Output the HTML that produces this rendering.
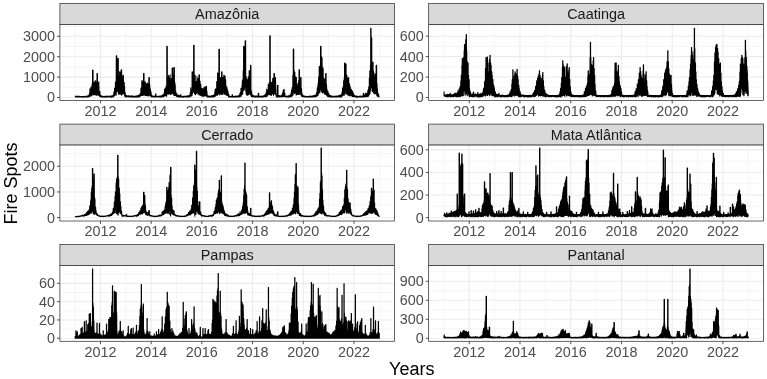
<!DOCTYPE html>
<html lang="pt"><head><meta charset="utf-8"><title>Fire Spots</title>
<style>
html,body{margin:0;padding:0;background:#fff}
body{width:767px;height:379px;overflow:hidden}
svg{display:block;font-family:"Liberation Sans",sans-serif}
</style></head><body>
<svg width="767" height="379" viewBox="0 0 767 379">
<rect width="767" height="379" fill="#fff"/>
<g>
<path d="M59.9 87.3H394.55M59.9 66.9H394.55M59.9 46.5H394.55M59.9 26.1H394.55M75.11 24.4V100.45M125.82 24.4V100.45M176.52 24.4V100.45M227.23 24.4V100.45M277.93 24.4V100.45M328.63 24.4V100.45M379.34 24.4V100.45" stroke="#ebebeb" stroke-width="0.55" fill="none"/>
<path d="M59.9 97.5H394.55M59.9 77.1H394.55M59.9 56.7H394.55M59.9 36.3H394.55M100.46 24.4V100.45M151.17 24.4V100.45M201.87 24.4V100.45M252.58 24.4V100.45M303.28 24.4V100.45M353.99 24.4V100.45" stroke="#ebebeb" stroke-width="1.05" fill="none"/>
<path d="M75.11 96.96l.07-.14 .07-.39 .07-.04 .07-.01 .07-.02 .07-.09 .07 .01 .07 0 .07 .18 .07 .54 .07-.72 .07 .38 .07-.23 .07-.14 .07 .1 .07 .69 .07-.7 .07 .12 .07-.17 .07 .09 .07 .42 .07 .23 .07-.54 .07 .19 .07 .07 .07-.37 .07 .01 .07 .19 .07-.29 .07 .66 .07-.57 .07 .57 .07-.55 .07 .64 .07-.59 .07 .42 .07-.35 .07-.22 .07 .2 .07 .08 .07-.06 .07-.21 .07 .31 .07 .26 .07-.54 .07 .69 .07-.65 .07 .05 .07-.1 .07 .11 .07 .21 .07 .16 .07-.25 .07 .11 .07-.04 .07-.08 .07-.13 .07-.07 .07 .04 .07-.04 .07 .16 .07 .44 .07-.59 .07 .68 .07-.5 .07-.18 .07 .05 .07 .27 .07-.16 .07-.12 .07-.02 .07 0 .07 .22 .07-.05 .07-.16 .07 0 .07 .43 .07-.37 .07 .53 .07 0 .07-.29 .07-.29 .07 .16 .07-.16 .07 .1 .07 .26 .07-.34 .07 .25 .07-.26 .07 .52 .07-.46 .07 .21 .07-.13 .07 .28 .07-.4 .07 .5 .07-.5 .07 .59 .07-.3 .07-.28 .05 0 .02 .07 .07 .59 .07-.43 .07 .34 .07-.38 .07-.15 .07-.02 .07-.04 .07 .06 .07 .14 .07-.06 .07 .54 .07-.58 .07-.07 .07-.05 .07 .1 .07-.04 .07 .59 .07-.66 .07 .61 .07-.36 .07-.26 .07 .15 .07 .22 .07 .05 .07-.43 .07 .04 .07 .34 .07-.1 .07 0 .07-.24 .07 .14 .07-.18 .07 .48 .07-.42 .07 .13 .07-.13 .07-.09 .07 .14 .07 .52 .07-.1 .07-.41 .07-.15 .07-.02 .07 .12 .07 .1 .07-.05 .07 .47 .07-.38 .07 .01 .07 .01 .07 .37 .07-.13 .07 .02 .07-.44 .07-.13 .07 .04 .07 .4 .07-.45 .07 .02 .07 .27 .07-.13 .07-.01 .07 .4 .07 .07 .07-.5 .07 .51 .07 .07 .07-.65 .07 .1 .07-.18 .07 .39 .07-.22 .07-.05 .07 .07 .07-.21 .07 .22 .07 .55 .07-.71 .07-.07 0 .54 .07-.32 .07-.2 .07 .33 .07-.29 .07-.03 .07 .63 .07-.64 .07 .58 .07-.72 .07 .4 .07-.91 .07 1.28 .07-1.41 .07 1.29 .07-1.37 .05-.09 .02 1.17 .07-.88 .07 1.04 .07-1.4 .07 1.18 .07-1.99 .07 1.57 .07-.5 .07 .75 .07-2.96 .07 2.72 .07-3.32 .07 3.62 .07-2 .07 1.62 .07-4 .04-3.23 .03 6.45 .07-3.74 .07 3.68 .07-4.51 .07 5.59 .07-2.64 .07 2.5 .07-2 .07 1.58 .07-3.1 .07 2.54 .07-5.56 .07 6.47 .07-4.12 .07 3.95 .07-5.33 .03-3.8 .04 9.37 .07-2.3 .07 .57 .07-.79 .07 .82 .07-2.27 .07 2.25 .07-4.71 .07 4.31 .07-2.35 .07 2.42 .07-4.85 .07 3.76 .07-2.95 .07 5.24 .07-8.8 .02-2.89 .05 10.98 .07-3.44 .07 3.26 .07-8.53 .07 7.23 .07-7.32 .01-15.59 .06 18.97 .07-8.01 .07 9.52 .07-13.46 .07 16.99 .07-12.21 .07 12.29 .02-24.09 .05 21.67 .07 2.18 .07-9.43 .07 10.33 .07-5.93 .07 2.59 .02-9.21 .05 6.23 .07 5.91 .07-8.42 .07 7.77 .07-7.05 .07 6.18 .07-8.38 .07 9.48 .07-5.97 .07 4.07 .07-6.35 .07 7.93 .06-11.74 .01 6.19 .07 4.42 .07-7.74 .07 9.87 .07-8.38 .07 7.81 .07-7.64 .07 5.5 .07-8.1 .07 8.48 .07-5.98 .07 7.97 .07-8.08 .01-5.54 .06 12.2 .07-2.27 .07 .5 .07-7.23 .07 8.7 .07-7.94 .07 5.88 .02-9.84 .05 6.33 .07 6.98 .07-8.82 .07 6.87 .07-4.93 .07 8.22 .07-10.68 .07 6.89 .07-3.21 .07 6.5 .07-7.75 .07 6.49 .04-11.33 .03 7.93 .07 4.59 .07-6.66 .07 4.17 .07-2.93 .07 4.17 .04-20.14 .03 5.31 .07 11.8 .07-10.98 .07 9.38 .07-6.82 .07 10.01 .07-16.62 .05-2.08 .02 18.84 .07-1.94 .07 2.24 .07-7.37 .07 9.4 .07-10.26 .04-2.04 .03 13.05 .07-6.27 .07 5.21 .07-7.32 .07 4.46 .07-4.56 .07 4.89 .07-2.28 .07 5.59 .07-7.2 .07 6.28 .07-7.45 .07 7.18 .02-12.03 .05 8.28 .07 4.88 .07-8.46 .07 8.67 .07-3.03 .07 3.53 .07-4.46 .07 4.04 .07-2.94 .07 2.12 .07-1.1 .07 2.87 .07-3.89 .07 3.54 .07-2.64 .07 2.36 .01-4.02 .06 3.58 .07 1.02 .07-2.42 .07 2.74 .07-.92 .07 .79 .07-1.07 .07 .7 .07-.17 .07 .5 .07-.63 .07 1.05 .07-.78 .07 .54 .07-.92 .06-.02 .01 1.38 .07-.61 .07 .24 .07-.37 .07 .41 .07-.54 .07 .12 .07-.23 .07 .96 .07-.45 .07 .41 .07-.31 .07-.23 .07-.1 .07 .4 .07-.36 .07 .72 .07-.91 .07 .84 .07-.38 .07 .23 .07-.37 .07 .06 .07 .05 .07 .03 .07-.26 .07 .4 .07-.33 .07 .78 .07-.4 .07-.33 .07 .3 .04-.26 .03 .32 .07 .15 .07 .06 .07-.54 .07 .21 .07-.05 .07-.18 .07 .24 .07 .28 .07-.53 .07 .34 .07-.25 .07 .46 .07-.33 .07 .03 .07-.27 .07 .01 .07-.01 .07-.01 .07-.01 .07 .59 .07-.04 .07-.21 .07-.08 .07 .44 .07-.72 .07 .54 .07-.41 .07-.05 .07-.1 .07 .41 .07-.42 .07 .6 .07-.6 .07-.01 .07 .17 .07 .61 .07-.62 .07-.17 .07 .12 .07 .31 .07-.32 .07 .73 .07-.62 .07-.17 .07 .12 .07 .32 .07-.41 .07-.12 .07 .25 .07 .12 .07-.36 .07 .6 .07-.23 .07-.21 .07 .1 .07 .47 .07-.77 .07 .18 .07 .18 .07 .23 .07-.25 .07-.25 .07 .44 .07 .24 .07-.41 .07 .17 .07-.15 .07 .41 .07-.81 .07 .63 .07-.65 .07 .37 .07-.04 .07 .15 .07-.35 .07 .32 .07 .09 .07-.44 .07-.06 .07 .1 .07 .2 .07 .17 .07-.55 .07 .51 .07-.1 .07-.03 .07-.1 .07 .32 .07 .01 .07-.26 .07-.3 .07 .63 .07-.38 .07-.01 .07-.05 .07 .08 .07-.2 .07 .78 .07-.58 .07 .49 .07-.67 .07 .04 .07 .04 .07 .16 .07-.31 .07 .16 .07 .01 .07 .75 .07-.57 .07 .03 .03-.59 .04 .36 .07 .17 .07-.27 .07-.07 .07-.07 .07 .8 .07-.5 .07 .69 .07-.88 .07 .39 .07-.75 .07 1.13 .07-1.03 .07 .78 .07-.97 .07 1.03 .07-.65 .07 .68 .07-.51 .07 .54 .07-.69 .07 .52 .07-1.07 .07 .88 .07-.39 .07 .66 .07-.32 .07-.01 .07-.86 .07 1.06 .07-.2 .07 .52 0-1.57 .07 .76 .07 .11 .07-1.42 .07 1.47 .07-.6 .07 .26 .07-1.89 .07 2.08 .07-3.62 .07 3.74 .07-3.7 .07 3.7 .07-3.37 .07 1.82 .07-3.5 .07 3.35 .07-1.44 .07 1.13 .07-3.38 0-2.77 .07 7.22 .07-3.64 .07 2.26 .07-2.18 .07 3.14 .07-6.35 .07 6.42 .07-5.55 .07 5.08 .07-7.27 .07 7.26 .07-5.42 .05-7.11 .02 9.72 .07-2.8 .07 3.32 .07-4.54 .07 5.59 .07-5.63 .07 4.64 .07-6.09 .07 8.2 .07-7.22 .07 8.03 .07-5.06 .07-34.49 0 28.89 .07-18.9 .07 17.64 .07-20.26 .07 17.65 .07-6.93 .07 13.75 .07-13.87 .01-17.97 .06 34.23 .07-16.18 .07 11.74 .07-12.25 .07 18.53 .07-14.33 0-16.64 .07 25.93 .07-20.73 .07 25.07 .07-24.68 .07 20.21 .07-6.77 .07 7.76 .07-10.18 .07 5.38 .01-24.21 .06 11.05 .07 19.14 .07-12.51 .07 14.83 .07-14.32 .07 9.71 .07-15.48 .02-12.42 .05 35.26 .07-11.6 .07 10.91 .07-3.74 .07 1.68 .07-10.81 .07 13.97 .07-7.62 .07 4.19 .03-14.51 .04 5.03 .07 9.75 .07-6.4 .07 9.82 .07-15.87 .07 12.87 .07-11.46 .07 9.42 .07-5.7 .03-11.89 .04 15.55 .07-8.62 .07 10.63 .07-7.44 .07 8.89 .07-12.32 .07 13.93 .04-20.62 .03 15.66 .07 5.44 .07-8.07 .07 4.37 .07-2.45 .07 3.29 .07-2.03 .07 4.37 .07-9.17 .05-5.87 .02 16.99 .07-6.77 .07 5.45 .07-10.75 .07 9.5 .07-10.33 .05-11.85 .02 20.18 .07-13.29 .07 8.88 .07-9.6 .07 12.33 .07-6.34 .07 8.91 .06-21.07 .01 11.32 .07 14.23 .07-9.18 .07 4.81 .07-1.35 .07 .64 .07-7.34 .07 7.56 .07-5.91 .06-7.02 .01 16.73 .07-12.37 .07 10.71 .07-9.65 .07 9.5 .07-5.2 .07 5.28 .07-9.56 .07 8.13 .07-15.79 0 5.28 .07 12.84 .07-12.41 .07 9.87 .07-3.74 .07 1.63 .07-8.31 .07 11.37 .01-16.53 .06 11.63 .07 6.15 .07-6.33 .07 5.32 .07-4.33 .07 5.95 .07-6.52 .07 5.75 .07-9.1 .07 10.58 .07-9.43 .07 8.53 .03-10.88 .04 6.03 .07 6.22 .07-4.97 .07 4.47 .07-7.75 .07 9.09 .07-4.36 .07 4.97 .07-2.26 .07 2.42 .07-2.63 .07 2.95 .07-4.26 .07 3.16 .07-.31 .07 1.01 .01-2.26 .06 1.62 .07 1.29 .07-.86 .07 .72 .07-.7 .07 .68 .07-.89 .07 .64 .07-.88 .07 .82 .07-.97 .07 1.11 .07-1.19 .07 1.4 .07-.53 .07-.04 0-.67 .07 .18 .07 1.1 .07-1.14 .07 .97 .07-.77 .07 .41 .07-.17 .07 .51 .07-.87 .07 .89 .07-.46 .07 .08 .07 .1 .07 .39 .07-.7 .07 .22 .07 .15 .07 .2 .07 .01 .07-.03 .07-.27 .07 .21 .07-.61 .07 .51 .07-.59 .07 .38 .07-.07 .07 .62 .07-.67 .07 .39 .07-.52 .07 .43 .07-.67 .07 1.12 .07-1.13 .07 1.21 .07-.78 .07 .33 .07-.04 .07-.22 .07 .03 .07 .42 .07-.13 .07-.07 .07-.48 .07 .57 .07-.04 .07-.31 .07 .46 .07-.5 .07-.03 .07 .65 .07-.33 .07 .48 .07-1.06 .07 .38 .07-.19 .07 .07 .07 .12 .07 .49 .07-.41 .07 .64 .07-.96 .07 .77 .07-.57 .07 0 .07-.26 .07 .37 .07-.07 .07 .34 .07-.61 .07 1.01 .07-1 .07 .57 .07-.03 .07 .35 .07-.89 .07 .43 .07-.28 .07 .66 .07-.47 .07 .53 .07-.12 .07-.52 .07-.21 .07 .96 .07-.28 .07 0 .07-.35 .07 .32 .07-.12 .07 .07 .07-.34 .07 .42 .07-.58 .07 .7 .07-.09 .07 .11 .07-.61 .07 .51 .07-.63 .07 .33 .07-.03 .07 .49 .07-.76 .07 .93 .07-.48 .07 .19 .07-.24 .07 .31 .07-.65 .07 .54 .07-.38 .07 .17 .07-.16 .07 .45 .07-.18 .07-.42 .07 .04 .07 .29 .07-.34 .07 .14 .07 .27 .07-.33 .07 .2 .07 .44 .05-.74 .02-.01 .07 .78 .07-.41 .07 .27 .07-.57 .07 .59 .07-.53 .07 .73 .07-.54 .07 .31 .07-.77 .07 .95 .07-.57 .07-.04 .07-.38 .07 .47 .07-.24 .07 .47 .07-.14 .07 .21 .07-.55 .07 .6 .07-1 .07 .92 .07-.37 .07 .19 .07-.3 .07 .69 .07-.73 .07 0 .07-.15 .07 .5 .07-.98 .07 1 .07-.45 .07 .85 .07-1.55 .07 1.6 .07-.98 .07 .55 .07-1.23 .07 1.33 .07-.46 .07-.09 .07-.95 .07 1.24 .07-.7 .07 .95 .01-1.62 .06 1.03 .07 .62 .07-1.55 .07 1.22 .07-.61 .07 .76 .07-1.1 .07 .86 .07-1.43 .07 1.74 .07-1.25 .07 1 .07-.51 .07 .86 .07-.84 .07 .8 0-2.04 .07 .42 .07 1.48 .07-1.68 .07 1.46 .07-2.68 .07 2.57 .07-2.8 .07 1.79 .07-.76 .07 .88 .07-2.19 .07 1.82 .07-2.06 .07 1.87 .07-2.61 .06-4.16 .01 7.17 .07-4.77 .07 4.41 .07-4.58 .07 4.7 .07-2.61 .07 2.29 .07-.6 .07 .77 .07-2.52 .07 3.17 .07-4.94 .07 1.73 .01-11.54 .06 6.18 .07 5.71 .07-3.95 .07 5.64 .07-8.37 .07 6.98 .07-4.7 .02-7.49 .05 12.14 .07-3.05 .07 5.61 .07-8.3 .07 6.3 .07-4.97 .07 6.03 .07-9.11 .07 6.68 .02-9.77 .05 5.3 .07 4.72 .07-2.68 .07 5.11 .07-7.37 .07 7.81 .07-6.52 .07 6.18 .07-8.37 .03-13.05 .04 17.07 .07-5.59 .07 7.1 .07-11.4 .07 12.49 .07-12.19 .07 9.45 .04-16.93 .03 14.88 .07 3 .07-5.51 .07 9.29 .07-7.07 .07 6.44 .07-9.54 .07 6.48 .07-4.97 .05-4.13 .02 10.72 .07-8.12 .07 9.79 .07-4.77 .07 2.63 .07-4.13 .07 6.94 .07-5.17 .07 4.66 .07-9.54 .01-3.46 .06 12.99 .07-8 .07 7.39 .07-2.53 .07 .89 .07-3.89 .07 6.95 .07-7.35 .07 4.59 .07-3.05 .07 4.16 .07-4.77 .07 3.17 .07-4.27 .07 5.23 .07-9.73 0 2.03 .07 9.88 .07-3.92 .07 2.11 .07-8.2 .07 9.62 .07-7.74 .07 7.88 .07-7 .07 5.1 .07-5.22 .07 5.47 .07-3.67 .07 3.44 .07-1.84 .07 4.21 .06-12.82 .01 7.84 .07 2.64 .07-7.19 .07 7.27 .07-7.12 .07 6.18 .07-5.37 .07 7.93 .07-3.25 .07 2.78 .07-3.01 .07 1.65 .07-5.26 .04-4.42 .03 12.29 .07-6.99 .07 4.13 .07-2.95 .07 3.69 .07-4.14 .03-12.24 .04 17.14 .07-10.46 .07 10.38 .07-8.15 .07 5.87 .07-2.51 .07 1.67 .04-13.94 .03 15.95 .07-.12 .07-5.1 .07 7.04 .07-6.95 .07 7.52 .04-11.03 .03 2.8 .07 6.91 .07-4.47 .07 4.45 .07-4.77 .07 5.87 .07-6 .07 5.8 .07-3.02 .07-3.36 0 6.97 .07-2.89 .07 2.94 .07-4.33 .07 3.9 .07-4.35 .07 3.91 .07-2.75 .07 3.14 .07-3.23 .07 3.99 .07-2.62 .07 2.34 .07-.64 .07 .93 .07-1.52 .07 1.51 .07-1.08 .07 1.87 .07-1.92 .07 1.6 .07-.63 .07 .72 .01-.86 .06 .4 .07 .09 .07-.09 .07 .08 .07-.2 .07 .6 .07-.6 .07 .59 .07-.5 .07 .62 .07-.27 .07 .37 .07-.8 .07 .58 .07-.44 .07 .19 .07-.4 .07 .59 .07-.61 .07 .48 .07 .09 .07-.04 .07-.09 .07 .12 .07-.31 .07 .17 .07-.23 .07 .63 .07-.4 .07 .41 .07-.45 .06-.26 .01 .19 .07-.17 .07 .29 .07-.27 .07 .15 .07-.14 .07 .77 .07-.73 .07 .62 .07-.49 .07 .08 .07-.22 .07 .61 .07-.59 .07-.1 .07 .08 .07 .64 .07-.65 .07 .73 .03-3.02 .04 1.09 .07 1.71 .07-1.65 .07 1.82 .07-2.47 .07 1.92 .07-1.32 .04-1.1 .03 2.81 .07-.27 .07 .49 .07-.59 .07 .09 .07-.01 .07 .02 .07 .14 .07-.24 .05 0 .02 0 .07 .35 .07-.37 .07 0 .07 .01 .07 0 .07 .06 .07 .21 .07-.11 .07-.22 .07 .02 .07 .38 .07-.35 .07 .53 .07-.37 .07 .05 .07 .04 .07-.12 .07-.24 .07 .45 .07-.33 .07 .01 .07-.02 .07-.06 .07-.03 .07 .25 .07-.06 .07-.27 .07 .27 .07-.3 .07 .04 .07 .4 .07-.35 .07 .15 .07-.18 .07 .64 .07-.61 .07 .02 .07-.17 .07 .5 .07-.21 .07 .48 .07-.25 .07-.5 .07 .16 .07 .49 .07-.63 .07 .41 .07 .05 .07 .27 .07-.75 .07 .95 .07-.63 .07-.32 .07 .19 .07-.14 .07-.15 .07 .55 .07-.11 .07 .51 .06-1.03 .01 .25 .07-.01 .07-.02 .07 .31 .07-.67 .07 .98 .07-1.06 .07 .56 .07-.25 .07 .7 .07-.93 .07 .77 .07-.57 .07 .6 .07-.14 .07 .35 .07-.51 .07 .43 .07-.98 .07 .45 .07-.89 .07 1.11 .07-1.29 .07 1.5 .07-1.6 .07 1.31 .07-.35 .07 .24 .07-.89 .07 .78 .07-.11 .07 .3 .03-1.57 .04 .46 .07 .96 .07-.71 .07 1.06 .07-1.19 .07 1.38 .07-2.32 .07 2.23 .07-2.2 .07 2.2 .07-2.53 .07 1.98 .07-1.42 .07 1.3 .07-2.87 .07 2.63 .07-3.36 .07 2.45 .07-1.75 .07 1.58 .07-4.57 .07 5.52 .05-6.61 .02 1.9 .07 3.22 .07-2.99 .07 3.63 .07-3.54 .07 4.73 .07-4.78 .07 4.75 .07-3.9 .07 3.39 .07-6.85 .07 6.9 .07-4.6 .07 2.94 .07-3.51 .07 4.71 .07-3.58 .07 3.49 .07-4.51 .05-3.84 .02 8.89 .07-6.21 .07 4.85 .07-.57 .07 .67 .07-1.57 .07 3.27 .07-3.9 .07 2.27 .07-1.07 .07 3.06 .07-4.57 .06-45.35 .01 40.71 .07-17.16 .07 19.5 .07-32.33 .07 30.7 .07-34.28 .07 34.11 .07-27.16 0-14.09 .07 47.49 .07-12.24 .07 11.17 .07-6.19 .07 6.97 .07-16.17 0 10.21 .07 6.24 .07-8.67 .07 5.94 .07-3.78 .07 5.5 .07-11.13 .07 9.17 .07-7.6 .07 6.68 .07-6.31 .07 9.49 .07-7.01 .04-10.9 .03 17.62 .07-5.45 .07 6.84 .07-12.15 .07 8.03 .07-9.81 .07 12.57 .07-7.83 .07 2.9 .07-5.07 .07 8.8 .07-13.25 .07 15.26 .07-16.49 .07 15.61 .07-5.23 .07 1.95 .07-2.47 .07 2.6 .07-11.21 .07 11.97 .07-8.05 .06-7.63 .01 16.98 .07-9.5 .07 10.68 .07-12.28 .07 10.37 .07-8.21 .07 11.59 .07-5.89 .07 4.78 .07-7.37 .07 7.9 .07-5.37 .07 5.07 .07-7.58 .07 6.86 .07-9.49 .04-4.77 .03 15.69 .07-7.99 .07 7.21 .07-11.19 .07 10.65 .07-6.57 .07 4.82 .07-9 .07 8.76 .07-8.49 .07 8.01 .07-7.93 .06-14.39 .01 25.21 .07-21.48 .07 16.13 .07-4 .07 8.74 .07-15.69 .07 15.75 .07-22.44 0-2.22 .07 25.26 .07-5.82 .07 1.5 .07-5.28 .07 8.22 .07-10.61 .07 6.99 .07-2.29 .07 6.58 .01-17.46 .06 8.01 .07 11.88 .07-11.47 .07 8.13 .07-2.04 .07 2.62 .07-5.3 .07 3.01 .07-10.96 .02-11.63 .05 24.35 .07-17.55 .07 12.17 .07-10.2 .07 16.81 .07-9.85 .07 8.15 .03-23.88 .04 20.51 .07 7.49 .07-9.18 .07 5.92 .07-4.75 .07 6.96 .02-12.33 .05 8.7 .07 4.78 .07-4.66 .07 1.81 .07-3.14 .07 5.78 .04-10.94 .03 4.33 .07 6.72 .07-4.2 .07 3.31 .07-3.08 .07 4.11 .07-4.7 .07 3.77 .07-2.33 .07 2.65 .07-1.35 .07 2.12 .07-2.66 .07 2.21 .07-1.92 .07 2.94 .07-1.68 .07 1.3 .07-1.4 .07 1.28 .07-1.23 .07 1.76 .07-1.11 .07 1.34 .07-1.03 .07-1.73 0 2.57 .07-.95 .07 .82 .07-.71 .07 .91 .07-.69 .07 .95 .07-1.5 .07 1.44 .07-1.06 .07 .81 .07-.52 .07 .5 .07-.67 .07 .84 .07-1.24 .07 1.74 .07-1.8 .07 1.51 .07-1.4 .07 1.21 .07-.49 .07 .65 .01-1.15 .06 .7 .07 .56 .07-1.19 .07 .94 .07-.84 .07 .49 .07 .03 .07 .47 .07-.91 .07 1.23 .07-.88 .07 .69 .07-.69 .07 .29 .07-.6 .07 1.02 .07-1.16 .07 .51 .07-.12 .07 .41 .07-.4 .07 .18 .07-.15 .07 .24 .07 .23 .07-.13 .07-.07 .07 .67 .02-2.4 .05 1.66 .07 .36 .07-.76 .07 .63 .07-.71 .07 .5 .07-.26 .03-1.42 .04 1.77 .07 .14 .07 .14 .07-.23 .07-.05 .07 .25 .07 .34 .07-.33 .07-.2 .07 .31 .07-.37 .07 .17 .04-.17 .03 0 .07 .42 .07-.14 .07-.3 .07 .03 .07 .02 .07 .09 .07-.16 .07-.01 .07 .11 .07 0 .07 .16 .07-.29 .07 .33 .07 .38 .07-.66 .07-.07 .07 .47 .07-.48 .07 .21 .07-.04 .07 .02 .07 .05 .07 .18 .07 .31 .07-.56 .07 .19 .07-.23 .07-.14 .07-.03 .07 .24 .07 .35 .07-.46 .07-.01 .07 .24 .07 .21 .07-.53 .07 .22 .07-.33 .07 .25 .07 .15 .07-.39 .07-.04 .07 .03 .07 .24 .07-.04 .07-.15 .07-.1 .07 .27 .07-.1 .07 .26 .07-.04 .07-.02 .07-.22 .07-.13 .07 .05 .07 0 .07 .3 .07 .46 .07-.75 .07 .3 .07-.2 .07-.2 .07 .48 .07 .23 .07-.31 .07-.2 .07-.08 .07-.03 .07-.18 .07 .43 .07 .29 .07 .08 .07-.74 .07 .2 .07-.04 .07 .77 .07-.62 .07 .27 .05-.71 .02 .49 .07-.05 .07-.46 .07 .68 .07-.6 .07 .4 .07-.45 .07 .41 .07-.36 .07 .56 .07-.85 .07 .41 .07 .15 .07 .51 .07-1.09 .07 1.04 .07-.62 .07 .38 .07-.37 .07 .75 .07-1.26 .07 .84 .07-.9 .07 1.18 .07-1 .07 .68 .07-.12 .07 .04 .07-.98 .07 1.26 .07-.41 .07 .24 .03-1.48 .04 1.06 .07 .1 .07-.21 .07 .46 .07-1.9 .07 2.29 .07-2.97 .07 2.27 .07-1.84 .07 1.55 .07-4.46 .07 4.66 .07-2.53 .07 2.15 .07-3.49 .07 3.32 .02-7.79 .05 5.67 .07 .58 .07-1.01 .07 1.64 .07-4.03 .07 3.51 .07-3.3 .07 3.43 .07-4.36 .07 5.84 .07-2.95 .07 3.16 .07-5.29 .07 5.05 .07-5.29 .07 3.99 .07-2.56 .07 4.02 .06-23.95 .01 6.09 .07 10.81 .07-10.49 .07 12.89 .07-10.53 .07 13.2 .07-15.18 .07-6.79 0 20.74 .07-7.12 .07 7.1 .07-5.8 .07 3.29 .07-8.6 .07 7.52 .07-6.72 .07 6.53 .07-10.97 .01-3.76 .06 16.57 .07-4.69 .07 4.26 .07-7.23 .07 9.11 .07-28.79 0-18.04 .07 42.59 .07-21.17 .07 14.83 .07-27.29 .07 34.64 .07-10.25 .07 9.79 .01-43.14 .06 36.63 .07 9.55 .07-3.05 .07 3.64 .07-4.44 .07 6.06 .01-18.47 .06 9.22 .07 4.99 .07-10.05 .07 13.1 .07-5.24 .07 6.32 .07-4.5 .07 2.61 .07-8.85 .04-7.49 .03 14.58 .07-6.42 .07 11.17 .07-10.57 .07 7.78 .07-6.74 .07 9.2 .07-4.55 .07 2.89 .07-8.53 .07 7.12 .07-3.32 .07 2.76 .07-9.17 .07 11.61 .07-9.68 .07 9.96 .07-11.84 .07 9.38 .07-7.15 .07 9 .07-11.08 .07 9.94 .07-10.56 .07 11.78 .07-16.45 0 11.2 .07 5.27 .07-10.32 .07 10.2 .07-10.43 .07 8.03 .07-4.57 .07 6.46 .07-5.91 .07 3.25 .07-1.73 .07 2.9 .07-3.72 .07 4.88 .07-8.8 .07 7.38 .05-11.98 .02 8.26 .07 7.83 .07-6.85 .07 5.82 .07-10.72 .07 10.48 .07-4.63 .07 4.35 .07-3.65 .07 1.97 .07-5.67 .07 5.64 .07-6 0-10.6 .07 17.55 .07-8.68 .07 6.53 .07-2.85 .07 5.56 .07-13.21 .07 11.68 .01-16.58 .06 7.85 .07 12.47 .07-10.69 .07 10.69 .07-10.19 .07 7.93 .07-5.09 .07 4.41 .07-6.15 .02-4.65 .05 12.92 .07-7.37 .07 4.97 .07-7 .07 9.04 .07-3.75 .07 5.19 .07-7.91 .07 4.53 .05-7.56 .02 3.51 .07 5.37 .07-6.9 .07 9.16 .07-7.88 .07 7.39 .07-5.84 .07 5.33 .07-2.35 .07 2.21 .07-4.24 .07 5.51 .07-3.7 .07 3.52 .07-6.62 .07 7.06 .04-7.47 .03 .77 .07 5.74 .07-3.62 .07 3.83 .07-2.02 .07 2.04 .07-1.73 .07 .82 .07-2.27 .07 2.61 .07-3.62 .07 3.85 .07-1.61 .07 3.07 .07-5.43 .07 4.08 .03-6.47 .04 4.45 .07 1.75 .07-2.19 .07 3.85 .07-5.63 .07 5.25 .07-3 .07 3.23 .07-3.01 .07 2.09 .07-5 .07 5.22 .07-5.61 .07 5.88 .07-2.01 .07 .92 .02-7.96 .05 5.72 .07 2.57 .07-4.93 .07 2.87 .07-3.56 .07 6.18 .07-5.45 .07 3.52 .07-2.64 .07 3.74 .07-1.7 .07 2.08 .07-3.25 .07 4.16 .07-5.52 .07 4.29 .01-7.42 .06 2.33 .07 5.9 .07-5.75 .07 4.86 .07-2.67 .07 4 .07-7.29 .07 5.41 .07-5.52 .07 6.14 .07-3.08 .07 2.78 .02-8.22 .05 3.11 .07 4.32 .07-1.87 .07 3.09 .07-6.23 .07 6.63 .07-6.39 .03-2.66 .04 9.42 .07-1.63 .07 1.43 .07-1.29 .07 1.25 .07-1.2 .03-3.1 .04 5.34 .07-2.04 .07 1.92 .07-1.75 .07 1.99 .07-.57 .05-.46 .02 1.3 .07-.73 .07 .61 .07-.66 .07 .42 .07-.15 .07 .49 .07-.75 .07 .7 .07-.63 .07 .42 .07-.36 .07 .69 .07-.38 .07 .28 .07-.85 .07 1 .07-.62 .07-.05 .07-.25 .07 .97 .07-.82 .07 .7 .07-.79 .07 .17 .07-.13 .07 .34 .07-.13 .07-.07 .07-.09 .07 .69 .07-.48 .03-.17 .04 .59 .07-.46 .07 .58 .07-.21 .07 .14 .07-.32 .07 .56 .07-.41 .07 .14 .07-.6 .07 .65 .07-.52 .07 .24 .07-.49 .07 .49 .07-.2 .07 .25 .07-.39 .07 .6 .07-.68 .07 .12 .07-.31 .07 .81 .07-.74 .07 .12 .07 .03 .07 .61 .07-.87 .07 .21 .07-.18 .07 .32 .07 .01 .07 .57 .07-1.07 .07 .86 .07-.87 .07 1.08 .07-.68 .07 .74 .07-.96 .07 .45 .04-.74 .03 .81 .07-.25 .07-.07 .07 .45 .07-1.02 .07 .97 .07-.2 .07 .17 .07-.45 .07 .44 .07-1.02 .07 .65 .07-.45 .07 .68 .07-1.23 .07 1.4 .07-1.4 .07 1.73 .07-.98 .07 .82 .07-1.46 .07 1.55 .05-2.03 .02 .88 .07 .75 .07-.71 .07 .84 .07-1.97 .07 1.98 .07-1.53 .07 1.39 .07-2.26 .07 2.25 .07-4.13 .07 3.74 .07-4.77 .07 3.4 .07-3.62 .07 4.91 .04-6.71 .03 3.2 .07 3.21 .07-6.69 .07 6.5 .07-6.65 .07 5.38 .07-3.57 .07 5.38 .07-3.73 .07 2.43 .07-3.3 .07 3.94 .07-3.01 .07 .96 .07-2.48 .07 2.29 .07-2.32 .07 1.94 .07-4.09 .07 5.71 .07-4.47 .07 5.08 .05-13.47 .02 5.97 .07 3.76 .07-3.31 .07 2.88 .07-5.53 .07 7.34 .07-10.59 .07 8.8 .07-5.19 .07 9.64 .07-6.28 .07 6.15 .07-22.17 0 11.04 .07 5.48 .07-11.62 .07 11.39 .07-.07 .07 1.66 .07-9.76 .07 9.61 .01-17.73 .06 11.87 .07 6.7 .07-11.03 .07 11.61 .07-7.92 .07 5.24 0-13.15 .07 4.92 .07 12.8 .07-10.29 .07 10.56 .07-9.61 .07-35.42 0 30.82 .07-17.02 .07 22.56 .07-30.47 .07 27.5 .07-10.88 .07 15.08 .07-21.41 .01-16.18 .06 41.33 .07-.59 .07 3.17 .07-12.26 .07 10.76 .07-8.16 0-6.1 .07 17.52 .07-9.63 .07 8.13 .07-11.23 .07 7.84 .07-6.43 .07 9.81 .07-13.77 .07 11.83 .07-6.56 .07 6.28 .07-6.57 .05-7.22 .02 15.54 .07-4.15 .07 4.89 .07-7.53 .07 7.69 .07-11.58 .07 9.55 .07-6.37 .07 7.41 .07-3.85 .07 4.96 .07-4.72 .07-17.38 0 18.1 .07-7.36 .07 10.95 .07-13.75 .07 14.71 .07-10.92 .07 10.53 .07-5.72 .01-16.54 .06 22.69 .07-8.64 .07 6.55 .07-10.3 .07 10.7 .07-5.4 .07 6.91 .07-10.87 .07 8.83 .07-2.76 .07-.04 .07-7.08 .03-5.05 .04 15.12 .07-10.27 .07 7.45 .07-2.94 .07 3.15 .07-7.08 .07 7.27 .07-11.23 .07 12.2 .07-3.45 .07 5.31 .07-8.19 .05-9.56 .02 17.68 .07-9.69 .07 10.79 .07-6.36 .07 6.28 .07-9.65 .07 5.03 .06-14.08 .01 9.12 .07 9.11 .07-12.51 .07 9.97 .07-6.63 .07 6.51 .07-7.4 .07 8.02 .07-8.63 .07 11.27 .07-14.84 .07 11.97 .07-9.43 0-5.42 .07 18.19 .07-10.71 .07 6.89 .07-8.81 .07 11.91 .07-9.18 .07 5.1 .07-10.04 .07 10.35 .07-1.46 .07 4.56 .07-7.67 .07 9.6 .07-4.25 .07 2.91 .07-1.95 .07 2.22 .07-6.31 .07 5.46 .07-5.57 .07 6.18 .07-3.27 .07 4.22 .07-7.75 .07 6.3 .07-4.46 .07 6.51 .07-7.14 .07 6.36 .07-3.86 .07 4.88 .07-5.62 .07 5.31 .07-2.93 .07 1.48 .07-1.22 .07 2.8 .07-2.73 .07 1.31 .07-3 .07 3.95 .07-2.66 .07 3.06 .07-.94 .07 1.72 .07-2.27 .07 3 .07-1.81 .07 1.94 .07-2.85 .07 2.03 .07-1.87 .07 1.99 .07-1.5 .07 1.65 .07-.75 .07 .66 .07-.55 .07 .92 .07-.65 .07 .3 .04 .19 .03 0 .07 0 .07 .42 .07-.42 .07 0 .07 .29 .07-.13 .07-.04 .07-.06 .07 .22 .07-.18 .07 .29 .07-.37 .07 .11 .07 .11 .07-.24 .07 .2 .07-.2 .07 0 .07 .06 .07 .04 .07 .48 .07-.58 .07 .05 .07-.05 .07 .6 .07-.34 .07-.22 .07 .2 .07-.24 .07 .06 .07 .04 .07 .3 .07-.29 .07 .21 .07-.32 .07 .48 .07-.18 .01-2.07 .06 .82 .07 1.32 .07-1.03 .07 .93 .07-.98 .07 1.05 .07-1.14 .02-.97 .05 1.88 .07 .19 .07 .26 .07-.42 .07-.1 .07 .44 .02-.48 .05 .55 .07-.18 .07 0 .07-.4 .07 .19 .07-.2 .07 .26 .07 .23 .07 .16 .07-.6 .07 .24 .07 .15 .07-.44 .07 .44 .07-.13 .07-.36 .07 .21 .07 .01 .07 .13 .07-.09 .07 .15 .07-.46 .07 .13 .07-.14 .07-.03 .07-.01 .07 .53 .07 .02 .07 .33 .07-.78 .07 .38 .07-.41 .07 .65 .07-.6 .07-.19 .07 .04 .07 .19 .07 .1 .07 .09 .07-.35 .07 .78 .07-.38 .07 .37 .07-.47 .07 .2 .07-.01 .07-.38 .07-.06 .07 .41 .07-.51 .07 .71 .07-.2 .07-.38 .07-.13 .07 .32 .07-.35 .07 .09 .07 .31 .07-.36 .07-.15 .03-.06 .04 .92 .07-.81 .07 .36 .07 .17 .07 .1 .07-.29 .07 .22 .07-.56 .07 .42 .07-.4 .07 .55 .07-.47 .07 .17 .07-.26 .07 .65 .07-1.12 .07 .74 .07-.3 .07 .71 .07-1.35 .07 1.37 .07-.42 .07 .51 .07-1.06 .07 .58 .07-1.03 .07 .78 .07-.06 .07 .56 .07-1.39 .07 1.51 .07-1.04 .01-.85 .06 1.56 .07-.52 .07 .29 .07-1.94 .07 1.91 .07-2.56 .07 1.92 .07-2.53 .07 3.56 .07-3.5 .07 2.85 .07-3.01 .07 2.47 .07-2.35 .07 2.21 .07-3.22 .07 2.82 .07-2.09 .07 1.86 .07-2.38 .07 3.72 .07-3.65 .02-4.2 .05 6.58 .07-.94 .07 2.34 .07-6.59 .07 4.15 .07-4.06 .07 3.12 .07-4.49 .07 6.71 .07-6.14 .07 3.68 .07-.91 .07 1.94 .07-4.09 .07 2.26 .07-6.5 .07 8.82 .07-6.27 .07 6.2 .02-13.24 .05 5.24 .07 6.37 .07-5.64 .07 4.45 .07-8.21 .07 11.29 .07-9.35 .07 4.52 .07-10.33 .07 11.73 .07-9.23 .07 8.49 .06-19.3 .01 10.12 .07 9.8 .07-4.95 .07 3.71 .07-13.72 .07 12.77 .06-42.11 .01 6.75 .07 35.47 .07-25.74 .07 22.01 .07-34.8 .07 27.55 .07-18.82 .07-12.42 0 41.8 .07-29 .07 26.53 .07-16.2 .07 20.52 .07-25.48 .06-11.52 .01 28.34 .07-5.76 .07 8.82 .07-25.54 .07 25.61 .07-11.78 .07 14.13 .07-18.82 .07 14.96 .07-42.15 0 24.3 .07 14.93 .07-25.24 .07 25.81 .07-17.63 .07 19.8 .07-13.85 .07 19.16 .01-47.28 .06 38.98 .07 11.09 .07-13.63 .07 14.8 .07-7.08 .07 7.58 .01-16.39 .06 5.41 .07 12.65 .07-7.24 .07 5.69 .07-13.09 .07 14.4 .03-16.16 .04 5.33 .07 9.13 .07-8.42 .07 9.9 .07-3.99 .07 5.46 .07-11 .07 7.11 .07-6.67 .07 7.41 .07-5.77 .07 5.99 .07-7.21 .01-5.49 .06 15.59 .07-9.5 .07 6.82 .07-5.64 .07 7.53 .07-6.42 .07 5.34 .07-6.36 .07 4.22 .07-5.4 .07 6.69 .07-6.35 .05-9.29 .02 17.89 .07-7.92 .07 7.96 .07-12.07 .07 12.06 .07-5.37 .07 2.53 .07-7.93 .07 6.41 .07-7.34 .07 9.93 .07-9.1 .07-13.15 0 19.34 .07-8.22 .07 9.9 .07-14.78 .07 16.44 .07-17.13 .07 12.66 .07-4.7 .01-13.51 .06 23.35 .07-9.7 .07 5.85 .07-8.84 .07 11.51 .07-12.35 .01-5.39 .06 18.33 .07-10.74 .07 11.44 .07-9.56 .07 7.87 .07-27.31 0 7.97 .07 15.07 .07-7.33 .07 6.13 .07-3.27 .07 5.64 .07-11.49 .01-12.72 .06 30.54 .07-4.13 .07 3.68 .06-5.74 .01 2.93 .07 3.42 .07-2.21 .07 2.67 .07-3.71 .07 2.72 .07-.74 .02-3.06 .05 4.35 .07-1.18 .07 1.01 .07-1.4 .07 1.71 .07-.71 .07 .37 .07-1.49 .07 2.56 .07-1.23 .07 .93 .07-.33 .07 .5 .07-1.17 .07 1.01 .07-.86 .01-.08 .06 .8 .07-.42 .07 .82 .07-.66 .07 .64 .07-.53 .07 .41 .07-.89 .07 .72 .07-.2 .07 .31 .07-.88 .07 1.19 .07-1.11 .07 .67 .07 .24 .07-.28 .07 .01 .07 .41 .07-.79 .07 .55 .07-.08 .07 .26 .07-.27 .07 .51 .07-.77 .07 .67 .07-.68 .07 .25 .07-.44 .07 .43 .07 .07 .07-.04 .07 .03 .07-.1 .07-.18 .07 .85 .07-.76 .07 .08 .07-.25 .07 .09 .07 .16 .07 .21 .07-.26 .07 .06 .07-.04 .07 .61 .07-.83 .07 .3 .07-.25 .07 .76 .07-.31 .07 .07 .07-.65 .07 .68 .07-.42 .07 .4 .07-.4 .07 .32 .07-.28 .07 .36 .07-.5 .07 .81 .07-.59 .07-.2 .07 .06 .07 .65 .07-.57 .07 .71 .07-.9 .07 .69 .07-.65 .06-.01 .01 0 .07 .35 .07 .36 .07-.37 .07 .37 .07-.37 .06-3.22 .01 3.47 .07-1.2 .07 .67 .07-.99 .07 1.17 .07-1.41 .07 1.32 .07-3.03 0 1.98 .07 1.62 .07-.56 .07 .62 .07-.7 .07 .27 .06-.35 .01 .05 .07 .65 .07-.47 .07 .28 .07-.53 .07 .79 .07-.56 .07 .11 .07-.01 .07 .22 .07-.47 .07 .24 .07-.22 .07 .51 .07-.37 .07 .21 .07-.07 .07 .34 .07-.5 .07 .37 .07-.25 .07-.12 .07-.1 .07 .58 .07-.57 .07-.01 .07-.09 .07 .12 .07-.09 .07 .85 .07-.85 .07 .27 .07-.11 .07-.19 .07 .27 .07-.31 .07-.1 .07 .11 .07 .09 .07 .7 .07-.88 .07 .42 .07-.23 .07 .43 .07-.29 .07 .46 .07-.67 .07 .62 .07-.6 .07 .25 .07-.15 .04-.35 .03 .58 .07-.11 .07-.29 .07 .49 .07-.28 .07-.17 .07 .65 .07-.6 .07 .55 .07-.53 .07 .14 .07-.27 .07 .45 .07-.66 .07 .71 .07-1.18 .07 1.11 .07-.4 .07 .46 .07-.84 .07 .95 .07-.75 .07 .75 .07-1.15 .07 .82 .07-.64 .07 .73 .07-.24 .07 .09 .07-.58 .07 .77 .07-.73 .02-1.03 .05 1.56 .07-.95 .07 .81 .07-1.8 .07 1.87 .07-1.22 .07 1.07 .07-2.15 .07 2.27 .07-1.51 .07 1.72 .07-2.19 .07 2.32 .07-3.1 .07 2.17 .07-2.14 .07 1.94 .07-1.34 .07 1.55 .07-3.74 .07 3.86 .07-3.4 .07 3.06 .07-3.69 .07 4.67 .04-7.54 .03 3.36 .07 2.53 .07-2.63 .07 3.58 .07-3.54 .07 4.1 .07-4.58 .07 3.1 .07-3.41 .07 2.71 .07-1.26 .07 1.45 .07-4.16 .07 5.09 .07-3.52 .07 2.21 .07-2.85 .07 3.72 .07-3.3 .07 2.94 .07-4.76 .07 4.39 .05-9.49 .02 6.98 .07 .4 .07-1.89 .07 2.96 .07-7.11 .07 5.56 .07-6.6 .07 9.07 .07-6.76 .07 6.76 .07-4.31 .07 5.12 .07-8.07 .03-3.92 .04 10.53 .07-4.99 .07 5.21 .07-3.79 .07 4.61 .07-6.6 .07 5.95 .07-6.56 .07 5.29 .03-56.71 .04 28.95 .07 7.91 .07-10.1 .07 9.6 .07-25.47 .07 28.16 .07-9.31 .04-29.74 .03 57.35 .07-4.67 .07 6.31 .07-8.94 .07 9.16 .07-8.95 .04-4.16 .03 13.24 .07-9.47 .07 6.78 .07-7.1 .07 6.61 .07-7.3 .06-2.43 .01 10.04 .07-3.75 .07 7.06 .07-7.57 .07 7.4 .07-7.66 .07 4.84 .07-7.72 .07 7.63 .07-5.15 .07 6.71 .07-5.31 .07 3.83 .04-10.23 .03 6.81 .07 4.03 .07-8.12 .07 8.78 .07-5.99 .07 5.4 .07-7.56 .07 7.84 .07-6.24 .07 4.3 0-12.91 .07 5.45 .07 7.87 .07-3.46 .07 5.39 .07-6.22 .07 3.31 .07-6.48 .07 7.91 .07-7.86 .07 7.15 .07-2.87 .07 6.35 .05-17.36 .02 6.23 .07 8.74 .07-3.29 .07 2.74 .07-4 .07 5.05 .04-19.86 .03 10.01 .07 10.47 .07-13.87 .07 11.76 .07-5.81 .07 6.91 .07-9.63 .05-9.84 .02 18.62 .07-9.06 .07 6.57 .07-1.13 .07 1 .07-2.2 .05-9.81 .02 15.66 .07-10.49 .07 7.54 .07-2.75 .07 6.62 .07-6.77 .07 3.14 .07-7.89 .07 6.98 .07-5.57 .01-6.47 .06 14.49 .07-9.24 .07 10.13 .07-7.14 .07 9.34 .07-2.12 .04-3.27 .03 5.76 .07-.6 .07 1.44 .07-2.89 .07 2.7 .07-.54 .06 .11 .01 .64 .07-.17 .07 .85 .07-.6 .07 .41 .07-1.06 .07 .97 .07-.85 .07 1.19 .07-1.19 .03-.19 .04 .72 .07-.52 .07 1.12 .07-1.12 .07 1.04 .07-2.63 .02-9.02 .05 9.54 .07-7.34 .07 7.8 .07-4.59 .07 3.13 .07-3.02 .03-5.52 .04 11.2 .07-.18 .07 .44 .07-.35 .01-.7 .06 1.04 .07-.47 .07 .71 .07-.64 .07 .33 .07-.47 .04-.5 .03 1.25 .07-.67 .07 .57 .07-.81 .07 .94 .07-.88 .07 .95 .07-1.1 .07 .47 .07 .31 .07 .13 .07-.96 .07 1.24 .07-.98 .07 .83 .07-.82 .07 .73 .07-1.01 .07 .81 .07-.96 .07 .89 .07 .07 .07-.22 .07-.55 .07 .88 .07-.32 .07 .24 .07-.08 .07 .14 .07-.24 .07 .26 .07-.23 .07 .06 .07-.47 .07 .26 .07 .09 .07 .42 .07-.45 .07-.1 .07 .12 .07 .39 .05-1.2 .02 .6 .07 .75 .07-1.68 .07 1.12 .07-.05 .07 .02 .07-1.06 .07 1.1 .07-1.45 .07 1.07 .07-1.78 .07 2.38 .07-2.84 .07 2.32 .07-2.77 .07 3.27 .07-1.69 .07 1.62 .07-2.89 .07 2.93 .07-2.83 .07 2.94 .06-5.84 .01 .77 .07 3.96 .07-3.43 .07 3.85 .07-4.08 .07 3.13 .07-2.58 .07 4.1 .07-3.11 .07-3.83 0 5.67 .07-1.56 .07 1.23 .07-3.33 .07 3.6 .07-2.79 .07 2.57 .07-2.77 .01-2.62 .06 6.92 .07-1.53 .07 1.56 .07-2.26 .07 1.78 .07-.66 .07 .91 .07-.81 .07 .7 .01-2.95 .06 2.27 .07 1.04 .07-.96 .07 .82 .07-.43 .07 .64 .04-.61 .03 .28 .07 .5 .07-.23 .07-.2 .07 .03 .07 .42 .07-.4 .07 .58 .07-.4 .07 .3 .07-.11 .07 .04 .07-.59 .07 .65 .07-.62 .07 .7 .07-.81 .07 .35 .07 .18 .07 .05 .07-.68 .07 .5 .07-.29 .07 .09 .07-.05 .07 .35 .07-.21 .07 .47 .07-.54 .07 .29 .07-.11 .07 .32 .07-.15 .07-.37 .07-.23 .07 .11 .07 .02 .07 .61 .07-.74 .07 .13 .07 .05 .05-.29 .02 .39 .07-.33 .07 1 .07-.98 .07 .98 .07-1.18 .07 .34 .07-.16 .07 .53 .07-.72 .07 .76 .07-.86 .07 .55 .07-.52 .07 .68 .07-.77 .07 .58 .07-.72 .07 1.19 .07-1.13 .07 1.04 .07-.73 .07 .7 .07-.68 .07 .35 .07-.25 .07 .35 .07-.68 .07 .71 .07-1.04 .07 1.48 .07-.66 .02-1.53 .05 1.57 .07-.7 .07 .98 .07-.81 .07 .66 .07-2.07 .07 2.03 .07-2.55 .07 2.29 .07-3.15 .07 3.42 .07-2.56 .07 2.75 .07-2.78 .07 1.49 .07-2.18 .01-3.18 .06 5.63 .07-2.68 .07 2.16 .07-1.76 .07 1.9 .07-3.31 .07 4.36 .07-6.05 .07 4.89 .05-7.47 .02 2.15 .07 5.71 .07-3.9 .07 1.07 .07-2.56 .07 4.12 .07-6.73 .07 4.69 .07-6.8 .07 5.64 .01-15.62 .06 11.83 .07 6.81 .07-9.57 .07 10.51 .07-9.9 .07 2.36 .01-38.37 .06 14.38 .07 26.62 .07-14.58 .07 14.56 .07-25.47 .07 19.49 .07-19.74 .02-15.26 .05 43.27 .07-13.31 .07 8.96 .07-15.64 .07 18.92 .07-9.98 .01-10.77 .06 18.35 .07-13.32 .07 17.64 .07-21.05 .07 17.94 .07-6.56 .07 6.88 .07-7.58 .07 10.97 .05-21.56 .02 9.7 .07 6.55 .07-.93 .07 2.2 .07-7.57 .07 7.26 .07-4.82 .07 5.14 .07-7 .07 7.58 .07-9.58 .07 11.6 .07-3.97 .02-11.62 .05 15.76 .07-7.95 .07 7.99 .07-7.4 .07 7.7 .07-5 .07 7.25 .07-7.52 .07 4.93 .06-14.98 .01 6.17 .07 10.28 .07-5.04 .07 5.02 .07-7.55 .07 7.83 .07-9.1 .07 7.8 .07-3.62 .07 4.9 .02-10.71 .05 4.81 .07 6.1 .07-5.73 .07 5 .07-5.69 .07 5.39 .07-4.96 .07 4.88 .07-5.48 .06-1.55 .01 7.36 .07-4.01 .07 4.59 .07-2.85 .07 2.79 .07-3.85 .07 2.44 .07-6.54 .07 6.83 .07-9.81 .07 11.16 .07-6.71 .07 5.2 .04-12.25 .03 2.96 .07 8.56 .07-2.04 .07 2.48 .07-8.74 .07 9.39 .03-23.58 .04 11.44 .07 8.93 .07-14.58 .07 15.05 .07-8.73 .07 7.32 .07-11.5 .04-7.93 .03 22.31 .07-3.68 .07 6.23 .07-9.43 .07 9.44 .07-8.13 .04-7.87 .03 15.05 .07-8.86 .07 7.06 .07-5.06 .07 3.6 .07-8.67 .07 9.07 .07-4.79 .07 5.51 .04-14.02 .03 6.77 .07 6.66 .07-7.25 .07 5.79 .07-10.12 .07 13.95 .07-10.94 .05-4.86 .02 17.64 .07-4.12 .07 4.57 .07-5.06 .07 5.62 .07-5.68 .05-2 .02 7.07 .07-5.46 .07 5.23 .07-1.95 .07 2.83 .07-3.33 .07 2.96 .07-2.16 .07 2.7 .07-.32 .01-2.47 .06 2.93 .07-1.14 .07 .93 .07-1.73 .07 1.95 .07-1.89 .07 1.81 .07-.67 .07 .84 .07-1.16 .07 .88 .07 .08 .06-.73 .01 1.22 .07-.43 .07 .25 .07-.89 .07 .6 .07-.28 .07 .39 .07-.66 .07 .71 .07 .01 .07 .23 .07-.61 .07 .66 .07-.5 .07 .6 .07-.64 .07 .56 .07-.14 .07 .1 .07-.74 .07 .76 .07-.3 .07-.27 .07 .16 .07 .42 .07-.25 .07-.2 .07 .31 .07-.39 .07 .21 .07 .02 .07 .01 .07 .47 .07-.65 .07-.09 .07 .03 .07 .19 .07-.17 .07 .65 .07-.69 .07 .04 .07-.05 .07 .14 .07-.11 .07 .65 .07-.44 .07 .61 .07-.48 .07 .29 .07-.4 .07 .17 .07 .07 .07-.33 .07 .05 .07 .22 .07 .23 .07 .13 .06-.56 .01 0 .07 .27 .07-.21 .07-.08 .07 .31 .07-.16 .07-.15 .07 .57 .07-.6 .07 .32 .07-.23 .07 .11 .07-.14 .07 .5 .07-.32 .07 .2 .07-.45 .07 .67 .07-.53 .07 .32 .07-.27 .07 .42 .07-.19 .07 .17 .07-.44 .07-.23 .07 .13 .07 .4 .07-.54 .07 .63 .07-.39 .07-.26 .07 .59 .07-.32 .07-.13 .07 0 .07-.03 .07-.13 .07 .39 .07 .35 .07-.55 .07 .23 .07-.17 .07-.09 .07 .01 .07 .15 .07-.3 .07 .43 .07 .18 .07-.13 .07-.49 .07 .77 .07-.49 .07-.32 .07 .37 .07-.28 .07-.15 .07 .66 .07-.58 .07 .8 .07-.53 .07-.23 .07 .24 .07-.01 .07-.02 .07 .03 .07-.21 .07 .21 .07 .2 .07-.08 .07 .05 .07 .3 .07-.35 .07-.44 .07 .16 .07 .26 .07-.36 .07-.01 .07 .07 .07-.32 0 .32 .07 .28 .07 .31 .07-.61 .07 .23 .07-.64 .07 .45 .07-.48 .07 .53 .07-.16 .07 .06 .07 0 .07 .35 .07-.69 .07 .8 .07-1.02 .07 1.19 .07-1.51 .07 1.45 .07-.86 .07 .59 .07-.6 .07 .55 .07-.22 .07 .38 .07-1.06 .07 .79 .07-1.28 .07 1.28 .07-.91 .07 .76 .07 .05 .07-.05 .07-.42 .07 .77 .07-.98 .07 .68 .07-.38 .07 .42 .07-.22 .07 .26 .07-.22 .07 .56 .07-1.5 .07 1.23 .07-.55 .07 .77 .07-1.57 .03-.91 .04 2.31 .07-2.27 .07 1.98 .07-2.33 .07 2.56 .07-2.17 .07 1.6 .07-1.81 .07 1.99 .07-2.95 .07 3.04 .07-3.83 .07 2.67 .07-.55 .07 1.07 .07-2.06 .07 2.41 .07-4.75 .07 4.61 .03-7.83 .04 5.64 .07 1.51 .07-7.13 .07 6.97 .07-7.18 .07 6.17 .07-7.12 .07 6.65 .07-7.25 .07 8.97 .07-9.31 .07 6.8 .07-8 .01-1.27 .06 11.58 .07-12.19 .07 10.13 .07-6.89 .07 7.41 .07-13.31 .07 11.92 .07-15.19 .07 15.25 .07-15.1 .07 15.89 .07-14.02 .07 9.59 .07-10.36 .07 10.75 .07-22.3 0 9.91 .07 16.14 .07-9.8 .07 5.34 .07-5.32 .07 7.59 .07-19.23 .07 16.1 .07-13.71 .07 19.19 .07-17.2 .07 14.09 .07-12.51 .04-11.26 .03 23.64 .07-8.81 .07 7.39 .07-17.16 .07 16.62 .07-9.42 .04-31.76 .03 42.85 .07-28.07 .07 17.63 .07-12.73 .07 16.83 .07-25.32 .07 24.04 .05-35.23 .02 13.2 .07 29.87 .07-17.67 .07 19.51 .07-26.15 .07 19.32 .04-28.33 .03 21.56 .07 12.34 .07-17.72 .07 19.16 .07-24.01 .07 22.08 .07-23.16 .07 20.98 .07-17.61 .07 22.59 .01-34.66 .06 21.4 .07 7.38 .07-1.27 .07 3.26 .07-4.73 .07 9.32 .07-10.21 .07 9.1 .07-18.64 .04-6.08 .03 24.06 .07-7.16 .07 6.33 .07-15.85 .07 16.19 .07-10.9 .07-11.11 0 23.62 .07-15.38 .07 15.69 .07-10.34 .07 10.21 .07-13.32 .07 9.69 .07-3.72 .07 5.66 .07-6.03 .07 5.87 .07-2.37 .07 3.08 .04-13.13 .03 11.02 .07 3.48 .07-6.36 .07 6.53 .07-9.15 .07 9.19 .07-7.73 .07 5.9 .07-6.98 .07 8.16 .01-12.73 .06 7.39 .07 7.43 .07-10.3 .07 6.7 .07-7.81 .07 10.97 .07-11.87 .07 12.07 .07-7.54 .07 7.38 .07-5.41 .07 2.12 .03-17.34 .04 10.55 .07 8.55 .07-13.17 .07 11.95 .07-10.88 .07 10.81 .07-6.1 .04-11.71 .03 21.09 .07-5.86 .07 5.01 .07-3.65 .07 3.08 .07-4.82 .03-4.37 .04 10.89 .07-7.45 .07 6.02 .07-2.19 .07 4.54 .07-3.79 .06-2.87 .01 5.68 .07-3.6 .07 4.47 .07-4.36 .07 4.58 .07-4.17 .07 3.78 .07-3.42 .07 2.87 .07-.49 .07 2.06 .07-2.75 .07 1.42 .03-4.19 .04 2.34 .07 2.97 .07-2.11 .07 2.34 .07-2.21 .07 2.46 .07-1.42 .07 1 .07-2.5 .07 1.93 .07-2.19 .07 2.9 .07-1.89 .01-1.4 .06 3.22 .07-1.87 .07 1.93 .07-1.68 .07 1.8 .07-1.37 .07 1.41 .07-.33 .07 .36 .07-.97 .07 .91 .07-1.2 .07 1.47 .07-.76 .07 .35 .07-.1 .07 .25 .07-1.18 .07 1.11 .07-.05 .07 .08 .07-.86 .02-.09 .05 1.29 .07-1.2 .07 1.2 .07-.65 .07 .64 .07-.32 .07 .23 .07-.37 .07 .45 .07-.53 .07 .44 .07-.87 .07 1 .07-.48 .07-.12 .07-.11 .07 .63 .07-.77 .07 .89 .07-.85 .07 .54 .07-.46 .07 .23 .07 .25 .07-.11 .07-.33 .07 .33 .07 .13 .07-.32 .07 .26 .07-.19 .07 .07 .07 .65 .07-.74 .07-.11 .07 .61 .07-.49 .07 .04 .07-.08 .07-.02 .07 .25 .07-.15 .07-.06 .07 .07 .07 .04 .07-.05 .07 .34 .05-.31 .02 0 .07 .21 .07-.11 .07 .36 .07-.49 .07 .64 .07-.49 .07 .19 .07-.31 .07-.06 .07 .41 .07 .25 .07-.64 .07-.05 .07 .27 .07-.01 .07-.28 .07 .44 .07-.23 .07 .31 .07-.55 .07 .71 .07-.39 .07 .34 .07-.42 .07-.28 .07 .03 .07 .53 .07-.29 .07-.21 .07 .16 .07-.26 .07 .62 .07-.55 .07-.08 .07 .71 .07-.39 .07 .3 .07-.39 .07-.06 .07-.13 .07 .01 .07 .43 .07-.12 .07-.27 .07 .53 .07-.71 .07 .36 .07-.18 .07 .2 .07-.32 .07 .01 .07 .33 .07 .49 .07-.93 .07 .69 .07-.42 .07-.12 .07 .3 .07-.37 .07 .37 .07-.36 .07-.12 .07 .71 .01-.76 .06 .26 .07 .35 .07-.19 .07 .08 .07-.19 .07 .33 .07-.81 .07 .86 .07-.98 .07 .56 .07-.29 .07 .84 .07-1.12 .07 .97 .07-.77 .07 1.02 .07-1.34 .07 1.1 .07-.74 .07 .96 .07-1.4 .07 1.19 .07-.99 .07 .52 .07-.27 .07 .56 .07-1.45 .07 1.92 .07-2.02 .07 1.72 .07-.26 .07 .02 .07-1.1 .07 1.59 .07-.92 .07 .54 .07-.99 .07 1.08 .07-.77 .07 .63 .07-.99 .07 1.25 .07-1.72 .07 1.54 .07-1.36 .07 1.56 .07-1.3 .04-1.26 .03 2.04 .07-1.2 .07 1.87 .07-2.99 .07 1.67 .07-1.41 .07 1.49 .07-2.19 .07 2.13 .07-3.63 .07 3.79 .07-2.3 .07 1.56 .07-1.35 .07 1.52 .07-6.25 .03-.84 .04 7.92 .07-5.23 .07 4.18 .07-1.87 .07 1.81 .07-5.02 .07 4.53 .07-7.21 .07 7.99 .07-7.5 .07 4.5 .07-5.91 .07 7.8 .07-4.63 .07 1.57 .07-1.65 .02-8.71 .05 10.55 .07-4.76 .07 8.53 .07-9.8 .07 7.48 .07-4.85 .07 3.44 .07-4.2 .07 8.19 .05-17.49 .02 7.14 .07 6.42 .07-10.63 .07 9.81 .04-27.56 .03 11.37 .07 17.85 .07-17.39 .07 13.5 .07-20.22 .07 19.77 .05-24.88 .02 12.73 .07 15.49 .07-10.44 .07 11.07 .07-8.59 .07 10.66 .04-27.59 .03 10.99 .07 11.51 .07-5.37 .07 5.05 .03-24.4 .04 5.02 .07 20.43 .07-18.62 .07 13.53 .07-5.29 .07 8.79 .04-23.86 .03 21.41 .07 2.74 .07-2.69 .07 3.95 .07-11.49 .07 14.01 .03-16.96 .04 2.58 .07 16.33 .07-12.52 .07 8.39 .07-12.09 .07 13.44 .05-15.91 .02 7.53 .07 11.2 .07-8.62 .07 6.03 .07-2.78 .07 1.75 .07-10.44 .07 9.72 .07-3.27 .07 6.73 .07-6.12 .07 5.18 .07-7.93 .03-5.76 .04 15.79 .07-6.95 .07 7.87 .07-10.53 .07 8.56 .07-4.49 .03-11.36 .04 16.57 .07-11.72 .07 9.6 .07-4.93 .07 3.5 .07-4.65 .07 6.73 .04-15.1 .03 12.94 .07 4.65 .07-4.62 .07 4.96 .07-9.78 .07 9.11 .07-8 .07 6.12 .07-2.26 .04-7.03 .03 11.57 .07-8.75 .07 6.06 .07-7.51 .07 10.95 .07-4.39 .07 4.64 .07-7.14 .07 6.73 .07-4.85 .07 3.9 .07-2.87 .07 3.26 .02-8.49 .05 1.57 .07 6.94 .07-3.42 .07 1.54 .07-3.88 .07 4.2 .07-3.9 .07 4.77 .07-5.26 .07 5.63 .07-1.8 .07 1.85 .07-4.82 .07 4.19 .07-2.02 .07 1.97 .01-4.97 .06 1.14 .07 4.81 .07-1.77 .07 2.27 .07-2.29 .07 2.11 .07-4.41 .07 5.04 .07-2.38 .07 2 .07-3.05 .07 2.54 .07-3.36 .07 3.48 .07-1.99 .06-2.45 .01 5.53 .07-1.77 .07 .96 .07-.78 .07 1.57 .07-4.23 .07 4.06 .07-3.18 .07 3.51 .07-2.54 .07 1.69 .07-2.63 .07 2.95 .07-1.09 .07 1.32 .07-1.24 .05-1.39 .02 2.59 .07-1.07 .07 1.53 .07-1.75 .07 1.46 .07-1.29 .07 1.29 .07-1.34 .07 1.51 .07-.36 .07 .38 .07-1.12 .07 1.1 .07-.18 .07 .36 .07-.5 .04-.66 .03 .74 .07-.5 .07 .59 .07-.75 .07 .97 .07-.86 .07 1.12 .07-.63 .07 .54 .07-.18 .07 .22 .07-.46 .07 .24 .07-.12 .07 .21 .07-.5 .07 .32 .07-.26 .07 .41 .07-.5 .07 .51 .07-.65 .07 1.06 .07-.79 .07 .23 .07-.26 .07-.05 .07-.12 .07 .3 .07 .4 .07 .35 .07-.34 .07-.18 .07-.28 .07 .1 .07 .24 .07 .07 .07-.37 .07 .01 .07 .04 .07-.11 .07 .05 .07 .69 .07-.42 .07-.25 .07 .32 .07-.03 .07-.23 .01 0 .06-.01 .07-.01 .07 .68 .07-.7 .07-.01 .07 .26 .07-.16 .07-.01 .07-.12 .07-.01 .07 .64 .07-.4 .07-.14 .07-.14 .07 .18 .07-.09 .07 .03 .07-.09 .07 .14 .07-.18 .07-.05 .07 .38 .07 .21 .07-.37 .07-.1 .07-.16 .07 .36 .07-.16 .07-.07 .07 .04 .07-.14 .07 .01 .07 .47 .07-.42 .07 .3 .07-.3 .07 .65 .07-.78 .07 .35 .07-.38 .07 .74 .07-.79 .07 .14 .07 .31 .07-.1 .07-.14 .07 .2 .04-.5 .03 .5 .07 .17 .07-.56 .07 1 .07-.36 .07-.01 .07-.27 .07 .18 .07-.17 .07-.05 .07 .1 .07 .12 .07-.39 .07 .01 .07-.23 .07 1 .07-.78 .07 .56 .07-.59 .07 .72 .07-.47 .07 .31 .07-.44 .07 .3 .07-.54 .07 .61 .07-.53 .07 .75 .05-3.6 .02 1.16 .07 1.76 .07-1.16 .07 .93 .07-1.8 .07 1.88 .07-1.39 .06-1.38 .01 3.31 .07-1.15 .07 .78 .07-.24 .07 .37 .07-.2 .07 .17 .07-.44 .07 .88 .07-.89 .07 .98 .07-1.05 .07 .96 0-2.15 .07 1.55 .07 .58 .07-.88 .07 .45 .07-1.26 .07 1.77 .07-1.44 .07 1.22 .07-1.45 .07 1.03 .07-1.44 .07 1.68 .07-1.06 .07 .9 .07-1.21 .06-2.22 .01 3.47 .07-.86 .07 .39 .07-1.57 .07 1.5 .07-1.66 .07 2.28 .07-2.76 .07 2.45 .07-1.41 .07 1.4 .07-1.71 .07 1.33 .07-1.45 .07 1.53 .07-1.26 .05-1.22 .02 3.25 .07-2.68 .07 2.45 .07-2.56 .07 2.69 .07-1.38 .07 .59 .07-.97 .07 .74 .07-2.07 .07 3.11 .07-2.19 .07 1.36 .07-5.01 .07 3.76 .07-2.72 .04-1.81 .03 6.03 .07-5.83 .07 5.85 .07-3.65 .07 2.66 .07-5.64 .07 6.81 .07-3.1 .07 .98 .07-3.15 0-3.73 .07 6.76 .07-2.31 .07 3.49 .07-4.71 .07 4.35 .07-8.56 .07 7.83 .07-7.32 .07 7.98 .04-16.37 .03 3.62 .07 12.46 .07-14.58 .07 13.58 .07-16.52 .07 15.11 .06-20.99 .01 3.3 .07 18.09 .07-15.08 .07 11.92 .07-8.52 .07 12.55 .07-17.45 .07 16.29 .07-12.76 .07 10.05 .03-24.69 .04 17.45 .07 8.02 .07-19.03 .07 11.38 .01-54.3 .06 25.11 .07 20.13 .07-15.46 .07 12.22 .07-23.48 .02-18.52 .05 58.85 .07-41.9 .07 34.9 .07-24.25 0-18.94 .07 36.22 .07-14.81 .07 29.26 .07-27.8 .07 27.94 .07-13.87 .03-35.84 .04 46.55 .07-10.96 .07 11.29 .07-12.92 .07 19.02 .07-18.18 .05-10.87 .02 24.85 .07-6.06 .07 8.67 .07-14.46 .07 16.5 .07-7.74 .07-1 .07-9.08 .07 11.09 .07-4.42 .07 2.05 .07-7.64 .07 14.79 .03-27.32 .04 18.8 .07 11.19 .07-17.33 .07 11.2 .07-15.18 .07 17.16 .07-6.36 .07 9.58 .07-10.23 .07 11.57 .07-10.92 .07 10.8 .07-8.54 0-10.99 .07 20.56 .07-6.92 .07 7.16 .07-12.43 .07 12.48 .07-10.89 .07 10.27 .07-8.8 .07 6.08 .04-15.19 .03 11.71 .07 1.24 .07-1.32 .07 1.25 .07-6.15 .07 11.91 .07-15.82 .07 15.74 .07-8.96 .07 8.01 .07-11.1 .07 8.54 .07-10.97 .02-5.52 .05 16.52 .07-3.66 .07 3.88 .07-9.48 .07 12.8 .07-8.37 .07 2.51 .07-8.62 .07 14.15 .02-28.26 .05 17.42 .07 7.25 .07-5.98 .07 4.58 .07-5.55 .07 9.98 .07-9.77 .03-17.93 .04 28.11 .07-2.63 .07 5.02 .07-4.31 .07 1.93 .07-4.65 .03-5.19 .04 11.67 .07-7.04 .07 7.84 .07-6.89 .07 5.84 .07-2.7 .05-3.06 .02 6.67 .07-3.29 .07 3.16 .07-1.01 .07 .8 .07-2.64 .07 2.46 .07-1.55 .07 2.8 .07-2.85 .07 2.56 .07-1.52 .07 1.45 .03-2.34 .04 2.05 .07 .56 .07-.52 .07 .66 .07-.48 .07 .76 .07-.92 .07 .63 .07-.88 .06 .09 .01 .45 .07-.15 .07 .42 .07-.06 .07 .16" stroke="#000" stroke-width="1.05" fill="none" stroke-linejoin="round"/>
<rect x="59.9" y="24.4" width="334.65" height="76.05" fill="none" stroke="#333" stroke-width="0.75"/>
<rect x="59.9" y="3.55" width="334.65" height="20.85" fill="#d9d9d9" stroke="#333" stroke-width="0.75"/>
<text x="227.22" y="19.05" text-anchor="middle" font-size="14.45" fill="#1a1a1a">Amazônia</text>
<path d="M57 97.5H59.9M57 77.1H59.9M57 56.7H59.9M57 36.3H59.9M100.46 100.45V103.35M151.17 100.45V103.35M201.87 100.45V103.35M252.58 100.45V103.35M303.28 100.45V103.35M353.99 100.45V103.35" stroke="#444" stroke-width="0.95" fill="none"/>
<text x="54.9" y="102.4" text-anchor="end" font-size="14.4" fill="#4d4d4d">0</text>
<text x="54.9" y="82" text-anchor="end" font-size="14.4" fill="#4d4d4d">1000</text>
<text x="54.9" y="61.6" text-anchor="end" font-size="14.4" fill="#4d4d4d">2000</text>
<text x="54.9" y="41.2" text-anchor="end" font-size="14.4" fill="#4d4d4d">3000</text>
<text x="100.46" y="115.8" text-anchor="middle" font-size="14.4" fill="#4d4d4d">2012</text>
<text x="151.17" y="115.8" text-anchor="middle" font-size="14.4" fill="#4d4d4d">2014</text>
<text x="201.87" y="115.8" text-anchor="middle" font-size="14.4" fill="#4d4d4d">2016</text>
<text x="252.58" y="115.8" text-anchor="middle" font-size="14.4" fill="#4d4d4d">2018</text>
<text x="303.28" y="115.8" text-anchor="middle" font-size="14.4" fill="#4d4d4d">2020</text>
<text x="353.99" y="115.8" text-anchor="middle" font-size="14.4" fill="#4d4d4d">2022</text>
</g>
<g>
<path d="M428.65 87.28H763.55M428.65 66.83H763.55M428.65 46.38H763.55M428.65 25.93H763.55M443.87 24.4V100.45M494.62 24.4V100.45M545.36 24.4V100.45M596.1 24.4V100.45M646.84 24.4V100.45M697.58 24.4V100.45M748.33 24.4V100.45" stroke="#ebebeb" stroke-width="0.55" fill="none"/>
<path d="M428.65 97.5H763.55M428.65 77.05H763.55M428.65 56.6H763.55M428.65 36.15H763.55M469.24 24.4V100.45M519.99 24.4V100.45M570.73 24.4V100.45M621.47 24.4V100.45M672.21 24.4V100.45M722.96 24.4V100.45" stroke="#ebebeb" stroke-width="1.05" fill="none"/>
<path d="M443.87 95.59l.07-.33 .07 .48 .07-3.91 0 1.11 .07 2.63 .07-.25 .07 .56 .07 .07 .07-.27 .07-.28 .07 .31 .05-1 .02 .24 .07 1.35 .07-.56 .07 .36 .07-1.35 .07 1.47 .07-.86 .07 .5 .07-.55 .07 .08 .07-.18 .07 1.27 .07-.73 .07 .68 .07-.4 .07-.32 .07-.69 .07 .94 .07-.77 .07 .47 .07-.84 .07 .69 .07-.03 .07 1.16 .07-1.21 .07 .53 .07-.75 .07 .74 .07-.44 .07 .67 .07-.45 .07-.03 .07-1.06 .07 1.87 .07-1.83 .07 1.22 .07-1.36 .07 1.28 .07-.92 .07 1.77 .07-1.3 .07 1.44 .07-2.16 .07 1.53 .07-1.23 .07 1.04 .07-.29 .07 .74 .02-2.18 .05 .58 .07 2.02 .07-1.1 .07 .05 .07-.19 .07 .2 .07-.98 .07 1.15 .07-.61 .07 .35 .07-.62 .07 .95 .07-1.41 .07 1.63 .07-1.51 .07 1.43 .07-1.69 .07 1.55 .07-.12 .07 .61 .07-2.08 .07 1.2 .07 .49 .07-.41 .07-.36 .07 .32 .07-1.14 .07 1.77 .07-.63 .07 .32 .01-2.65 .06 .78 .07 1.37 .07-.61 .04-1.54 .03 2.12 .07 .31 .07 .94 .07-1.71 .07 1.84 .07-1.57 .07 .1 .07-.52 .07 .69 .07 .47 .07 .55 .07-1.55 .07 .63 .07-.44 .05-.53 .02 .86 .07 .51 .07 .28 .07-.2 .07 .31 .07-.69 .07-.48 .07-.57 .07 1.3 .07-.46 .07 .58 .07-1.34 .07 1.99 .07-1.04 .07-.11 .07 .69 .04-1.63 .03 1.65 .07-.47 .07 .46 .07-.7 .07-.33 .07 .33 .07 .56 .07-.92 .07 .33 .07-.19 .07 .38 .07-1.07 .07 1.79 .07-2.13 .07 1.71 .07-.58 .07 .19 .07-.44 .07 .5 .07-1.27 .07 2.3 .07-1.39 .07 .79 .07-.52 .07 .37 .07-2.3 .07 2.43 .07-.63 .07 .31 .07-.56 .07 .15 .07-.45 .02-1.63 .05 2.09 .07-1.75 .07 2.61 .07-2.24 .07 2.04 .07-.51 .07 .7 .07-1.59 .07 1.79 .07-1.87 .07 .84 .07-.15 .07 1.01 .07-1.27 .07 1.08 .07-3.06 .07 2.49 .07-1.04 .07 .84 .07-1.12 .07 1.14 .07-1.9 .07 2.15 .07-.33 .07 1.16 .07-3.06 .07 2.39 .07-.78 .07 .75 .07-2.58 .07 3.25 .07-1.37 .07 1.55 .07-3.34 .07 2.85 .07-.89 .07 .81 .07-1.77 .07 2.31 .07-2.2 .07 2.23 .07-1.12 .07 .49 .07-3.71 .07 3.06 .07-2.47 .07 3.84 .05-6.01 .02 2.42 .07 2.47 .07-3.81 .07 3.86 .07-1.6 .07 1.39 .07-1.37 .07 1.77 .07-4.02 .07 4.67 .07-4.39 .07 4.32 .07-5.31 .07 5.03 .07-2.3 .07 2.45 .04-7.36 .03 5.13 .07 2.36 .07-3.23 .07 2.49 .07-4.77 .07 3.76 .07-4.99 .07 5.41 .07-1.9 .07 2.33 .07-7.86 .07 8.62 .07-6.68 .07 6.43 .07-7.61 .07 6.79 .03-8.94 .04 3.35 .07 7.11 .07-10.56 .07 8.16 .07-7.59 .07 9.17 .07-8.96 .07 8.46 .07-8.74 .06-5.94 .01 13.59 .07-9.56 .07 6.15 .07-3.38 .07 8.54 .07-13.42 .07 11.59 .02-19.05 .05 13.21 .07 6.7 .07-9.24 .07 9.21 .07-16.56 .07 14.38 .07-14 .07 15.48 .07-20.07 .05-9.08 .02 26.59 .07-13.61 .07 15.31 .07-10.38 .07 12.43 .02-36.99 .05 11.05 .07 19.57 .07-20.8 .05-9.82 .02 32.22 .07-5.9 .07 4.44 .07-11.68 .07 18.31 .07-10.76 .07 9.03 .07-6.74 .04-14.92 .03 18.82 .07-9.24 .07 13.34 .07-25.27 .07 25.18 .07-16.47 .06-21.47 .01 34.12 .07-19.37 .07 18.9 .07-25.77 .07 22.54 .07-15.25 .07 11.87 .07-26.32 .07 30.6 .07-31.88 .03-6.09 .04 39.85 .07-13.04 .07 9.63 .07-15.11 .07-27.53 0 35.55 .07-20.4 .07 22.06 .07-17.77 .03-19.44 .04 47.06 .07-26.99 .07 29.5 .07-11.45 .07 11.96 .07-11.44 .07 11.92 .07-22.07 .02-11.39 .05 27.71 .07-14.6 .07 15.77 .07-26.99 .07 18.79 .07-21.94 .04-20.72 .03 46.83 .07-41.3 .07 38.55 .07-39.44 .07 34.46 .07-22.2 .07 34.01 .07-30.32 .02-25.69 .05 59.08 .07-38.53 .07 36.95 .05-57.5 .02 22.41 .07 28.72 .07-14.09 .07 9.15 .07-17.72 .03-12.29 .04 37.34 .07-21.17 .07 17.68 .07-6.98 .07 17.54 .07-14.48 .07 15 .07-28.43 .07 27.22 .06-32.64 .01 16.75 .07 9.53 .07-11.34 .07 11.86 .07-14.89 .07 17.53 .07-14.25 .07 12 .07-6 .07 7.34 .03-27.42 .04 19.75 .07 9.88 .07-3.42 .07 1.84 .07-10.94 .07 14.05 .05-18.97 .02 6.28 .07 10.89 .07-12.21 .07 13.14 .07-11.37 .07 13.73 .07-13.9 .07 12.17 .07-9.25 .07 11.42 .02-16.46 .05 9.8 .07 5.97 .07-3.95 .07 5.17 .07-5.88 .07 4.88 .04-7.13 .03 6 .07 .69 .07-3.99 .07 4.41 .07-3.49 .07 3.77 .07-2.07 .07 2.4 .07-3.57 .07 3.45 .07-1.54 .07 1.31 .07-1.28 .02-2.76 .05 3.77 .07-.58 .07 .99 .07-1.79 .07 2.28 .07-1.05 .07 .28 .07-1.12 .07 1.76 .05-2.33 .02 1.24 .07 .48 .07-1.04 .07 1.65 .07-1.07 .07 .01 .07 .47 .07 .72 .07-1.05 .07 .95 .07-1.14 .07 .5 .07-.23 .07-.17 .07 .05 .07 .14 .07-1.5 .07 2.64 .07-1.39 .07 .39 .07-1.09 .07 1.48 .07-1.91 .07 2.39 .07-1.19 .07 1.37 .07-2.39 .07 2.14 .07-1.32 .07 .47 .05-3.59 .02 3.28 .07 1.27 .07-2.87 .07 1.65 .01-3.33 .06 2.9 .07 .4 .07-1.25 .07 1.3 .07-.12 .07 .43 .07-.96 .07 1.89 .07-2.47 .07 2.3 .07-.61 .07 .6 .07-2.5 .07 2.84 .07-1.63 .07 .29 .07 .18 .07 .02 .07-.2 .07 .11 .07-.2 .07 .39 .07-.86 .07 .6 .07-1.15 .07 1.12 .07-1.52 .07 1.41 .07-1.35 .07 1.68 0-1.87 .07 1.13 .07 1.39 .07-2.14 .07 1.66 .07-.68 .07 .92 .07-1.71 .07 1.63 .07-1.11 .07 .44 .07-.81 .07 1.24 .07-1.26 .07 .94 .07-.87 .07 2.14 .07-1.1 .07 .58 .07-.24 .07-.14 .07-1.23 .07 1.66 .07-1.1 .07 .38 .07-.08 .07 .25 .07-.9 .07 1.94 .07-.87 .07-3.39 0 3.33 .07-1.05 .07 1.53 .07-2.38 .03-1.43 .04 3.83 .07-.76 .07 .65 .07-1.11 .07 1.32 .07-.57 .07 .05 .07-.61 .07 1.57 .07-2.21 .07 .89 .07 .05 .07-.08 .07-.29 .07 1 .07-.52 .07 1.15 .07-2.64 .07 1.92 .07-1.55 .07 1.32 .07-.88 .07 .96 .07 0 .07 .18 .07-1.35 .07 .87 .07-1.73 .07 2.98 .07-2.4 .03-.71 .04 1.9 .07-.7 .07 1.46 .07-.72 .07 .67 .07-.96 .07 .67 .07-2.47 .07 1.72 .07-1.25 .07 2.58 .07-2.9 .07 2.46 .07-.38 .07 .6 .07-1.48 .07 1.18 .07-.87 .07 .29 .07-.41 .07 .27 .07-2.07 .07 3.09 .07-2.1 .07 1.82 .07-2.75 .07 2.9 .07-.69 .07 .14 .07-1.17 .07 1.83 .07-3.55 0 1.95 .07 .8 .07-2.09 .07 2.7 .07-3.11 .07 2.13 .07-2.35 .07 3.04 .07-1.69 .07 1.21 .07-3.29 .07 3.56 .07-4.61 .07 4.17 .07-3.41 .07 3.46 .06-6.9 .01 3.79 .07 3.59 .07-5.82 .07 5.33 .07-4.48 .07 4.26 .07-3.08 .07 3.59 .07-5.63 .07 4.42 .07-5.92 .07 6.67 .07-7.91 .07 6.7 .07-7.18 .07 6.09 .05-11.07 .02 7.64 .07 2.29 .07-10.6 .07 13.46 .07-12.83 .07 11.04 .07-9.23 .07 7.03 .07-9.09 .07 12.48 .07-9.5 .07 6.02 .07-9.88 .03-12.13 .04 27.33 .07-17.24 .07 14.79 .07-14.92 .07 14.13 .07-14.39 .07 10.46 .07-22.05 .01-9.19 .06 36.66 .07-24.44 .07 23.18 .04-35.4 .03 27.86 .07 3.21 .07-12.3 .07 17.64 .07-9.7 .07 9.91 .07-19.43 .07 19.71 .03-21.79 .04 2.38 .07 20.55 .07-10.02 .07 8.23 .07-14.05 .07 15.27 .07-15.23 .07 15.56 .01-38.24 .06 6.86 .07 26.33 .07-26.74 .04-6.45 .03 38.37 .07-14.58 .07 6.88 .07-16.88 .07 16.73 .07-15.5 .07 16.83 .07-4.92 .03-20.95 .04 28.32 .07-3.83 .07 4.85 .07-7.52 .07 4.55 .07-7.63 .05-7.62 .02 19.65 .07-19.53 .07 15.17 .07-12.74 .07 18.05 .07-9.01 .07 2.37 .07-3.92 .07 2.58 .07-15.19 .07 18.05 .07-14.92 .07 13.24 .03-28.24 .04 9.7 .07 22.37 .07-20.76 .07 24.74 .07-27.07 .07 21.9 .07-12.39 .07 17.39 .01-40.32 .06 18.93 .07 15.49 .07-12.13 .04-22.29 .03 34.62 .07-3.19 .07 3.28 .07-7.52 .07 8.61 .07-13.05 .07 15.51 .07-22.8 .02-7.7 .05 30.68 .07-16.05 .07 10.68 .07-9.82 .07 9.21 .07-12.17 .05-10.31 .02 25.9 .07-5.25 .07 6.56 .07-19.12 .07 21.36 .07-20 .07 16.23 .07-11.73 .07 14.62 .07-13.22 .01-8.7 .06 23.3 .07-18.94 .07 19.29 .07-17.96 .07 17.92 .07-16.94 .04-3.35 .03 20.51 .07-14.22 .07 9.65 .07-8.43 .07 10.09 .07-4.65 .07 4.39 .07-2.4 .07 3.68 .07-14.18 0 10.09 .07 1.77 .07-7.73 .07 11.45 .07-7.31 .07 5.35 .07-.91 .02-8.28 .05 11.75 .07-3.75 .07 1.72 .07-4.32 .07 5.34 .07-2.29 .07 2.33 .07-7 .07 6.84 .06-8.41 .01 2.33 .07 5.05 .07-5.29 .07 7.72 .07-5.8 .07 4.56 .07-2.01 .01-4.34 .06 7.52 .07-2.75 .07 3.53 .07-5.25 .07 4 .07-1.82 .07 1.62 .07-3.12 .07 4.1 .07-3 .07 2.86 .07-.82 .06-3.54 .01 4.86 .07-2.21 .07 1.36 .07-.46 .07 .76 .07-1.71 .07 2.04 .07-1.11 .07 .77 .07-.3 .07 .11 .07-.35 .07 .68 .04-2.23 .03 1.36 .07 .31 .07-.74 .07 1.12 .07-1.54 .07 1.74 .07-1.35 .07 .97 .07 .01 .07-.25 .07-.79 .07 1.98 .07-2.39 .07 1.75 .07-1.64 .07 1.63 .07-.8 .07 .52 .07-.58 .07 .44 .07-.5 .07 .14 .07 .06 .07 1.05 .07-1.62 .07 1.27 .07-1.72 .07 1.02 .07 .33 .07-.01 .07-1.29 .07 1.73 .07-.63 .07 .84 .07-1.1 .07 .92 .06-2.9 .01 1.14 .07 1.02 .07-1.97 .07 2.03 .02-2.22 .05 2.3 .07 .4 .07-.12 .07-.11 .07-.3 .07-.04 .07 .05 .07 .64 .07-.49 .07 .71 .07-.95 .07 .62 .07 0 .07-.71 .07 .92 .07 .26 .07-.8 .07 1.1 .07-.83 .07 .35 .07-.38 .07 .32 .07-.34 .07 .73 .07-.46 .07-.45 .07-.26 .07 .18 .07-.39 .07 .54 .07 .41 .07 .02 .07-.24 .07 .24 .07-.97 .07 .13 .07 .02 .07-.03 .07-.2 .07 1.68 .07-1.7 .07 .48 .07-.51 .07 1.21 .07-.82 .07-.44 0 .31 .07 .35 .07 .05 .07-.17 .07-.32 .07 .13 .07 .5 .07-.4 .07 .22 .07-.47 .07 .8 .07 .28 .07-.82 .07-.07 .07 .89 .07-.92 .07 .17 .07-.08 .07 .51 .07-.1 .07-.06 .07-.32 .07 1.15 .07-1.18 .07 .25 .07-.28 .07 .78 .07-.91 .07 .22 .07 .41 .07-.22 .07-.15 .07 .19 .07 .13 .07-.11 .07 .3 .07 .7 .07-1.01 .07-.34 .07 .55 .07-.21 .07-.04 .07 .94 .07-.28 .07-.16 .07-.4 .07-.38 .07 .04 .03-.03 .04 .88 .07-.9 .07-.02 .07-.02 .07 .3 .07 .06 .07 .79 .07-1.12 .07 .08 .07-.22 .07 1.01 .07-.29 .07-.71 .07 .56 .07-.24 .07 .42 .07 .3 .07-.66 .07 .04 .07-.59 .07 1.37 .07-1.15 .07 1.12 .07-.88 .07-.11 .07 .27 .07-.48 .07 .68 .07-.42 .07 .74 .07 .22 .07-1.51 .07 .99 .07-.2 .07 .79 .07-1.06 .07-.1 .07 .77 .07-.3 .07-1.1 .07 1.5 .07-1.57 .07 1.99 .07-1.76 .07 .5 .07-.16 .07 .1 .07-.79 0 .7 .07 .16 .07-.12 .07 .7 .07-.43 .07-.17 .07-.19 .07 .96 .07-2.5 .07 2.09 .07-1.67 .07 1.99 .07-1.4 .07 1.22 .07-1.57 .07 1.42 .06-4.07 .01 3.72 .07 .35 .07-2.2 .07 1.81 .07-1.51 .07 2.18 .07-3.14 .07 3.54 .07-3.24 .07 2.67 .07-1.9 .07 1.76 .07-4.58 .07 4.26 .07-1.01 .07 .99 .05-5.92 .02 .51 .07 6.6 .07-6.53 .07 5.89 .07-3.23 .07 1.64 .07-2.86 .07 4.37 .07-6.98 .07 7.29 .01-12.24 .06 4.57 .07 4.45 .07-7.29 .07 7.69 .07-2.31 .07 4.19 .03-15.73 .04 6.16 .07 10.17 .07-11.24 .07 8.89 .07-5.75 .07 8.01 .07-8.94 .07 5.37 .02-22.65 .05 10.68 .07 11.84 .07-6.15 .05-16.37 .02 25.37 .07-13.26 .07 11.32 .07-3.55 .07 2.32 .07-6.69 .07 7.15 .07-6.94 .03-9.07 .04 17.5 .07-2.83 .07 2.23 .07-7.59 .07 8.71 .07-7.67 .06-2.44 .01 11.12 .07-6.96 .07 6.97 .07-8.6 .07 8.9 .07-12.11 .07 12.52 .07-9.95 .07 8.14 .07-11.2 .02-8.96 .05 21.19 .07-15.56 .07 15.98 .07-11.86 .07-11.96 0 18.95 .07-10.77 .07 12.4 .07-14.13 .03-6.45 .04 23.49 .07-11.22 .07 11.18 .07-4.06 .07 4.03 .07-6.23 .07 5.35 .07-5.67 .01-6.86 .06 12.05 .07-6.46 .07 5.26 .07-4.08 .07 4.16 .07-5.45 .03-13.28 .04 21.09 .07-15.37 .07 11.18 .07-4.55 .07 3.78 .07-8.22 .07 10.24 .07-9.4 .07 9.92 .07-9.93 .07 9.08 .03-22.69 .04 18.66 .07 7.53 .07-15.45 .06-10.74 .01 23.65 .07-8.27 .07 9.89 .07-11.19 .07 10.4 .07-5.61 .07 2.92 .07-4.83 .05-9.87 .02 14.6 .07-8.06 .07 11.36 .07-10.53 .07 9.05 .07-7.26 .07-5.83 0 16.38 .07-11.07 .07 11.33 .07-7.28 .07 5.05 .07-3.46 .07 4.76 .07-8.44 .07 7.24 .07-2.26 .03-6.71 .04 11.44 .07-7.36 .07 5.32 .07-.8 .07 1.57 .07-2.96 .06-3.89 .01 7.01 .07-4.54 .07 4.47 .07-3.12 .07 3.3 .07-.66 .07 1.83 .07-5.27 .07 4.49 .07-2.87 .07 2.65 .07-2.66 .07 2.43 .03-3.73 .04 2.7 .07 1.01 .07-2.07 .07 3.18 .07-2.61 .07 1.31 .07-1.53 .07 1.58 .07-.46 .07 1.12 .07-.12 .07 .63 .07-1.27 .01-.59 .06 1.93 .07-1.16 .07 .27 .07-.65 .07 1.42 .07-.86 .07 .14 .07-.74 .07 .91 .07-.2 .07-.46 .07 .02 .07 .4 .07 .5 .07-.71 .07-.2 .07 .35 .07-.47 .07 .33 .07-.36 .07 .52 .07 .1 .07-.22 .07 .32 .07-.33 .07-.44 .07 .99 .07-.4 .07 .71 .07-1.28 .07 .54 .07-.01 .07 .14 .07 .03 .07 .58 .07-1.09 .07 1.51 .07-1.22 .07 .81 .07-.3 .07-.58 .07 .2 .07 .4 .07-.41 .07 1.14 .07-1.5 .07 .06 .07 .92 .07 .5 .07-1.12 .07 .57 .07-.01 .07-.64 .07 0 .07 1.08 .07-1.14 .07 .27 .07 .08 .07-.12 .07 .11 .07-.38 .07 .01 .07 .92 .03-.9 .04 .67 .07 0 .07-.59 .07 .21 .07-.15 .07 .19 .07-.28 .07 .12 .07-.21 .07 1.03 .07-1.04 .07 .11 .07 .18 .07 .47 .07-.75 .07 .6 .07-.58 .07 1.22 .07-.82 .07 .78 .07-.83 .07 .02 .07-.45 .07 .17 .07-.02 .07 1.14 .07-.85 .07 .53 .07-1 .07 1.39 .07-1.4 .07 .08 .07 .48 .07 .66 .07-1.14 .07 1.19 .07-.5 .07 .36 .07-.96 .07-.08 .07 .69 .07 .53 .07-1.31 .07 .69 .07-.1 .07-.18 .07-.27 .07 .79 .07-.94 .07 1.48 .07-1.28 .07 .28 .07-.23 .07 .75 .07-.4 .07-.17 .07 .63 .07-1 .07 .25 .07-.1 .07 .61 .07 .2 .07-1.09 .07-.02 .07 .52 .07 1.05 .07-1.55 .07 1.04 .07-.76 .07 .25 .07-.19 .07-.11 .07 .06 .07 1.02 .07-1.38 .07 1.05 .07-.56 .07 .97 .07-.71 .07 .22 .07-.86 .07 .95 .07-.29 .07 .81 .07-.77 .07-.39 .07 .25 .07 .27 .07-.21 .07 .05 .07-.49 .07-.01 .07 .34 .07 .08 .07-.61 .03-.24 .04 .35 .07-.08 .07 .2 .07-.75 .07 1.66 .07-1.25 .07 1.04 .07-.89 .07 .5 .07-.38 .07-.04 .07-1.89 .07 2.5 .07-1.71 .07 1.67 .07-1.97 .02-1.18 .05 3.03 .07-.78 .07 .8 .07-2.68 .07 2.89 .07-3.61 .07 3.22 .07-1.18 .07 .99 .07-1.55 .07 1.5 .07-1.37 .07 2.44 .07-3.77 .07 2.8 .07-3.63 .01-1.31 .06 4.75 .07-3.63 .07 4.72 .07-4.28 .07 3.68 .07-4.87 .07 4.73 .07-4.25 .07 4.42 .07-3.5 .07 3.62 .07-4.59 .07 4.58 .07-8.03 .07 8.1 .07-9.89 0 3.11 .07 6.25 .07-6.47 .07 4.13 .07-5.69 .07 6.41 .07-3.04 .07 2.57 .07-6.83 .07 8.15 .07-5.47 .07 6.1 .07-9.65 .07 7.84 .07-3.43 .07 5.06 .05-14.58 .02 8.88 .07 4.52 .07-8.54 .07 8.23 .07-4.39 .07 3.65 .07-1.42 .07 1.72 .07-6.82 .07 7.98 .07-10.82 .07 9.08 .07-4.34 .03-9.94 .04 14.32 .07-6.28 .07 5.31 .07-4.55 .07 6.35 .07-4.48 .07 2.93 .07-14.54 .07 16.74 .07-18.02 0 1.02 .07 14.78 .07-10.67 .07 14.86 .07-9.69 .07 4.8 .07-12.18 .07 11.4 .07-13.22 .07 18.18 .03-21.5 .04 5.63 .07 14.83 .07-11.96 .07 9.97 .07-6.07 .07 8.92 .07-13.91 .07 9.18 .02-19.91 .05 16.81 .07 5.88 .07-19.77 .05-2.92 .02 24.76 .07-16.84 .07 15.46 .07-12.26 .07 12.54 .07-14.46 .07 10.25 .07-6.88 .03-7.69 .04 16.22 .07-6.48 .07 9.71 .07-12.64 .07 13.35 .07-7.4 .05-10.99 .02 16.39 .07-10.94 .07 13.01 .07-11.76 .07 11.82 .07-12.42 .07 8.58 .07-5.2 .07 6.87 .07-9.42 .02-5.82 .05 17.02 .07-9.76 .07 8.23 .07-5.59 .07 5.6 .07-6.2 .04-2.84 .03 10.27 .07-6.68 .07 5.09 .07-5.05 .07 6.86 .07-9.4 .07 6.15 .07-8.62 .07 10.4 .07-4.92 .01-13.89 .06 20.44 .07-10.21 .07 7.75 .07-6.95 .05-13.69 .02 21.63 .07-9.79 .07 11 .07-13.57 .01-9.27 .06 20.89 .07-6.6 .07 8.5 .07-8.61 .07 9.57 .07-11.1 .07 8.83 .07-13.28 0 5.48 .07 7.28 .07-3.09 .07 2.68 .07-1.88 .07 2.22 .07-1.86 .02-5.29 .05 9.29 .07-6.72 .07 7.22 .07-3.52 .07 3.27 .07-2.17 .07 2.12 .07-4.19 .07 4.08 .07-3.8 .07 3.81 .07-1.3 .07-4.1 0 6.13 .07-4.45 .07 3.58 .07-2.63 .07 3.57 .07-3.09 .07 2.83 .07-1.55 .07 2.2 .07-2.26 .03-1.67 .04 3.74 .07-1.91 .07 .59 .07-2.01 .07 2.61 .07-2.06 .07 1.51 .07-.67 .07 1.19 .07-1.94 .07 1.86 .07-1.97 .07 2.55 .07-.93 .07 .67 .07-1.38 .07 1 .07-.03 .07 .45 .07-1.69 .07 1.27 .07-.86 .07 .95 .07-.92 .07 .42 .07-.31 .07 1.13 .07-1.19 .07 .64 .07-.54 .07 1.04 .07 .14 .01-1.13 .06 .71 .07-.46 .07 1.11 .07-.6 .07 .47 .07-1.12 .07 .25 .07 .01 .07 .53 .07 .26 .07-.36 .07-.7 .07 1.28 .07-.32 .07 .47 .07-1.34 .07 .71 .07-.19 .07 .63 .07-.83 .07 1.08 .07-1.06 .07 .13 .07 .19 .07 .65 .07-.76 .07 .7 .07-1.17 .07 .43 .07-.03 .07 .67 .07-.99 .07 .5 .07-.61 .07 .61 .07 .19 .07-.06 .07-.4 .07 .2 .07-.34 .07 1.18 .07-1.06 .07 .65 .07 .1 .07 .12 .07-.89 .07 .19 .07 0 .07 .42 .07-.8 .07 1.25 .07-.88 .07-.24 .07 .6 .07-.3 .07-.28 .07 .06 .07 .76 .07-.41 .07 .36 .07-.84 .07 .02 .07-.01 .03 0 .04 .49 .07-.21 .07-.21 .07-.08 .07-.01 .07 0 .07 .33 .07 .31 .07 .15 .07-.81 .07 .9 .07-.91 .07 .76 .07-.38 .07 .06 .07 .54 .07-1 .07 .54 .07-.32 .07-.24 .07 0 .07 .32 .07 .47 .07 .12 .07-.93 .07 .52 .07-.37 .07 .27 .07-.18 .07-.09 .07 .2 .07-.13 .07-.11 .07-.11 .07-.05 .07 1.28 .07-.83 .07 0 .07 .13 .07 .25 .07-.33 .07-.27 .07-.12 .07 .25 .07-.31 .07 1.29 .07-1.03 .07 .67 .07-.85 .07 .75 .07-.37 .07 .67 .07-.81 .07 .99 .07-.36 .07 .02 .07-.76 .07 .38 .07 .23 .07-.12 .07-.4 .07 .37 .07-.31 .07-.51 .07 .79 .07 .74 .07-1.09 .07 .44 .07-.04 .07-.58 .07-.04 .07 1.29 .07-.37 .07-.91 .07 .67 .07 .69 .07-1.51 .07 .72 .07-.83 .07 .43 .07 .53 .07 .32 .07-.76 .07 .19 .07-.77 .07 .51 .07 .33 .07 .54 .07-.45 .07 .09 .07-.25 .07-.38 .07-.31 .07 1.31 .07-1.39 .03-.09 .04 1.02 .07-.65 .07 .93 .07-1.87 .07 .83 .07 .69 .07 .47 .07-.96 .07 .07 .07-.59 .07 1.26 .07-.99 .07 1.24 .07-1.92 .07 2.09 .07-1.99 .02-2.95 .05 4.07 .07-2.75 .07 3.47 .07-1.78 .07 .88 .07-2.91 .07 3.03 .07-3.7 .07 4.03 .05-7.67 .02 5.98 .07 1 .07-6.25 .07 6.41 .07-4.61 .07 5.9 .07-7.91 .07 6.34 .07-7.84 .07 6.35 .02-10.91 .05 7.39 .07 2.98 .07-3.29 .07 5.96 .07-8.22 .07 6.34 .04-16.7 .03 12.31 .07 2.12 .07-6.67 .07 7.95 .07-10.48 .07 10.61 .07-5.95 .07 2.86 .07-1.05 .07 6.91 .01-28.58 .06 21.14 .07 1.98 .07-2.2 .07 1.85 .05-29.42 .02 21.6 .07 12.5 .07-17.32 .07 11.36 .01-28.14 .06 17.28 .07 15.44 .07-17.32 .07 11.56 .07-6.25 .07 13.98 .07-13.04 .06-17.22 .01 29.29 .07-20.24 .07 20.48 .07-25.14 .07 23.6 .07-18.9 .07 21 .02-28.98 .05 9.08 .07 19.54 .07-25.27 .07 19.54 .07-3.8 .07 4.22 .07-13.45 .07 15.84 .07-14.1 .07 18.02 .07-9.17 .07 4.94 .06-24.28 .01 5.31 .07 23.38 .07-16.29 .07 12.24 .07-5.76 .07 8.3 .07-9.08 .07 8.79 .07-11.58 .07 7.82 .03-13.34 .04 9.07 .07 3.56 .07-2.48 .07 6.01 .07-4 .07 3 .07-11.9 .07 9.34 .07-6.48 .07 11.09 .07-18.12 .07 12.3 .07-10.04 .01-12.25 .06 24.39 .07-5.32 .07 10 .07-14.75 .07 15.22 .07-20.55 .07 20.01 .07-18.54 .07 18.49 .07-14.54 .07-17.07 0 23.3 .07-16.8 .07 22 .07-18.26 .03-10.24 .04 27.34 .07-4.7 .07 4.76 .07-14.85 .07 16.17 0-20.52 .07 13.44 .07 8.19 .07-12.36 .07 10.7 .07-7.16 .07 10.97 .03-13.77 .04 6.33 .07 4.38 .07-5.8 .07 7.47 .07-13.59 .07 13.22 .07-12.45 .07 12.13 .07-13.99 .06-9.93 .01 25.81 .07-17.4 .07 15.54 .07-22.53 .07 23.93 .04-27.56 .03 4.57 .07 16.64 .07-14.13 .07-7.08 0 23.04 .07-2.47 .07 4.63 .07-7.77 .07 11.03 .07-7.26 .07 4.07 .07-5.25 .05-7.83 .02 13.62 .07-5.5 .07 7 .07-3.48 .07 2.62 .07-7.44 .07 9.3 0-9.48 .07 2.58 .07 6.59 .07-5.73 .07 6.51 .07-2.53 .07 2.36 .07-1.98 .07 1.28 .07 .2 .04-3.73 .03 4.29 .07-1.51 .07 1.5 .07-2.96 .07 2.54 .07-1.51 .07 2.32 .07-1.93 .07 1.08 .07-.86 0-.08 .07 1.15 .07-.86 .07 1.47 .07-1.17 .07 1.18 .07-1.53 .07 1.85 .07-1.9 .07 1.14 .07-.92 .07 .69 .07-.69 .07 1.48 .07-.89 .07 .15 .07-.52 .07 1.22 .07-.98 .07 .45 .07 0 .07 .35 .07-1.11 .07 .57 .07-.69 .07 1.2 .07-.95 .07 .97 .07-.54 .07 .4 .07 0 .07-.67 .07 .59 .07 .07 .07-.02 .07 .53 .07-1.31 .07 1.28 .07-1.08 .07 1.03 .07-1.03 .07-.18 .07 .21 .07 1.09 .07-.99 .07 .52 .07-.67 .07-.07 .07 .09 .07 .41 .07-.41 .07 1.04 .07-.97 .07-.31 .07 .32 .07-.09 .07 .12 .07 .05 .07-.19 .07-.13 .07 .09 .07 0 .07 .28 .07 .67 .07-.64 .07-.33 .07 .12 .07 .74 .07-.04 .07-.76 .05 0 .02 .33 .07 .09 .07-.22 .07 .17 .07 .05 .07-.08 .07 .38 .07 .17 .07-.84 .07 .85 .07-.11 .07 .38 .07-.21 .07-.95 .07 .09 .07-.17 .07 .28 .07 .92 .07-.98 .07 .38 .07 .17 .07-.8 .07 .89 .07-.29 .07-.47 .07-.14 .07 .33 .07 .5 .07-.82 .07 .81 .07-.85 .07 1.31 .07-1.27 .07 1.21 .07-.61 .07 .46 .07-.75 .07 .95 .07-1.33 .07 .41 .07-.27 .07 1.19 .07-.75 .07-.31 .07-.29 .07 .11 .07 .38 .07 .69 .07-.47 .07 .46 .07-.2 .07 .5 .07-1.34 .07 .11 .07 .77 .07 .04 .07-1.04 .07 1.37 .07-1.12 .07 .17 .07-.23 .07 .37 .07 .48 .07 .32 .07-.55 .07 .24 .07-.56 .07 .83 .07-.65 .07-.26 .07 .05 .07 .3 .07-.52 .07 1.1 .07-.74 .07 .53 .07-1.19 .07 .36 .07 0 .07 .97 .07-1.01 .07 .82 .07-1.16 .07 .32 .07-.27 .07 .67 .07-.22 .07-.05 .07 .28 .07-.21 .07-.57 .07 1.43 .07-.39 .07-.84 .07 1.03 .05-1.36 .02 1.19 .07-.9 .07 1.06 .07-1.04 .07-.16 .07 .35 .07-.27 .07-.7 .07 1.88 .07-2.33 .07 1.71 .07-.2 .07-.36 .07-.7 .07 2.05 .07-3.31 .04-1.59 .03 4.09 .07-1.53 .07 1.64 .07-1.88 .07 1.25 .07-3.83 .07 4.18 .07-2.53 .07 2.7 .07-1.91 .07 1.27 .07-3.77 .07 4.91 .07-5.26 .07 5.05 .07-3.47 .03-4.24 .04 7.97 .07-6.41 .07 4.92 .07-3.86 .07 4.46 .07-2.02 .07 .63 .07-2.73 .07 4.26 .07-6.78 .07 6.81 .07-2.35 .07 2.84 0-9.96 .07 6.82 .07 2.37 .07-6.37 .07 7.08 .07-9.3 .07 7.38 .07-4.58 .07 5.02 .07-3.56 .07 4.71 .07-3.16 .07 2.11 .05-10.73 .02 8.5 .07 2.72 .07-8.68 .07 6.99 .07-10.66 .07 12.89 .07-9.99 .07 8.8 .07-6.05 .07 6.62 .01-18.9 .06 4.43 .07 14.68 .07-17.74 .07 12.07 .06-18.98 .01 3.36 .07 16.57 .07-7.51 .07 12.28 .02-24.7 .05 10.33 .07 12.23 .07-9.88 .07 9.44 .07-14.11 .07 12.34 .07-15.25 .07-1.78 0 19.95 .07-12.09 .07 10.73 .07-6.74 .07 7.34 .07-7.08 .07 9.14 .03-13.45 .04 6.77 .07 5.67 .07-5.67 .07 4.57 .07-14.85 .07 13.3 .07-13.85 .07 13.06 .07-14.73 .06-18.69 .01 30.45 .07-4.49 .07 10.09 .07-10.06 .07 11.13 .03-52.19 .04 24.97 .07 25.78 .07-27.92 .06-22.83 .01 51.59 .07-21.93 .07 18.92 .07-19.28 .07 21.96 .04-36.19 .03 19.33 .07 15.07 .07-8.31 .07 1.93 .07-15.32 .07 20.79 .06-26.84 .01 8.73 .07 16.51 .07-7.28 .07 12.43 .07-16.86 .07 14.31 .07-24.19 .07 22.75 .07-21.86 .07 17.72 .03-21.15 .04 8.17 .07 22.01 .07-28.25 .07 28.74 .07-28.58 .07 23.82 .05-25.91 .02 .79 .07 24.65 .07-20.97 .07 23.81 .07-21.91 .07 23.6 .07-17.04 .07 11.37 .07-8.31 .07 9.3 .01-29.72 .06 13.95 .07 12.61 .07-12.66 .07 20.43 .06-37.66 .01 27.18 .07 8.04 .07-9.55 .07 1.51 .02-27.18 .05 24.79 .07 13.07 .07-14.57 .07 9.82 .07-17.06 .07 20.02 .07-16.67 .07-8.32 0 20.34 .07-12.22 .07 14.28 .07-6.48 .07 8.69 .07-13.98 .07 16.43 .03-20.41 .04 8.89 .07 9.67 .07-6.05 .07 7.68 .07-6.64 .07 6.63 .04-11.31 .03 5.73 .07 6.03 .07-6.53 .07 6.75 .07-4.82 .07 4.62 .07-4.25 .07 3.81 .07-1.39 .07 1.32 0-4.62 .07 1.23 .07 3.9 .07-1.71 .07 1.48 .07-.25 .07 .11 .07-.67 .07 1.54 .07-.68 .07 .15 .07-.49 .07 .47 .05-.65 .02 1.21 .07-.82 .07-.13 .07 .33 .07-.41 .07 .46 .07-.23 .07 .44 .07 .38 .07-.15 .07-.89 .07 1.14 .07 .01 .07-.6 .07-.19 .07 .77 .07-.71 .07 1 .07-1.31 .07 .91 .07-.94 .07 1.3 .07-.46 .07-.69 .07 .38 .07-.4 .07 .73 .07-.58 .07 .69 .07-.57 .07-.01 .07 .55 .07-.9 .07 .26 .07 .43 .07-.37 .07 .03 .07 .53 .07-.8 .07 .01 .07 .75 .07-.2 .07-.62 .07 .72 .07-.66 .07-.04 .07 .45 .07 .83 .07-.99 .07-.26 .07 .33 .07-.22 .07-.08 .07 .83 .07-.49 .07-.23 .07 .19 .05-.27 .02 .69 .07-.64 .07 .63 .07-.49 .07 .02 .07-.15 .07 1.04 .07-1.1 .07 1 .07-.92 .07 .89 .07-.91 .07 .68 .07 .37 .07-.7 .07-.39 .07 .93 .07-.91 .07 .66 .07-.56 .07 .74 .07-.76 .07 .16 .07-.28 .07 .7 .07-.59 .07 .61 .07-.36 .07 .02 .07 .27 .07-.6 .07 .18 .07-.13 .07-.05 .07 .68 .07-.03 .07 .41 .07-.07 .07 .2 .07-.67 .07 .26 .07-.32 .07 .57 .07-.97 .07 .53 .07-.49 .07 .18 .07 .48 .07-.81 .07 .02 .07 .37 .07-.36 .07 .17 .07 .25 .07 .9 .07-.99 .07-.36 .07 .4 .07-.3 .07 .71 .07-.34 .07-.25 .07 .02 .07-.24 .07 .42 .07-.15 .07-.21 .07 .7 .07-.06 .07-.35 .07-.35 .07 .08 .07 .55 .07-.5 .07 .41 .07 .39 .07-.92 .07 .41 .07 .42 .07-.44 .07-.4 .07 .19 .07 .24 .07 .11 .07-.19 .07 .6 .07-.5 .07 .31 .07 .39 .07-1.03 .07 .77 .07-.85 .07 .31 .07-.35 .07 1.16 .05-1.16 .02 .13 .07-.13 .07 .08 .07 .01 .07 .04 .07 .01 .07-.06 .07 .94 .07-.98 .07 1.04 .07-1.13 .07 .58 .07-.64 .07 .44 .07-.05 .07-.3 .07 .04 .07-.18 .07 .16 .07 .59 .07-.78 .07 1.3 .07-1.31 .07 .14 .07-.1 .07 .81 .07-.66 .07 .72 .07-.9 .07 .24 .07-.28 .07 .14 .07 .18 .07 .46 .07-.38 .07-.14 .07-.19 .07 .23 .07-.05 .07 1.12 .07-.65 .07-.05 .07-.05 .07 .27 .07-.71 .07 .24 .07 .18 .07-.08 .01-.73 .06 .14 .07 1.54 .07-.87 .07 .3 .07-2.03 .07 2.45 .07-1.26 .07 1.1 .07-2.05 .07 1.71 .07-1.47 .07 1.12 .07-.1 .07-.33 .07-.54 .07-4.14 0 4.98 .07-3.03 .07 2.28 .07-4.68 .07 5.52 .07-3.92 .07 3.15 .07-1.86 .07 3.32 .07-2.26 .07 .6 .07-5.23 .07 4.51 .07-5.28 .07 6.55 .07-3.43 .06-4.55 .01 8.04 .07-4.9 .07 5.35 .07-6.63 .07 4.86 .07-4.87 .07 5.48 .07-4.1 .07 4.04 .07-6.08 .07 5.47 .07-1.72 .07 1.76 .04-8.25 .03 1.84 .07 6.73 .07-5.47 .07 7.52 .07-8.7 .07 6.25 .07-2.65 .07 2.89 .07-5.02 .07-5.16 0 11.28 .07-5.69 .07 4.95 .07-11.81 .07 11.98 .07-12.3 .07 8.8 .02-20.51 .05 14.2 .07 11.11 .02-33.07 .05 8.2 .07 21.28 .07-5.85 .02-23.63 .05 29.56 .07-5.3 .07 8.29 .07-8.41 .07 5.97 .07-8.44 .07 11.55 .07-22.1 0 6.22 .07 12.7 .07-4.98 .07 5.85 .07-9.72 .04-21.19 .03 27.75 .07-14.5 .07 15.87 .07-28.96 0-.16 .07 32.19 .07-16.27 .07 13.18 .07-7.93 .07 8.09 .07-6.97 .07 5.67 .06-19.09 .01 4.75 .07 16.73 .07-11.28 .07 13.26 .07-8.21 .07 7.99 .07-5.08 .01-6.6 .06 10.47 .07-5.87 .07 7.82 .07-7.74 .07 4.74 .07-10.55 .07 7.95 .07-9.63 .07 8.97 .05-19.94 .02 8.08 .07 13.5 .07-11.83 .07 15.46 .07-14.14 .02-15.5 .05 23.85 .07-5.26 .07 4.54 .05-23.13 .02 20.27 .07 9.54 .07-12.85 .07 13.61 .07-14.06 .07 11.7 .07-3.62 .07 1.1 .04-14.61 .03 6.62 .07 10.08 .07-5.95 .07 6.7 .07-6.21 .07 7.92 .06-13.62 .01 6.59 .07 6.96 .07-8.2 .07 7.92 .07-7.07 .07 5.55 .07-4.26 .07 6.09 .07-6.23 .07 7.39 .07-9.34 .07 9.52 .07-5.91 .04-5.02 .03 8.9 .07-3.03 .07 4.19 .07-2.65 .07 3.14 .07-8.15 .07 7.98 .07-3.14 .07 2.22 .07-6.8 0 4.23 .07 2.44 .07-.7 .07 1.14 .07-2.22 .07 2.6 .07-4.5 .07 4.41 .07-3.34 .07 3.29 .04-3.36 .03 1.24 .07 2.19 .07-1.43 .07 1.64 .07-.75 .07 .96 .07-1.03 .07 1.26 .07-1.34 .07-.08 0 .79 .07-.63 .07 .09 .07 .03 .07 .7 .07-.53 .07 .46 .07-.55 .07 1.05 .07-.88 .07 .73 .07-1.07 .07 1.07 .07-.4 .07 .88 .07-1.42 .07 .57 .07-.46 .07 .5 .07-.28 .07-.07 .07 .57 .07-.86 .07 .47 .07 .81 .07-1.07 .07 .07 .07 .1 .07 .3 .07-.44 .07-.26 .07 .41 .07 .73 .07-1.03 .07 1.3 .07-1.16 .07 .16 .07-.35 .07 .94 .07-.88 .07 .03 .07 .01 .07 .54 .07-.7 .07 .15 .07 .43 .07-.15 .07-.24 .07 .01 .07-.14 .07 .39 .07 .39 .07-.53 .07 .03 .07 .48 .07-.74 .07 .54 .07-.24 .07-.28 .07 .13 .07 1.25 .07-1.35 .07 .42 .07-.42 .07 .03 .07 .12 .07-.13 .07 .2 .07-.19 .07 .01 .05 0 .02 .43 .07-.43 .07 .12 .07 .08 .07-.22 .07 .07 .07 .27 .07 .79 .07-.25 .07-.32 .07-.13 .07 .17 .07 .56 .07-1.2 .07 .9 .07-.51 .07 .58 .07-.55 .07-.09 .07 .18 .07 .89 .07-.52 .07-.37 .07 .5 .07-.97 .07 .18 .07-.08 .07 .68 .07-.89 .07 .22 .07-.23 .07 0 .07 1.1 .07-1.07 .07 .02 .07-.07 .07 .81 .07-.82 .07 0 .07 .69 .07-.28 .07-.32 .07 1.12 .07-1.03 .07 .72 .07-.74 .07 .99 .07-.79 .07 .5 .07-.76 .07 .55 .07 .03 .07-.5 .07 .07 .07 .57 .07-.17 .07 .64 .07-1.13 .07 .84 .07-1 .07 .22 .07-.19 .07 .32 .07-.39 .07 .86 .07-.62 .07 .48 .07-.26 .07 .85 .07-.16 .07-.6 .07-.54 .07 .34 .07-.21 .07 .47 .07-.41 .07 .78 .07-.54 .07 .93 .07-.81 .07-.23 .07-.34 .07 .21 .07-.02 .07-.16 .07 .05 .07 1.09 .07-.43 .07-.18 .07-.48 .07 .94 .07-.84 .07 .56 .07-.76 .07 .1 .05-.3 .02 .73 .07 .79 .07-1.42 .07 .57 .07-.09 .07 .29 .07-1.08 .07 1.42 .07-.69 .07 .44 .07-2.02 .07 1.71 .07-.66 .07 1.41 .07-3.73 .07 3.24 .03-4.23 .04 2.2 .07 2.55 .07-4.33 .07 3.96 .07-4.86 .07 4.52 .07-2.22 .07 1.83 .07-3.57 .07 4.17 .07-1.93 .07 2.77 .07-4.29 .07 1.99 .07-2.52 .07 4.38 .02-7.98 .05 1.36 .07 4.53 .07-3.02 .07 4.24 .07-2.64 .07 2.58 .07-4.64 .07 5.4 .07-3.34 .07 1.56 .07-5.32 .07 6.7 .07-3.42 .07 1.42 .07-1.6 .07 1.83 .01-10.07 .06 5.87 .07 3.62 .07-3.71 .07 4.96 .07-5.29 .07 5.29 .07-3.81 .07 3.32 .07-10.46 .07 10.84 .07-11.25 .07 12.54 .07-5.89 .07 6.27 .07-11.03 .07-5.7 0 12.96 .07-7.77 .07 7.51 .07-2.77 .07 1.88 .07-9.75 .07 10.2 .07-6.84 .07 9.15 .07-12.34 .07 10.82 .07-15.3 .07 15.84 .05-20.24 .02 10.46 .07 4.93 .07-4.1 .07 9.97 .07-7.07 .07 7.96 .07-8.65 .07 6.53 .07-13.3 .07 14.64 .07-11.87 .04-15.04 .03 21.08 .07-10.61 .07 10.85 .07-21.32 0 11.71 .07 11.39 .07-7.79 .07 10.76 .07-15.32 .07 16.63 .07-8.28 .07 7.04 .06-21.71 .01 14.52 .07 8.79 .07-7.37 .07 8 .07-14.41 .07 10.32 .07-3.33 .01-13.2 .06 20.34 .07-14.22 .07 12.79 .07-9.95 .07 10.29 .07-6.7 .07 5.37 .07-12.47 .07 12.45 .04-15.24 .03 11.25 .07 7.27 .07-15.07 .07 14.34 .07-2.73 .07 1.67 .07-9.6 0 3 .07 6.55 .07-6.76 .07 8.16 .07-14.59 .07 13.96 .07-15.19 .07 15.38 .07-8.08 .07 3.31 .03-19.96 .04 6.5 .07 18.03 .07-7.21 .07 3.73 .07-10.6 .01-16.43 .06 28.85 .07-18.03 .07 18.29 .04-29.11 .03 17.49 .07 13.33 .07-16.43 .07 11.72 .07-12.73 .07 13.39 .07-15.21 .07 18.78 .02-21.04 .05 11.71 .07 8.35 .07-5.42 .07 4.81 .07-7.69 .07 8.97 .04-9.83 .03 3.74 .07 6.07 .07-7.74 .07 8.15 .07-12.33 .07 10.99 .07-10.95 .07 12.49 .07-11.25 .07 10.24 .07-15.85 .07 14.25 .07-14.14 .02-3.46 .05 16.44 .07-11.34 .07 14.93 .07-8.5 .07 6.1 .07-3.52 .07 6.07 .07-12.54 .01-10.96 .06 20.1 .07-10.94 .07 9.86 .04-19.02 .03 20.36 .07 1.91 .07-2.91 .07 2.71 .07-3.34 .07 3.71 .07-6.08 .07 6.79 .02-14.29 .05 9.31 .07 4.03 .07-1.28 .07 .92 .07-6.33 .07 7.27 .04-8.38 .03 2.64 .07 7.65 .07-6.91 .07 6 .07-3.35 .07 3.19 .07-4.6 .07 4.77 .07-1.82 .07 2.67 .01-4.69 .06 1.28 .07 3.19 .07-2.37 .07 2.02 .07-.84 .07 1.45 .03-1.41 .04 .56 .07-.22 .07-.01 .07 .65 .07-.35 .07 .35 .07-.66 .07 .81 .07-.18 .07-.49 .07 .33 .07 .25 .07-.23 .07 .76 .07-1.28 .07 .52 .07-.05 .07 .74 .07-.99 .07 .14 .07 .52 .07-.95 .07 .43 .07-.4 .07 .61 .07-.24 .07-.4 .07 .98 .07-.6 .07 .58 .07-.24 .07 .03 .07 .42 .07-1.09 .07 .42 .07-.47 .07-.04 .07 1.14 .07-.9 .07 1.08 .07-1.06 .07 .47 .07 .56 .07-1.24 .07 1.03 .07-1.03 .07 .27 .07-.1 .07 .47 .07-.29 .07 .01 .07 .98 .07-1.21 .07 1.31 .07-.33 .07-.22 .07-.8 .07 .62 .07-.2 .07-.06 .07-.11 .07 .16 .07-.32 .07 .83 .07-.63 .07-.11 .07 .4 .07 .43 .07-.63 .07 .39 .07-.72 .07 .23 .07-.06 .07 .79 .07-.82 .07 1.12 .07-1.22 .07 1.35 .07-.94 .04-.41 .03 .12 .07 .18 .07 .4 .07 .09 .07 .39 .07-.74 .07 .8 .07-1.21 .07 .89 .07-.6 .07 .46 .07-.78 .07 0 .07 .06 .07 .06 .07 .08 .07 1.09 .07-1.24 .07 1.19 .07-.89 .07 .55 .07-.87 .07-.03 .07 .52 .07-.38 .07 .41 .07-.55 .07 0 .07 1.34 .07-1.13 .07 .82 .07-.32 .07-.11 .07-.52 .07 1.16 .07-1.07 .07-.11 .07 .13 .07 .05 .07-.04 .07 .63 .07-.76 .07-.07 .07 .1 .07 .61 .07-.39 .07 .09 .07 .49 .07 .17 .07-.02 .07 .26 .07-1 .07-.31 .07 0 .07 1.23 .07-1.09 .07 .66 .07-.5 .07 .04 .07-.26 .07 .03 .07 .01 .07 .97 .07-.52 .07-.33 .07 .23 .07 .88 .07-.66 .07-.31 .07 .04 .07-.33 .07 .2 .07 .78 .07-.35 .07 .5 .07-.3 .07 .16 .07-1.08 .07 0 .07 .07 .07 .87 .07-.89 .07 .61 .07-.52 .07-.14 .07 .51 .07 .07 .07-.58 .07 1.12 .07-1.04 .07-.08 .07 .05 .07 .37 .07-.29 .07 .98 .04-1.11 .03-.09 .07 .72 .07-.36 .07-.12 .07-.75 .07 .72 .07-.15 .07 .81 .07-.99 .07 .55 .07-1.81 .07 1.51 .07-.84 .07 1.59 .07-1.39 .07 .78 .03-5.05 .04 3.22 .07 2.1 .07-2.67 .07 2.73 .07-3.17 .07 2.37 .07-1.02 .07 2.36 .07-3.01 .07 2.8 .07-6.13 .07 5.46 .07-6.29 .07 4.9 .07-6.59 .07 7.01 .02-8.51 .05 2.15 .07 7.29 .07-6.76 .07 6.48 .07-4.76 .07 5.27 .07-9.05 .07 7.74 .07-9.2 .07 9.4 .07-6.74 .07 4.39 .07-12.85 0 6.6 .07 8.83 .07-11.99 .07 8.24 .07-9.86 .07 10.62 .07-6.02 .07 6.65 .07-11 .07 9.46 .07-6.55 .07 7.44 .07-3.79 .04-15.28 .03 20.34 .07-5.52 .07 7.1 .07-12.71 .07 10.41 .07-6.7 .07 2.88 .07-9.3 .07 16.22 .07-12.45 .07 12.12 .07-9.01 .07 8.42 .02-24.46 .05 12.77 .07 10.4 .07-18.48 .07 20.01 .07-17.23 .07 9.7 .07-15.75 .07 22.83 .07-8.27 .05-17.76 .02 24.18 .07-15.75 .07 13.01 .07-4.08 .07 7.45 .07-18.9 .07 17.16 .07-21.55 .07 24.56 .07-27.82 .07 23.57 .07-24.71 .07 20.82 .03-24.59 .04 5.74 .07 18.84 .07-13.5 .07 13.4 .07-21.19 .07 21.55 .07-4.63 .07 5.87 .07-7.94 .07 11.84 .07-10.33 .03-30.73 .04 37.75 .07-15.93 .07 16.35 .06-38.17 .01 21.51 .07 19.53 .07-18.94 .07 19.38 .07-17.11 .07 16.25 .07-18.35 .07 19.98 .04-31.17 .03 21.95 .07 5.44 .07-11.98 .07 18.44 .07-22.55 .07 16.01 .07-20.66 0 4.68 .07 15.33 .07-13.11 .07 16.01 .07-10.84 .07 14.26 .07-9.28 .07 8.79 .07-7.94 .07 5.17 .03-17.53 .04 1.36 .07 18.96 .07-14.25 .07 15.57 .07-8.55 .07 7.56 .05-11.3 .02 7.02 .07 2.94 .07-7.78 .07 7.03 .07-5.94 .07 6.23 .07-7.33 .07 6.12 .07-7.74 .07 11.86 .02-20.2 .05 9.15 .07 5.22 .07-4.77 .07 7.51 .07-4.25 .07 1.57 .04-14.88 .03 6.73 .07 8.98 .07-1.29 .07 4.56 .07-6.98 .07 7.26 .06-10.39 .01 7.04 .07 4.24 .07-7.35 .07 6.45 .07-3.59 .07 5.58 .07-3.43 .02-2.29 .05 5.17 .07-.73 .07 .77 .07-.83 .07 .28 .07 .26 .07 .82 .07-1.02 .07 .63 .05-2.25 .02 1.84 .07 .57 .07-1.66 .07 .77 .07 0 .07 1.24 .07-1.47 .07 .35 .07 .34 .07 .74 .02-.95 .05 .23 .07-.1 .07-.1 .07 1.18 .07-.94 .07 .37 .07-.64 .07 1.02 .07-.31 .07 .45 .07-1.15 .07 1.19 .07-1.11 .07-.09 .07 .73 .07-.25 .07 .16 .07-.51 .07 .32 .07 .14 .07 .1 .07 .41 .07-1.1 .07 .69 .07-.4 .07 .09 .07 .06 .07 .06 .07 .21 .07 .37 .07-1.02 .07-.05 .07 .03 .07 .41 .07 .21 .07 .03 .07-.69 .07 1.24 .07-1.06 .07 .18 .07-.29 .07-.07 .07 .2 .07 .89 .07-.97 .07 .53 .07 .13 .07 .45 .07-.89 .07 .38 .07-.72 .07 .23 .07 .18 .07-.41 .07 .52 .07-.52 .07 .68 .07 .08 .07-.37 .07-.39 .07 0 .07 .81 .07-.72 .07 1.2 .07-.98 .07-.31 .07 .32 .07-.3 .07 .34 .06-.36 .01 1.18 .07-1.18 .07 .11 .07 .27 .07 .37 .07-.7 .07 .36 .07-.2 .07 .14 .07 .14 .07-.03 .07-.27 .07-.19 .07 .55 .07 .64 .07-1.14 .07 1.12 .07-.96 .07-.05 .07-.05 .07 0 .07-.11 .07 .82 .07-.7 .07 .28 .07-.22 .07 .23 .07-.17 .07 .02 .07 .24 .07 .12 .07-.36 .07-.26 .07 .71 .07 0 .07-.47 .07 .45 .07-.69 .07 .4 .07-.4 .07 0 .07 .01 .07 .4 .07 .12 .07-.53 .07 .17 .07 .79 .07-.23 .07 .45 .07-.9 .07 .37 .07-.55 .07 .23 .07-.25 .07-.08 .07 .29 .07 .37 .07-.5 .07 1.08 .07-.71 .07 .15 .07-.67 .07 .53 .07-.19 .07 .73 .07-.9 .07 .17 .07-.32 .07 .34 .07-.15 .07 .4 .07-.11 .07-.26 .07-.25 .07 .32 .07-.32 .07 .34 .07-.34 .07 .45 .07-.39 .07 .13 .07-.19 .07 1.17 .07-1.17 .07 .42 .07-.18 .07 .26 .07-.5 .07 .67 .07-.03 .07-.64 .07 .73 .07-.28 .07-.45 .07 1.36 .07-1.24 .07-.12 .07 .07 .07 1.07 .07-.19 .07-.32 .07-.14 .07 .47 .07-.96 .07 .89 .07-.74 .07-.15 .07 .93 .07-.5 .07-.43 .07 1.21 .05-1.21 .02 .14 .07 .75 .07-.73 .07 .93 .07-1.87 .07 1.11 .07-.6 .07 .61 .07-1.3 .07 .7 .07-1.3 .07 2.27 .07-3.74 .07 3.07 .07-1.08 .07 .8 .04-4.63 .03 3.1 .07 2.97 .07-5.15 .07 4.29 .07-1.72 .07 1.57 .07-5.03 .07 5.71 .07-3.65 .07 3.15 .07-3.8 .07 3.89 .07-4 .07 4.38 .07-3.79 .07 1.44 .03-7.8 .04 6.7 .07 1.57 .07-6.69 .07 6.51 .07-5.25 .07 3.58 .07-1.77 .07 3.68 .07-4.94 .06-7.82 .01 13.19 .07-4.43 .07 1.88 .07-5.47 .07 7.59 .07-11 .07 11 .02-17.19 .05 4.5 .07 11.04 .07-10.46 .07 8.89 .07-5.58 .07 8.27 .07-6.78 .07 7.53 .07-12.31 .05-12.86 .02 21.6 .07-5.66 .07 7.64 .07-18.17 .07 20.8 .07-17.45 .07 15.62 0-29.92 .07 10.74 .07 12.78 .07-11.46 .07 19.34 .07-20.95 .07 18.5 .07-33.74 .07 34.45 .07-37.22 .04-1.31 .03 29.03 .07-7.63 .07 10.7 .07-11.66 .07 9.15 .01-37.34 .06 10.07 .07 30.08 .07-21.88 .04-18.27 .03 39.2 .07-12.11 .07 7.33 .07-11.69 .07 22.02 .07-13.59 .07 12.71 .07-32.59 .03-6.85 .04 43.48 .07-26.66 .07 20.03 .07-26.58 .07 29.64 .07-24.2 .05-12.39 .02 36.12 .07-15.78 .07 11.11 .07-2.85 .07 3.93 .07-21.54 .07 24.38 0-30.93 .07 12.59 .07 18.62 .07-10.45 .02-7.09 .05 21.57 .07-10.87 .07 3.73 .07-4.8 .07 10.28 .07-25.89 .07 20.9 .07-23.97 .07 31.11 .05-44.6 .02 25.38 .07 18.64 .07-26.03 .07 25.84 .07-22.28 .02-44.16 .05 51.59 .07-36.19 .07 38.08 .05-53.48 .02 25.83 .07 26.71 .07-13 .07 20.71 .07-35.93 .03-3.92 .04 36.53 .07-23.51 .07 32.92 .07-19.36 .07 17.02 .07-18.6 .07 21.5 .07-20.82 .07 13.5 .06-24.78 .01 8.73 .07 23.29 .07-12.63 .07 3.86 .07-8.35 .07 11.98 .07-13.06 .02-4.95 .05 16.87 .07-5.58 .07 11.92 .07-12.73 .07 9.29 .07-9.83 .04-2.18 .03 14.91 .07-6.75 .07 4.79 .07-.42 .07 4.26 .07-8.2 .07 7.76 .07-7.66 .07 6.9 .07-3.86 0-6.86 .07 8.6 .07-1.54 .07 1.93 .07-5.35 .07 8 .07-6.32 .07 5.54 .07-6.36 .07 6.4 .04-6.91 .03 3.65 .07 2.79 .07-1.46 .07 1.32 .07-1.73 .07 2.01 .07-4.13 .07 4.96 .07-3.41 .07 3.11 .07-2.04 .07 2.06 .07-3.13 .07 3.59 .07-.82 .07 .33 .03-3.11 .04 2.68 .07 .54 .07-.68 .07 1.05 .07-2.56 .07 2.46 .07-.35 .07 .35 .07-1.78 .07 1.82 .07-.79 .07 .34 .07 .55 .07-.52 .07-.32 .07 1.11 .02-1.24 .05 .49 .07-.3 .07 .22 .07 1.16 .07-.7 .07-.25 .07-.32 .07 .76 .07-.14 .07-.08 .07-.66 .07 1.17 .07-.62 .07-.42 .07 .37 .07-.13 .07 .29 .07-.23 .07 .05 .07 .3 .07-.77 .07 1.26 .07-.22 .07 .45 .07-1.38 .07 1.19 .07-.92 .07 .32 .07-.26 .07 .48 .07-.49 .07 .34 .07-.61 .07 1.34 .07-1.07 .07 .76 .07-1.04 .07 .24 .07-.05 .07 1.26 .07-1.33 .07 .76 .07-.56 .07-.37 .07 .26 .07 .33 .07-.58 .07 .63 .07-.62 .07 1.38 .07-1.33 .07 .75 .07-.67 .07 .61 .07-.16 .07 .67 .07-.31 .07 .2 .07-.92 .07 .95 .07-.47 .07 .56 .07-1.14 .07 1.29 .07-.47 .07 .39 .07-1.17 .07 1.18 .07-1.03 .06-.18 .01 .51 .07 .16 .07-.62 .07 .31 .07 .88 .07-.76 .07 .71 .07-.97 .07 .05 .07 .75 .07-.88 .07-.04 .07 .43 .07 .26 .07 .15 .07-.94 .07 .23 .07-.23 .07 .02 .07-.02 .07 .99 .07-.63 .07-.36 .07 .24 .07-.1 .07 .5 .07-.64 .07 .03 .07 .79 .07-.49 .07 .65 .07-.98 .07 .93 .07-.34 .07-.59 .07 .21 .07 .36 .07-.16 .07 .06 .07 .4 .07-.21 .07-.2 .07 0 .07-.28 .07-.18 .07 .36 .07-.36 .07 0 .07 .02 .07 0 .07-.02 .07 .45 .07-.27 .07-.18 .07 0 .07 .74 .07 .14 .07-.3 .07-.58 .07 .95 .07 .01 .07-.16 .07 .2 .07-.16 .07-.31 .07 .23 .07-.76 .07 0 .07 1.05 .07-.88 .07 .04 .07 .03 .07 .4 .07-.34 .07-.15 .07 .86 .07-.22 .07-.01 .07 .06 .07-.84 .07 .41 .07-.26 .07 .84 .07-.62 .07-.42 .07-.45 .07 1.54 .07-1.24 .07 .65 .07-.73 .07 .35 .07-.62 .07 .84 .07-1.13 .07 1.34 .06-5.37 .01 2.72 .07 2.02 .07-1.64 .07 1.5 .07-1.35 .07 1.46 .07-2.88 .07 2.85 .07-3.16 .07 3.74 .07-4.61 .07 5.27 .07-3.39 .07 1.86 .07-7.1 .07 6.85 .05-8.58 .02 5.98 .07 2.52 .07-2.84 .07 3.22 .07-5.43 .07 5.38 .07-6.28 .07 6.64 .07-10.49 .07 11.26 .01-15.5 .06 2.89 .07 8.21 .07-1.37 .07 .93 .07-3.88 .07 7.43 .04-19.75 .03 15.13 .07 1.98 .07-3.6 .07 2.54 .07-4.18 .07 5.46 .07-9 .07 8.85 .07-10.53 .07-19.95 0 32.91 .07-20.16 .07 13.48 .07-12.52 .07 13.78 .07-16.63 .07 17.96 .03-37.68 .04 20.1 .07 19.95 .07-26.57 .07 13.84 .07-.96 .07 3.03 .07-25.86 .07 23.89 .07-27.9 .06-5.06 .01 32.08 .07-19.62 .07 24.7 .07-19.77 .07 24.69 .07-18.29 .07 16.6 .01-42.61 .06 16.61 .07 22.17 .07-12.25 .07 15.89 .07-26.56 .07 27.65 .07-25.45 .07 18.37 .07-33.44 .05-3.65 .02 45.2 .07-29.69 .07 19.19 .07-25.23 .07 32.21 .07-14.27 .07-27.86 0 39.37 .07-31.1 .07 40.78 .07-30.66 .07 24.61 .07-23.61 .07 30.36 .07-23.49 .07 14.78 .07-12.05 .04-24.55 .03 40.41 .07-19.68 .07 14.77 .07-10.41 .07 20.23 .07-37.11 .06-4.89 .01 33.6 .07-11.06 .07 18.99 .07-25.91 .07 25.75 .07-15.65 .07 16.89 .07-24.27 .07 15.05 .07-9.59 .02-17.15 .05 28.76 .07-16.03 .07 13.79 .07-1.4 .07 6.1 .07-17.31 .05-8.37 .02 27.37 .07-19.55 .07 19.66 .07-24.71 .07 24.96 .07-12.75 .07 16.81 .07-17.04 .07 11.35 .07-11.35 .01-15.19 .06 28.82 .07-14.98 .07 12.43 .07-5.74 .06-21.2 .01 24.7 .07-16.74 .07 22.32 .07-20.82 .02-9.46 .05 30.49 .07-12.82 .07 13.74 .07-14.67 .07 12.47 .07-13.47 .07 9.56 .07-15.32 0 2.65 .07 20.1 .07-7.98 .07 2.62 .07-3.03 .07 8.59 .07-8.87 .02-5.22 .05 12.91 .07-7.38 .07 7.08 .07-2.89 .07 1.68 .07-5.23 .07 5.97 .07-.53 .07 1.12 .06-7.85 .01 2.43 .07 6.22 .07-4.25 .07 4.21 .07-1.27 .07 2.5 .07-2 .01-3.85 .06 5.05 .07-2.34 .07 3.13 .07-3.19 .07 2.75 .07-2.69 .07 2.1 .07-.89 .07 1.77 .07-.66 .07-.17 .07-1.63 .06-.13 .01 2.15 .07-1.48 .07 .95 .07-.49 .07 .85 .07-.74 .07 .81 .07 .27 .07-.21 .07-.55 .07 .23 .07-.01 .07-.06 .04 .05 .03 .25 .07-.03 .07-.22 .07 .45 .07 .2 .07 .55 .07-1.06 .07 .17 .07-.14 .07-.17 .07 .36 .07 .65 .07-.2 .07-.81 .07 .69 .07 .25 .07-.6 .07 .54 .07 .11 .07-.99 .07 0 .07 0 .07 .18 .07-.18 .07 .14 .07 .83 .07-.45 .07 .34 .07-.15 .07-.41 .07-.3 .07 1.09 .07-.76 .07-.12 .07-.18 .07 .28 .07-.31 .07 .48 .07 .18 .07-.66 .07 .07 .07 .21 .07-.26 .07-.02 .07 0 .07 .16 .07 .01 .07-.06 .07 .97 .07-.78 .07-.3 .07 .59 .07-.24 .07-.35 .07 .25 .07 .89 .07-.4 .07-.13 .07-.19 .07 .26 .07 .14 .07-.82 .07 .04 .07 .78 .07-.36 .07 .74 .07-1.19 .07 .59 .07-.41 .07 .86 .01-1.05 .06 .39 .07 .18 .07 .03 .07 .25 .07-.75 .07 .62 .07-.39 .07-.23 .07 .55 .07 .05 .07-.24 .07-.55 .07 .54 .07-.6 .07 .41 .07-.43 .07 .83 .07-.86 .07 .91 .07-.84 .07-.1 .07 .34 .07 .03 .07 .41 .07-.14 .07 .78 .07-1.2 .07 1.01 .07-.77 .07 .21 .07-.05 .07 .81 .07-.36 .07-.64 .07 .39 .07-.6 .07 .71 .07-.31 .07-.4 .07 .07 .07 .19 .07 .11 .07 .6 .07-1.1 .07 .45 .07 .1 .07-.07 .07-.2 .07 .46 .07-.87 .07 .14 .07 1.07 .07-1.08 .07 .48 .07 .13 .07 .55 .07-1.6 .07 1.12 .07 .29 .07 .04 .07-.67 .07-.23 .07 .21 .07-.26 .07 .03 .07 .13 .07 .39 .07-.17 .07 .48 .07-1.02 .07 .63 .07-.3 .07 .38 .07 .56 .07-1.11 .07-.05 .07 .95 .07 .09 .07-1.68 .02-.11 .05 .91 .07-.49 .07 1.29 .07-.92 .07 .26 .07-1.44 .07 2.22 .07-1.66 .07 1.54 .07-2.35 .07 1.93 .07-1.78 .07 1.73 .07-2.35 .07 2.12 .07-.82 .07 1.08 .07-1.53 .07 2.4 .07-1.49 .07 1.06 .07-3.31 .03-1.28 .04 4.76 .07-3 .07 3.09 .07-4.04 .07 3.13 .07-3.76 .07 4.16 .07-3.99 .07 3.63 .07-4.5 .07 4.46 .07-3.71 .07 3.61 .07-1.99 .07 1.05 .07-4.13 .07 4.5 .07-4.43 .07 5.34 .03-7.51 .04 2.59 .07 5.24 .07-4.91 .07 3.46 .07-2.93 .07 3.54 .07-5.52 .07 4.61 .07-2.03 .07 3.52 .07-4.26 .07 3.33 .07-4.11 .01-5.85 .06 9.58 .07-1.69 .07 3.06 .07-3.31 .07 3.4 .07-10.76 .07 10.97 .07-9.83 .07 6.87 .05-11.62 .02 4.32 .07 8.24 .07-7.79 .07 7.14 .07-3.27 .07 .27 .07-7.76 .07 7.73 .07-12.31 .07 17.97 .01-24.51 .06 10.01 .07 6.52 .07-4.31 .07 7.08 .07-6.34 .07 4.58 .03-25.3 .04 7.12 .07 23.17 .07-19.09 .07 20.54 .07-16.98 .07 9.06 .07-13.72 .07 17.53 .07-19.33 .07 20.57 .07-15.42 .07 11.79 .07-10.63 .01-20.15 .06 26.14 .07-17.55 .07 17.75 .07-4.49 .07 4.61 .07-7.65 .07 10.43 .07-32.57 0 13.73 .07 19.35 .07-22.11 .07 19.58 .03-30.55 .04 27.99 .07 3.36 .07-5.62 .07 3.62 .07-20.23 .07 25.11 .07-13.37 .07 14.96 .01-33.6 .06 2.58 .07 29.89 .07-12.71 .07 17.47 .07-23 .07 15.42 .03-28.54 .04 19.67 .07 13.3 .07-10.93 .07 10.65 .07-17.09 .07 16.47 .07-23.67 .07 22.96 .07-9.7 .07-16.12 0 23.1 .07-4.79 .07 7.72 .07-15.6 .07 21.28 .07-11.95 .07 11.59 .02-18.23 .05 3.87 .07 11.7 .07-6.04 .07 6.69 .07-5.68 .07 2.7 .07-8.79 .07 9.35 .07-17.57 .06-16 .01 29.5 .07-21.15 .07 25.68 .07-16.87 .07 13.58 .07-20.51 .07 22.22 .07-15.89 .04-33.85 .03 49.35 .07-30.33 .07 24.7 .07-43.72 0 9.41 .07 39.47 .07-21.62 .07 22.68 .07-25.72 .05-13.58 .02 38.58 .07-9.57 .07 13.55 .07-13.19 .07 4.32 .07-15.53 .07 19.77 .07-15.79 .07 16.58 .07-23.82 .01-8.25 .06 30.05 .07-13.71 .07 16.21 .07-18.41 .07 21.44 .07-17.59 .03-9.12 .04 21.4 .07-15.62 .07 17.14 .07-18.75 .07 20.14 .07-13.11 .06-4.55 .01 18.3 .07-4.08 .07 6.13 .07-13.52 .07 15.8 .07-9.19 .07 9.44 .01-14.02 .06 3.65 .07 7.95 .07-5.83 .07 7.24 .07-3.06 .07 3.52 .03-4.6 .04 .98" stroke="#000" stroke-width="1.05" fill="none" stroke-linejoin="round"/>
<rect x="428.65" y="24.4" width="334.9" height="76.05" fill="none" stroke="#333" stroke-width="0.75"/>
<rect x="428.65" y="3.55" width="334.9" height="20.85" fill="#d9d9d9" stroke="#333" stroke-width="0.75"/>
<text x="596.1" y="19.05" text-anchor="middle" font-size="14.45" fill="#1a1a1a">Caatinga</text>
<path d="M425.75 97.5H428.65M425.75 77.05H428.65M425.75 56.6H428.65M425.75 36.15H428.65M469.24 100.45V103.35M519.99 100.45V103.35M570.73 100.45V103.35M621.47 100.45V103.35M672.21 100.45V103.35M722.96 100.45V103.35" stroke="#444" stroke-width="0.95" fill="none"/>
<text x="423.85" y="102.4" text-anchor="end" font-size="14.4" fill="#4d4d4d">0</text>
<text x="423.85" y="81.95" text-anchor="end" font-size="14.4" fill="#4d4d4d">200</text>
<text x="423.85" y="61.5" text-anchor="end" font-size="14.4" fill="#4d4d4d">400</text>
<text x="423.85" y="41.05" text-anchor="end" font-size="14.4" fill="#4d4d4d">600</text>
<text x="469.24" y="115.8" text-anchor="middle" font-size="14.4" fill="#4d4d4d">2012</text>
<text x="519.99" y="115.8" text-anchor="middle" font-size="14.4" fill="#4d4d4d">2014</text>
<text x="570.73" y="115.8" text-anchor="middle" font-size="14.4" fill="#4d4d4d">2016</text>
<text x="621.47" y="115.8" text-anchor="middle" font-size="14.4" fill="#4d4d4d">2018</text>
<text x="672.21" y="115.8" text-anchor="middle" font-size="14.4" fill="#4d4d4d">2020</text>
<text x="722.96" y="115.8" text-anchor="middle" font-size="14.4" fill="#4d4d4d">2022</text>
</g>
<g>
<path d="M59.9 204.8H394.55M59.9 179.1H394.55M59.9 153.4H394.55M75.11 144.9V221M125.82 144.9V221M176.52 144.9V221M227.23 144.9V221M277.93 144.9V221M328.63 144.9V221M379.34 144.9V221" stroke="#ebebeb" stroke-width="0.55" fill="none"/>
<path d="M59.9 217.65H394.55M59.9 191.95H394.55M59.9 166.25H394.55M100.46 144.9V221M151.17 144.9V221M201.87 144.9V221M252.58 144.9V221M303.28 144.9V221M353.99 144.9V221" stroke="#ebebeb" stroke-width="1.05" fill="none"/>
<path d="M75.11 216.54l.07 0 .07 .21 .07-.19 .07 .18 .07-.2 .07 .15 .07-.05 .07 .08 .07-.07 .07 .06 .07-.17 .07 .16 .07-.09 .07 .06 .07-.19 .07 .17 .07-.11 .07 .14 .07-.18 .07 .15 .07-.15 .07 .18 .07-.13 .07 .08 .07-.09 .07 .06 .07-.11 .07 .12 .07-.18 .07 .09 .07-.09 .07 .25 .07-.22 .07 .18 .07-.1 .07-.04 .07-.07 .07 .18 .07-.23 .07 .16 .07-.03 .07 .09 .07-.05 .07 .06 .07-.17 .07 .13 .07-.22 .07 .27 .07-.21 .07 .2 .07-.13 .07 .08 .07-.1 .02-.14 .05 .17 .07-.12 .07 .2 .07-.3 .07 .23 .07-.15 .07 .11 .07-.17 .07 .17 .07-.12 .07 .11 .07-.25 .07 .16 .07-.13 .07 .16 .07-.11 .07 .09 .07-.33 .07 .3 .07-.17 .07 .16 .07-.33 .07 .31 .07-.14 .07 .08 .07-.13 .07 .03 .07-.28 .07 .25 .07-.21 .07 .23 .07-.37 .07 .37 .07-.41 .07 .36 .07-.4 .07 .32 .07-.25 .07 .22 .07-.27 .07 .38 .07-.38 .07 .27 .07-.23 .07 .3 .07-.49 .07 .32 .05-.45 .02 .15 .07 .23 .07-.21 .07 .25 .07-.5 .07 .51 .07-.47 .07 .41 .07-.5 .07 .57 .07-.65 .07 .52 .07-.5 .07 .46 .07-.48 .07 .59 .07-.17 .07 .22 .07-.07 .07 .21 .07-.46 .07 .37 .07 .06 .07 .19 .07-.35 .07 .34 .07-.39 .07 .38 .07-.47 .07 .05 .07-.46 .07 .4 .03-1.1 .04 .89 .07 .08 .07-.45 .07 .67 .07-.72 .07 .57 .07-.45 .07 .4 .07-.65 .07 .17 .07-.84 .07 .67 .07-.56 .07 .33 .07-.76 .07 .89 .07-.18 .07 .83 .07-.9 .07 .69 .07-.38 .07 .2 .07-1.04 .07 .52 .07-1.04 .07 .72 .07-1.06 .07 1.49 .07-1.07 .07 1.86 .07-.68 .07 .8 .01-3.2 .06 2.68 .07 .21 .07-.15 .07-.48 .07-.79 .07 .65 .07-1.72 .07 1.69 .07-2.29 .07 2.12 .07-.52 .07 1.23 .07-.83 .07 .78 .07-.52 .07-3.51 0 3.54 .07-2.8 .07 2.37 .07-1.83 .07 1.24 .07-2.18 .07 2.3 .07-.2 .07 .75 .07-1.97 .07 1.63 .07-1.68 .07 1.66 .07-.98 .07 1.86 .07-1.33 .05-3.18 .02 4.49 .07-1.91 .07 1.23 .07-1.51 .07 .76 .07-1.53 .07 2.12 .07-2.77 .07 2.56 .07-2.1 .07 2.36 .07-4.71 .07 3.69 .03-6.53 .04 4.27 .07 1.17 .07-1.79 .07 3.51 .07-7.83 .07 7.02 .07-4.48 .07 4.04 .07-6.04 .07 4.98 .07-2.73 .07 4.46 .07-5.83 .01-6.26 .06 12.29 .07-3.72 .07 2.76 .07-9.34 .07 9.62 .07-13.57 .07 10.69 .07-8.7 .07 7.94 .04-16.73 .03 11.45 .07 4.96 .07-5.31 .07 9.94 .07-15.15 .07 11.12 .06-21.05 .01 12.64 .07 10.68 .07-8.89 .07 8.28 .07-2.23 .07 2.22 .07-10 .02-15.17 .05 25.81 .07-6.69 .07 4.75 .07-17.4 0-23.5 .07 38.21 .07-7.66 .07 8.59 .07-17.39 .07 16.52 .01-38.27 .06 19.3 .07 23.38 .07-27.88 .06-4.08 .01 32.49 .07-12.8 .07 14.91 .07-20.98 .01-13.26 .06 34.13 .07-12.67 .07 12.11 .07-22.47 .07 21.94 .07-18.51 .03-14.71 .04 29.6 .07-3.77 .07 3.37 .07-10.99 .02-23.57 .05 39.27 .07-31.02 .07 24.23 .07-20.17 .07 28.19 .02-40.5 .05 31.51 .07 4.84 .07-10.17 .07 10.21 .01-13.19 .06 4.5 .07 11.58 .07-10.46 .07 8.31 .07-7.47 .07 7.7 .03-12.32 .04 10.18 .07 2.08 .07-1.4 .07 3.05 .07-4.65 .07 3.49 .07-1.07 .07 2.62 .07-3.57 .06-2.51 .01 5.46 .07-2.17 .07 2.37 .07-1.85 .07 2.97 .07-1.96 .07 2.3 .02-3.83 .05 3.14 .07 .39 .07-.44 .07 .86 .07-1.01 .07 .78 .07-.29 .07 .85 .07-.77 .07 .86 .07-.65 .07 1.08 .06-2.18 .01 1.75 .07 .54 .07-.52 .07-.06 .07-.01 .07 .23 .07-.02 .07 .46 .07-.7 .07 .75 .03-.7 .04 .4 .07 .31 .07-.35 .07 .43 .07-.56 .07 .65 .07-.18 .07 .22 .07-.23 .07 .13 .07-.27 .07 .43 .07-.38 .07 .46 .07-.19 .07 .31 .07-.43 .07 .42 .07-.38 .07 .38 .07-.22 .07 .22 .07-.06 .07 .27 .07-.25 .07 .29 .07-.11 .07 .08 .07-.23 .07 .29 .07-.13 .07 .26 .01-.36 .06 .05 .07 .23 .07-.11 .07 .19 .07-.29 .07 .31 .07-.26 .07 .14 .07-.16 .07 .25 .07-.11 .07 .12 .07-.31 .07 .34 .07-.22 .07 .12 .07-.19 .07 .2 .07-.02 .07 .04 .07-.14 .07 .21 .07-.12 .07 .15 .07-.28 .07 .27 .07-.29 .07 .22 .07-.19 .07 .21 .07-.09 .07 .07 .07-.19 .07 .11 .07-.02 .07 .14 .07-.22 .07 .27 .07-.15 .07 .08 .07-.11 .07 .21 .07-.16 .07 .12 .07-.2 .07 .25 .07-.25 .07 .18 .07-.04 .07 .11 .07-.12 .07 .14 .07-.29 .07 .29 .07-.24 .07 .25 .07-.11 .07 .11 .07-.17 .07 .13 .07-.14 .07 .15 .07-.19 .03-.06 .04 .19 .07-.02 .07 .07 .07-.12 .07 .11 .07-.15 .07 .04 .07-.25 .07 .21 .07-.19 .07 .16 .07-.2 .07 .24 .07-.17 .07 .1 .07-.23 .07 .16 .07-.25 .07 .32 .07-.33 .07 .34 .07-.37 .07 .29 .07-.2 .07 .24 .07-.37 .07 .22 .07-.2 .07 .17 .07-.21 .07 .2 .07-.35 .07 .32 .07-.32 .07 .25 .07-.25 .07 .32 .07-.45 .07 .41 .07-.32 .07 .23 .07-.21 .07 .27 .07-.27 .07 .16 .07-.31 .07 .39 .06-.56 .01 .32 .07 .11 .07-.13 .07 .04 .07-.21 .07 .34 .07-.31 .07 .29 .07-.27 .07 .09 .07-.48 .07 .42 .07-.32 .07 .42 .07-.45 .07 .35 .07-.35 .07 .29 .07 .5 .07 .22 .07-.14 .07 .15 .07-.23 .07 .24 .07-.22 .07 .11 .07-.14 .07 .08 .07-.11 .07 .08 .07-.15 .07-.57 .04-.99 .03 .86 .07 .19 .07-.81 .07 .64 .07-.52 .07 .56 .07-.69 .07 .78 .07-.8 .07 .79 .07-.89 .07 .72 .07-.66 .07 .24 .07-.71 .07 .74 .07-1.15 .07 1.03 .07 .49 .07 .45 .07-.46 .07 .26 .07-.57 .07 .6 .07-.53 .07 .09 .07-.59 .07 .37 .07-.21 .07 .38 .07-.59 .07 .63 .02-2.3 .05 1.46 .07 .49 .07-1.67 .07 1.63 .07-2.06 .07 1.82 .07-1.91 .07 1.54 .07-1.79 .07 1.67 .07-1.83 .07 1.61 .07-2.97 .07 2.02 .07-2.72 .07 3.5 0-5.07 .07 2.89 .07 1.13 .07 .48 .07 .6 .07-2.47 .07 2.35 .07-2.69 .07 2.39 .07-2.66 .07 2.69 .07-6.15 .07 4.03 .07-4.57 .07 6.69 .07-7.49 .06-3.72 .01 9.54 .07-3.93 .07 4.12 .07-7.07 .07 7.61 .07-6.22 .07 3.83 .07-6.62 .07 5.33 .07-4.61 .03-7.52 .04 12.99 .07-9.11 .07 9.63 .07-11.54 .07 11.38 .07-3.49 .05-14.41 .02 18.01 .07-5.03 .07 2.6 .07-12.95 .07 13.6 .07-12.34 .07 16.77 .07-12.06 .07 11.44 .07-19.04 .02-9.75 .05 26.77 .07-13.1 .07 16.56 .07-7.87 .07 6.84 .07-20.88 .04-12.37 .03 27.87 .07-3.85 .07 9.46 .07-14.59 .07 15.66 .07-18.3 .07 16.3 .07-18.38 .07 18.41 .07-15.89 0-18.65 .07 29.11 .07-16.25 .07 19.2 .07-18.7 .07 17.97 .07-53.3 0 6.57 .07 38.96 .07-18.97 .07 32.76 .07-49.37 .07 34.23 .07-28.99 .01-15.19 .06 60 .07-16.29 .07 13.15 .06-34.89 .01 14.92 .07 20.35 .07-12.37 .07 8.61 .07-11.52 .07 15.94 .07-7.98 .02-25.99 .05 26.63 .07-9.48 .07 16.83 .07-18.76 .07 15.79 .07-9.29 .07 10.81 .07-12.9 .07 10.04 .05-20.8 .02 14.55 .07 6.21 .07-8.44 .07 10.35 .07-7.76 .07 7.78 .07-10.98 0-6.06 .07 15.65 .07-6.91 .07 9.27 .07-6.39 .07 6.34 .07-1.94 .07 3.34 .07-2.08 .07 1.57 .04-10.59 .03 7.42 .07 2.69 .07-3.53 .07 5.13 .07-3.58 .07 3.67 .06-7.26 .01 4.84 .07 1.99 .07-2.57 .07 2.95 .07-2.58 .07 2.2 .07-1.61 .07 2.5 .07-2.38 .07 2.03 .03-2.79 .04 1.28 .07 1.67 .07-.05 .07 .8 .07-.63 .07 1.85 .05-1.35 .02 1.12 .07 .3 .07-.16 .07 .26 .07-.17 .07 .34 .07-.09 .07 .24 .07-.34 .07 .33 .07-.83 .07 .21 .07-.25 .07 .38 .07-.5 .07 .46 .04-.51 .03 .26 .07 .24 .07-.27 .07 .35 .07-.51 .07 .38 .07-.12 .07 .32 .07-.31 .07 .12 .07-.09 .07 .2 .07-.17 .07 .18 .07-.45 .07 .51 .03-.55 .04 .02 .07 .38 .07-.26 .07 .45 .07-.36 .07 .36 .07-.49 .07 .49 .07-.21 .07 .03 .07-.36 .07 .48 .07-.3 .07 .27 .07-.31 .07 .35 .07-.4 .07 .47 .07-.6 .07 .4 .07-.25 .07 .25 .07-.09 .07 .25 .07-.46 .07 .46 .07-.49 .07 .37 .03-1.33 .04 .57 .07 .5 .07-.26 .07 .93 .07-.37 .07 .37 .07-.31 .04-1.43 .03 1.82 .07-.24 .07 .32 .07-.31 .07 .32 .07-.31 .07 .31 .07-.26 .07 .16 .07-.09 .07 .14 .07-.28 .06-.03 .01 .31 .07-.14 .07 .18 .07-.24 .07 .22 .07-.15 .07 .2 .07-.25 .07 .25 .07-.27 .07 .2 .07-.1 .07 .16 .07-.16 .07 .12 .07-.08 .07 .06 .07-.16 .07 .2 .07-.17 .07 .16 .07-.13 .07 .13 .07-.14 .07 .12 .07-.11 .07 .16 .07-.04 .07 .06 .07-.14 .07 .15 .07-.08 .07 .06 .07-.04 .07 .08 .07-.15 .07 .07 .07-.01 .07 .06 .07-.09 .07 .16 .07-.1 .07 .02 .07-.11 .07 .19 .07-.19 .07 .15 .07-.08 .03-.12 .04 .23 .07-.16 .07 .15 .07-.25 .07 .19 .07-.23 .07 .2 .07-.19 .07 .18 .07-.13 .07 .17 .07-.15 .07 .11 .07-.15 .07 .14 .07-.25 .07 .21 .07-.13 .07 .06 .07-.26 .07 .27 .07-.15 .07 .12 .07-.13 .07 .19 .07-.33 .07 .34 .07-.25 .07 .2 .07-.33 .07 .2 .07-.29 .07 .31 .07-.28 .07 .32 .07-.18 .07 .17 .07-.29 .07 .21 .07-.2 .07 .18 .07-.13 .07 .19 .07-.37 .07 .32 .07-.44 .07 .35 .07-.28 .07 .35 .07-.38 .07 .33 .07-.18 .07 .15 .07-.29 .07 .26 .07-.35 .07 .26 .07-.39 .07 .53 .07-.57 .07 .52 .07-.27 .07 .09 .05-.41 .02 .07 .07 .46 .07-.41 .07 .23 .07-.24 .07 .33 .07-.57 .07 .58 .07-.53 .07 .48 .07-.34 .07 .23 .07-.18 .07 .18 .07 .41 .07 .17 .07-.16 .07 .21 .07-.13 .07 .04 .07-.18 .07-.23 .07-.31 .07 .14 .07-.34 .07 .44 0-1.22 .07 .87 .07-.02 .07-.35 .07 .28 .07-.4 .07 .31 .07-.93 .07 .62 .07 .49 .07 .19 .07-.24 .07 .06 .07-.23 .07 .25 .07-.02 .07 .25 .07-.42 .07 .45 .07-.62 .07 .59 .07-1.09 .07 .57 .01-2.61 .06 2.43 .07 .09 .07-.72 .07 .64 .07-.5 .07-.66 .07-.95 .07 1.3 .07-1.62 .07 1.28 .07-1.61 .07 1.86 .07-1.82 .07 1.55 .07-2.04 .07 1.67 0-2.69 .07 2.07 .07 .74 .07-1.02 .07 1.15 .07-1.29 .07 1.91 .07-1.34 .07 1.31 .07-1.95 .07 .87 .07-1.2 .07 1.96 .07-1.66 .07 .42 .07-.73 .06-4.08 .01 6.25 .07-1.59 .07 1.21 .07-.99 .07 .8 .07-.44 .07-.99 .07-2 .07 2.01 .07-2.88 .07 3.68 .07-2.53 .07 3.05 .04-7.03 .03 4.95 .07 2.25 .07-2.76 .07 2.83 .07-2.15 .07 1.83 .07-4.53 .07 2.82 .07-3.26 .07-2.78 0 6.68 .07-4.19 .07 3.96 .07 .14 .07 1.46 .07-.86 .07 .49 .07-2.59 .07 2.09 .07-.33 .04-7.98 .03 6.07 .07-5.74 .07 6.43 .07-5.48 .07 6.74 .07-4.07 .03-16.34 .04 17.02 .07-7.08 .07 9.78 .07-13.82 .07 12.18 .07-12.5 .07 13.73 .04-19.31 .03 8.63 .07 11.65 .07-4.25 .07 2.86 .07-9.15 .07 10.19 .04-16.75 .03 5.03 .07 8.64 .07-5.95 .07 9.77 .07-13.31 .07 9.51 .06-13.49 .01 5.9 .07 9.12 .07-3.18 .07 2.37 .07-5.43 .07 7.26 .07-6.29 .07 8.22 .07-2.79 .07 3.08 .02-7.51 .05 5.82 .07 1.51 .07-.51 .07 .94 .07-.28 .07 .58 .05-3.52 .02 3.47 .07 .67 .07-.67 .07 .56 .07-2.76 .07 2.02 .07-.98 .07 1.02 .07-.96 .07 1.21 .07-1.68 .07 1.16 .07-1.12 .02-.57 .05 2.39 .07-1.65 .07 1.18 .07-.89 .07 2.08 .07-.51 .07 .44 .07-.47 .07 .78 .06-2.78 .01 2.17 .07 .06 .07-1.22 .07 1.03 .07-.6 .07 .61 .07-.44 .07 .14 .07-.48 .07 .84 .07-1.55 .07 1.31 .07-.64 .04-2.16 .03 2.52 .07 .22 .07 .43 .07-.9 .07 .95 .07-.69 .03-3.81 .04 3.98 .07-1.81 .07 1.13 .07-1 .07 .47 .07-1.02 .07 1.24 .04-2.99 .03 4.83 .07 .41 .07-.64 .07 .52 .07-.18 .07 .21 .07-.39 .07 .41 .07-.44 .05-.23 .02 .65 .07-.6 .07 .64 .07-.51 .07 .61 .07-.58 .07 .51 .07-.49 .07 .49 .07-.21 .07 .37 .07-.45 .07 .37 .02-.43 .05 .3 .07 .24 .07-.26 .07 .24 .07-.27 .07 .39 .07-.36 .07 .27 .07-.08 .07 .13 .07-.16 .07 .16 .07-.13 .07 .16 .07-.06 .07 .06 .07-.17 .07 .21 .07-.21 .07 .35 .07-.21 .07 .19 .07-.3 .07 .27 .07-.21 .07 .33 .07-.14 .07 .14 .07-.29 .07 .26 .07-.25 .07 .34 .07-.13 .07 .13 .07-.27 .07 .26 .07-.12 .07 .14 .07 0 .07 .07 .07-.25 .07 .28 .07-.21 .07 .27 .07-.14 .07-.01 .07-.01 .06-.06 .01 .23 .07-.12 .07 .17 .07-.26 .07 .05 .07-.01 .07 .11 .07-.06 .07 .16 .07-.12 .07 .03 .07-.16 .07 .24 .07-.31 .07 .3 .07-.22 .07 .13 .07-.17 .07 .17 .07-.21 .07 .21 .07-.26 .07 .33 .07-.2 .07 .15 .07-.13 .07 .09 .07-.16 .07 .19 .07-.14 .07 .1 .07-.24 .07 .26 .07-.15 .07 .07 .07-.12 .07 .13 .07-.25 .07 .28 .07-.21 .07 .17 .07-.09 .07 .13 .07-.12 .07 .1 .07-.14 .07 .09 .07-.07 .02-.19 .05 .27 .07-.24 .07 .25 .07-.17 .07 .02 .07-.12 .07 .15 .07-.24 .07 .19 .07-.4 .07 .32 .07-.45 .07 .37 .07-.34 .07 .28 .07-.41 .07 .41 .07-.33 .07 .22 .07-.45 .07 .41 .07-.36 .07 .38 .07-.35 .07 .3 .07-.55 .07 .48 .07-.04 .07 .36 .07-.33 .07 .28 .07-1.13 0 .78 .07 .53 .07-.21 .07 .2 .07-.33 .07 .32 .07-.44 .07 .17 .07-.57 .07 .43 .07-.28 .07 .29 .07-.69 .07 .6 .07-.5 .07 .46 .07-.36 .07 .27 .07-.2 .07 .2 .07-.37 .07 .38 .07-.21 .07 .3 .07-.51 .07 .52 .07-.18 .07 .18 .07-.35 .07 .32 .07-.52 .07 .28 .05-3.03 .02 2.61 .07-.52 .07-1.86 .07 1.83 .07-1.5 .07 .89 .07-1.73 .07 2.45 .07-.55 .07 .6 .07-1.35 .07 1.38 .07-.63 .07 .52 .07-2.06 .07 1.4 .03-2.93 .04 2.21 .07 .9 .07-1.34 .07 1.36 .07-.61 .07 1.32 .07-1.31 .07 .82 .07-.57 .07 .44 .07-2.96 .07 2.87 .07-2.64 .07 1.76 .07-1.07 .07 1.91 .02-3.89 .05 1.22 .07 1.41 .07-.88 .07 1.48 .07-3.33 .07 3.62 .07-3.52 .07 2.68 .07-1.65 .07 1.73 .07-2.86 .07 2.55 .07-6.01 0 4.63 .07 1.17 .07-3.84 .07 4.76 .07-4.25 .07 2.42 .07-6.4 .07 7.98 .07-4.38 .07 1.85 .07-6.96 .07 6.1 .07-3.21 .05-4.45 .02 10.72 .07-7.03 .07 5.38 .07-5.13 .07 4.41 .07-3.29 .07-6.32 0 9.67 .07-1.93 .07 4.57 .07-3.06 .05-22.68 .02 22.04 .07-6.11 .07 4.99 .07-9.42 .07 10.27 .07-13.05 .06-8.72 .01 24.95 .07-9.21 .07 6.61 .07-11.07 .07 14.68 .07-9.14 .06-13.52 .01 19.54 .07-4.28 .07 5.84 .07-11.62 .07 12.8 .07-10.6 .07 6.78 .01-18.43 .06 8.32 .07 10.16 .07-6.32 .07 9.68 .07-14.95 .07 13.88 .07-11.72 .07 11.6 .07-16.3 .04-7.4 .03 25.53 .07-17.89 .07 16.21 .07-10.93 .07 10.67 .07-8.14 .07-20.49 0 26.46 .07-10.87 .07 14.05 .07-19.17 .07 21.27 .07-21.03 .07 12.42 .07-10.09 .07 14.74 .07-24.51 .07 21.01 .07-18.33 .07 21.96 .04-35.06 .03 15.71 .07 17.55 .07-13.38 .07 13.95 .07-12.85 .07 10.28 .07-5.24 .07 8.56 .07-6.44 .05-36.17 .02 48.58 .07-41.69 .07 34.94 .07-35.51 .07 36.83 .07-38.06 .06-5.09 .01 40.49 .07-3.21 .07 5.57 .07-1.78 .04-13.02 .03 16.61 .07-8.12 .07 8.33 .07-4.83 .07 5.2 .07-4.32 .07-9.95 0 15.06 .07-4.42 .07 4.08 .07-2.08 .07 2.81 .07-2.03 .07 1.5 .02-7.55 .05 6.72 .07 1.89 .07-2.19 .07 1.1 .07-.53 .07 1.31 .04-4.31 .03 2.62 .07 1.24 .07-.33 .07 .68 .07-.38 .07 .78 .07-1.58 .07 1.62 .07-1.38 .07 1.63 .07-.89 .07 .97 .07-.74 .02-3.64 .05 4.78 .07-1.27 .07 .85 .07-3.77 .07 2.72 .07-1.16 .07 1.45 .07-2.66 .07 2.41 .06-2.66 .01 3.05 .07 .8 .07-1.09 .07 1.09 .07-1.07 .07 1.25 .07-.81 .07 .96 .07-.5 .07 .58 .07-.27 .07 .55 .07-.37 .07-.15 .07-.26 .07 .62 .04-.93 .03 .72 .07 .28 .07-.56 .07 .62 .07-.16 .07 .5 .07-.37 .07 .44 .07-.33 .07 .43 .07-.68 .07 .48 .07-.18 .07 .22 .07-.3 .07 .34 .03-.43 .04 .02 .07 .49 .07-.32 .07 .38 .07-.37 .07 .28 .07-.09 .07 .23 .07-.31 .07 .27 .07-.38 .07 .51 .07-.27 .07 .28 .07-.36 .07 .37 .07-.22 .07 .09 .07-.27 .07 .43 .07-.28 .07 .15 .07-.28 .07 .42 .07-.18 .07 .18 .07-.27 .07 .31 .07-.17 .07 .15 .07-.29 .07 .33 .07-.11 .07 .09 .07-.27 .07 .34 .07-.19 .07 .14 .07-.12 .07 .25 .07-.35 .07 .25 .07-.12 .07 .24 .07-.28 .07 .27 .07-.15 .07 .12 .07-.07 .07 .17 .07-.3 .07 .24 .07-.12 .07 .06 .07-.07 .07 .2 .07-.21 .07 .26 .07-.16 .07 .13 .07-.18 .07 .03 .07 .1 .06-.13 .01 .22 .07-.21 .07 .23 .07-.22 .07 .22 .07-.25 .07 .2 .07-.1 .07 .17 .07-.28 .07 .22 .07-.18 .07 .22 .07-.26 .07 .22 .07-.15 .07 .21 .07-.29 .07 .25 .07-.26 .07 .22 .07-.1 .07-.03 .07 .04 .07 .06 .07-.12 .07 .01 .07 .05 .07 .13 .07-.27 .07 .24 .07-.22 .07 .22 .07-.16 .07 .19 .07-.33 .07 .28 .07-.24 .07 .23 .07-.26 .07 .29 .07-.22 .07 .17 .07-.28 .07 .24 .07-.24 .07 .3 .07-.24 .07 .23 .07-.13 .07 .16 .07-.28 .07 .24 .07-.23 .07 .14 .07-.05 .07 .13 .07-.27 .07 .23 .07-.08 .07 .11 .07-.22 .07 .15 .07-.15 .01-.12 .06 .21 .07-.29 .07 .26 .07-.36 .07 .22 .07-.4 .07 .37 .07-.43 .07 .43 .07-.45 .07 .21 .07-.1 .07 .08 .07-.5 .07 .3 .07-.38 .07 .36 .07-.03 .07 .19 .07-.56 .07 .36 .07 .16 .07 .22 .07-.63 .07 .47 .03-1.25 .04 .88 .07 .23 .07-.19 .07 .14 .07-.46 .07 .4 .07-.65 .07 .55 .07-.37 .07 .42 .07-.89 .07 .78 .07-.71 .07 .67 .07-.99 .07 .85 .07-1.63 .07 1.14 .07-.65 .07 .06 .07-.98 .07 .95 .04-1.75 .03 .66 .07 .82 .07-.84 .07 1.26 .07-.82 .07 .96 .07-.07 .07 .74 .07-.76 .07 .8 .07-.31 .07 .17 .07-.84 .07-.32 .07-1.91 .07 2.14 .03-3.13 .04 1.06 .07 1.88 .07-2.14 .07 2.41 .07-.8 .07 .66 .07-1.41 .07 1.12 .07-1.2 .07 1.8 .07-.04 .07 .31 .07-.28 .07 .64 .07-1.25 .07 .86 .02-4.42 .05 2.32 .07 .5 .07-1.16 .07 1.72 .07-4.38 .07 3.36 .07-3.54 .07 3.91 .07-1.1 .07 1.98 .07-3 .07 1.73 .07-7.12 0 5.73 .07 2.2 .07-3.76 .07 3.27 .07-5.12 .07 3.49 .07-.79 .07 .11 .07-4.22 .07 5.75 .07-6.21 .07 3.47 .07-3.26 .04-7.96 .03 12.88 .07-1.5 .07 1.52 .07-3.62 .07 5.93 .07-9.65 .07 7.71 .07-12.3 .07 11.6 .07-9.7 .01-9.51 .06 21.43 .07-8.87 .07 3.91 .07-15.1 .07 17.66 .07-9.14 .03-15.55 .04 25.79 .07-14.13 .07 15.36 .07-16.8 .07 12.46 .07-4.87 .07 9.49 .07-16.55 .07 15.56 .07-28.65 0 15.7 .07 11.85 .07-12.38 .07 12.91 .05-46.35 .02 10.84 .07 29.08 .07-26.96 .07 38.22 .07-27.87 .06-23.31 .01 48 .07-33.37 .07 26.25 .07-16.68 .04-18.84 .03 36.24 .07-30.8 .07 38.27 .07-40.5 .07 40.87 .07-38.91 .07-4.99 0 41.16 .07-35.92 .07 36.51 .07-13.08 .07 15.23 .07-16.66 .07 7.03 .02-35.29 .05 33.07 .07 9.1 .07-15.95 .07 12.32 0-57.02 .07 42.27 .07 17.6 .07-22.14 .07 20.4 .07-47.64 .01-10.49 .06 54.98 .07-3.1 .07 7.93 .07-23.71 0 10.67 .07 9.78 .07-9.36 .07 10.74 .07-5.99 .07 6.04 .07-4.05 .02-14.15 .05 19.66 .07-5.74 .07 5.82 .07-1.86 .07 4.27 .07-5.28 .04-6.17 .03 10.68 .07-3.74 .07 3.61 .07-2.62 .07 3.23 .07-2.49 .07-4.19 0 7.64 .07-2.14 .07 1.76 .07-1.76 .07 2.24 .07-3.58 .07 3.15 .07-3.21 .07 3.63 .07-3.34 .03-4.85 .04 8.24 .07-3.04 .07 2.11 .07-1.85 .07 2.07 .07-3.47 .02-8.03 .05 9.51 .07-6.09 .07 7.34 .07-4.23 .07 2.85 .07-2.03 .07 2.72 .03-10.07 .04 12.35 .07 .41 .07-1.16 .07 1.43 .07-1.62 .07 1.38 .03-3.01 .04 2.46 .07 .8 .07-.39 .07 .44 .07-1.01 .07 1.28 .05-3 .02 2.22 .07 .75 .07-.84 .07 .99 .07-.71 .07 .78 .07-.05 .07 .62 .07-.37 .07 .31 .07-.27 .07 .62 .07-1.09 .07 .77 .07-.38 .07 .54 .04-.88 .03 .32 .07 .39 .07-.43 .07 .35 .07-.09 .07 .22 .07-.58 .07 .68 .07-.27 .07 .08 .07-.29 .07 .32 .07-.32 .07 .38 .07-.31 .07 .37 .03-.45 .04 .28 .07 .34 .07-.52 .07 .5 .07-.35 .07 .26 .07-.09 .07 .23 .07-.4 .07 .42 .07-.47 .07 .46 .07-.33 .07 .34 .07-.38 .07 .38 .07-.25 .07 .32 .07-.34 .07 .4 .07-.21 .07 .15 .07-.17 .07 .19 .07-.25 .07 .4 .07-.4 .07 .29 .07-.09 .07 .12 .07-.04 .07 .16 .07-.32 .07 .33 .07-.11 .07 .1 .07-.03 .07 .1 .07-.17 .07 .17 .07-.1 .07 .14 .07-.25 .07 .28 .07-.2 .07 .26 .07-.16 .06-.1 .01 .13 .07-.12 .07 .02 .07 .05 .07 .12 .07-.18 .07 .24 .07-.27 .07 .2 .07-.17 .07 .19 .07-.17 .07 .12 .07-.17 .07 .21 .07-.26 .07 .25 .07-.3 .07 .25 .07-.22 .07 .22 .07-.23 .07 .18 .07-.18 .07 .17 .07-.08 .07 .16 .07-.32 .07 .29 .07-.32 .07 .27 .07-.25 .04-.05 .03 .28 .07-.22 .07 .19 .07-.31 .07 .29 .07-.18 .07 .21 .07-.21 .07 .18 .07-.45 .07 .38 .07-.39 .07 .33 .07-.33 .07 .34 .07-.31 .07 .23 .07-.12 .07 .11 .07-.42 .07 .31 .07-.25 .07 .18 .07-.25 .07 .34 .07-.47 .07 .5 .07-.41 .07 .32 .07-.29 .07 .3 .07-.4 .02-.24 .05 .42 .07-.07 .07 .09 .07-.4 .07 .4 .07-.49 .07 .37 .07-.32 .07 .81 .07-.44 .07 .42 .07-.65 .07 .46 .07-.34 .07 .33 .07-.37 .07 .23 .07 .35 .07 .2 .07-.36 .07 .25 .07-.23 .07 .19 .07-.27 .07-.2 .07-.53 .07 .47 .07-.43 .07 .45 .07-.38 .07 .23 .06-1.36 .01 .91 .07 .58 .07-.86 .07 .43 .07-.68 .07 .46 .07 .34 .07 .1 .07-.7 .07 .69 .07-.76 .07 .66 .07-1.83 .07 1.01 .07-1.88 .07 1.35 .05-2.72 .02 1.54 .07 1 .07-1.1 .07 1.21 .07-1.56 .07 1.48 .07-1.86 .07 1.66 .07-1.49 .07 1.42 .07-2.34 .07 1.42 .07-2.66 .07 2.46 .07-2.04 .07 1.29 .04-4.08 .03 .96 .07 3.87 .07-3.25 .07 3.8 .07-2.44 .07 1.01 .07-.28 .07 2.5 .07-3.16 .07 2.96 0-9.29 .07 6.94 .07 1.57 .07-3.67 .07 2.75 .07-2.81 .07 3.68 .03-12.49 .04 6.61 .07 4.4 .07-2.47 .07 2.17 .07-5.43 .07 7.12 .07-6.37 .07 6.24 .07-4.21 .06-9.93 .01 13.44 .07-4.13 .07 3.48 .07-2.12 .07 4.14 .07-5.11 .07 4.07 .02-14.47 .05 9.25 .07 5.89 .07-9.03 .07 7.33 .07-4.85 .07 2.92 .07-6.91 .07 6.87 .07-4.96 .05-11 .02 18.06 .07-4.95 .07 2.31 .07-3.52 .07 4.5 .07-2.84 .07 3.54 0-19.92 .07 18.45 .07 .83 .07-4.17 .07 6.44 .07-5.59 .07 1.95 .03-19.1 .04 7.66 .07 14.77 .07-6.69 .07 3.22 .01-27.97 .06 4.66 .07 28.84 .07-29.61 .07 22.61 .07-15.36 .02-11.14 .05 27.56 .07-1.68 .07 5.29 .07-7.49 0-11.63 .07 18.8 .07-6.6 .07 6.62 .07-3.25 .07 2.21 .07-1.77 .03-15.42 .04 20.21 .07-7.85 .07 6.04 .07-5.48 .07 5.8 .07-11.21 .07 7.91 .07-10.44 .07 13.74 .06-20.02 .01 9.59 .07 9.84 .07-9.97 .07 9.07 .05-34.3 .02 4.84 .07 28.91 .07-8.15 .07 6.96 .07-7.86 .05-24.7 .02 36.43 .07-4.75 .07 4.32 .07-2.86 .04-7.78 .03 11.88 .07-7.64 .07 7.57 .07-4.61 .07 4 .07-5.39 .06-3.47 .01 8.73 .07-2.46 .07 3.59 .07-3.6 .07 2.3 .07-1.05 .07 2.2 .07-2.26 .07 1.17 .07-1.16 .03-5.66 .04 7.72 .07-3.41 .07 3.97 .07-3.45 .07 3.19 .07-5.75 .05-.21 .02 4.07 .07-.44 .07 1.23 .07-3.22 .07 3.14 .07-1.51 .07 2.44 .07-2.5 .07 2.23 .07-.98 .02-1.8 .05 3.58 .07 .75 .07 .42 .07-.6 .07 .86 .07-.81 .04-2.82 .03 3.88 .07-1.43 .07 .5 .07-.36 .07 .42 .07-.51 .07 .68 .07-1.04 .07 1.44 .07-.09 .07 .5 .07-.78 .07 .59 .07-.2 .07 .32 .07-.49 .07 .69 .07-.65 .07 .67 .04-2.28 .03 2.05 .07 .46 .07-.47 .07 .65 .07-.34 .07 .35 .07-.34 .07 .34 .07-1.27 .07 .3 .07-.35 .07 .62 .07-.77 .07 .86 .07-.76 .07 .72 .07-.17 .07 .34 .07-.73 .07 .89 .07-.82 .07 1.33 .07-.03 .07 .09 .07-.31 .07 .33 .07-.02 .07-.52 .07-.57 .07 .65 .07-.37 .07 .46 .07-.39 .07 .27 .07-.37 .07 .6 .07-.43 .07 .54 .07-.44 .07 .4 .07-.08 .07 .15 .07-.25 .07 .38 .07-.32 .07 .42 .07-.13 .07 .23 .07-.06 .07 .13 .07-.19 .07 .07 .04-.03 .03 .1 .07 .16 .07-.21 .07 .2 .07-.18 .07 .1 .07-.08 .07 .08 .07-.15 .07 .03 .07 .08 .07 .05 .07-.11 .07 .17 .07-.28 .07 .25 .07-.23 .07 .2 .07-.1 .07 .16 .07-.27 .07 .17 .07-.14 .07 .21 .07-.23 .07 .19 .07-.05 .07 .06 .07-.09 .07-.04 .07-.13 .07 .3 .07-.28 .07 .2 .07-.09 .07 .05 .07-.09 .07 .17 .07-.3 .07 .19 .07-.12 .07 .24 .07-.13 .07 .08 .07-.18 .07 .1 .07-.09 .07 .21 .07-.19 .07 .08 .07-.12 .07 .1 .07-.21 .07 .21 .07-.05 .07 .09 .07-.17 .07 .14 .07-.22 .07 .2 .07-.18 .07 .21 .07-.19 .07-.1 0 .26 .07-.05 .07 .05 .07-.28 .07 .27 .07-.13 .07 .06 .07-.17 .07 .08 .07-.29 .07 .28 .07-.13 .07 .14 .07-.28 .07 .17 .07-.28 .07 .37 .07-.38 .07 .36 .07-.23 .07 .17 .07-.43 .07 .32 .07-.12 .07 .14 .07-.26 .07 .3 .07-.57 .07 .41 .07-.35 .07 .27 .07-.13 .04-.33 .03 .48 .07-.14 .07 .11 .07-.39 .07 .25 .07-.5 .07 .92 .07-.56 .07 .46 .07-.35 .07 .47 .07-.44 .07 .38 .07-.36 .07 .14 .07-.68 .07 .42 .07-.42 .07 .32 .07-.28 .07 .37 .07-.77 .07 .37 .07-.85 .07 .84 .07-.31 .07 .35 .07-.45 .07 1.12 .07-.45 .07 .54 .07-.44 .02-1.72 .05 2.1 .07-.52 .07 .31 .07-1.82 .07 .82 .07-.45 .07 .29 .07-1 .07 1.4 .07-.05 .07 .76 .07-.69 .07 .37 .07-.61 .07 .8 .07-.34 .07 .23 .07-.27 .07 .41 .07-.86 .07 .69 .07-.75 .07 .06 .07-.74 .07 .61 .04-2.97 .03 2.03 .07 .91 .07-1.1 .07 1.05 .07-.94 .07 .27 .07-.42 .07 1.06 .07-1.1 .07 .66 .07-.13 .07 .83 .07-1.29 .07 1.11 .07-1.26 .07 .9 .07-1.26 .07 1.31 .07-1.44 .07 1.14 .07-1.87 .07 2.27 .05-4.14 .02 2.87 .07-.13 .07-1.91 .07 1.87 .07-2.67 .07 2.9 .07-3.52 .07 4.51 .07-1.89 .07 1.44 .07-2.15 .07 2.08 .07-2.23 .03-4.76 .04 6.52 .07-3.59 .07 1.91 .07-3.21 .07 3.62 .07-1.83 .07 1.34 .07-6.08 .07 5.39 .06-7.65 .01 2.39 .07 5.41 .07-5.43 .07 7.04 .07-4.47 .07 5.34 .07-6.63 .02-11.41 .05 15.05 .07-6.7 .07 6.42 .07-7.6 .07 8.12 .07-13.55 .04-8 .03 22.82 .07-17.32 .07 13.33 .07-15.44 .07 20.32 .07-16.6 .06-10.01 .01 26.43 .07-19.35 .07 15.63 .07-15.31 .05-30.55 .02 50.71 .07-25.6 .07 25.31 .07-35.03 .07 31.03 .06-46.42 .01 27.48 .07 19.07 .07-4.26 .07 3.25 .04-18.7 .03 10.76 .07 7.77 .07-12.21 .07 16.93 .07-17.07 .07 12.38 .06-16.58 .01 5.44 .07 14.49 .07-14.88 .07 10.92 .07-.38 .07 5.38 .07-6.17 .02-13.31 .05 17.53 .07-5 .07 6.83 .07-6.22 .07 6.29 .07-6.37 .04-11.34 .03 16.97 .07-3.96 .07 3.89 .07-4.4 .07 5.35 .07-5.79 .07 4.86 .07-.37 .07 .92 .07-1.18 .01-4.43 .06 6.37 .07-.52 .07 1.71 .07-1.07 .07 1.53 .07-.79 .03-3.19 .04 4.05 .07-.85 .07-.36 .07-1.03 .07 1.72 .07-.95 .07 1.19 .07-1.55 .07 1.5 .07-.93 .07 1.05 .07-1.42 .07 1.15 .01-1.24 .06 .27 .07 1.69 .07-.77 .07 .76 .07-.26 .07 .58 .07-.91 .07 .87 .07-.75 .04-.76 .03 1.29 .07-.36 .07 .52 .07-.36 .07 .35 .07-1.02 .07 .6 .07-1.32 .07 1.29 .07-1.05 .01-.52 .06 1.21 .07-.69 .07 1.66 .07-.52 .07 .3 .07-6.92 0 3.92 .07 .82 .07-.41 .07-.85 .07-2.79 .07 4.2 .07-2.82 .01-2.07 .06 7.44 .07-.2 .07 .17 .06-.48 .01 .23 .07 .39 .07-.44 .07 .54 .07-.24 .07 .14 .07-.44 .02-.02 .05 .58 .07-.23 .07 .19 .07-.25 .07 .35 .07-.29 .07 .17 .07-.26 .07 .26 .07-.34 .07 .51 .07-.46 .07 .39 .07-.3 .07 .37 .07-.41 .07 .3 .07-.02 .07 .21 .07-.35 .07 .2 .07-.29 .07 .45 .07-.36 .07 .37 .07-.37 .07 .37 .07-.17 .07 .12 .07-.21 .07 .34 .07-.4 .07 .37 .07-.25 .07 .24 .07-.26 .07 .35 .07-.38 .07 .41 .07-.37 .07 .26 .07-.1 .07 .25 .07-.15 .07 .09 .07-.12 .07 .16 .07-.18 .07 .19 .07-.1 .07 .06 .07-.15 .07 .27 .07-.25 .07 .24 .07-.18 .07 .19 .07-.06 .07 .1 .07-.19 .07 .26 .07-.25 .07 .25 .04-.28 .03 .07 .07 .14 .07-.12 .07 .18 .07-.15 .07 .1 .07-.13 .07 .11 .07-.13 .07 .17 .07-.12 .07 .13 .07-.26 .07 .17 .07-.15 .07 .21 .07-.28 .07 .17 .07-.16 .07 .23 .07-.1 .07 .04 .07-.05 .07 .09 .07-.15 .07 .15 .07-.17 .07 .2 .07-.09 .07 .01 .07-.04 .07 .14 .07-.16 .07 .07 .07-.07 .07 .11 .07-.15 .07 .14 .07-.07 .07 .01 .07-.05 .07 .08 .07-.17 .07 .19 .07-.11 .07 .04 .07-.22 .07 .29 .07-.1 .07 .11 .07-.28 .07 .31 .07-.33 .07 .22 .07-.22 .07 .2 .07-.07 .07 .15 .07-.31 .07 .27 .07-.11 .07 .13 .07-.23 .06-.1 .01 .29 .07-.29 .07 .26 .07-.33 .07 .3 .07-.33 .07 .33 .07-.21 .07 .1 .07-.15 .07 .2 .07-.36 .07 .33 .07-.27 .07 .14 .07-.3 .07 .28 .07-.34 .07 .38 .07-.34 .07 .33 .07-.48 .07 .46 .07-.44 .07 .25 .07-.33 .07 .46 .07-.49 .07 .38 .07-.34 .07 .4 .07-.28 .04-.37 .03 .46 .07-.45 .07 .49 .07-.36 .07 .17 .07 .17 .07 .13 .07-.33 .07 .65 .07-.3 .07 .27 .07-.24 .07 .18 .07-.3 .07 .2 .07-1.27 .07 .78 .07-.35 .07 .16 .07-.83 .07 .67 .07 .3 .07 .38 .07-.33 .07 .27 .07-.65 .07 .49 .07-.63 .07 .3 .07-.3 .07 .5 .07-.43 .02-1.57 .05 1.97 .07-.56 .07-.16 .07-1.2 .07 .81 .07-.55 .07 .61 .07-1.51 .07 1.59 .07-1.28 .07 .81 .07-.81 .07 .78 .07-1.83 .07 1.85 .07 .15 0-2.54 .07 3.23 .07-1.5 .07 1.33 .07-.9 .07 .68 .07-1.99 .07 .85 .07-2.06 .07 2.51 .07-1.55 .07 1.2 .07-1.96 .07 3.25 .07-.95 .07 .57 .06-4.26 .01 3.98 .07 .04 .07-1.2 .07 .54 .07-1.03 .07 1.49 .07-2 .07 1.73 .07-1.74 .07 2.16 .07-.74 .07 1 .07-.99 .04-4.69 .03 5.76 .07-1.77 .07 1.29 .07-3.22 .07 2.03 .07-3.18 .07 3.3 .07-2.86 .07 3.46 .07-2.95 0-2.66 .07 4.29 .07-.87 .07 2.1 .07-3.16 .07 2.84 .07-3.19 .03-3.37 .04 6.36 .07-1.44 .07 2.29 .07-8.66 .01-12.26 .06 20.54 .07-10.71 .07 9.11 .07-6.48 .07 4.41 .02-16.87 .05 13.08 .07 5.97 .07-3.5 .07 2.59 0-8.65 .07 8.17 .07 2.46 .07-1.74 .07 .63 .07-2.17 .07 3.09 .03-9.96 .04 2.68 .07 5.7 .07-2.64 .07 3.39 .07-3.88 .07 5.08 .07-5.71 .07 4.31 .07-9.22 .06-.96 .01 9.39 .07-5.11 .07 5.58 .07-9.15 .07 9.45 .07-6.59 .07 6.01 .01-10.55 .06 4.53 .07 5.24 .07-1.8 .07 3.72 .07-2.19 .07 1.76 .07-3.54 .07 5.03 .07-3.14 .05-4.79 .02 7.08 .07-.52 .07 1.1 .07-1.1 .07 1.14 .07-1 .07 .7 0-5.68 .07 3.07 .07 3.49 .07-1.68 .07 .6 .07-2.2 .07 2.47 .07-.63 .07 .79 .07-1.72 .07 2.09 .07-1.49 .07 1.87 .05-2.83 .02 2.07 .07 1.44 .07-1.46 .07 1.42 .07-.87 .07 .72 .07-.57 .07 1.76 .07-.87 .07 .72 .01-2.65 .06 2.29 .07 .65 .07-.58 .07 .7 .07-1.01 .07 .81 .07-.37 .07 .52 .07-.47 .07 .49 .07-.78 .07 .51 .06-.86 .01 .31 .07 .63 .07-.1 .07 .21 .07-.37 .07 .49 .07-.24 .07 .1 .07-.06 .07 .28 .07-.41 .07 .36 .07-.01 .04-.32 .03 .56 .07-.65 .07 .37 .07 .06 .07 .24 .07-.01 .07 .13 .07-.41 .07 .29 .07-.54 .07 .47 .07-1.42 .07 .5 .01-1.1 .06 .64 .07 .43 .07-.29 .07 .45 .07-.12 .07 .12 .07-.79 .07 .88 .07-1.35 .02-2.22 .05 2.42 .07-.95 .07 1.76 .07-.92 .07 .93 .07-.4 .03-2.84 .04 4.74 .07-.32 .07 .26 .07-.22 .01-.1 .06 .33 .07-.14 .07 .17 .07-.14 .07 .1 .07-.05 .04-.2 .03 .37 .07-.31 .07 .22 .07-.2 .07 .24 .07-.15 .07 .12 .07-.09 .07 .14 .07-.26 .07 .29 .07-.23 .07 .18 .07-.23 .07 .29 .07-.22 .07 .17 .07-.18 .07 .25 .07-.15 .07 .11 .07-.12 .07 .2 .07-.31 .07 .26 .07-.24 .07 .27 .07-.27 .07 .25 .07-.2 .07 .22 .07-.09 .07 .07 .07-.05 .07 .14 .07-.19 .07 .12 .07-.09 .07 .16 .07-.11 .07 .06 .05-.22 .02 .15 .07 .09 .07-.06 .07 .01 .07-.14 .07 .16 .07-.16 .07 .1 .07-.08 .07 .07 .07-.18 .07 .2 .07-.21 .07 .25 .07-.25 .07 .24 .07-.14 .07 .18 .07-.3 .07 .2 .07-.2 .07 .26 .07-.1 .07 .02 .07-.18 .07 .24 .07-.17 .07 .11 .07-.23 .07 .3 .07-.28 .07 .28 .07-.22 .07 .15 .07-.06 .07 .06 .07-.09 .07 .14 .07-.29 .07 .26 .07-.3 .07 .32 .07-.15 .07 .08 .07-.17 .07 .17 .07-.16 .07 .23 .01-.37 .06 .15 .07 .16 .07-.26 .07 .19 .07-.19 .07 .11 .07-.21 .07 .29 .07-.28 .07 .13 .07-.32 .07 .33 .07-.28 .07 .26 .07-.38 .07 .27 .07-.23 .07 .3 .07-.33 .07 .22 .07-.22 .07 .15 .07-.16 .07 .3 .07-.56 .07 .42 .07-.18 .07 .1 .07-.15 .07 .08 .07-.08 .06-.39 .01 .5 .07-.35 .07 .42 .07-.42 .07 .18 .07-.44 .07 .93 .07-.72 .07 .48 .07-.38 .07 .16 .07-.51 .07 .46 .07-.46 .07 .65 .07-.4 .07 .37 .07-.28 .07 .21 .07-.57 .07 .18 .07-.57 .07 .47 .07-.66 .07 .56 .07-.57 .07 .53 .07-1.06 .07 .77 .07-.39 .07 .54 .07-1.05 .04-.35 .03 1.08 .07 .13 .07 .53 .07-.35 .07 .22 .07-.6 .07 .73 .07-.43 .07 .63 .07-.93 .07 .61 .07-.73 .07 .61 .07-.57 .07 .58 .07-.38 .02-3 .05 3.44 .07-1.06 .07 .74 .07-.65 .07-.74 .07-.68 .07 1.33 .07-1.59 .07 1.4 .07-1.6 .07 1.91 .07-.12 .07 .75 .07-.99 .07 1.1 .07-1.41 .01-2.58 .06 3.53 .07-.75 .07 .82 .07-1.78 .07 1.46 .07-.88 .07 .47 .07-1.83 .07 1.62 .07-2.52 .07 2.97 .07-3.3 .06-2.64 .01 4.7 .07-2.04 .07 3.27 .07-1.88 .07 1.19 .07-1.75 .07 1.31 .07-2.42 .07 3.38 .07-2.3 .07 1.6 .07-1.27 .07 .69 .04-7.92 .03 6.1 .07 2.87 .07-5.77 .07 5.24 .07-2.44 .07 1.9 .07-4.74 .07 3.1 .07-3.25 .07-9.66 0 12.05 .07-8.4 .07 9.96 .07-6.73 .07 7.32 .07-10.58 .07 8.86 .02-18.63 .05 7.81 .07 11.39 .07-11.38 .07 11.55 .07-5.23 .07 7.39 .05-29.28 .02 0 .07 24.7 .07-16.86 .07 12.48 .07-12.11 .07 13.02 .07-30.49 0 17.29 .07 15.14 .07-14.56 .07 18.02 .07-26.91 .07 23.71 .07-15.8 .02-17.95 .05 40.05 .07-21.21 .07 17.79 .07-11.99 .01-34.88 .06 38.94 .07-26.82 .07 30.36 .07-32.32 .07 35.08 .01-45.24 .06 33.32 .07 13.17 .07-17.61 .07-7.41 0 22.73 .07-8.43 .07 12.41 .07-14.56 .07 14.57 .07-15.32 .07 11.5 .02-21.32 .05 12.59 .07 6.44 .07-14.19 .07 20.59 .07-7.92 .07 9.23 .07-7 .07 4.52 .07-5.66 .06-18.4 .01 22.87 .07-8.9 .07 9.4 .07-4.13 .07 2.15 .07-8.45 .07 12.25 .01-24.43 .06 15.01 .07 10.06 .07-8.62 .07 8.86 .07-5.67 .07 6.2 .04-8.46 .03 4.51 .07 4.07 .07-2.44 .07 2.25 .07-2.71 .07 2.94 .06-1.91 .01 .62 .07 1.55 .07-.9 .07 2.44 .07-.69 .07 .48 .07-.56 .07 .85 .07-.78 .07 .77 .07-2.11 .07 1.3 .07-.58 .07 .56 .07-.36 .07 .52 .07 .23 .07 .68 .07-.19 .06-2.34 .01 2.51 .07-.21 .07 .42 .07-.33 .07-.69 .07-.32 .07 .78 .07-.38 .07 .15 .07-.33 .07 1.25 .07-.2 .07 .36 .07-.16 .07 .2 .07-.21 .05-1.12 .02 1.45 .07-.64 .07 .46 .07-.36 .07 .27 .07-.86 .07 .65 .07-.63 .07 .5 .07-.19 .07 .26 .07-.28 .07 .43 .07-.35 .07 .45 .07-.53 .07 .47 .07-.41 .07 .45 .07-.28 .07 .44 .07-.2 .07 .16 .07-.26 .07 .33 .07-.17 .07 .23 .07-.29 .07 .29 .07-.02 .07 .07 .07-.15 .02-.07 .05 .36 .07-.2 .07 .17 .07-.16 .07 .15 .07-.29 .07 .28 .07-.2 .07 .22 .07-.3 .07 .28 .07-.22 .07 .23 .07-.23 .07 .21 .07-.22 .07 .29 .07-.23 .07 .19 .07-.17 .07 .23 .07-.16 .07 .07 .07-.08 .07 .12 .07-.05 .07 .06 .07-.1 .07 .09 .07-.19 .07 .27 .07-.19 .07 .22 .07-.31 .07 .23 .07-.06 .07 .09 .07-.21 .07 .27 .07-.24 .07 .23 .07-.1 .07 .06 .07-.15 .07 .15 .07-.07 .07 .01 .07-.04 .07-.03 .07 .08 .07 .03 .07-.21 .07 .24 .07-.17 .07 .16 .07-.14 .07 .12 .07-.09 .07 .15 .07-.22 .07 .2 .07-.1 .07 .14 .05-.25 .02 .14 .07 0 .07-.02 .07 .12 .07-.11 .07-.1 .07 .11 .07 .14 .07-.17 .07 .13 .07-.11 .07 .13 .07-.31 .07 .23 .07-.16 .07 .15 .07-.19 .07 .19 .07-.1 .07 .15 .07-.13 .07 .03 .07-.08 .07 .12 .07-.14 .07 .11 .07-.24 .07 .24 .07-.22 .07 .23 .07-.11 .07 .1 .07-.15 .07 .14 .07-.28 .07 .22 .07-.07 .07 .07 .07-.23 .07 .33 .07-.34 .07 .28 .07-.24 .07 .24 .07-.25 .07 .21 .07-.24 .07 .29 .01-.33 .06-.01 .07 .31 .07-.19 .07 .06 .07-.31 .07 .25 .07-.26 .07 .33 .07-.35 .07 .23 .07-.31 .07 .28 .07-.19 .07 .17 .07-.44 .07 .41 .07-.37 .07 .34 .07-.39 .07 .26 .07-.06 .07 .16 .07-.52 .07 .45 .07-.47 .03-.14 .04 .55 .07-.62 .07 .51 .07-.71 .07 1.12 .07-.19 .07 .18 .07-.34 .07 .22 .07-.23 .07 .16 .07-.36 .07 .27 .07-1.16 .07 .55 .07-.48 .07 .39 .07-.2 .07 .39 .07 .43 .07 .11 .07-.58 .05-1.78 .02 2.28 .07-.46 .07 .38 .07-2.41 .07 1.11 .07-1.07 .07 1.14 .07-1.18 .07 .9 .07-1.15 .07 1.92 .07-.92 .07 .81 .07-1.32 .07 1.34 .07-1.07 .03-2.17 .04 3.51 .07-.87 .07 .56 .07-.91 .07 .91 .07-.79 .07 .82 .07-2.9 .07 2.23 .07-1.98 .07 1.53 .07-.98 .07 1.03 .07-1.36 .07 .91 .07-1.6 .02-1.36 .05 3.07 .07-2.7 .07 2.63 .07-2.15 .07 3.22 .07-.52 .07 .65 .07-1.54 .07 .91 .07-.85 .07 1.08 .07-2.08 .07-3.44 0 4.87 .07-2.02 .07 1.8 .07-.88 .07 1.25 .07-2.32 .07 2.09 .07-2.6 .07 2.51 .07-1.62 .07 .53 .07-2.36 .07 2.66 .04-5.41 .03 3.8 .07 1.4 .07-4.69 .07 4.9 .07-3.16 .07 3.13 .07-2.19 .07 2.05 .07-4.19 .07 4.51 .01-13.15 .06 7.48 .07 2.28 .07-10.55 .07 13.78 .07-10.55 .07 6.53 .03-15.23 .04 6.2 .07 10.68 .07-10.76 .07 11.95 .07-11.97 .07 9.48 .06-26.66 .01 20.02 .07 5.66 .07-8.6 .07 13.81 .07-7.9 .07 5.22 .07-8.4 .01-21.78 .06 32.73 .07-19.86 .07 17.92 .07-63.07 0 31.1 .07 28.24 .07-37.5 .07 41.99 .07-20.52 .07-43.31 0 59.11 .07-18.15 .07 24.03 .07-10.07 .06-30.04 .01 41.11 .07-16.16 .07 15.85 .07-21.64 .07 17.37 .07-8.59 .07 5.47 .01-30.69 .06 29.47 .07 8.34 .07-24.54 .07 21.86 .07-10.33 .07 6.57 .03-17.08 .04 16.29 .07 5.5 .07-7.92 .07 5.74 .07-6.22 .07 7.96 .06-11.26 .01 7.21 .07 5.5 .07-8.25 .07 5.45 .07-4.54 .07 5.19 .07-1.41 .07 1.86 .07-1.82 .07 2.91 .02-5.84 .05 5.24 .07 1.8 .07-2.7 .07 3.11 .07-1.61 .07 2.41 .04-3.71 .03 3.21 .07 .9 .07-.62 .07 .69 .07-1.25 .07 1.22 .07-.92 .07 .52 .07-.61 .07 .68 .07-.51 .07 .83 .07-.52 .02-2.25 .05 3.22 .07-.43 .07 .27 .07-.07 .07 .45 .07-.46 .07 .12 .07-.54 .07 .9 .07-.72 .07 .66 .07-.08 .07-1.95 0 1.56 .07-.85 .07 1.14 .07-.63 .07 .42 .07-.12 .07 .62 .07-.44 .07 .64 .07-.38 .07 .45 .07-.16 .07 .21 .07-.52 .07 .3 .07-.52 .06 .05 .01 .57 .07-.36 .07 .27 .07-.36 .07 .41 .07-.27 .07 .25 .07-.27 .07 .25 .07-.41 .07 .56 .07-.42 .07 .26 .07-.3 .07 .38 .07-.19 .04-.28 .03 .44 .07-.38 .07 .43 .07-.21 .07 .31 .07-.27 .07 .3 .07-.33 .07 .22 .07-.24 .07 .38 .07-.2 .07 .11 .07-.15 .07 .18 .07-.2 .07 .2 .07-.18 .07 .34 .07-.39 .07 .26 .07-.2 .07 .32 .07-.33 .07 .32 .07-.36 .07 .42 .07-.12 .07 .18 .07-.34 .07 .25 .07-.15 .07 .17 .07-.29 .07 .34 .07-.15 .07 .19 .07-.29 .07 .3 .07-.32 .07 .32 .07-.13 .07 .23 .07-.15 .07 .11 .07-.2 .07 .25 .07-.25 .07 .22 .07-.22 .07 .28 .07-.1 .07 .11 .07-.22 .07 .19 .07-.06 .07 .1 .07-.09 .07 .11 .07-.11 .07 .12 .07-.2 .07 .25 .07-.23 0 .1 .07 .1 .07-.05 .07 .07 .07-.11 .07 .01 .07-.15 .07 .29 .07-.26 .07 .17 .07-.19 .07 .22 .07-.17 .07 .16 .07-.06 .07 .01 .07-.16 .07 .18 .07-.24 .07 .21 .07-.21 .07 .29 .07-.22 .07 .19 .07-.12 .07 .11 .07-.22 .07 .16 .07-.15 .07 .17 .07-.16 .07 .14 .07-.23 .07 .26 .07-.07 .07 .02 .07-.15 .07 .19 .07-.18 .07 .13 .07-.07 .07 .06 .07-.13 .07 .2 .07-.17 .07 .07 .07-.19 .07 .29 .03-.36 .04 .09 .07 .16 .07-.26 .07 .14 .07-.23 .07 .25 .07-.45 .07 .43 .07-.29 .07 .1 .07-.12 .07 .1 .07-.5 .07 .36 .07-.33 .07 .29 .07-.31 .07 .19 .07-.14 .07 .23 .07-.63 .07 .46 .07-.44 .07 .59 .07-.14 .05-.77 .02 1.05 .07-.36 .07 .3 .07-.39 .07 .23 .07-.44 .07 .17 .07-.61 .07 .73 .07-.59 .07 .53 .07-1.03 .07 .89 .07-.4 .07 .43 .07-.93 .07 .83 .07-.61 .07 .81 .07-.49 .07 .47 .07-.48 .07-2.63 0 2.74 .07-.65 .07 .7 .07-1.62 .07 1.2 .07-1.71 .07 1.49 .07-1.37 .07 1.19 .07-.24 .07 .39 .07-.54 .07 .36 .07-1.17 .07 1 .07-1.55 .05-1.67 .02 2.85 .07-.39 .07 .36 .07-.41 .07 .65 .07-1.51 .07 1.53 .07-1.2 .07 1.07 .07-1.32 .07 1.73 .07-2.1 .07 2.28 .07-.41 .07 .6 .07-.77 .04-4.03 .03 4.36 .07-.46 .07 .76 .07-1.76 .07 1.8 .07-1.7 .07 1.59 .07-1.41 .07 .75 .07-2.01 .07 1.63 .07-2.02 .07 1.94 .07-.87 .07 .38 .07-1.94 .03-4.37 .04 5.66 .07-3.98 .07 5.13 .07-3.26 .07 1.64 .07-1.93 .07 3.57 .07-4.74 .07 4.22 .07-6.53 .07 4.44 .07-2.93 .07 4.36 .07-4.1 .07 2.89 .07-1.4 .02-4.87 .05 8.08 .07-3.14 .07 2.95 .07-3.42 .07 3.02 .07-6.09 .07 4.39 .07-6.45 .07 5.93 .05-11.92 .02 7.54 .07 4.43 .07-6.26 .07 9.3 .07-12.88 .07 9.64 .07-2.58 .01-17.33 .06 21.38 .07-5.97 .07 3.45 .07-2.99 .07 6.27 .07-10.25 .07 8.97 .07-5.93 .07 5.15 .04-23.41 .03 11.06 .07 11.56 .07-16.91 .07 16.49 .07-4.53 .07 5.28 .07-25.27 0 18.04 .07 7.26 .07-6.26 .07 4.68 .07-5.5 .07 7.26 .07-8.56 .02-18.26 .05 24.21 .07-14.42 .07 16.68 .07-10.14 0-29.01 .07 43 .07-19.96 .07 15.13 .07-6.34 .07 5.58 .01-37.41 .06 33.4 .07 5.82 .07-5.65 .07-16.01 0 21.7 .07-2.28 .07 4.35 .07-10.3 .07 8.54 .07-6.09 .07 6 .02-20.03 .05 9.55 .07 9.35 .07-2.38 .07 6.73 .07-6.97 .07 7 .07-5.89 .07 6.15 .07-4.33 .05-9.85 .02 13.97 .07-8.58 .07 5.83 .07-.73 .07 2.54 .07-4.87 .07 3.76 .01-8.59 .06 5.63 .07 2.73 .07-1.15 .07 .95 .07-3.89 .07 6 .07-6.2 .07 6.15 .07-2.51 .07 2.99 .07-4.11 .07 3.37 .05-9.66 .02 8.4 .07 1.73 .07-3.31 .07 3.14 .07-1.76 .07 1.83 .07-1.17 .07 1.53 .07-4.27 .07 2.4 .02-8.18 .05 7.73 .07 1.35 .07-4.18 .07 3.9 .07-.43 .07 1.68 .07-1.2 .07 1.77 .07-1.06 .05-3.33 .02 5.06 .07-.38 .07 .09 .07-.94 .07 .59 .07-.69 .07 1.73 .01-2.64 .06 1.17 .07 .78 .07-.09 .07 .44 .07-.34 .07 .7 .07-.52 .07 .93 .07-.47 .07 .87 .07-.34 .07 .64 .05-.76 .02 .04 .07 .52 .07-.12 .07 .24 .07-.32 .07 .36 .07-.29 .07 .45 .07-.56 .07 .39 .07-.34 .07 .56 .07-.48 .03-.08 .04 .5 .07-.31 .07 .3 .07-.08 .07 .05 .07-.16 .07 .38 .07-.5 .07 .47 .07-.4 .07 .38 .07-.35 .07 .38 .07-.18 .07 .13 .07-.06 .07 .11 .07-.17 .07 .14 .07-.04 .07 .1 .07-.11 .07 .17 .07-.27 .07 .31 .07-.16 .07 .19 .07-.13 .07 .16 .07-.29 .07 .28 .07-.27 .07 .36 .07-.16 .07 .16 .07-.15 .07 .2 .07-.26 .07 .17 .07-.23 .07 .36 .07-.3 .07 .26 .07-.23 .07 .3 .07-.12 .07 .1 .07-.05 .07-.04 .07 .01 .07 .12 .07-.11 .07 .13 .07-.19 .02-.01 .05 .25 .07-.14 .07 .16 .07-.18 .07 .09 .07-.11 .07 .13 .07-.16 .07 .18 .07-.21 .07 .23 .07-.11 .07 .08 .07-.15 .07 .18 .07-.13 .07 .08 .07-.25 .07 .28 .07-.12 .07 .07 .07-.12 .07 .12 .07-.24 .07 .1 .07-.05 .07 .11 .07-.04 .07 .04 .07-.16 .07 .25 .07-.29 .07 .27 .07-.19 .07 .21 .07-.24 .07 .14 .07-.25 .07 .29 .07-.16 .07 .2 .07-.15 .07 .1 .07-.29 .07 .25 .07-.17 .07 .16 .05-.28 .02 .14 .07 .11 .07-.32 .07 .29 .07-.15 .07 .07 .07-.32 .07 .32 .07-.35 .07 .36 .07-.25 .07 .09 .07-.26 .07 .25 .07-.26 .07 .26 .07-.21 .07 .13 .07-.15 .07 .08 .07-.2 .07 .18 .07-.3 .07 .22 .07-.42 .07 .39 .01-.46 .06 .27 .07 .19 .07-.59 .07 .61 .07-.48 .07 .2 .07-.11 .07 .13 .07-.41 .07 .23 .07-.08 .07 .39 .07-.23 .07 .27 .07-.74 .07 .43 .07-.85 .07 .58 .07-.49 .07 .56 .07-.49 .07 .22 .02-1.38 .05 .36 .07 1.37 .07-1.15 .07 1.11 .07-.66 .07 .56 .07-1.01 .07 1.33 .07-1.01 .07 .91 .07-.72 .07 .68 .07-.63 .07 .64 .07-1.83 .07 .8 .07-.68 .07 .62 .07-1.95 .07 1.86 .07 .34 .07 .27 .07-.26 .07 .38 .07-.98 .04-2.22 .03 3.12 .07-.26 .07 .65 .07-1.1 .07 1.07 .07-.81 .07 .76 .07-.78 .07 .04 .07-.94 .07 .95 .07-.47 .07 .29 .07-1.09 .07 .23 .07-1.94 .07 1.89 .07-.88 .07 1.14 .07-1.56 .07 1.11 .07 .53 .05-3.1 .02 4.09 .07-.45 .07 .17 .07-.25 .07 .29 .07-1.44 .07 1.33 .07-.99 .07 .67 .07-.59 .07 1.07 .07-2.04 .07 1.74 .07-.41 .07 .47 .07-.63 .04-5.17 .03 5.56 .07-1.78 .07 1.12 .07-4.32 .07 3.03 .07-3.57 .07 3.25 .07-.4 .07 1.01 .07-2.81 .07 2.69 .07-3.55 .07 3.75 .07-2.44 .07 2.36 .07-3.81 .03-2.6 .04 5.53 .07-1.06 .07 .37 .07-2.66 .07 4.59 .07-6.93 .07 4.5 .07-2.96 .07 2.91 .07-2.89 .07 3.53 .07-7.96 .07 8.32 0-9.72 .07 5.75 .07 3.64 .07-1.19 .07 .41 .07-2.81 .07 5.83 .07-9.09 .07 6.87 .07-2.93 .04-11.41 .03 15.51 .07-8.95 .07 8.45 .07-7.03 .07 8.55 .07-9.11 .06-8.25 .01 14.03 .07-7.18 .07 9.6 .07-8.73 .05-15.04 .02 24.59 .07-15.56 .07 16.1 .07-10.14 .07 7.5 .05-22.49 .02 9.3 .07 10.74 .07-5.28 .07 4.38 .04-16 .03 2.38 .07 15.75 .07-5.48 .07 8.92 .07-13.03 .07 11.79 .06-20.14 .01 10.44 .07 11.02 .07-12.69 .07 9.91 .07-10.13 .07 9.78 .07-5.69 .02-13.63 .05 19.6 .07-8.42 .07 9.99 .07-19.41 0-13.41 .07 31.32 .07-7.84 .07 4.62 .07-20.32 .07 21.9 .01-29.68 .06 28.13 .07 3.26 .07-6.78 .06-14.36 .01 22.54 .07-9.82 .07 10.49 .07-4.59 .07 3.37 .07-14.13 .07 9.85 .02-16.65 .05 15.76 .07 1.87 .07-3.94 .07 7.33 .07-2.3 .07 4.06 .04-10.31 .03 5.49 .07 3.46 .07-2.63 .07 3.7 .07-3.38 .07 4.02 .06-5.62 .01 4.1 .07 1.01 .07-1.65 .07 1.34 .07-.17 .07 1.65 .07-1.45 .07 1.62 .07-1.45 .07 1.19 .07-1.82 .07 1.35 .07-1.47 .04-3.45 .03 4.23 .07-2.81 .07 3.39 .07-1.93 .07 2.3 .07-2.1 .07 1.7 .07-1.82 .07 2.15 .07-.58 .07 1.41 .07-1.24 .07 .81 .02-4.06 .05 3 .07 1.38 .07-.51 .07 .89 .07-3.39 .07 2.04 .07-.99 .07 1.17 .07-.87 .05-.53 .02 1.9 .07 .26 .07 .93 .07-.39 .07 .59 .07-.58 .07 .71 0-2.39 .07 1.3 .07 .47 .07-.15 .07 .47 .07-.12 .07 .34 .07-.11 .07 .56 .07-.88 .07 .74 .07-.05 .07 .27 .05-.22 .02 .26 .07 .04 .07-.08 .07 .15 .07-.28 .07 .28 .07-.11 .07 .09" stroke="#000" stroke-width="1.05" fill="none" stroke-linejoin="round"/>
<rect x="59.9" y="144.9" width="334.65" height="76.1" fill="none" stroke="#333" stroke-width="0.75"/>
<rect x="59.9" y="124.1" width="334.65" height="20.8" fill="#d9d9d9" stroke="#333" stroke-width="0.75"/>
<text x="227.22" y="139.6" text-anchor="middle" font-size="14.45" fill="#1a1a1a">Cerrado</text>
<path d="M57 217.65H59.9M57 191.95H59.9M57 166.25H59.9M100.46 221V223.9M151.17 221V223.9M201.87 221V223.9M252.58 221V223.9M303.28 221V223.9M353.99 221V223.9" stroke="#444" stroke-width="0.95" fill="none"/>
<text x="54.9" y="222.55" text-anchor="end" font-size="14.4" fill="#4d4d4d">0</text>
<text x="54.9" y="196.85" text-anchor="end" font-size="14.4" fill="#4d4d4d">1000</text>
<text x="54.9" y="171.15" text-anchor="end" font-size="14.4" fill="#4d4d4d">2000</text>
<text x="100.46" y="236.35" text-anchor="middle" font-size="14.4" fill="#4d4d4d">2012</text>
<text x="151.17" y="236.35" text-anchor="middle" font-size="14.4" fill="#4d4d4d">2014</text>
<text x="201.87" y="236.35" text-anchor="middle" font-size="14.4" fill="#4d4d4d">2016</text>
<text x="252.58" y="236.35" text-anchor="middle" font-size="14.4" fill="#4d4d4d">2018</text>
<text x="303.28" y="236.35" text-anchor="middle" font-size="14.4" fill="#4d4d4d">2020</text>
<text x="353.99" y="236.35" text-anchor="middle" font-size="14.4" fill="#4d4d4d">2022</text>
</g>
<g>
<path d="M428.65 206.35H763.55M428.65 183.75H763.55M428.65 161.15H763.55M443.87 144.9V221M494.62 144.9V221M545.36 144.9V221M596.1 144.9V221M646.84 144.9V221M697.58 144.9V221M748.33 144.9V221" stroke="#ebebeb" stroke-width="0.55" fill="none"/>
<path d="M428.65 217.65H763.55M428.65 195.05H763.55M428.65 172.45H763.55M428.65 149.85H763.55M469.24 144.9V221M519.99 144.9V221M570.73 144.9V221M621.47 144.9V221M672.21 144.9V221M722.96 144.9V221" stroke="#ebebeb" stroke-width="1.05" fill="none"/>
<path d="M443.87 216.01l.07-1.02 .07 .27 .07-.27 .07 0 .07 0 .07 .75 .07 .23 .07-1.27 .01-1.48 .06 1.63 .07 .21 .07-.63 .07 .04 .07 1.19 .02-2.44 .05 2.79 .07-1.46 .07 1.83 .07-1.39 .07 .64 .07-1.07 .07 .5 .07 1.22 .07 .35 .07-.89 .07-1.12 .07 .31 .07-.11 .04-.27 .03 .72 .07 .36 .07 .69 .07 .5 .07-1.98 .07 1.86 .07-1.68 .07 1.22 .07-.08 .07 .12 .07-1.37 .07 .47 .07-.24 .06-2.37 .01 1.98 .07-.29 .07 1.91 .07-2.97 .07 2.66 .07-3.29 0 1.29 .07 2.64 .07-2.2 .07 2.17 .07-1.99 .07 .66 .07-.72 .07 .5 .07 .55 .07 .07 .07-.35 .07 1 .07-1.38 .07 1.18 .02-1.74 .05 .28 .07 2.05 .07-2.53 .07 2.26 .07-1.79 .07 1.21 .07-.98 .07-.25 .07 .21 .07 1.18 .07-.45 .07-.1 .07-.94 .07 1.71 .07-.77 .07 .68 .01-3.09 .06 .28 .07 1.43 .07-.32 .07 .55 .07-1.46 .07 2.45 .07-1.15 .07 1.67 .07-3.23 .07 1.58 .07-1.08 .07 2.71 .07-.86 .07 .84 .07-2.1 .06-.93 .01 2.12 .07-.78 .07 1.59 .07-1.36 .07 .62 .07-2.15 .07 2.17 .07-.13 .07 .12 .07-1.41 .07 1.83 .07-2.42 .07 1.41 .07-3.07 .01-1.05 .06 5.19 .07-4.16 .07 3.89 .07-1.85 .07 1.17 .02-4.24 .05 2.55 .07 2.32 .07-.92 .07 1.57 .07-3.6 .07 1.86 .07-.97 .07 2.14 .07-3.2 .07 1.87 .07-1.79 .07 3.74 .07-.95 .04-3.29 .03 2.72 .07-2.18 .07 1.82 .07-1.07 .07 2.55 .07-1.97 .07 1.2 .07-.65 .07 1.24 .07-1.38 .07 .83 .07-.18 .07-.3 .07-2.8 .07 2.81 .07-2.2 .03-.92 .04 4.05 .07-2.62 .07 2.1 .07-.16 .07-.1 .07-.46 .07 2.09 .07-3.03 .07 2.14 .07-2.51 .07 2.19 .07-3.05 .07 2.64 .07-2.65 .07 3.28 .07-2.48 .02-2.07 .05 4.56 .07-2.53 .07 3.07 .07-4.86 .07 4.67 .07-1.59 .07 .25 .07-1.49 .07 2.66 .07-1.69 .07 1.18 .07-3.49 .07 2.87 .07-3.53 .07 4.82 .07-3.18 .01-2.06 .06 5.82 .07-4.43 .07 3.05 .07-1.15 .07 1.48 .07-2.85 .07 2.81 .07-2.04 .07 1.7 .07-2.7 .07 3.16 .07-.71 .05-5.08 .02 5.56 .07-2.45 .07 3.08 .07-3.63 .07 3.35 .07-2.02 .07 1.98 .05-21.87 .02 15.88 .07 6.43 .07-7.75 .07 7.76 .07-13.89 .05-8.43 .02 21.85 .07-2.08 .07 1.5 .07-1.98 .04-4.08 .03 5.74 .07-2.02 .07 2.01 .07-4.04 .07 4.43 .07-2.79 .06-2.66 .01 6.83 .07-3.99 .07 2.34 .07-2.15 .07 1.72 .07-4.71 .07 4.64 .07-3.67 .07 3.96 .07-5.71 .03-3.59 .04 9.23 .07-5.23 .07 7.06 .07-19.2 .01-44.41 .06 61.1 .07-48.28 .07 33.61 .07-22.65 .07 30.68 .02-54.46 .05 40.68 .07 15.7 .07-9.97 .07 15.99 0-36.07 .07 3.31 .07 26.85 .07-6.66 .07 6.45 .07-12.78 .07 12.69 .03-24.93 .04 18.4 .07 11.92 .07-22.77 .07 21.57 .07-19.4 .07 19.56 .05-47.68 .02 32.04 .07 8.56 .07-29.6 .07 35.88 .07-20.28 .07 22.39 .07-28.01 0-22.2 .07 41.49 .07-22.29 .07 24.83 .07-17.75 .07 12.75 .07-28.71 .03-11.87 .04 53.8 .07-37.51 .07 27.85 .07-35.5 .01-17.62 .06 61.04 .07-43.7 .07 28.56 .07-11.41 .07 27.15 .02-61.64 .05 42.96 .07 18.03 .07-26.46 .07 16.88 0-42.32 .07 32.8 .07 8.56 .07-27.35 .07 38.89 .07-27.28 .07 23.31 .03-47.83 .04 31.48 .07 18.51 .07-19.33 .07 20 .07-16.12 .07 14.68 .05-16.6 .02 10.17 .07 8.07 .07-6.62 .06-1.67 .01 7.97 .07-2.1 .07 1.17 .07-5.63 .07 6.33 .07-5.39 .07 6.21 .07-5.46 .07 4.85 .07-2.05 .03-8.04 .04 11.23 .07-6.54 .07 4.95 .07-7.93 .01-12.44 .06 20.81 .07-9.77 .07 10.14 .07-4.69 .07 5.86 .02-22.35 .05 19.94 .07 2.58 .07-2.71 .07 2.26 .07-1.54 .07 1.93 .07-1.66 .02-2.49 .05 2.87 .07-2.57 .07 2.15 .07-.82 .07 1.16 .07-1.59 .04-.31 .03 2.16 .07-.97 .07 1.81 .07-.66 .07-.5 .07-.08 .07 .07 .07-1.28 .07 .79 .07-.14 .07 2.49 .07-3.04 .07 2.68 .02-2.88 .05 2.02 .07 .09 .07-.39 .07 .16 .07-1.36 .07 .5 .07-.26 .07 .4 .07 .67 .07 .73 .07-.79 .07 1.15 .06-2.05 .01 .64 .07 .67 .07-.94 .07 .39 .07-.55 .07 1.75 .07-1.01 .07 .86 .07-1.12 .07-.52 .07-.03 .07-.14 .07 .04 .07 1.26 .07-1 .07 .42 .07 .35 .07-.06 .07-.17 .07-.35 .03-3.27 .04 2.01 .07 1.96 .07-2.37 .07 3.35 .07-4.8 .04-.15 .03 4.12 .07-.82 .07 1 .07-.79 .07 .33 .07 .22 .07-.87 .07-.34 .07 1.01 .07-.53 .07 .4 .07-.63 .07 1.17 .06-1.68 .01 .99 .07-.31 .07 .13 .07 .19 .07-.47 .07-.13 .07 .24 .07 1.45 .07-1.06 .07 .7 .07-.65 .07-.07 .07-.34 .07 .42 .01-4.79 .06 2.62 .07 3.55 .07-5.39 .07 3.59 .07-4.06 .02-.31 .05 5.52 .07-1.76 .07 2.06 .07-.64 .07 .58 .07-1.72 .07 .79 .07-.31 .07 .63 .07-1.57 .07 1.54 .07-1.15 .07 2.11 .04-2.76 .03 .1 .07 .94 .07 .44 .07-.38 .07-.5 .07 1.7 .07-.9 .07 .33 .07-1.08 .07 .61 .07-.59 .07 1.25 .07-.31 .06-4.49 .01 4.79 .07-2.05 .07 2.27 .07-1.1 .07 .79 .07-4.7 0 2.72 .07 1.34 .07-.74 .07 2.42 .07-2.57 .07 1.07 .07-1.63 .07 .85 .07 .6 .07 .36 .07 .52 .07-.16 .07-1.78 .07 2.05 .01-2.54 .06 .66 .07 .8 .07-1.34 .07 3.13 .07-1 .07-1.11 .07-.84 .07 .77 .07-.04 .07 1.89 .07-1.58 .07 .62 .07-.84 .03-4.96 .04 6.3 .07-2.41 .07 2.24 .07-4.76 .07 5.43 .04-6.8 .03 3.72 .07 2.31 .07 .01 .07-.3 .07-2.09 .07 3.27 .07-3.01 .07 2.06 .07-2.4 .07 1.75 .07 .16 .07 .23 .07-1.27 .06-.98 .01 1.35 .07 .58 .07 1.71 .07-4.02 .07 3.7 .07-2.43 .07 1.58 .07-1.34 .07 .3 .07-1.76 .07 2.38 .07-1.34 .07 1.34 .07-3.18 .07 2.98 .07-.78 .05-2.98 .02 5.4 .07-3.53 .07 2.58 .07-1.69 .07 2.58 .07-3.06 .07 1.18 .07-2.84 .07 3.48 .07-1.03 .07 1.92 .07-1.7 .07 .14 .07-6.31 0 4.2 .07 3.87 .07-5.42 .07 4.57 .07-6.13 .07 6.44 .01-7.53 .06 7.21 .07 .2 .07-1.4 .07 .38 .07-1.81 .07 2.18 .07-1.72 .07 1.8 .07 .31 .07 .41 .07-3.24 .07 2.64 .07-.79 .03-1.95 .04 2.71 .07-1.35 .07 1.75 .07-2.8 .07 2.85 .07-.82 .07 1.57 .07-2.5 .07 .62 .07-.46 .07 2.26 .07-2.57 .07 2.28 .07-1.22 .07 1.15 .07-2.35 .01-1.12 .06 3.3 .07-3.25 .07 3.31 .07-2.76 .07 3.25 .07-3.84 .07 3.79 .07-.92 .07-.77 .05-5.97 .02 4.71 .07 2.89 .07-4 .07 3.1 .07-4.82 .07 5.45 .07-10.49 0 5.43 .07 3.68 .07-8.49 .07 8.08 .07-9 .07 9.83 .07-6.64 .07 6.36 .07-3.57 .07 5.17 .04-12.72 .03 1.58 .07 10.68 .07-9.98 .07 8.76 .07-10.23 .07 10.67 .06-11.82 .01 6.03 .07 6.99 .07-4.35 .07 2.92 .07-2.55 .07 3.32 .07-11.72 .07 11.67 .07-8.53 .07 6.64 .03-13.29 .04 9.75 .07 5.12 .07-5.16 .07 5.14 .01-33.57 .06 13.68 .07 20.08 .07-15.02 .07 14.3 .07-24.17 .02-8.87 .05 29.4 .07-10.63 .07 14.32 .07-20.04 .07 19.48 .07-18.69 .07 19.18 .01-26.26 .06 18.44 .07 7.32 .07-13.11 .07 8.22 .07-10.19 .07 11.46 .04-21.8 .03 9.61 .07 17.45 .07-14.76 .07 12.22 .07-13.57 .07 12.57 .07-13.15 .07 14.63 .07-9.73 .07-15.14 0 23.94 .07-13.1 .07 14.6 .07-12.24 .07 13.1 .07-10.82 .07 10.45 .03-21.18 .04 17.13 .07 4.34 .07-16.9 .07 16.6 .07-6.68 .07 7.64 .07-11.9 .07 6.34 .07-6.46 .06-10.56 .01 22.58 .07-10.41 .07 9.77 .07-13.14 .07 14.34 .07-7.61 .07 1.95 .01-17.97 .06 13.64 .07 4.27 .07-11.95 .07 15.47 .07-11.47 .07 13.36 .07-8.45 .07 8.6 .07-18.03 .05-3.48 .02 20.06 .07-11.49 .07 9.86 .07-8.86 .07 8.6 .07-4.17 .07-8.72 0 14.58 .07-4.63 .07 5.09 .07-4.26 .07 3.7 .07-12.19 .07 10.14 .07-2.46 .07 1.5 .07-4.36 .04-11.07 .03 15.81 .07-1.98 .07 3.27 .07-18.58 .02-21.04 .05 33.3 .07-18.54 .07 25 .07-22.03 .07 14.79 .03-32.52 .04 31.8 .07 8.34 .07-8.39 .07 9.75 .01-11.63 .06 4.6 .07 6.8 .07-3.67 .07 4.47 .07-5.54 .07 4.62 .04-9.66 .03 5.33 .07 4.13 .07-5.76 .07 7.65 .07-3.23 .07 1.07 .07-5.32 .07 5.13 .07-3.87 .07-4.85 0 10.03 .07-4.52 .07 3.95 .07-6.03 .07 5.43 .07-5.27 .07 6.8 .07-6.35 .07 5.44 .07-4.65 .04-3.89 .03 8.3 .07-3.43 .07 4.14 .07-4.01 .07 4.78 .07-3.36 .07 1.93 .07-1.34 .07 1.5 .07-4.38 0 3.53 .07 1.03 .07-.17 .07 1.77 .07-1.56 .07-.44 .07-.37 .02-1.87 .05 2.36 .07-.33 .07 .76 .07-.56 .07-.07 .07 .28 .07 2 .07-2.82 .07 1.26 .07-2.06 .07 1.97 .07-1.59 .07 2.77 .07-.91 .07-.35 .07 .52 .01-1.95 .06 1.51 .07-.22 .07 1.63 .07-2.2 .07 1.69 .07-1.53 .07 1.01 .07-.83 .07 .61 .07-.61 .07 1.57 .07-1.96 .07 .59 .07-.17 .07 1.62 .07-2.41 0 .68 .07 1.91 .07-1.03 .07 1 .07-.79 .07-.1 .07-.71 .07 .74 .07-.11 .07 .3 .07-1.74 .07 .71 .07-.43 .07 1.72 .02-4.59 .05 2.76 .07 .41 .07-2.44 .07 3.45 .07-1.68 .03-2.5 .04 3.48 .07-.88 .07 1.12 .07 .62 .07 .81 .07-1.88 .07-.18 .07 .02 .07 .09 .07-.56 .07 .64 .07 .51 .07 .6 .05-1.95 .02 .81 .07 1.86 .07-1.66 .07 1.54 .07-1.8 .07-.11 .07-.08 .07 2.23 .07-2.13 .07 .1 .07-.72 .07 2.2 .07-.89 .07-4.67 0 3.99 .07-.57 .07 1.71 .07-3.45 .07 2.43 .07-1.87 .01-2.24 .06 5.31 .07-1.67 .07 1.5 .07 .05 .07-1.16 .07-.32 .07 .85 .07-.57 .07 .36 .07 .8 .07 1.01 .07-2.09 .07 1.56 .02-2.31 .05 1.02 .07 .06 .07 .5 .07 .71 .07-1.5 .07-.06 .07 .41 .07 .58 .07-1.16 .07 .8 .07-.44 .07 2.04 .07-1.92 .04-3.48 .03 4.65 .07-3.28 .07 3.34 .07-4 .07 3.43 .05-4.14 .02 2.38 .07 1.96 .07-1.79 .07 2.59 .07-.34 .07-.58 .07-.35 .07 .37 .07-1.22 .07 .58 .07-.91 .07 2.41 .07-1.3 .07-1.36 0 2.67 .07-2.22 .07 1.62 .07-1.53 .07 .66 .07 .7 .07-.87 .07 .86 .07 .49 .07-1.7 .07 .73 .07-.53 .07 1.08 .07-4.23 .02-3.71 .05 7.68 .07-6.53 .07 5.48 .07-1.28 .07 1.32 .03-6.67 .04 7.29 .07-.73 .07-.03 .07 .23 .07-.36 .07 2.31 .07-1.9 .07 .99 .07 .24 .07-.37 .07-.58 .07 1.62 .07-2.38 .05-.42 .02 1.86 .07-1.84 .07 1.57 .07-1.14 .07 1.3 .07 .31 .07-.48 .07-.77 .07 1.27 .07-2 .07 1.69 .07-.06 .07-.33 .07-1.14 .07 1.01 .07 .4 .03-1.58 .04 2.59 .07-2.32 .07 2.59 .07-1.67 .07 1.56 .07-2.4 .07 1.07 .07-1.09 .07 1.66 .07-.65 .07 .04 .07-.81 .07 1.13 .07-1.42 .07 1.54 .07-1.71 .02-.18 .05 1.05 .07 .1 .07 1.24 .07-2.43 .07 2.58 .07-1.91 .07 1.83 .07-1.61 .07 .12 .07-.38 .07 .79 .07-1.07 .07-1.93 0 3.64 .07-1.6 .07 2.14 .07-1.86 .07 1.17 .07-3.51 .07 3.15 .07-2.98 .07 2.63 .07 .03 .03-3.38 .04 4.36 .07-.55 .07 .62 .07-4.56 .07 3.32 .07-1.27 .07 3 .07-5.07 .07 4.38 .07-10.73 0 1.39 .07 9.69 .07-9.34 .07 7.87 .07-4.01 .07 3.77 .07-10.5 .02-3 .05 15.13 .07-14.25 .07 13.68 .07-12.34 .07 13.01 .07-10.19 .07 7.41 .07-10.26 .07 11.94 .06-18.24 .01 9.07 .07 6.42 .07-3.51 .07 5.04 .04-41.47 .03 29.93 .07 3.17 .07-9.05 .07 16.52 .07-10.7 .05-29.87 .02 43.78 .07-11.3 .07 9.89 .07-8.64 .03-5.96 .04 15.42 .07-5.54 .07 5.77 .07-7.84 .07 6.57 .07-4.05 .06-8.25 .01 12.87 .07-11.02 .07 9.95 .07-6.02 .07 6.22 .07-11.24 .07 13.34 .01-18.18 .06 9.85 .07 3.05 .07-10.01 .07-28.66 0 31.92 .07-8.14 .07 12.67 .07-9.42 .07 8.5 .07-35.53 0 27.24 .07 16.18 .07-3.44 .07 2.67 .06-13.78 .01 9.23 .07 4.13 .07-3.1 .07 3.02 .07-1.62 .07 1.64 .07-9.08 .01-2.19 .06 10.83 .07-8.45 .07 8.99 .07-7.35 .07 7.82 .07-4.12 .07 3.73 .07-3.46 .07 2.31 .05-9.39 .02 1.07 .07 9.5 .07-3.39 .07 4.31 .07-1.99 .07 .79 .07-4.53 .07 5.79 .07-6.82 .07 6.89 .01-9.1 .06 1.62 .07 6.1 .07-2.88 .07 3.65 .07-2.56 .07 3.41 .07-3.73 .07 2.77 .07-1.67 .05-4.56 .02 6.03 .07-.82 .07 .57 .07-1.75 .07 2.49 .07-1.17 .07-4.07 0 4.47 .07 .6 .07-.77 .07 .37 .07 1.28 .07-1.38 .07 .6 .07-3 .07 4.21 .07-4.84 .03-.03 .04 4.1 .07-2.12 .07 2.38 .07-.51 .07-.2 .07-1.17 .06-1.62 .01 2.12 .07-1.9 .07 1.82 .07-.97 .07 1 .07-2.56 .07 2.78 .07-.27 .07 .27 .07-2.8 .07 2.54 .07-2.62 .07 4.79 .07-1.55 .07 1.04 .07-1.01 .05-4.59 .02 3.86 .07-1.18 .07 3.5 .07-2.99 .07 2.7 .07-3.54 .07 2.57 .07-.59 .07 .35 .07-2.58 .07 1.77 .07-1.65 .07 1.99 .06-6.52 .01 4.3 .07 3.09 .07-5.44 .07 5.02 .07-1.21 .07 1.58 0-7.34 .07 6.69 .07 1.25 .07-1.44 .07-.35 .07 .8 .07 1.25 .07-1.71 .07 1.19 .07-1.75 .07 2.34 .07-1.04 .07-1.07 .07-.02 .02-.67 .05 .85 .07 .08 .07 1.88 .07-2.7 .07 2.55 .07-2.45 .07 2.82 .07-2.61 .07 1.01 .07 .31 .07-.62 .07-.05 .07-.17 .07-.51 .07 1.25 .07-.33 .01-.86 .06 1.42 .07-.7 .07 1.56 .07-2.01 .07 1.25 .07-.61 .07 .33 .07-.95 .07 1.85 .07-1.67 .07 1.74 .07-.72 .07-1.02 .07 .28 .07 1.25 .07-1.88 .07 1.87 .07-1.25 .07 .95 .07-1.19 .07 .58 .07-.81 .07 1.9 .07-1.96 .07 2.2 .07-2.02 .07-.01 .07 .46 .07 .1 .02-3.31 .05 .58 .07 2.96 .07-3.14 .07 3.27 .07-3.27 .03-.4 .04 4.16 .07-1.25 .07-.06 .07-.17 .07 .61 .07 .4 .07-.05 .07-1.08 .07 2.09 .07-1.78 .07 1.67 .07-1.41 .07 1.14 .07-1.48 .07 .38 .07-.37 .07 .76 .07 .65 .07 .43 .07-1.56 .07 1.52 .07-1.97 .07 1.94 .07-1.43 .07 1.54 .07-1.85 .07 1.16 .07-.61 .07 1.34 .03-2.35 .04 .06 .07 1.94 .07-1.43 .07 1.92 .07-2.15 .07 .3 .07-.27 .07 .47 .07 .11 .07-.26 .07 .56 .07-.17 .07-.75 .07 2.15 .07-1.53 .07 .34 .07-.49 .07-.19 .07-.49 .07 2.25 .07-.63 .07-1.25 .07 1.23 .07 .19 .07-1.87 .07 1.71 .07-.06 .07 .13 .07-.77 .04-2.98 .03 3.69 .07-2.24 .07 1.82 .07-2.85 .07 1.99 .05-2.41 .02 2.53 .07 .45 .07 .32 .07 .28 .07-1.18 .07 .65 .07-.88 .07 .42 .07-.38 .07 1.45 .07-1.27 .07 2.05 .07-1.25 .07 .18 .07-.41 .07 .43 .07-1.01 .07 1.67 .07-1.33 .07 1.35 .07-1.71 .07 1.75 .07-.56 .07-1.17 .07 .39 .07 .41 .07-.99 .07 1 .07-.99 .06-.08 .01 2.05 .07-1.6 .07 .43 .07-.45 .07 .31 .07 .06 .07 .46 .07 .74 .07-.53 .07-.2 .07-.67 .07 .6 .07 .48 .07-1.59 .07 .84 .07 .47 .04-1.4 .03 2.31 .07-1.95 .07-.22 .07 .52 .07 1.49 .07-2.58 .07 1.88 .07-2.06 .07 2.45 .07-1.64 .07 .58 .07-1.23 .07 .64 .02-1.51 .05 2.05 .07-.18 .07-.38 .07 1.55 .07-1.72 .07 1.47 .07-1.71 .07 .92 .07 .08 .06-3.57 .01 4.96 .07-3.38 .07 2.29 .07-3.41 .07 3.89 .07-4.22 .07 4.35 .07-4.08 .07 2.9 .07-4.48 .02-1.97 .05 8.05 .07-4.48 .07 3.65 .07-2.71 .07 2.6 .07-3.91 .07 3.15 .07-3.06 .07 2.79 .06-7.66 .01 7.4 .07-.11 .07-1.18 .07 1.04 .07-8.13 .07 10.55 .07-7.66 .07 4.42 .07-9.13 .07 9.6 .02-16.5 .05 9.79 .07 7.71 .07-7.08 .07 3.56 .07-7.86 .07 7.26 .04-20.41 .03 6.73 .07 15.13 .07-6.86 .07 5.73 .07-6.71 .07 5.37 .07-23.18 0 4.91 .07 17.29 .07-8.77 .07 15.59 .05-49.62 .02 11.98 .07 36.84 .07-32.64 .07 32.49 .07-26.32 .06-22.35 .01 39.94 .07-14.49 .07 19.59 .07-10.91 .04-13.86 .03 28.48 .07-26.69 .07 27.08 .07-21.89 .07 22.83 .07-24.96 .07-.69 0 19.28 .07-4.31 .07 7.75 .07-12.23 .07 8.13 .07-13.45 .07 19.62 .02-38.47 .05 19.77 .07 13.81 .07-26.22 .07 26.12 .01-34.93 .06 16.14 .07 15.23 .07-13.85 .07 17.18 .07-31.88 .01-2.82 .06 36.38 .07-14.8 .07 18.48 .07-20.58 0 10.96 .07 7.2 .07-7.69 .07 9.78 .07-7.41 .07 8.15 .07-16.68 .02-2.63 .05 20.26 .07-8.47 .07 6.78 .07-6.53 .07 5.67 .07-4.11 .07 3.18 .07-13.1 .07 13.17 .05-20.49 .02 13.96 .07 8.88 .07-9.86 .07 8.92 .04-66.46 .03 30.16 .07 36.38 .07-27.08 .07 25.22 .07-21.57 .05-43.11 .02 66.79 .07-5.8 .07 5.56 .07-16.28 .03-3.88 .04 18.29 .07-9.22 .07 11 .07-10.57 .07 7.27 .07-11.36 .05-1.98 .02 14.72 .07-8.06 .07 9.97 .07-12.71 .07 11.71 .07-4.53 .07 6.09 .01-14.44 .06 8.55 .07 4.49 .07-3.66 .07 4.01 .07-6.72 .07 7.26 .03-8.88 .04 8.15 .07 1.56 .07-1.92 .07 1.85 .07-5.75 .07 5.9 .07-2.31 .07 2.85 .07-4.5 .07-2.03 0 5.46 .07-4.18 .07 5.25 .07-.75 .07-.16 .07-.88 .07 1.79 .07-2.63 .07 2.17 .07-2.28 .03-.62 .04 2.15 .07-1.98 .07 3.46 .07-.74 .07-.11 .07-.84 .07 .97 .07-.3 .07-.39 .07-.66 .07 2.18 .07-2.77 .07 2.78 .01-2.81 .06 .7 .07 1.22 .07-.98 .07 2.08 .07-2.08 .07 1.92 .07-1.14 .07 .29 .07-.13 .04-1.01 .03 .98 .07 .68 .07-.84 .07-.21 .07 1.26 .07-1.51 .07-.17 .07 .55 .07 1.56 .07-1.81 .07 .95 .07-1.13 .07 .18 .07-.15 .07 1.43 .07-1.74 .07 1.27 .07-.54 .07 .29 .07-.63 .07 0 .07-.21 .07 .66 .07 .37 .07-.11 .07 .21 .07 .38 .07-.38 .07 .63 .05-4.09 .02 1.56 .07 .86 .07-.7 .07 1.36 .07-2.19 .06-.89 .01 2.36 .07 .49 .07-.01 .07 .62 .07-1.01 .07 .16 .07 .89 .07 .31 .07-1.58 .07 .4 .07 .51 .07-.98 .07 1.67 .07-.61 .07-.01 .07-.26 .07 .72 .07-.48 .07 .62 .07-.02 .07-.64 .07 0 .07 .17 .07-.54 .07 .64 .07-.98 .07 .85 .07-.56 .07 .66 .07-1.46 0 .71 .07 .42 .07-.62 .07-.26 .07 .12 .07 1.62 .07-1.62 .07 2.14 .07-2.1 .07 1.65 .07-1.33 .07 1.12 .07-.88 .07-.38 .07-.2 .07 1.49 .07-1.19 .07 1.7 .07-1.49 .07 .29 .07-.83 .07 2.16 .07-.55 .07-1.09 .07 .14 .07 .02 .07-.25 .07 1.13 .07-1.71 .07-2.58 0 3.31 .07-1.41 .07 .89 .07-2.74 .07 3.87 .07-.76 .01-3.16 .06 2.78 .07-.41 .07 1.1 .07-.94 .07 2.22 .07-1.82 .07-.21 .07 1.01 .07 1.01 .07-2.14 .07 2.19 .07-.97 .07 1.02 .07-2.39 .07 1.91 .07-1.61 .07 .08 .07-.08 .07-.12 .07 .42 .07-.3 .07 .14 .07 .26 .07-.39 .07 .04 .07 .52 .07 .8 .07-.37 .07-.59 .02-.79 .05 .82 .07 1.03 .07 0 .07 .1 .07-1.61 .07 2.05 .07-2.44 .07 2.26 .07-1.93 .07 1.92 .07-2.01 .07 .9 .07-.25 .07-.25 .07-.13 .07-.04 .07 .46 .07 1.3 .07-2.21 .07 1.52 .07 .02 .07 .3 .07-.98 .07 .68 .07-1.67 .07 1.75 .07-1.14 .07 1.69 .07-2.02 .07 .16 .07 1.65 .06-2.38 .01 1.89 .07-1.24 .07 .47 .07-.2 .07 .95 .07-1.72 .07 2.22 .07-.77 .07-.83 .07 1.26 .03-2.46 .04 1.17 .07 .66 .07-.28 .07-2.07 .02-6.07 .05 8.03 .07-1.09 .07 2.85 .07-7.57 .07 5.59 .02-7.81 .05 8.2 .07-.19 .07 .78 .07-.15 .07-1.7 .07 1.01 .07-1.46 .02-.01 .05 2.95 .07-1.13 .07-.5 .07 .32 .07-.45 .07 .24 .04-1.19 .03 3.16 .07-2.1 .07 1.61 .07-3.66 .07 2.06 .07 .49 .07-.5 .07-2.56 .07 4.62 .07-1.83 .07-.04 .07-3.54 .07 5.11 .02-7.28 .05 3.43 .07 3.51 .07-4.05 .07 3.41 .07-2.35 .07 1.91 .07-.8 .07 1.52 .07-5.9 .05-3.08 .02 8.51 .07-6.45 .07 6.32 .07-6.44 .07 6.46 .07-6.8 .07 7.18 .07-2.63 .07 1.41 .07-7.13 .02-2.64 .05 11.4 .07-8.02 .07 7.57 .07-8.77 .07 7.95 .07-4.5 .07 5.19 .07-7.89 .07 6.29 .05-12 .02 10.18 .07 4.51 .07-9.87 .07 7.16 .07-5.34 .07 6.68 .07-6.4 .07 5.43 .07-6.33 .07 7.11 .02-14.4 .05 11.44 .07 3.1 .07-11.92 .07 10.52 .07-1.62 .07 4.75 .04-17.21 .03 3.75 .07 11.74 .07-4.62 .07 4.74 .07-4.44 .07 3.99 .07-3.81 .07 2.4 .07-9.75 .07 11.21 .01-18.66 .06 5.24 .07 11.62 .07-15.75 .07 19.36 .07-12.59 .07 8.74 .03-20.05 .04 9.48 .07 7.62 .07-4.26 .07 4.71 .07-14 .07 15.54 .05-21.59 .02 11.05 .07 15.28 .07-19.99 .07 18.86 .07-6.43 .07 5.65 .07-7.3 .01-20.06 .06 25.51 .07-13.56 .07 17.64 .07-17.07 .07 15.53 .07-14.19 .07 9.4 .07-11.09 .07 12.92 .04-24.71 .03 11.42 .07 16.64 .07-8.78 .07 5.57 .07-13.62 .07 15.11 .06-30.53 .01 3.89 .07 25.98 .07-14.91 .07 13.41 .07-7.04 .07 6.54 .07-22.87 .02-6.49 .05 33.46 .07-25.9 .07 25.98 .07-28.28 .07 20.31 .07-9.38 .04-18.09 .03 32.75 .07-10.83 .07 13.68 .07-33.04 .07 25.78 .07-21.43 .06-8.24 .01 29.48 .07-8.5 .07 13.48 .07-22.01 .05-14.18 .02 32.6 .07-18.74 .07 22.53 .07-14.92 .07 12.25 .05-33.72 .02 28.76 .07 9.51 .07-9.86 .07 10.16 .04-16.61 .03 12.97 .07 2.78 .07-8.56 .07 7.94 .07-7.74 .07 8.4 .06-12.51 .01 5.13 .07 7.9 .07-6.71 .07 6.23 .07-2.87 .07 3.21 .07-1.99 .07 1.44 .07-5.78 .07 5.97 .03-9.84 .04 9.06 .07 1.04 .07-4.48 .07 6.38 .07-6.79 .07 4.61 .07-.55 .07 .64 .07-.7 .06-4.2 .01 5.72 .07-4 .07 3.44 .07-2.61 .07 3.19 .07-1.14 .07 .87 .02-7.37 .05 6.11 .07-.86 .01-17.01 .06 10.74 .07 8.62 .07-11 .07-8.36 0 18.38 .07-2.48 .07 3.18 .07-.79 .07 1.91 .07-2.04 .07 1.89 .06-6.19 .01 4.46 .07 1.74 .07-3.58 .07 2.2 .07-2.25 .07 3.29 .07-1.89 .02-3.11 .05 5.16 .07-1.26 .07 .36 .07-.57 .07 2.17 .07-2.47 .07 1.99 .07-2.26 .07 1.99 .07-2.76 .07 2.75 .07-3 .06-1.76 .01 4.94 .07-4.85 .07 3.8 .07-.54 .07 .39 .07-1.57 .07 2.29 .07-1.98 .07 1.45 .07-1.95 .03-1.34 .04 3.83 .07-2.83 .07 3.25 .07-3.44 .07 2.42 .07 .09 .07-.58 .07 .48 .07 .85 .07-1.42 .07 1.26 .07-1.51 .07 1.86 .07-.91 .07 .94 .07-1.25 .02-1.31 .05 2.46 .07-2.03 .07 2.58 .07-2.54 .07 1.25 .07 .39 .07 1.04 .07-1.87 .07 1.05 .07-.42 .07-.02 .07-.96 .07 .63 .07-.02 .07 .9 .07-1.43 0-.14 .07 1.25 .07-1.11 .07 .28 .07 .57 .07 .31 .07-.03 .07 .87 .07-1.37 .07 1.22 .07-.23 .07 .17 .07-1.36 .07 .2 .07-.52 .07 1.71 .07-1.71 .07 .57 .07-.34 .07 1.14 .07-1.28 .07-.24 .07 .33 .07 1.48 .07-1.84 .07 1.31 .07-.04 .07-.03 .07-1.05 .07-.11 .01-2.27 .06 2.92 .07 .49 .07-.83 .07 1.87 .07-1.79 .02-2.66 .05 2.67 .07-.22 .07-.12 .07 .53 .07-.57 .07 .09 .07 2.1 .07-1.68 .07-.4 .07 .73 .07-.41 .07-.14 .07 1.05 .07-1.24 .07 .33 .07 .09 .07 .15 .07 .75 .07-.04 .07-.89 .07 1.23 .07-1.59 .07 .57 .07 .47 .07 .09 .07-1.33 .07 1.43 .07-1.31 .07 1.1 .03-1.32 .04 1.52 .07-1.36 .07 .28 .07-.03 .07 .07 .07 1.03 .07-1.43 .07 .58 .07 .23 .07-.48 .07 .94 .07-.33 .07-.01 .07-.4 .07-.27 .07-.05 .02-.29 .05 1.36 .07 .13 .07-1.24 .07 1.33 .07-1.55 .07 .81 .07-.8 .07 .09 .07-1.39 .07 2.65 .07-2.18 .07 .96 .06-2.36 .01 2.98 .07-.11 .07-.03 .07 1.57 .07-2.91 .07 1.54 .07-1.56 .07 2.13 .07-1.15 .07 1.26 .07-.99 .07 1.52 .07-2.8 .04-4.44 .03 6.78 .07-1.95 .07 1.04 .07-2.6 .07 2.38 .07-4.24 .07 4.04 .07-6.47 .07 7.73 .07-5.38 0-6.04 .07 8.46 .07-4.74 .07 7.49 .07-5.65 .07 3.98 .07-9.6 .03-5.78 .04 14.47 .07-2.16 .07 3.99 .07-9.76 .07 7.9 .07-3.14 .07 4.9 .07-3.45 .07 1.97 .07-4.45 .07 3.29 .07-2.86 .07 4.13 0-15.78 .07 6.9 .07 9.09 .07-4.85 .07 6.19 .07-9.38 .07 10.29 .07-6.9 .07 4.52 .07-11.5 .04-4.64 .03 18.41 .07-17.42 .07 12.98 .07-11.49 .07 14.72 .07-9.4 .07 9.85 .07-9 .07 5.01 .07-8.19 0-12.34 .07 21.78 .07-22.44 .07 24.69 .07-28.89 .07 29.46 .07-31.82 .03-2.11 .04 26.17 .07-5.91 .07 11.98 .07-7.9 .07 8.86 .07-25.96 .05-10.61 .02 37.27 .07-31.19 .07 20.34 .07-8.7 .07 11.9 .07-25.66 .07 29.19 0-50.18 .07 31.1 .07 23.43 .07-40.55 .07 30.87 .07-12.16 .07 19.42 .03-52.84 .04 33.26 .07 11.67 .07-22.57 .07 33.59 .07-32.26 .07 30.59 .05-54.42 .02 23.66 .07 31.72 .07-24.75 .07 10.76 .07-27.54 .07 37.67 .07-37.48 .07 40.64 .07-26.03 .07 21.6 .01-51.19 .06 22.42 .07 24.3 .07-36.24 .07-19.95 0 54.43 .07-18.32 .07 25.38 .07-40.01 .07 42.7 .07-20.22 .01-43.96 .06 58.05 .07-1.13 .07 .77 .06-29.25 .01 6.21 .07 21.39 .07-7.24 .07 13.12 .07-18.32 .07 16.58 .07-16.97 .01-9.8 .06 25.16 .07-14.35 .07 15.83 .07-12.11 .07 14.77 .07-10.44 .07 14.65 .07-15.18 .07 8.65 .05-15.64 .02 14.65 .07 2.81 .07-4.69 .07 5.95 .07-8.99 .07 9.51 .07-8.38 0 2.47 .07 7.65 .07-6.41 .07 7.51 .07-7.59 .07 5.9 .07-6.42 .07 7.18 .07-5.41 .07 6.1 .04-10.08 .03 4.25 .07 5.01 .07-5.87 .07 5.11 .07-4.58 .07 4.64 .07-2.86 .07 3.6 .07-4.31 .07-2.47 0 6.15 .07-2.36 .07 2.48 .07-5.28 .07 5.75 .07-5.69 .07 5.12 .07-3.84 .07 4.71 .07-4.04 .07 4.63 .07-3.77 .07 2.03 .05-5.21 .02 3.21 .07 2.31 .07-2.59 .07 4.34 .07-3.81 .07 2.6 .07-3.23 .07 3.88 .07-2.37 .07 1.24 .01-4.94 .06 4.69 .07 1.32 .07-2.26 .07 2.08 .07-2.43 .07 1.33 .07-.35 .07 1.56 .07-1.38 .07 1.18 .07-1.78 .07 1.37 .06-3.1 .01 1.55 .07 1.62 .07-2.12 .07 2.62 .07-1.45 .07 1.92 .07-1.92 .07 1.08 .07-.86 .07 .55 .03-1.37 .04 1.1 .07 1.37 .07-1.44 .07 .29 .07-.58 .07 2.28 .07-1.13 .07 .99 .07-1.65 .07 1.46 .07-1.53 .07 1.04 .07-.58 .07-.02 .07-.09 .07 .32 .07-.73 .07 1.33 .07-.89 .07 .13 .07-.88 .07 1.45 .03-1.6 .04 .72 .07 .65 .07-.75 .07-.41 .07 .82 .07-.9 .07 0 .07 1.45 .07-.32 .07 .43 .07-.9 .07 .06 .07-.56 .07 1.44 .07-.84 .07 .27 .07-.4 .07 .06 .07-.11 .07 1.02 .07-1.35 .07-.33 .07-.03 .07 2.11 .07-1.79 .07 .24 .07 .44 .07 .64 .07-1.65 .03-2.13 .04 3.04 .07-2.03 .07 1.8 .07-2.39 .07 2.13 .04-2.55 .03 3.39 .07-.77 .07 .03 .07 .93 .07-1.31 .07 2.2 .07-2.12 .07 1.01 .07-.73 .07 1.24 .07-.58 .07-.98 .07 .55 .07 1.51 .07-1.77 .07 1.23 .07-1.58 .07 2 .07-1.22 .07 1.11 .07-1.8 .07-.08 .07 .2 .07 2 .07-2.1 .07 1.13 .07-.88 .07 1 .07-.92 .05-.57 .02 1.14 .07-1.08 .07 .13 .07 .17 .07 .13 .07-.17 .07 1.74 .07-.62 .07-1 .07-.25 .07 1.54 .07-1.49 .07 1.23 .07-1.26 .07 .69 .07 .6 .07 .48 .07-.85 .07-.47 .07-.3 .07 1.61 .07-.34 .07-1.61 .07 1.02 .07 .09 .07-.19 .07-.51 .07 .71 .07-.15 .06-3.55 .01 .55 .07 3.8 .07-1.32 .07-.33 .07-.9 .07-1.8 0 4.19 .07-.98 .07 .58 .07-.66 .07 .87 .07-1.12 .07-.25 .07 1.54 .07-.84 .07-.69 .07 1.62 .07-1.77 .07 1.71 .07-.74 .07 1.28 .07-1.61 .07 1.16 .07-1 .07 .87 .07-1.56 .07 1.13 .07-1.17 .07 2.28 .07-2.06 .07 .36 .07 .52 .07-.85 .07 .15 .07 .22 .07-.81 0 .04 .07 1.69 .07-1.45 .07 .24 .07 .52 .07 .58 .07-.79 .07 1.12 .07-.69 .07 .19 .07-.45 .07 .85 .07-1.45 .07 .59 .07-.63 .07 1.66 .07-1.6 .07 1.16 .07-1.38 .07 1.77 .07-2.14 .07 1.91 .07-1.31 .07 1.33 .07-1.22 .07 1.07 .07-1.8 .07 2.11 .07-1.93 .07 1.21 .07-.39 .07 1.12 .05-2.31 .02 1.72 .07 .9 .07-1.81 .07 .55 .07-.44 .07 .54 .07-1.53 0 .45 .07 1.19 .07-1.48 .07 .88 .07-.19 .07 .09 .07-1.03 .07 2.04 .07-3.15 .07 2.63 .04-4.37 .03 2.73 .07 2.59 .07-1.5 .07 .86 .07-3.55 .07 3.54 .07-3.26 .07 2.8 .07-4.3 .07-2.83 0 7.9 .07-5.24 .07 4.63 .07-8.68 .07 8.05 .07-2.84 .07 2.51 .07-6.44 .07 8.68 .07-8.59 .04-6.58 .03 14.16 .07-6.08 .07 2.81 .07-11.08 .07 14.73 .07-17.04 .06-5.96 .01 20.1 .07-7.46 .07 4.48 .07-11.75 .07 16.54 .07-15.91 .07 11.25 .07-7.88 .07 9.66 .07-10.12 .02-9.23 .05 19.47 .07-3.92 .07 6.45 .07-12.48 .07 10.98 .07-8.41 .05-12.82 .02 21.59 .07-8.63 .07 10.08 .07-7.69 .07 5 .07-5.79 .07 5.15 .07-5.37 .07 8.31 .07-5.26 .01-15.43 .06 17.6 .07-6.38 .07 11.16 .07-15.36 .07 11.1 .07-8.49 .04-4.17 .03 16.33 .07-11.75 .07 10.38 .07-8.62 .07 10.23 .07-8.84 .07 8.59 .07-11.71 .07 11.15 .07-19.51 0 13.91 .07 2.5 .07-7.42 .07 10.42 .06-41.6 .01 12.51 .07 29.63 .07-30.25 .07 25.57 .07-15.36 .06-22.1 .01 37.93 .07-5.57 .07 7.99 .07-9.94 .05-10.7 .02 21.59 .07-9.17 .07 11.24 .07-12.45 .07 6.88 .07-10.97 .07-3.72 0 20.38 .07-12.69 .07 7.18 .07-9.23 .07 10.74 .07-12.5 .07 12.99 .07-4.06 .07 6.26 .07-13.73 .04-3.6 .03 14.45 .07-7.89 .07 8.17 .07-7.54 .07 8.77 .07-7.94 .06-4.86 .01 13.13 .07-6.01 .07 4.06 .07-5.47 .07 5.37 .07-.35 .07 3.34 .07-3.91 .07 2.79 .07-10.37 .02-1.14 .05 12.71 .07-2.42 .07 1.39 .07-4.41 .07 4.53 .07-2.08 .05-5.69 .02 9.43 .07-6.37 .07 4.96 .07-6 .07 5.63 .07-4.1 .07 4.45 .07-6.47 .07 6.51 .07-5.24 .01-4.42 .06 9.02 .07-6.55 .07 9.14 .07-32.83 0 9.44 .07 22.48 .07-25.69 .07 21.21 .07-14.22 .07 17.75 0-30.97 .07 27.85 .07 3.87 .07-5.22 .06-2.16 .01 8.48 .07-3.09 .07 1.82 .07-3.94 .07 3.71 .07-3.37 .07 3.03 .01-5.2 .06 2.01 .07 3.61 .07-.66 .07-.1 .07-4.38 .07 5.78 .07-2.5 .07 1.27 .07-2.98 .05-2.26 .02 5.15 .07-3.98 .07 4.71 .07-1.72 .07 2.58 .07-5.16 .07 3.69 .07-3.03 .07 4.4 .07-3.03 .01-4.34 .06 7.62 .07-2.73 .07 2.95 .07-4.39 .07 2.55 .07-1.35 .07 2.7 .07-1.27 .07 .35 .05-2.76 .02 1.51 .07 1.77 .07-1.76 .07 2.28 .07-1.9 .07 .78 .07-.7 0 2.05 .07-.22 .07-1.44 .07 .74 .07-.7 .07 .8 .07-.01 .07 .52 .07-.94 .07 .69 .07-.29 .07 .4 .07-.75 .07 .47 .07-.59 .07 1.48 .07-1.47 .07 1.14 .07-.44 .07 .47 .07-1.87 .07 .07 .07 .74 .05-2.97 .02 4.24 .07-4.12 .07 3.57 .07-2.15 .07 1.65 .06-3.19 .01 1.62 .07 .73 .07 .23 .07 .09 .07-.41 .07 1.16 .07 .01 .07 .05 .07-.96 .07-.28 .07 .91 .07 .86 .07-1.66 .07 .78 .07-.66 .07 1.76 .07-.91 .07 .37 .07-.75 .07 .2 .07-.79 .07 .02 .07 .17 .07 .64 .07-.71 .07 1.67 .07-1.87 .07-.13 .07 .07 .07-.09 0 1.71 .07-1.54 .07 .83 .07 .94 .07-1.2 .07-.53 .07 .27 .07-.46 .07 1.04 .07-1.01 .07 1.12 .07 .14 .07 .66 .07-1.24 .07 1.09 .07-1.08 .07 .22 .07-.05 .07-.87 .07 1.13 .07 .37 .07-.72 .07 .81 .07-1.53 .07 2.09 .07-.82 .07-.19 .07-.93 .07 .14 .07-.88 .01-2.52 .06 3.99 .07-2.78 .07 2.16 .07-.69 .07 1.45 .02-4.13 .05 3.85 .07-.56 .07 .53 .07 1.16 .07-2.37 .07 2.07 .07-1.82 .07 .49 .07 .3 .07 1.34 .07-1.88 .07 .23 .07 .23 .03-1.13 .04 1.25 .07-.31 .07 1.33 .07-1.33 .07 1.76 .07-2.68 .07 1.58 .07-.34 .07 .65 .07-.44 .07-.52 .07 1.25 .07-1.27 .05-4.25 .02 1.25 .07 4.13 .07-3.1 .07 3.19 .07-1.26 .06-4.21 .01 5.36 .07-1.31 .07 1.38 .07-.91 .07 .79 .07-.67 .07 .36 .07-.75 .07 .5 .07 .27 .07 .28 .07-1.39 .07 1.36 .07-2.1 .01-.22 .06 1.26 .07-1.15 .07 1.74 .07-1.81 .07 1.3 .07 .25 .07 .7 .07-1.33 .07 2.14 .07-1.81 .07 .03 .07 .72 .07 .85 .03-9.61 .04 4.09 .07 3.99 .07-4.82 .07 5.18 .07-6.18 .04-2.26 .03 8.04 .07-.02 .07 1.37 .07-1.2 .07 1.54 .07-3.89 .07 2.65 .07-2.25 .07 3.15 .07-1.74 .05-1.88 .02 1.98 .07 .04 .07 1.22 .07-1.96 .07 2.37 .07-2.72 .07 1 .07-.34 .07 1.13 .07-.79 .07 1.99 .07-2.71 .07 1.59 .02-2.8 .05 1.64 .07 .27 .07-1.61 .07 2.98 .07-4.42 .07 4.81 .07-1.2 .07 .07 .07-3.05 .06-3.73 .01 7.48 .07-1.12 .07 1.89 .07-4.84 .07 4.67 .07-5.1 .07 3.98 .01-11.06 .06 3.68 .07 6.91 .07-5.45 .07 4.96 .07-5.58 .07 6.24 .03-12.66 .04 4.06 .07 10.25 .07-12.11 .07 6.75 .02-19.55 .05 3.1 .07 19.67 .07-20.02 .07 21.03 .07-20 .02-3.78 .05 22.93 .07-7.2 .07 6.2 .07-7.03 .01-3.79 .06 11.03 .07-3.53 .07 4 .07-4.42 .07 4.75 .07-4.79 .03-6.09 .04 12.07 .07-11.22 .07 11.16 .07-7.72 .07 4.91 .07-3.36 .06-9.21 .01 11.4 .07-.92 .07 3.95 .07-10.69 .04-26.84 .03 32.36 .07-27.74 .07 34.38 .07-13.83 .07 12.23 .05-37.4 .02 18.15 .07 17.59 .07-12.74 .07 14.41 .03-22.31 .04 16.41 .07 4.33 .07-9.75 .07 11.75 .07-10.45 .07 10.44 .06-20.1 .01 4.9 .07 15.82 .07-15.12 .07 12.1 .07-9.83 .07 9.72 .07-1.82 .01-15.09 .06 19.51 .07-11.86 .07 8.15 .07-4.73 .07 8.5 .07-10.52 .03-7.28 .04 14.67 .07-2.45 .07 2.96 .07-9.82 .07 12 .07-9.63 .07 7.71 .07-11.01 .07 10.52 .07-15.4 0 4.42 .07 11.12 .07-8.11 .07 11.38 .07-8.88 .07 9.45 .07-11.84 .02-8.03 .05 18.71 .07-7.53 .07 7.54 .07-10.99 .07 11.3 .07-3.82 .07 4.44 .07-4.07 .07 1.72 .06-15.34 .01 9.67 .07 6.42 .07-10.79 .07 11.03 .07-3.69 .07 1.35 .07-9.73 .01-3 .06 13.58 .07-7.66 .07 8.12 .07-1.87 .07 2.78 .07-1.91 .03-6.82 .04 9.1 .07-2.31 .07 1.79 .07-3.79 .07 3.81 .07-3.16 .06-.11 .01 4.59 .07-2.54 .07 1.5 .07-.74 .07 1.83 .07-2.42 .07 2.87 .07-1.92 .07 1.49 .07-.61 .07-.51 .07-.15 .07 1.37 .03-2.91 .04 .19 .07 3.02 .07-2.07 .07 .16 .07 1.24 .07-.48 .07-.66 .07 .27 .07 .34 .07-.38 .07-.43 .07 1.96 .07-1.42 .01-.46 .06 .74 .07-.24 .07-.07 .07 .2 .07 1.55 .07-1.97 .07 1.49 .07-1.86 .07 .82 .07-.45 .07 .99 .07-.05 .06-1.96 .01 2.6 .07-2.19 .07 2.51 .07-1.98 .07 .52 .07-.08 .07 1.17 .05-7.85 .02 3.47 .07 3.27 .07-3.4 .07 4.38 .07-3.59 .06-4.13 .01 6.36 .07-.45 .07 1.59 .07-1.13 .07 1.73 .07-1.13 .07 .64 .07-1 .07 1.58 .07-2.64 .07-.08 0 1.52 .07-.23 .07 1.37 .07-1.51 .07 1.02 .07-1.73 .07 1.21 .07-.05 .07 .65 .07-.15 .07-.46 .07-.1 .07 .49 .04-1.39 .03 .92 .07 .82 .07-1.58 .07-.1 .07 .54 .07-.6 .07 .29 .07 .91 .07-.91 .07 1.76 .07-1.51 .07-.3 .07-.49 .07 .73 .07-.44 .07 1.74 .07-.95 .07 .08 .07-.32 .07 1.48 .07-1.98 .07 .94 .07-.83 .07 1.52 .07-1.34 .07-1.02 0 1.33 .07-.24 .07 1.51 .07-3.18 .07 3.15 .07-1.84 .07 .66 .07-.52 .07 1.33 .07-2.13 .07 .74 .07-1.57 .07 3.07 .07-3.39 .07 3.13 .07-2.44 .07 1.86 .07-2.9 .07 2.18 .07-.56 .07 .52 .07-.95 .07 2.49 .01-7.26 .06 4.4 .07 1.98 .07-3.96 .07 5.19 .07-3.49 .07 3.68 .07-1.77 .07-.2 .07-.82 .07 1.94 .07-2.46 .07 2.11 .06-6.04 .01 5.22 .07 1.39 .07-2.32 .07 1.12 .07-.65 .07 1.63 .07-3.97 .07 3.68 .07-3.7 .07 3.19 .02-6.15 .05 1.94 .07 5.58 .07-2.64 .07 .78 .07-2.06 .07 2.39 .07-1.37 .07 1.18 .07-1.2 .07 1.32 .07-1.48 .07 1.76 .07-1.31 0 .78 .07 1.15 .07-.4 .07 .71 .07-.96 .07 1.01 .07-1.09 .07 1.61 .07-1.76 .07-.2 .07 1.14 .07 .8 .07-1.39 .04-.54 .03 .38 .07-.24 .07 .52 .07 .5 .07 .7 .07-1.61 .07 .96 .07-.25 .07-.43 .07-.26 .07 1.89 .07-1.78 .07 1.11 .07-.59 .07 .38 .07-.61 .07-.19 .07-.08 .07 0 .07 .73 .07 .63 .07-.37 .07 .38 .07-1.68 .07 1.54 .07-2.3 0 1.14 .07 1.25 .07-1.78 .07 .3 .07-.21 .07 1.29 .07-1.77 .07 2.14 .07-.41 .07-1.11 .07 1.61 .07 .17 .07-.42 .07 .5 .07-.54 .07-.54 .07-1.11 .07 .63 .07-.09 .07 .29 .07-.73 .07 .58 .07-.29 .01-.33 .06 2.05 .07-2.14 .07 .54 .07 .69 .07-.61 .07 .64 .07 .51 .07-1.91 .07 2.18 .07-1.56 .07 1.26 .07-2.89 .05-.95 .02 4.14 .07-1.38 .07 .82 .07-3.38 .07 2.68 .07-3.23 .07 3.07 .07-3.07 .07 4.46 .07-4.72 .02-1.54 .05 5.28 .07-3.51 .07 2.95 .07-4.63 .07 6.11 .07-6.65 .07 6.06 .07-3.36 .07 4.47 .05-14.25 .02 7.13 .07 6.82 .07-11.57 .07 10.13 .07-14.48 .07 12.98 .07-15.24 .01-5.29 .06 19.94 .07-18.38 .07 16.2 .07-9.4 .07 13.28 .07-5.76 .07 2.85 .07-9.74 .07 12.72 .04-22.65 .03 10.69 .07 11.75 .07-7.99 .07 6.04 .07-17.15 .07 17.12 .07-20.74 0 3.47 .07 16.54 .07-5.46 .07 9.94 .07-14.12 .07 11.98 .07-17.36 .07 14.24 .07-7.76 .07 11.91 .03-28.94 .04 13.08 .07 13.73 .07-17.46 .07 19.13 .07-9.97 .07 9.88 .05-31.85 .02 18.08 .07 8.21 .07-13.92 .07 13.62 .07-17.8 .07 21.21 .07-17.42 .07 10.37 .07-13.28 .07 17.02 .02-30.83 .05 16.35 .07 12.18 .07-24.02 .07 31.97 .07-35.61 .07 35.56 .07-43.52 .01-20.94 .06 53.78 .07-15.6 .07 14.32 .07-23.74 .07 24.97 .02-53.73 .05 55.53 .07 9.88 .07-17.62 .07 13.94 .01-34.52 .06 1.89 .07 25.74 .07-3.56 .07 8.49 .07-5.62 .07 4.4 .03-25.92 .04 10.19 .07 21.72 .07-25.06 .07 20.46 .07-8.77 .07 8.63 .05-32.09 .02 14.58 .07 22.28 .07-29.72 .07 30.21 .04-57.3 .03 37.54 .07 19.6 .07-36.55 .07 32.32 .07-26.78 .04-26.13 .03 52.57 .07-12.34 .07 17.2 .07-16 .03-12.72 .04 24.17 .07-10.27 .07 14.45 .07-21.63 .07 20.84 .07-20.23 .05-3.33 .02 24.5 .07-7.56 .07 6.09 .07-15.3 .07 15.72 .07-15.2 .07 11.42 .07-11.06 .07 11.97 .07-7.48 .02-12.65 .05 23.6 .07-14.87 .07 12.81 .07-5.87 .07 5.62 .07-10.94 .04-4.32 .03 17.56 .07-11.25 .07 7.41 .07-12.32 .07 14.96 .07-8.87 .07 10.21 .07-17.78 .07 13.24 .07-4.54 .01-19.11 .06 28.1 .07-12.38 .07 11.3 .06-28.46 .01 5.77 .07 21.91 .07-9.42 .07 12.81 .07-18.85 .07-12.22 0 31.59 .07-4.19 .07 3.42 .07-1.66 .07 .97 .07-2.97 .07 4.18 .07-6.47 0 4.35 .07 1.71 .07-3.24 .07 2.99 .07-1.56 .07 1.49 .07-3.79 .02-.27 .05 4.84 .07-4.45 .07 4.03 .07-3.5 .07 2.93 .07-1.82 .07 2.08 .07-3.33 .07 3.12 .07-2.83 .07 3.8 .07-1.75 .07 1.66 .07-2.61 .07 1.68 .07-2.69 .01-.59 .06 3.89 .07-1.47 .07 .62 .07-1.81 .07 1.45 .07-1.11 .07 .97 .07 .17 .07 .38 .07-.68 .07 .93 .07-2 .07 3.19 .07-1.57 .07-.41 .06-1.23 .01 .93 .07 .08 .07 .47 .07 1.35 .07-2.25 .07 1.87 .07-1.62 .07 .51 .07 1.12 .07-1.18 .07 .64 .07 .94 .07-3.07 .07 2.89 .07-1.2 .07-.01 .07 .14 .07 .74 .07-.99 .07 1.86 .07-3.43 .07 1.42 .07-.67 .07 2.07 .07-3.44 .07 2.33 .02-2.41 .05 .73 .07 2.9 .07-2.12 .07 2.59 .07-3.38 .07 3.48 .07-1.53 .07 .25 .07-.73 .07 .66 .07-.67 .07 1.08 .07-3.03 .07 2.12 .07-2.65 .07 3.31 .07-3.55 .07 4.14 .07-4.2 .07 4.14 .07-3.96 .07 4.1 .03-4.66 .04 3.52 .07 1.34 .07-2.28 .07 .33 .07 .67 .07-.46 .07-.16 .07 1.01 .07-.69 .07-.19 .07-1.46 .07 1.51 .07-.21 .07 .8 .07-.86 .07 .03 .02-2.52 .05 2.65 .07 .61 .07-3.06 .07 4.29 .07-1.78 .07 .88 .07-1.48 .07 1.47 .07-2.55 .07 3.08 .07-3.34 .07 3.4 .07-3.81 .07 3.79 .07-3.09 .07 2.83 .01-3.89 .06 1.33 .07 2.09 .07-3.38 .07 3.18 .07-1.43 .07 2.23 .07-2.51 .07 2.11 .07-3.17 .07 2.9 .07-3.76 .07 3.89 .07-2.08 .07 2.56 .07-2.79 .06-2.58 .01 3.98 .07-1.7 .07 3.1 .07-4.34 .07 4.7 .07-4.18 .07 3.14 .07-5.43 .07 6.71 .07-3.37 .07 1.47 .07-3.61 .07 4.58 .07-2.38 .07 1.73 .07-3.51 .05-4.57 .02 7.5 .07-1.13 .07 3.18 .07-4.51 .07 3.53 .07-4.44 .07 5.28 .07-5.54 .07 4.55 .07-2.44 .07 1.31 .07-5.38 .07 5.93 .07-2.87 .07 2.86 .07-4.83 .04-2.43 .03 8.73 .07-3.69 .07 3.96 .07-6.98 .07 6.63 .07-6.17 .07 4.53 .07-3.37 .07 4.47 .07-6.29 .07 5.67 .07-1.49 .07 1.53 .07-7.47 .07 6.92 .07-5.88 .03-1.67 .04 7.11 .07-1.22 .07 2.9 .07-5.59 .07 4.68 .07-.16 .07 1.49 .07-2.65 .07 3.18 .06-7.29 .01 .77 .07 4.64 .07-1.56 .07 3.48 .07-5.65 .07 4.4 .07-4.53 .02-1.17 .05 6.32 .07-5.4 .07 4.41 .07-3.31 .07 4.77 .07-6.07 .07 5.44 .07-3.1 .07 2.37 .07-2.97 .07 3.26 .07-4.39 .06-4.52 .01 8.52 .07-3.01 .07 3.48 .07-2.98 .07 2.31 .07-3.19 .07 5.07 .07-4.54 .07 2.27 .07-.75 .07-10.93 0 10.84 .07-8.46 .07 9.89 .07-4.92 .07 4.36 .07-5.62 .01-6.09 .06 11.8 .07-1.22 .07 2.46 .07-5.24 .07 5.02 .07-4.12 .07 4.1 .01-6.52 .06 5.29 .07 2.45 .07-4.37 .07 2.38 .07-4.2 .07 5.22 .03-6.11 .04 2 .07 3.02 .07-1.33 .07 1.1 .07-4.56 .07 4.75 .05-9.6 .02 7.01 .07 3.5 .07-3.53 .07 2.38 .07-5.89 .07 7.69 .07-12.37 .01-4.25 .06 15.53 .07-10.32 .07 7.49 .07-1.24 .07 3.88 .07-6 .03-11.35 .04 16.69 .07-10.33 .07 10.56 .07-6.82 .01-39.75 .06 38.52 .07-8.9 .07 17.55 .07-17.42 .07 8.95 .02-38.7 .05 36.19 .07 6.35 .07-9.59 .07 14.38 0-26.42 .07 16.76 .07 9.16 .07-7.43 .07 8.88 .07-16.55 .07 13.42 .03-21.31 .04 16.35 .07 3.19 .07-9.3 .07 13.44 .07-8.77 .07 9.05 .05-23.68 .02 11.16 .07 7.42 .07-.54 .07 2.76 .07-10.91 .07 13.31 .07-9.05 0-8.51 .07 18.19 .07-7.97 .07 5.42 .07-4.89 .07 3.55 .07-3.99 .03-13.88 .04 21.34 .07-11.96 .07 9.31 .07-22.41 .01-16.48 .06 33.1 .07-18.53 .07 19.77 .07-17.97 .07 20.09 .02-36.46 .05 24.66 .07 12.9 .07-17.5 .07 20.98 0-31.96 .07 17.92 .07 13.88 .07-15.93 .07 9.84 .07-1.98 .07 4.4 .03-27.02 .04 9.94 .07 22.1 .07-12.17 .07 11.41 .07-9.91 .07 6.56 .05-10.23 .02 7.69 .07 5.78 .07-6.05 .07 6.64 .07-7.52 .07 7.12 .07-2.91 0-4.12 .07 7.06 .07-3.17 .07 2.85 .07-2.22 .07 2.72 .07-1.37 .07 2.14 .07-4.14 .07 4.36 .07-5.14 .07 4.58 .07-3.53 .05-3.25 .02 5.16 .07-2.31 .07 2.21 .07 .97 .07-.58 .07-1.57 .07 1.93 .07-.54 .07 1.26 .07-3.39 .02-1.24 .05 3.48 .07-2.67 .07 4.35 .07-3.98 .07 2.62 .07-1.97 .07 2.08 .07-1.29 .07 .88 .07-1.45 .07 1.75 .07-.97 .06-1.25 .01 3.22 .07-2.63 .07 2.97 .07-2.25 .07 1.62 .07-.76 .07 1.47 .07-.56 .07-.17 .07-1.49 .03-.79 .04 2.4 .07-.96 .07 .74 .07-1.01 .07 .06 .07-.25 .07 1.7 .07-1.21 .07 1.35 .07-1.2 .07 .28 .07-.61 .07-.05 .07-.36 .07 .54 .07-.12 .07 1.32 .07-1.09 .07-.12 .07 .19 .07 .57 .07-1.15 .07-.03 .07 .07 .07 2.09 .07-1.15 .07-.65 .07 .09 .07 1.4 .03-4.91 .04 2.8 .07 1.3 .07-1.76 .07 1.5 .07-2.03 .04-1.81 .03 5.31 .07-2.17 .07 .17 .07 .06 .07 1.76 .07-2.19 .07 .36 .07 .65 .07-.79 .07-.28 .07 1.55 .07-.94 .07 .79 .07-1.7 .07 1.58 .07-.72 .07-.05 .07 .4 .07-.27 .07-.61 .07 2.15 .07-.66 .07-.55 .07-.44 .07 .08 .07 1.26 .07-.02 .07-2.07 .07 1.05 .05-1.27 .02 1.12 .07-.47 .07 .06 .07 2.18 .07-2.62 .07 2.25 .07-2.74 .07 1.63 .07 .09 .07-.66 .07-.22 .07 2.16 .07-1.23 .07-.11 .07-1.83 .07 1.29 .07-.4 .07 .66 .07 .47 .07 .59 .07-.76 .07-.44 .07 .41 .07 .45 .07-.22 .07 .17 .07-2.52 .07 2.58 .07-2.03 .07 1.72 .07-2.36 .07 3.28 .03-3.78 .04 2.24 .07 1.18 .07-1.8 .07 1.77 .07-2.86 .07 2.71 .07-1.88 .07 2.14 .07-3.02 .07 3.06 .07-1.95 .07 1.79 .07-1.43 .07 .19 .07 .26 .07 .47 .01-3.85 .06 .17 .07 4.55 .07-3.52 .07 3.51 .07-2.29 .07 1.46 .07-1.87 .07 2.74 .07-2.97 .07 2.23 .07-.4 .07 .72 .07-1.32 .07 .1 .07 .86 .07-.92 0-2.67 .07 .29 .07 2.55 .07-2.46 .07 4.25 .07-3.91 .07 1.87 .07-1.73 .07 2.46 .07-.25 .07 .17 .07-2.76 .07 3.13 .07-2.78 .07 2.86 .07-.47 .06-3.22 .01 4.77 .07-2.17 .07 1.34 .07-2.65 .07 2.48 .07-3.07 .07 3.08 .07-1.91 .07 2.56 .07-4.89 .07 4.04 .07-3.32 .07 4.02 .07-1.57 .07 .33 .07-3.43 .05-2.47 .02 6.43 .07-2.65 .07 3.27 .07-1.99 .07 2.1 .07-5.63 .07 4.9 .07-2.05 .07 2.43 .07-4.84 .07 3.72 .07-5.14 .07 5.46 .07-9.47 0 1.24 .07 6.96 .07-1.81 .07 3.19 .07-2.67 .07 2.16 .01-9.07 .06 9.1 .07 1.32 .07-3.93 .07 3.19 .07-1.81 .07 1.39 .07-1.93 0-2.01 .07 5.73 .07-4.61 .07 3.36 .07-.36 .07 .16 .07 .02 .03-3.68 .04 5.19 .07-3.8 .07 1.74 .07-2.01 .07 2.52 .07-1.51 .07 1.09 .07-3.52 .07 5.27 .06-5.38 .01 3.85 .07 1.77 .07-2.3 .07 1.45 .07-1.83 .07 1.51 .07-3.01 .07 3.55 .07-2.01 .07 .93 .07-.29 .07 1.01 .07-.87 .04-4.1 .03 4.51 .07-4.45 .07 3.85 .07-3.5 .07 4.6 .07-2.95 .07 2.6 .07-3.85 .07 4.15 .07-8.73 0 4.81 .07 2.85 .07-4.8 .07 5.54 .07-7.1 .07 5.54 .07-4.51 .03-4.97 .04 9.23 .07-5.92 .07 7.3 .07-4.87 .07 5.39 .07-5.98 .05-12.68 .02 18.32 .07-13.17 .07 13.36 .07-14.56 .07 11.25 .07-13.64 .07-8.82 0 23.78 .07-10.75 .07 12.94 .07-10.01 .07 10.79 .07-16.93 .07 15.99 .03-31.77 .04 20.91 .07 4.18 .07-17.57 .07 15.62 .07-33.15 .07 39.8 .05-50.37 .02 32.04 .07 16.65 .07-35.11 .07 27.62 .07-25.7 .07 35.96 .07-52.61 0 30.57 .07 22.54 .07-37.84 .07 31.77 .06-55.65 .01 41.19 .07 20.79 .07-48.38 .07 40.3 .07-26.25 .06-27.65 .01 49.53 .07-12.97 .07 17.86 .07-31.03 .05-19.27 .02 55.19 .07-25.92 .07 26.72 .07-21.02 .07 7.76 .07-9.34 .07-32.98 0 43.22 .07-25.59 .07 29.72 .07-23.4 .07 27.27 .07-12.05 .07 12.1 .03-26.58 .04 16.01 .07 16.93 .07-26.24 .07 22.58 .07-9.73 .07 8.23 .05-17.14 .02 4.67 .07 17.04 .07-5.95 .07 4.38 .07-17.08 .07 18.88 .07-20.71 .07 17.47 .07-9.85 .07 10.15 .01-22.26 .06 5.71 .07 15.55 .07-12.34 .07-21.58 0 30.58 .07-21.32 .07 25.61 .07-15.53 .07 19.82 .07-12.08 0-27.08 .07 38.01 .07-5.68 .07 5.15 .06-6.06 .01 4.04 .07 2.58 .07-1.5 .07 2.04 .07-.72 .07 1.44 .07-3.49 .01-2.25 .06 4.03 .07-.69 .07 1.6 .07-4.11 .07 4.47 .07-3.64 .07 2.34 .07-2.35 .07 3.67 .05-4.98 .02 2.7 .07 .74 .07-.05 .07 1.49 .07-1.61 .07 1.41 .07-3.01 .07 3.69 .07-4.34 .07 3.17 .01-3.78 .06 1.35 .07 2.69 .07-2.7 .07 1.5 .07-1.08 .07 1.91 .07-1.49 .07 3.02 .07-2.34 .05-3.51 .02 5.86 .07-4.28 .07 3.3 .07-2.76 .07 3.23 .07-3.2 .07 1.76 .04-8.76 .03 2.18 .07 6.96 .07-3.16 .07 3.34 .07-7.19 .05-2.13 .02 10.51 .07-2 .07 .22 .07-.28 .07 1.78 .07-2.16 .07 2.47 .07-1.67 .07 1.3 .07-2.74 .06-.28 .01 3.22 .07-1.62 .07 1.62 .07-1.55 .07 1.28 .07-.71 .07-.14 .07-.3 .07 1.45 .07-1.72 .02-.35 .05 1.99 .07-1.93 .07 .69 .07-.69 .07 .14 .07 .94 .07 .03 .07-.85 .07-.03 .07 1.13 .07 .44 .07-1.12 .07 .58 .07-.16 .07-.61 .07 .38 .07 1.23 .07-1.69 .07 .56 .07-.48 .07-.47 .07 .13 .07 .44 .07 .03 .07-.17 .07-.08 .07-.01 .07-.16 .07 1.98 .03-4.36 .04 2.46 .07-.31 .07-.52 .07 .87 .07-2.15 .04-.35 .03 3.56 .07-1.3 .07 1.41 .07-.98 .07 .03 .07 .87 .07-.81 .07-.53 .07 .67 .07-.58 .07 .33 .07 1.28 .07-.59 .07-1.24 .07 1.28 .07-.61 .07 .82 .07-1.24 .07 1.01 .07-.03 .07-.49 .07-.32 .07 .77 .07-.32 .07-.4 .07 1.03 .07 .78 .07-.3 .07-1.07 .05-.91 .02 .25 .07 2.09 .07-2.17 .07 1.78 .07-.77 .07 .17 .07-.89 .07 .08 .07-.37 .07 1.5 .07-1.23 .07 .29 .07-.55 .07 1.11 .07 .14 .07-.86 .07-.34 .07 1.52 .07-1.6 .07 1.92 .07-1.8 .07 .45 .07-.65 .07 .25 .07 .17 .07 1.45 .07-1.34 .07 .3 .07-.21 .05-2.37 .02 3.47 .07-2.03 .07 .96 .07-1.71 .07 2.8 .06-3.49 .01 2.52 .07 .85 .07-1.02 .07 1.22 .07-1.37 .07-.45 .07 1.79 .07-.03 .07-1.38 .07 1.21 .07-1.55 .07 .66 .07-.25 .07 .37 .01-.89 .06 .53 .07-.09 .07 .43 .07 .76 .07-1.59 .07 .21 .07-.31 .07 1.23 .07-.41 .05-1.14 .02 .67 .07-.3 .07 2 .07-2.13 .03-7.08 .04 8.01 .07-4.21 .07 4.94 .07-5.94 .07 5.36 .04-8.16 .03 6.74 .07 1.48 .07-1.47 .07 2.24 .07-1.5 .07 .92 .07-2.09 .04-.31 .03 2.41 .07-2.15 .07 1.75 .07-.34 .07 .93 .07-1.33 .06-1 .01 1.88 .07-1.86 .07 2.21 .07-1.32 .07 1.16 .07-.83 .07 .36 .07-.63 .07 1.35 .07-2.63 .02-.2 .05 2.31 .07-1.9 .07 2.12 .07-3.77 .01-7.85 .06 11.28 .07-5.26 .07 5.12 .07-7.85 .07 7.75 .02-11.04 .05 3.55 .07 7.22 .07-1.27 .07 3.38 .07-6.21 .07 6.02 .07-5.99 .07 4.6 .07-6.1 .07 5.41 .07-5.29 .07 7.22 .07-4.96 .03-4.7 .04 8.5 .07-3.88 .07 3.42 .07-4.54 .07 5.63 .07-4.25 .07 3.38 .07-5.06 .07 4.92 .07-1.09 .07 2.24 .07-2.3 .07 2.03 .07-.9 .07 .78 .07-2.03 .02-3.9 .05 6.14 .07-3.7 .07 3.11 .07-3.38 .07 4.02 .07-4 .07 3.16 .07-.46 .07 .29 .06-6.5 .01 .92 .07 5.96 .07-4.42 .07 4.61 .07-5.8 .07 6.68 .07-7.61 .01-1.94 .06 8.9 .07-8.04 .07 8.11 .07-5.33 .07 4.15 .07-8.22 .07 9.07 .07-4.58 .07 4.69 .05-11.58 .02 5.85 .07 5.97 .07-4.95 .07 4.74 .07-10.18 .07 8.9 .07-12.42 0 4.05 .07 9.18 .07-7.17 .07 8.08 .07-6.06 .07 4.36 .07-5.99 .07 5.71 .07-4.61 .07 4.37 .03-18.11 .04 14.17 .07 2.8 .07-8.26 .07 7.77 .07-12.34 .07 10.9 .06-17.39 .01 13.64 .07 9.31 .07-21.11 .07 20.44 .07-10.95 .07 4.71 .07-11.55 .07 12.93 .07-4.14 .07 7.85 .02-23.1 .05 10.31 .07 12.94 .07-17.36 .07 14.73 .07-13.65 .07 15.51 .07-15.23 .02-8.7 .05 24.31 .07-9.12 .07 5.5 .07-15.08 .07 17.65 .03-23.26 .04 16.8 .07 6.93 .07-10.37 .07 12.8 .07-6.86 .07 5.48 .07-12.56 .02-8.13 .05 21.33 .07-15.28 .07 9.99 .07-8.17 .07 10.95 .07-13.36 .05-4.96 .02 20.83 .07-15.39 .07 14.81 .07-12.37 .07 10.31 .07-9.9 .07 13.01 .07-6.8 .07 5.7 .07-7.77 .01-2.77 .06 11.99 .07-8.13 .07 6.64 .07-6.35 .07 6.97 .07-4.18 .03-2.82 .04 6.84 .07-.76 .07 1.25 .07-2.94 .07 3.48 .07-5.79 .07 4.23 .07-2.74 .07 2.95 .07-9.65 0 6.13 .07 4.83 .07-3.8 .07 3.77 .07-5.59 .07 5.33 .07-6.14 .07 5.85 .07-4.93 .07 3.43 .03-10.35 .04 1.71 .07 9.81 .07-8.91 .07 7.89 .07-8.63 .07 8.35 .07-5.7 .07 5.64 .07-.54 .07-9.13 0 10.82 .07-7.99 .07 7.44 .07-7.35 .07 6.26 .07-4.04 .07 5 .07-4.45 .07 5.92 .07-7.31 .03-3.92 .04 10.51 .07-6.86 .07 6.08 .07-2.03 .07 3.4 .07-7.13 .07 8.02 .07-3.7 .07 2.12 .07-10.04 0 7.28 .07 1.8 .07-3.65 .07 5.02 .07-5.16 .07 4.81 .07-1.61 .02-8.36 .05 11.25 .07-3.95 .07 2.11 .07-1.68 .07 2.77 .07-5.05 .07 4.9 .07-4.04 .07 4.65 .06-6.36 .01 2.55 .07 4.38 .07-1.07 .07 .52 .07-2.46 .07 1.3 .07-1.09 .01-1.28 .06 3.59 .07-2.12 .07 1.39 .07-1.26 .07 2.21 .07-3.12 .07 3.48 .07-2.64 .07 1.73 .07-1.93 .07 1.29 .07-.63 .06-.71 .01 2.96 .07-2.44 .07 2.19 .07-2.05 .07 1.58 .07-1.5 .07 1.87 .07-1.54 .07 1.53 .07-1.13 .07 .77 .07-1.3 .07-.03 .07 .08" stroke="#000" stroke-width="1.05" fill="none" stroke-linejoin="round"/>
<rect x="428.65" y="144.9" width="334.9" height="76.1" fill="none" stroke="#333" stroke-width="0.75"/>
<rect x="428.65" y="124.1" width="334.9" height="20.8" fill="#d9d9d9" stroke="#333" stroke-width="0.75"/>
<text x="596.1" y="139.6" text-anchor="middle" font-size="14.45" fill="#1a1a1a">Mata Atlântica</text>
<path d="M425.75 217.65H428.65M425.75 195.05H428.65M425.75 172.45H428.65M425.75 149.85H428.65M469.24 221V223.9M519.99 221V223.9M570.73 221V223.9M621.47 221V223.9M672.21 221V223.9M722.96 221V223.9" stroke="#444" stroke-width="0.95" fill="none"/>
<text x="423.85" y="222.55" text-anchor="end" font-size="14.4" fill="#4d4d4d">0</text>
<text x="423.85" y="199.95" text-anchor="end" font-size="14.4" fill="#4d4d4d">200</text>
<text x="423.85" y="177.35" text-anchor="end" font-size="14.4" fill="#4d4d4d">400</text>
<text x="423.85" y="154.75" text-anchor="end" font-size="14.4" fill="#4d4d4d">600</text>
<text x="469.24" y="236.35" text-anchor="middle" font-size="14.4" fill="#4d4d4d">2012</text>
<text x="519.99" y="236.35" text-anchor="middle" font-size="14.4" fill="#4d4d4d">2014</text>
<text x="570.73" y="236.35" text-anchor="middle" font-size="14.4" fill="#4d4d4d">2016</text>
<text x="621.47" y="236.35" text-anchor="middle" font-size="14.4" fill="#4d4d4d">2018</text>
<text x="672.21" y="236.35" text-anchor="middle" font-size="14.4" fill="#4d4d4d">2020</text>
<text x="722.96" y="236.35" text-anchor="middle" font-size="14.4" fill="#4d4d4d">2022</text>
</g>
<g>
<path d="M59.9 329.1H394.55M59.9 310.8H394.55M59.9 292.5H394.55M59.9 274.2H394.55M75.11 265.4V341.3M125.82 265.4V341.3M176.52 265.4V341.3M227.23 265.4V341.3M277.93 265.4V341.3M328.63 265.4V341.3M379.34 265.4V341.3" stroke="#ebebeb" stroke-width="0.55" fill="none"/>
<path d="M59.9 338.25H394.55M59.9 319.95H394.55M59.9 301.65H394.55M59.9 283.35H394.55M100.46 265.4V341.3M151.17 265.4V341.3M201.87 265.4V341.3M252.58 265.4V341.3M303.28 265.4V341.3M353.99 265.4V341.3" stroke="#ebebeb" stroke-width="1.05" fill="none"/>
<path d="M75.11 338.25l.07-1.78 .07 1.78 .07-1.18 .07 1.18 .07-1.89 .07 1.89 .07-1.35 .07 1.35 .07-1.54 .07 1.54 .05-7.54 .02 .83 .07 6.71 .07-6.58 .04-.96 .03 7.54 .07-1.33 .07 1.33 .07-2.13 .07 2.13 .07-2.55 .07 2.55 .07-1.4 .04-2.01 .03 3.41 .07-3.07 .07 3.07 .07-1.27 .07 1.27 .07-1.92 .07 1.92 .07-2.96 .05-3.47 .02 6.43 .07-3.55 .07 3.55 .04-6.43 .03 4.09 .07 2.34 .07-1 .07 1 .07-2.17 .07 2.17 .07-2.25 .07 2.25 .07-1.56 .07 1.56 .07-1.79 .05-.61 .02 2.4 .07-1.83 .07 1.83 .07-.98 .07 .98 .07-1.84 .07 1.84 .07-1.94 .07 1.94 .07-1.35 .02-.82 .05 2.17 .07-2.15 .07 2.15 .07-2.45 .07 2.45 .07-1.95 .07 1.95 .07-2.27 .07 2.27 .07-2.93 .07 2.93 .07-1.87 .07 1.87 .07-2.97 .07 2.97 .07-2.32 .01-1.65 .06 3.97 .07-3.2 .07 3.2 .07-2.38 .07 2.38 .07-3.08 .07 3.08 .07-3.51 .07 3.51 .07-3.9 .07 3.9 .07-3.08 .07 3.08 .07-2.8 .04-6.95 .03 9.75 .07-4.38 .07 4.38 .03-9.75 .04 6.71 .07 3.04 .07-2.31 .07 2.31 .07-3.38 .07 3.38 .07-3.47 .07 3.47 .03-3.69 .04 .19 .07 3.5 .07-3.16 .07 3.16 .07-3.91 .02-6.95 .05 10.86 .07-9.46 .07 9.46 .01-10.86 .06 8.28 .07 2.58 .07-1.89 .07 1.89 .07-2.19 .07 2.19 .07-2.75 .07 2.75 .02-3.15 .05 .47 .07 2.68 .07-2.89 .07 2.89 .07-2.23 .07 2.23 .04-4.96 .03 1.06 .07 3.9 .07-4.48 .07 4.48 .07-2.51 .07 2.51 .07-3.08 .07 3.08 .07-3.51 .07 3.51 .01-5.62 .06 1.69 .07 3.93 .07-2.95 .07 2.95 .07-16.4 0 4.26 .07 12.14 .07-9.08 .06-7.32 .01 16.4 .07-3.54 .07 3.54 .07-1.78 .07 1.78 .07-4.8 .07 4.8 .07-3.11 .07 3.11 .07-3.07 .07 3.07 .07-3.31 .01-3.1 .06 6.41 .07-3.55 .07 3.55 .07-5.66 .07 5.66 .07-3.23 .07 3.23 .07-5.97 .07 5.97 .07-5.15 .07 5.15 .02-17.51 .05 11.31 .07 6.2 .07-5.6 .01-11.91 .06 17.51 .07-4.18 .07 4.18 .07-2.35 .07 2.35 .07-3.29 .07 3.29 .07-4.16 .07 4.16 .07-3.64 .07 3.64 .03-5.86 .04 .58 .07 5.28 .07-5.41 .07 5.41 .07-5.4 .07 5.4 .07-7.26 .07 7.26 .07-7.42 .07-6.32 0 13.74 .07-8.14 .07 8.14 .07-8.32 .07 8.32 .07-10.07 .07 10.07 .07-5.84 .07 5.84 .07-7.86 .07 7.86 .07-9.03 .07 9.03 .04-14.82 .03 9.7 .07 5.12 .07-8.43 .07 8.43 .07-6.79 .07 6.79 .07-12.36 .07 12.36 .05-24.16 .02 12.99 .07 11.17 .07-22.34 .04-1.82 .03 24.16 .07-7.02 .07 7.02 .07-4.15 .07 4.15 .07-8.15 .07 8.15 .07-7.26 .04-1.86 .03 9.12 .07-7.38 .07 7.38 .07-6.15 .07 6.15 .04-24.82 .03 5 .07 19.82 .07-12.39 .03-12.43 .04 24.82 .07-8.6 .07 8.6 .07-8.67 .07 8.67 .07-4.03 .07 4.03 .07-4.17 .03-7.48 .04 11.65 .07-10.27 .07 10.27 .07-9.24 .07 9.24 .07-3.95 .05-5.17 .02 9.12 .07-8.76 .07 8.76 .07-5.72 .07 5.72 .07-9.5 .07 9.5 .07-11.37 .07 11.37 .07-9.71 .02-6.62 .05 16.33 .07-14.02 .07 14.02 .07-11.71 .07 11.71 .01-69.15 .06 40.31 .07 28.84 .07-40.03 0-29.12 .07 69.15 .07-13.81 .07 13.81 .07-19.15 .06-15.85 .01 35 .07-29.96 .07 29.96 .07-8.92 .07 8.92 .07-14.56 .07 14.56 .02-31.58 .05 13.35 .07 18.23 .07-15.16 .07 15.16 .07-10.36 .07 10.36 .04-17.18 .03 10.74 .07 6.44 .07-6.65 .07 6.65 .07-7.69 .07 7.69 .06-5.65 .01 1.13 .07 4.52 .07-3.28 .07 3.28 .07-3.54 .07 3.54 .07-2.35 .07 2.35 .07-2.92 .07 2.92 .03-3.72 .04 .77 .07 2.95 .07-1.71 .07 1.71 .07-1.9 .07 1.9 .05-5.04 .02 1.67 .07 3.37 .07-4.01 .07 4.01 .07-1.75 .07 1.75 .07-2.74 .07 2.74 .07-2.06 .07 2.06 .07-4.31 .07 4.31 .07-2.98 .03-2.51 .04 5.49 .07-2.73 .07 2.73 .07-3.49 .07 3.49 .07-3.57 .07 3.57 .07-3.27 .03-12.02 .04 15.29 .07-10.49 .07 10.49 .02-15.29 .05 12.95 .07 2.34 .07-3.39 .07 3.39 .07-3.52 .07 3.52 .07-3.16 .07 3.16 .03-4.05 .04 2.29 .07 1.76 .07-2.63 .07 2.63 .07-3.2 .07 3.2 .05-3.69 .02 1.75 .07 1.94 .07-2.02 .07 2.02 .07-1.93 .07 1.93 .07-3.53 .07 3.53 .07-3.55 .07 3.55 .02-4.49 .05 2.14 .07 2.35 .07-3.2 .07 3.2 .07-3.81 .07 3.81 .07-3.33 .07 3.33 .02-14.63 .05 8.18 .07 6.45 .07-10.37 .01-4.26 .06 14.63 .07-2.25 .07 2.25 .07-1.82 .07 1.82 .07-3.28 .07 3.28 .07-3.07 .07 3.07 .07-3.58 .07 3.58 .03-4.34 .04 2.09 .07 2.25 .07-2.28 .07 2.28 .07-2.84 .07 2.84 .07-3.72 .07 3.72 .07-2.7 .06-.87 .01 3.57 .07-2.35 .07 2.35 .07-1.67 .07 1.67 .07-2.92 .07 2.92 .07-2.21 .07 2.21 .07-1.66 .07 1.66 .07-1.72 .07 1.72 .07-2.3 .07 2.3 .07-2.44 .05-.04 .02 2.48 .07-1.13 .07 1.13 .07-1.41 .07 1.41 .07-2.05 .07 2.05 .07-1.88 .07 1.88 .07-1.94 .07 1.94 .07-1.63 .07 1.63 .07-2.44 .07 2.44 .01-7.54 .06 2.5 .07 5.04 .07-7.54 0 3.57 .07 3.97 .07-1.98 .07 1.98 .07-2.58 .07 2.58 .07-1.04 .07 1.04 .07-2.05 .07 2.05 .07-2.03 .07 2.03 .07-2.93 .07 2.93 .07-2.11 .03-.84 .04 2.95 .07-1.73 .07 1.73 .07-2.28 .07 2.28 .07-2.77 .07 2.77 .07-2.88 .07 2.88 .07-2.67 .07 2.67 .07-3.24 .07 3.24 .07-1.75 .07 1.75 .07-1.92 .02-1.49 .05 3.41 .07-3.28 .07 3.28 .07-1.5 .07 1.5 .07-2.6 .07 2.6 .07-3.04 .07 3.04 .05-4.08 .02 .12 .07 3.96 .07-2.14 .07 2.14 .07-2.3 .04-11.89 .03 14.19 .07-8.7 .07 8.7 .03-14.19 .04 11 .07 3.19 .07-4.03 .07 4.03 .07-3.44 .07 3.44 .07-2.32 .07 2.32 .04-4.24 .03 .32 .07 3.92 .07-4.41 .07 4.41 .07-5.04 .07 5.04 .06-6.09 .01 4.21 .07 1.88 .07-3.55 .07 3.55 .07-3.96 .07 3.96 .07-2.36 .07 2.36 .07-2.45 .07 2.45 .03-8 .04 4.59 .07 3.41 .07-5.18 .07 5.18 .07-9.7 .02-8.92 .05 18.62 .07-7.88 .07 7.88 .01-18.62 .06 11.44 .07 7.18 .07-7.29 .07 7.29 .07-6.75 .07 6.75 .07-5.24 .07 5.24 .02-8.58 .05 3.48 .07 5.1 .07-3.06 .07 3.06 .07-9.93 .01-10.9 .06 20.83 .07-15.68 .07-5.15 0 20.83 .07-7.68 .07 7.68 .07-5.46 .07 5.46 .07-5.84 .07 5.84 .07-5.29 .07 5.29 0-9.67 .07 1.01 .07 8.66 .07-6.21 .07 6.21 .07-13.13 .07 13.13 .03-20.72 .04 12.56 .07 8.16 .07-11.29 .07 11.29 .07-20.24 .07 20.24 .07-15.12 .07 15.12 .07-25.25 .06-7.55 .01 32.8 .07-15.98 .07 15.98 .07-26.53 .07 26.53 .07-16.06 .07 16.06 .02-36.33 .05 22.2 .07 14.13 .07-20.64 .07 20.64 .07-38.05 .01-14.48 .06 52.53 .07-34.6 .07-17.93 0 52.53 .07-20.54 .07 20.54 .07-21.01 .07 21.01 .06-24.88 .01 7.73 .07 17.15 .07-12.97 .07 12.97 .07-12.92 .07 12.92 .07-13.08 .02-7.71 .05 20.79 .07-11.12 .07 11.12 .07-14.18 .07 14.18 .07-15.88 .04-9.75 .03 25.63 .07-10.67 .07 10.67 .07-13.9 .07 13.9 .03-46.99 .04 17.17 .07 29.82 .07-23.19 .02-23.8 .05 46.99 .07-19.54 .07 19.54 .07-22.39 .07 22.39 .07-20.23 .07 20.23 .07-21.14 .03-10.51 .04 31.65 .07-15.01 .07 15.01 .07-9.83 .07 9.83 .02-46.32 .05 8.49 .07 37.83 .07-14.1 .01-32.22 .06 46.32 .07-20.68 .07 20.68 .07-37.4 .07 37.4 0-45.22 .07 12.2 .07 33.02 .07-38.37 .07 38.37 .07-38.31 .07 38.31 .03-45.66 .04 17.51 .07 28.15 .07-18.5 .07 18.5 .07-26.56 .07 26.56 .05-23.23 .02 8.24 .07 14.99 .07-7.3 .07 7.3 .07-7.6 .07 7.6 .07-3.73 0-1.25 .07 4.98 .07-3.01 .07 3.01 .07-1.91 .07 1.91 .07-2.47 .07 2.47 .07-1.79 .07 1.79 .07-3.19 .07 3.19 .07-2.65 .05-1.04 .02 3.69 .07-2.37 .07 2.37 .07-2.46 .07 2.46 .07-2.45 .07 2.45 .07-3.12 .07 3.12 .07-4.15 .02-2.05 .05 6.2 .07-6.27 .07 6.27 .07-4.63 .07 4.63 .07-6.36 .07 6.36 .07-4.68 .07 4.68 .07-3.12 .07 3.12 .07-4.42 .06-3.41 .01 7.83 .07-6.29 .07 6.29 .07-3.98 .07 3.98 .07-3.72 .07 3.72 .07-3.25 .07-13.59 0 16.84 .07-12.68 .07 12.68 .06-16.84 .01 6.27 .07 10.57 .07-3.72 .07 3.72 .07-4.3 .07 4.3 .07-3.83 .07 3.83 .06-6.89 .01 3.13 .07 3.76 .07-4.51 .07 4.51 .07-5.65 .07 5.65 .07-5.77 .07 5.77 .07-6.19 .07 6.19 .03-6.67 .04 1.29 .07 5.38 .07-5.79 .07 5.79 .07-4.75 .07 4.75 .07-1.86 .07 1.86 .07-2.36 .07 2.36 .07-2.17 .07 2.17 .07-1.43 0-1.72 .07 3.15 .07-2.37 .07 2.37 .07-1.89 .07 1.89 .07-1.74 .07 1.74 .07-2.62 .01-4.92 .06 7.54 .07-5.89 .07-1.65 0 7.54 .07-1.91 .07 1.91 .07-1.45 .07 1.45 .07-2.08 .07 2.08 .07-1.99 .07 1.99 .07-1.86 .07 1.86 .07-1.76 .01-.41 .06 2.17 .07-1.8 .07 1.8 .07-.97 .07 .97 .07-1.36 .07 1.36 .07-1.12 .07 1.12 .05-.89 .02 .02 .07 .87 .07-.82 .07 .82 .07-1.04 .07 1.04 .07-1.11 .07 1.11 .07-.82 .07 .82 .07-1.25 .07 1.25 .07-1.18 .03-.15 .04 1.33 .07-1.44 .07 1.44 .07-1.57 .07 1.57 .07-1.09 .07 1.09 .07-1.19 .07 1.19 .07-1.56 .07 1.56 .07-1.42 .07 1.42 0-2.17 .07-.05 .07 2.22 .07-1.55 .07 1.55 .07-2.65 .07 2.65 .07-3.05 .07 3.05 .07-2.96 .07 2.96 .07-2.84 .07 2.84 .05-4.61 .02 2.03 .07 2.58 .07-3.65 .07 3.65 .07-2.04 .07 2.04 .07-2.83 .07 2.83 .07-3.52 .07 3.52 .07-2.82 .07-9.15 0 11.97 .07-8.6 .07 8.6 .06-11.97 .01 6.06 .07 5.91 .07-3.25 .07 3.25 .07-3.38 .07 3.38 .07-3.42 .07 3.42 .07-2.44 .07 2.44 .07-3.18 .07 3.18 0-3.75 .07 1.73 .07 2.02 .07-2.38 .07 2.38 .07-2.56 .07 2.56 .07-3.73 .07 3.73 .07-2.8 .04-.92 .03 3.72 .07-2.69 .07 2.69 .07-1.55 .07 1.55 .07-3.11 .07 3.11 .07-4.99 .07 4.99 .07-4.77 .07 4.77 .07-2.66 .07 2.66 .01-8.53 .06 2.56 .07 5.97 .07-5.67 .07 5.67 .07-7.33 .07 7.33 .07-5.87 .07 5.87 .02-9.75 .05 2.58 .07 7.17 .07-7.58 .01-2.17 .06 9.75 .07-3.38 .07 3.38 .07-3.24 .07 3.24 .07-2.2 .07 2.2 .07-2.96 .07 2.96 .07-3.07 .07 3.07 .03-3.69 .04 1.71 .07 1.98 .07-1.8 .07 1.8 .07-1.97 .07 1.97 .07-2.18 .07 2.18 .07-2.57 .07 2.57 .07-1.95 .04-8.25 .03 10.2 .07-5.47 .07 5.47 .03-10.2 .04 7.66 .07 2.54 .07-1.41 .07 1.41 .07-2.77 .07 2.77 .07-2.73 .07 2.73 .07-1.5 .07 1.5 .07-1.12 .05-2.03 .02 3.15 .07-2.62 .07 2.62 .07-1.72 .07 1.72 .07-2.66 .07 2.66 .07-3.07 .07 3.07 .07-2.77 .07 2.77 .07-4.28 .07 4.28 .03-4.72 .04 1.02 .07 3.7 .07-2.3 .07 2.3 .07-3.03 .07 3.03 .07-5.28 .07 5.28 .07-2.46 .07 2.46 .07-4.08 .07 4.08 .07-1.83 0-4.37 .07 6.2 .07-2.06 .07 2.06 .07-3.2 .07 3.2 .07-3.59 .07 3.59 .07-7.07 .01-6.01 .06 13.08 .07-5.26 .07-7.82 0 13.08 .07-3.22 .07 3.22 .07-1.88 .07 1.88 .07-1.5 .07 1.5 .07-3.71 .07 3.71 .07-3.19 .07 3.19 .07-2.64 .01-1.6 .06 4.24 .07-2.15 .07 2.15 .07-3.42 .07 3.42 .07-3.57 .07 3.57 .07-4.46 .07 4.46 .05-6.67 .02 1.08 .07 5.59 .07-2.19 .07 2.19 .07-2.44 .07 2.44 .07-5.68 .07 5.68 .07-6.04 .07 6.04 .01-7.8 .06 5.11 .07 2.69 .07-6.63 .07 6.63 .07-6.21 .07 6.21 .07-7.67 .07 7.67 .07-4.34 .05-8.96 .02 13.3 .07-5.06 .07 5.06 .07-7.84 .07 7.84 .07-13.47 .07 13.47 0-22.28 .07 6.94 .07 15.34 .07-15.66 .07 15.66 .07-8.99 .07 8.99 .02-29.37 .05 15.58 .07 13.79 .07-19.16 .07 19.16 .07-13.38 .07 13.38 .07-15.49 .07 15.49 .07-15.4 .06-17.72 .01 33.12 .07-15.76 .07 15.76 .07-21.18 .07 21.18 .05-53.64 .02 21.89 .07 31.75 .07-43.92 .04-9.72 .03 53.64 .07-14.3 .07 14.3 .07-10.37 .07 10.37 .04-25.47 .03 12.87 .07 12.6 .07-15.67 .07 15.67 .07-9 .07 9 .06-20.79 .01 10.97 .07 9.82 .07-12.07 .07 12.07 .07-15.04 .07 15.04 .07-20.3 .07 20.3 .07-21.59 .07 21.59 .02-32.18 .05 9.27 .07 22.91 .07-18.37 .07 18.37 .07-14.01 .02-20.12 .05 34.13 .07-20.21 .07 20.21 .01-34.13 .06 29.74 .07 4.39 .07-5.2 .07 5.2 .07-8.5 0 .99 .07 7.51 .07-5.76 .07 5.76 .07-2.58 .07 2.58 .07-3.78 .02-1.87 .05 5.65 .07-4.12 .07 4.12 .07-2.48 .07 2.48 .07-1.95 .07 1.95 .07-2.55 .07 2.55 .07-2.56 .07 2.56 .07-2.04 .07-1.11 0 3.15 .07-3.03 .07 3.03 .07-2.21 .07 2.21 .07-3.47 .07 3.47 .07-2.05 .07 2.05 .07-2.55 .07 2.55 .07-2.88 .07 2.88 .05-4.38 .02 2.73 .07 1.65 .07-3.74 .07 3.74 .07-2.22 .07 2.22 .07-4.28 .07 4.28 .07-2.91 .07 2.91 .01-6.7 .06 3.12 .07 3.58 .07-2.57 .07 2.57 .07-8.04 .01-11.69 .06 19.73 .07-5.92 .07-13.81 0 19.73 .07-2.89 .07 2.89 .07-5.73 .07 5.73 .07-3.6 .07 3.6 .07-3.24 .07-3.73 0 6.97 .07-1.89 .07 1.89 .07-2.43 .07 2.43 .07-4.01 .07 4.01 .02-6.59 .05 3.86 .07 2.73 .07-3.95 .07 3.95 .07-3 .07 3 .07-2.66 .07 2.66 .07-2.83 .07 2.83 .07-2.3 .07 2.3 .07-3.72 0 1.26 .07 2.46 .07-1.78 .07 1.78 .07-2.11 .07 2.11 .07-2.63 .07 2.63 .07-3.14 .01-3.29 .06 6.43 .07-3.3 .07-3.13 0 6.43 .07-1.75 .07 1.75 .07-1.8 .07 1.8 .07-1.02 .07 1.02 .07-.91 .07 .91 .07-1.37 .07 1.37 .07-1.27 .07 1.27 .07-1.87 .07 1.87 .02-2.17 .05 .56 .07 1.61 .07-.8 .07 .8 .07-2.05 .07 2.05 .07-1.52 .07 1.52 .07-1.94 .07 1.94 .07-2.11 .07 2.11 .07-2.1 .07 2.1 .07-1.43 .07 1.43 .01-2.17 .06 .82 .07 1.35 .07-1.43 .07 1.43 .07-1.21 .07 1.21 .07-2 .07 2 .07-1.8 .07 1.8 .07-1.69 .07 1.69 .07-.85 .07 .85 .07-1.93 .07-.06 0 1.99 .07-1.75 .07 1.75 .07-1.16 .07 1.16 .07-1.96 .07 1.96 .07-1.32 .07 1.32 .07-1.75 .07 1.75 .07-1.99 .07 1.99 .07-.92 .07 .92 .03-4.21 .04 1.93 .07 2.28 .07-3.12 .02-1.09 .05 4.21 .07-1.38 .07 1.38 .07-1.75 .07 1.75 .07-1.96 .07 1.96 .07-1.76 .07 1.76 .07-1.37 .07 1.37 .07-1.49 .07 1.49 .07-2.12 .05-.05 .02 2.17 .07-1.43 .07 1.43 .07-2.11 .07 2.11 .07-2.03 .07 2.03 .07-1.21 .07 1.21 .07-1.93 .07 1.93 .07-1.93 .07 1.93 .07-1.39 .07 1.39 0-6.43 .07 1.73 .07 4.7 .06-6.43 .01 4.4 .07 2.03 .07-2.04 .07 2.04 .07-1.27 .07 1.27 .07-1.88 .07 1.88 .07-2.57 .07 2.57 .07-2.36 .07 2.36 .07-2.47 .07 2.47 .07-2.33 .02-1.08 .05 3.41 .07-2.32 .07 2.32 .07-2.11 .07 2.11 .07-3.37 .07 3.37 .07-3.09 .07 3.09 .07-3.31 .07 3.31 .07-2.1 .07 2.1 .07-2.91 .05-5.73 .02 8.64 .07-3.65 .07 3.65 .04-8.64 .03 6.85 .07 1.79 .07-3.31 .07 3.31 .07-2.8 .07 2.8 .07-2.74 .07 2.74 .07-2.98 .07 2.98 .07-1.72 .07 1.72 .07-2.01 .07 2.01 .07-3.69 0 2.1 .07 1.59 .07-2.91 .07 2.91 .07-2.54 .07 2.54 .07-3.12 .07 3.12 .07-2.08 .07 2.08 .07-5.41 .07 5.41 .07-4.15 .07 4.15 .07-5.26 .07 5.26 .06-6.72 .01 1.81 .07 4.91 .07-5.16 .07 5.16 .07-4.2 .07 4.2 .07-5.76 .07 5.76 .07-6.25 .07 6.25 .02-9.01 .05 5.29 .07 3.72 .07-5.38 .07 5.38 .07-2.66 .07 2.66 .07-5.36 .07 5.36 .03-21.5 .04 12.03 .07 9.47 .07-14.08 .02-7.42 .05 21.5 .07-3.59 .07 3.59 .07-3.77 .07 3.77 .07-4.71 .07 4.71 .07-2.36 .02-3.2 .05 5.56 .07-1.87 .07 1.87 .07-3.29 .07 3.29 .07-1.89 .05-2.89 .02 4.78 .07-1.9 .07 1.9 .07-4.03 .07 4.03 .07-3.64 .07 3.64 .07-5.86 .07 5.86 .07-3.76 .01-3.99 .06 7.75 .07-5.45 .07 5.45 .07-4.06 .07 4.06 .07-6.7 .07 6.7 .07-6.12 .07 6.12 .05-13.9 .02 3.69 .07 10.21 .07-9.77 .07 9.77 .07-13.84 .07 13.84 .07-15.1 .07 15.1 .07-10.19 .07 10.19 .01-21.17 .06 13.33 .07 7.84 .07-8.06 .07 8.06 .07-17.03 .07 17.03 .07-8.18 .07 8.18 .07-16.17 .05-12.64 .02 28.81 .07-10.1 .07 10.1 .07-13.42 .07 13.42 .07-13.21 .07 13.21 .07-12.22 .07 12.22 .07-29.72 .01-1.35 .06 31.07 .07-17.16 .07 17.16 .07-22.5 .07 22.5 .07-20.59 .07 20.59 .07-21.36 .02-24.52 .05 45.88 .07-39.74 .07 39.74 .01-45.88 .06 28.89 .07 16.99 .07-11.06 .07 11.06 .07-36.08 0 19.65 .07 16.43 .07-22 .07 22 .07-18.62 .07 18.62 .07-17.36 .02-17.33 .05 34.69 .07-11.94 .07 11.94 .07-20.29 .07 20.29 .07-18.95 .07 18.95 .07-19.27 .07 19.27 .06-32.8 .01 15.82 .07 16.98 .07-16.02 .07 16.02 .07-22.63 .07 22.63 .07-16.48 .01-15.33 .06 31.81 .07-14.65 .07 14.65 .07-15.07 .07 15.07 .07-9.4 .07 9.4 .07-11.53 .07 11.53 .04-17.29 .03 9.77 .07 7.52 .07-6.76 .07 6.76 .07-6.4 .07 6.4 .07-8.87 0 5.45 .07 3.42 .07-5.87 .07 5.87 .07-6.28 .07 6.28 .07-2.84 .07 2.84 .07-4.06 .07 4.06 .07-4.37 .07 4.37 .07-3.41 .04-.28 .03 3.69 .07-2.79 .07 2.79 .07-3.2 .07 3.2 .07-3.37 .07 3.37 .07-2.28 .05-7.47 .02 9.75 .07-3.56 .07 3.56 .04-9.75 .03 3.89 .07 5.86 .07-4.08 .07 4.08 .07-4.31 .07 4.31 .07-3.85 .07 3.85 .07-2.42 .07 2.42 .07-5.2 .07 5.2 .07-2.84 .07 2.84 .07-7.31 0 3.79 .07 3.52 .07-3.33 .07 3.33 .07-2.7 .07 2.7 .07-5.2 .07 5.2 .07-5.05 .07 5.05 .07-2.12 .07 2.12 .07-3.68 .07 3.68 .07-3.14 .07 3.14 .06-4.2 .01 2.24 .07 1.96 .07-2.38 .07 2.38 .07-1.64 .07 1.64 .07-1.68 .07 1.68 .07-1.86 .07 1.86 .07-1.83 .07 1.83 .07-1.35 .07 1.35 .07-1.59 .07 1.59 .04-2.4 .03 1.07 .07 1.33 .07-2.07 .07 2.07 .07-1.97 .07 1.97 .07-1.8 .07 1.8 .07-2.16 .07 2.16 .07-1.81 .07 1.81 .07-1.95 .07 1.95 .07-1.69 .07 1.69 .03-1.99 .04 .32 .07 1.67 .07-1.26 .07 1.26 .07-1.83 .07 1.83 .07-1.19 .07 1.19 .07-1.79 .07 1.79 .07-1.75 .07 1.75 .07-1.7 .07 1.7 .07-1.33 .07 1.33 .02-2 .05 .27 .07 1.73 .07-1.64 .07 1.64 .07-1.97 .07 1.97 .07-2.13 .07 2.13 .07-1.03 .07 1.03 .07-1.88 .07 1.88 .07-1.57 .07 1.57 .07-1.92 .07 1.92 .01-2.79 .06 .44 .07 2.35 .07-1.69 .07 1.69 .07-2.25 .07 2.25 .07-3.38 .07 3.38 .07-3.42 .07 3.42 .07-3.84 .07 3.84 .07-2.74 .07 2.74 .07-2.21 .07-2.21 0 4.42 .07-2.17 .07 2.17 .07-4.01 .07 4.01 .07-3.72 .07 3.72 .07-2.34 .07 2.34 .07-2.74 .07 2.74 .07-3.65 .07 3.65 .07-3.15 .07 3.15 .07-3.22 .06-1.98 .01 5.2 .07-3.35 .07 3.35 .07-3 .07 3 .07-4.11 .07 4.11 .07-4.42 .07 4.42 .07-5.17 .02-.73 .05 5.9 .07-3.43 .07 3.43 .07-4.87 .07 4.87 .07-4.82 .04-1.24 .03 6.06 .07-4.39 .07 4.39 .07-3.57 .07 3.57 .07-4.21 .07 4.21 .07-3.55 .07 3.55 .07-2.86 .01-7.12 .06 9.98 .07-9.41 .07 9.41 .07-4.13 .07 4.13 .07-9.62 .07 9.62 .07-21.04 .01-14.87 .06 35.91 .07-25.02 .07 25.02 0-35.91 .07 30.31 .07 5.6 .07-4.01 .07 4.01 .07-12.08 0 5.84 .07 6.24 .07-7.51 .07 7.51 .07-3.32 .07 3.32 .07-5.25 .02-2.79 .05 8.04 .07-5.97 .07 5.97 .07-7.93 .07 7.93 .07-7.11 .07 7.11 .07-13.34 .07 13.34 .05-19.39 .02 8.5 .07 10.89 .07-13.54 .07 13.54 .07-15.81 .07 15.81 .07-14.52 .01-8.31 .06 22.83 .07-11.81 .07 11.81 .07-12.77 .07 12.77 .07-8.29 .07 8.29 .07-10.99 .07 10.99 .04-25.16 .03 13.83 .07 11.33 .07-8.36 .07 8.36 .07-15.36 .04-11.02 .03 26.38 .07-20.8 .07 20.8 .03-26.38 .04 19.93 .07 6.45 .07-7.34 .07 7.34 .07-4.97 .07 4.97 .07-2.93 .07 2.93 .03-8.25 .04 3.23 .07 5.02 .07-3.51 .07 3.51 .07-4.24 .07 4.24 .05-5.87 .02 3.43 .07 2.44 .07-3.46 .07 3.46 .07-4.01 .07 4.01 .07-2.03 .07 2.03 .07-3.3 .07 3.3 .07-1.81 .07 1.81 .07-3.2 .03-.49 .04 3.69 .07-3.28 .07 3.28 .07-2.29 .07 2.29 .07-2.9 .07 2.9 .07-2.28 .04-7.47 .03 9.75 .07-3.09 .07 3.09 .03-9.75 .04 7.17 .07 2.58 .07-2.44 .07 2.44 .07-2.7 .07 2.7 .07-1.45 .07 1.45 .03-3.15 .04 1.57 .07 1.58 .07-2.95 .07 2.95 .07-3.58 .07 3.58 .07-2.31 .07 2.31 .07-2.62 .07-1.76 0 4.38 .07-3.35 .07 3.35 .07-3.54 .07 3.54 .07-1.92 .07 1.92 .07-4.44 .07 4.44 .07-2.07 .03-4.65 .04 6.72 .07-2.12 .07 2.12 .07-2.75 .07 2.75 .07-5.25 .07 5.25 .07-4.33 .04-14.29 .03 18.62 .07-13.02 .07 13.02 .03-18.62 .04 13 .07 5.62 .07-2.02 .07 2.02 .07-2.72 .07 2.72 .07-4.15 .07 4.15 .03-6.41 .04 1.51 .07 4.9 .07-2.48 .07 2.48 .07-8.64 .07 8.64 .07-9.3 .07 9.3 .07-5.4 .07-7.9 0 13.3 .07-7.45 .07 7.45 .07-9.65 .07 9.65 .07-6.47 .07 6.47 .07-9.3 .07 9.3 .07-10.66 .03-4.87 .04 15.53 .07-11.01 .07 11.01 .07-8.76 .07 8.76 .02-31.47 .05 5.43 .07 26.04 .07-18 .01-13.47 .06 31.47 .07-6.05 .07 6.05 .07-5.9 .07 5.9 .07-4.17 .07 4.17 .07-4.33 .02-5.52 .05 9.85 .07-6.93 .07 6.93 .07-3.82 .07 3.82 .07-3.61 .04-3.74 .03 7.35 .07-3.29 .07 3.29 .07-2.49 .07 2.49 .07-3.86 .07 3.86 .07-5.15 .07 5.15 .07-2.9 .07 2.9 .07-1.73 .07 1.73 .02-5.28 .05 2.44 .07 2.84 .07-5.12 .07 5.12 .07-3.99 .07 3.99 .07-2.44 .07 2.44 .07-3.43 .07 3.43 .07-2.32 .07 2.32 .07-5.28 0 1.02 .07 4.26 .07-2.88 .07 2.88 .07-1.85 .07 1.85 .07-3.16 .07 3.16 .07-2.6 .07 2.6 .07-1.14 .07 1.14 .07-1.91 .04-.26 .03 2.17 .07-1.47 .07 1.47 .07-1.44 .07 1.44 .07-1.41 .07 1.41 .07-1.17 .07 1.17 .07-.9 .01 .01 .06 .89 .07-.73 .07 .73 .07-1.31 .07 1.31 .07-1.27 .07 1.27 .07-1.6 .07 1.6 .07-1.62 .07 1.62 .07-2.75 .05-.26 .02 3.01 .07-2.86 .07 2.86 .07-2 .07 2 .07-2.58 .07 2.58 .07-1.15 .07 1.15 .07-2.31 .07 2.31 .07-10.86 0 6.56 .07 4.3 .07-3.52 .06-7.34 .01 10.86 .07-1.26 .07 1.26 .07-.82 .07 .82 .07-1.26 .07 1.26 .07-1.26 .06 0 .01 1.26 .07-1.2 .07 1.2 .07-.93 .07 .93 .07-.96 .07 .96 .02-.89 .05-.03 .07 .92 .07-.98 .07 .98 .07-1.04 .07 1.04 .07-1.16 .07 1.16 .07-1.27 .07 1.27 .07-1.21 .07 1.21 .06-1.45 .01 .56 .07 .89 .07-1.45 .07 1.45 .07-1.06 .07 1.06 .07-1.45 .07 1.45 .07-9.75 0 6.39 .07 3.36 .07-9.1 .06-.65 .01 9.75 .07-2.86 .07 2.86 .07-2.87 .07 2.87 .07-3.38 .07 3.38 .07-3.54 .07 3.54 .07-3.32 .07 3.32 .07-3.6 .07 3.6 .07-3.43 .07 3.43 .02-3.69 .05 1.9 .07 1.79 .07-2.68 .07 2.68 .07-2.44 .07 2.44 .07-1.93 .07 1.93 .07-2.7 .07 2.7 .07-2.06 .07 2.06 .07-3.36 .07 3.36 .05-9.75 .02 5.71 .07 4.04 .07-7.58 .04-2.17 .03 9.75 .07-3.08 .07 3.08 .07-2.74 .07 2.74 .07-2.58 .07 2.58 .07-3.91 .07 3.91 .07-2.29 .07 2.29 .05-3.97 .02 .66 .07 3.31 .07-3.03 .07 3.03 .07-3 .07 3 .07-2.98 .07 2.98 .07-2.88 .07 2.88 .07-3.16 .07 3.16 .07-2.67 .03-1.05 .04 3.72 .07-2.74 .07 2.74 .07-3.63 .07 3.63 .07-1.85 .07 1.85 .07-3.33 .07 3.33 .07-4.64 .07 4.64 .07-2.07 .07 2.07 .01-7.43 .06 1.7 .07 5.73 .07-7.1 .07 7.1 .07-5.51 .07 5.51 .07-6.58 .07 6.58 .01-8.64 .06 2.09 .07 6.55 .07-8.64 0 .86 .07 7.78 .07-2.65 .07 2.65 .07-2.55 .07 2.55 .07-2.9 .07 2.9 .07-2.52 .07 2.52 .07-3.79 .07 3.79 .07-1.82 .07 1.82 .07-2.43 .03-1.65 .04 4.08 .07-2.59 .07 2.59 .07-1.27 .07 1.27 .07-2.59 .07 2.59 .07-2.9 .07 2.9 .07-3.73 .07 3.73 .07-2.03 .07 2.03 .07-1.99 .07 1.99 .07-3.19 .02-.53 .05 3.72 .07-3.06 .07 3.06 .07-2.11 .07 2.11 .07-2.56 .07 2.56 .07-2.44 .07 2.44 .05-5.87 .02 1.28 .07 4.59 .07-5.44 .07 5.44 .07-5.76 .07 5.76 .07-6.4 .07 6.4 .07-4.91 .07 4.91 .02-15.07 .05 8.64 .07 6.43 .07-10.97 .07 10.97 .07-9.13 .07 9.13 .04-18.5 .03 10.28 .07 8.22 .07-12.47 .07 12.47 .07-7.72 .03-31.29 .04 39.01 .07-19.11 .07 19.11 .02-39.01 .05 10.26 .07 28.75 .07-20.61 .07 20.61 .07-32.86 .07 32.86 .07-31.24 .07 31.24 .03-37.46 .04 19.36 .07 18.1 .07-18.68 .07 18.68 .07-29.48 .07 29.48 .05-37.46 .02 5.27 .07 32.19 .07-18.8 .07 18.8 .07-34.13 .07 34.13 .07-16.72 .07 16.72 .07-31.81 .07 31.81 .02-36.35 .05 21.33 .07 15.02 .07-22.3 .07 22.3 .07-24.52 .07 24.52 .04-36.35 .03 21.2 .07 15.15 .07-26.83 .07 26.83 .07-14.24 .07 14.24 .07-18.3 .07 18.3 .07-9.69 .07 9.69 0-35.24 .07 23.35 .07 11.89 .07-15.09 .07 15.09 .07-17.52 .07 17.52 .03-35.24 .04 22.83 .07 12.41 .07-22.42 .07 22.42 .07-24 .07 24 .07-19.61 .07 19.61 .07-36.18 .06-6.26 .01 42.44 .07-27.06 .07 27.06 .07-32.69 .07 32.69 .07-37.78 .07 37.78 .02-47.54 .05 8.57 .07 38.97 .07-36.15 .07 36.15 .07-31.23 .07 31.23 .04-50.13 .03 9.54 .07 40.59 .07-39.5 .07 39.5 .07-31.45 .03-33.27 .04 64.72 .07-33.39 .07 33.39 .02-64.72 .05 48.2 .07 16.52 .07-17.54 .07 17.54 .07-15.46 .02-10.95 .05 26.41 .07-20.46 .07 20.46 .07-12.47 .07 12.47 .07-13.21 .04-7.58 .03 20.79 .07-14.38 .07 14.38 .07-16.96 .07 16.96 .07-12.39 .07 12.39 .07-9.93 .07 9.93 .07-10.21 0-15.42 .07 25.63 .07-14.99 .07 14.99 .07-18.83 .07-28.16 0 46.99 .07-29.11 .07 29.11 .06-46.99 .01 34.26 .07 12.73 .07-17.08 .07 17.08 .07-16.53 .05-8.14 .02 24.67 .07-17.65 .07 17.65 .07-11.5 .07 11.5 .07-17.05 .07 17.05 0-21.94 .07 14.43 .07 7.51 .07-10.84 .07 10.84 .07-9.02 .07 9.02 .07-8.5 .07 8.5 .07-7.92 .04 .16 .03 7.76 .07-5.82 .07 5.82 .07-3.74 .07 3.74 .07-3.46 .06-1.43 .01 4.89 .07-4.47 .07 4.47 .07-2.35 .07 2.35 .07-3.4 .07 3.4 .07-4.03 .07 4.03 .07-3.06 .07 3.06 .07-3.67 .07 3.67 .04-3.72 .03 1.94 .07 1.78 .07-1.62 .07 1.62 .07-2.38 .07 2.38 .07-1.7 .07 1.7 .07-2.54 .07 2.54 .07-2.95 .07 2.95 .07-2.06 .02-2.21 .05 4.27 .07-2.81 .07 2.81 .07-2.98 .07 2.98 .07-2.45 .07 2.45 .07-3.85 .07 3.85 .07-2.58 .07 2.58 .07-4.24 .07 4.24 .07-4.58 .07 4.58 .07-2.48 0-3.17 .07 5.65 .07-4.14 .07 4.14 .07-2.29 .07 2.29 .07-4.51 .07 4.51 .07-2.45 .07 2.45 .07-2.84 .07 2.84 .07-2.6 .05-16.02 .02 18.62 .07-8.39 .07 8.39 .04-18.62 .03 16.59 .07 2.03 .07-3.67 .07 3.67 .07-1.68 .07 1.68 .07-1.63 .07 1.63 .04-5.25 .03 3.4 .07 1.85 .07-3.9 .07 3.9 .07-3.41 .07 3.41 .07-5.12 0 1.52 .07 3.6 .07-1.98 .07 1.98 .07-3.31 .07 3.31 .07-2.73 .07 2.73 .07-2 .07 2 .07-2.8 .07 2.8 .07-3.38 .07 3.38 .07-3.14 .07 3.14 .05-3.57 .02 .72 .07 2.85 .07-2.81 .07 2.81 .07-1.92 .07 1.92 .07-2.01 .07 2.01 .07-2.91 .07 2.91 .07-2.84 .07 2.84 .07-1.75 .07 1.75 .07-2.45 .07 2.45 .04-2.87 .03 .84 .07 2.03 .07-2.65 .07 2.65 .07-2.11 .07 2.11 .07-1.53 .07 1.53 .07-2.22 .07 2.22 .07-1.91 .07 1.91 .07-2 .07 2 .07-1.93 .07 1.93 .03-2 .04 .04 .07 1.96 .07-1.71 .07 1.71 .07-1.08 .07 1.08 .07-1.55 .07 1.55 .07-2.05 .07 2.05 .07-1.5 .07 1.5 .07-1.34 .07 1.34 .07-1.61 .07 1.61 .02-2.17 .05 .25 .07 1.92 .07-1.39 .07 1.39 .07-2.6 .07 2.6 .07-2.54 .07 2.54 .07-1.4 .07 1.4 .07-3.97 .07 3.97 .07-4.61 0 .44 .07 4.17 .07-2.62 .07 2.62 .07-2.94 .07 2.94 .07-2.41 .07 2.41 .07-2.47 .07 2.47 .07-4.41 .07 4.41 .01-11.97 .06 1.57 .07 10.4 .07-11.17 0-.8 .07 11.97 .07-2.3 .07 2.3 .07-3.5 .07 3.5 .07-2.16 .07 2.16 .07-2.9 .01-1.04 .06 3.94 .07-2.35 .07 2.35 .07-3.17 .07 3.17 .07-1.74 .07 1.74 .07-3.7 .07 3.7 .04-3.72 .03 1.94 .07 1.78 .07-3.48 .07 3.48 .07-2.46 .07 2.46 .07-3.05 .07 3.05 .07-4.27 .07 4.27 .01-4.66 .06 .93 .07 3.73 .07-2.13 .07 2.13 .07-2.41 .07 2.41 .07-2.64 .07 2.64 .01-17.51 .06 9.24 .07 8.27 .07-15.6 0-1.91 .07 17.51 .07-3.55 .07 3.55 .07-1.7 .07 1.7 .07-2.31 .07 2.31 .07-2.18 .01-2.05 .06 4.23 .07-2.19 .07 2.19 .07-2.9 .07 2.9 .07-1.82 .07 1.82 .07-3.61 .07 3.61 .04-3.72 .03 1.32 .07 2.4 .07-2.31 .07 2.31 .07-2.68 .07 2.68 .07-2.99 .07 2.99 .07-3.08 .07 3.08 .07-3.14 .07 3.14 .07-1.71 .02-4.16 .05 5.87 .07-4.7 .07 4.7 .07-3.32 .07 3.32 .07-2.38 .07 2.38 .07-4.36 .07 4.36 .05-8.36 .02 5.47 .07 2.89 .07-4.58 .07 4.58 .07-4.84 .05-17.1 .02 21.94 .07-13.27 .07 13.27 .04-21.94 .03 16.05 .07 5.89 .07-8.95 .07 8.95 .07-4.25 .03-6.76 .04 11.01 .07-8.02 .07 8.02 .07-3.3 .07 3.3 .07-5.99 .05-2.59 .02 8.58 .07-6.69 .07 6.69 .07-6.55 .07 6.55 .07-9.4 .07 9.4 .01-15.22 .06 3.23 .07 11.99 .07-6.79 .07 6.79 .07-48.54 0 28.05 .07 20.49 .07-25.5 .06-23.04 .01 48.54 .07-14.57 .07 14.57 .07-22.57 .07 22.57 .05-36.93 .02 19.09 .07 17.84 .07-20.38 .07 20.38 .07-20.57 .07 20.57 .07-18.73 .01-17.18 .06 35.91 .07-16.49 .07 16.49 .07-23.61 .07 23.61 .07-21.53 .07 21.53 .07-24.08 .07 24.08 .04-33.91 .03 5.41 .07 28.5 .07-27.9 .07 27.9 .07-25.08 .07 25.08 .06-32.91 .01 21.12 .07 11.79 .07-26.69 .07 26.69 .07-12.32 .07 12.32 .07-11.31 .07 11.31 .07-12.71 .07 12.71 .03-19.62 .04 4.62 .07 15 .07-13.74 .07 13.74 .07-11.69 .07 11.69 .05-13.52 .02 2.56 .07 10.96 .07-8.85 .07 8.85 .07-6.69 .07 6.69 .07-8.3 .07 8.3 .07-6.18 .07 6.18 .02-8.38 .05 4.96 .07 3.42 .07-4.68 .07 4.68 .07-2.97 .07 2.97 .07-3.67 .07 3.67 .07-6.19 .05-2.19 .02 8.38 .07-7.04 .07 7.04 .07-8.18 .07 8.18 .07-5.15 .07 5.15 .07-7.13 .07 7.13 .07-6.82 .07 6.82 .07-6.52 .07 6.52 .03-10.02 .04 2.85 .07 7.17 .07-4.44 .07 4.44 .07-4.18 .07 4.18 .07-6.76 .07 6.76 .03-18.62 .04 11.7 .07 6.92 .07-9.25 .02-9.37 .05 18.62 .07-3.45 .07 3.45 .07-5.19 .07 5.19 .07-3.96 .07 3.96 .07-3.36 .03-4.37 .04 7.73 .07-4.36 .07 4.36 .07-5.19 .07 5.19 .07-6.61 .07 6.61 .07-4.12 .07 4.12 .06-7.4 .01 .97 .07 6.43 .07-2.62 .07 2.62 .07-3.41 .07 3.41 .07-2.28 .07 2.28 .07-2.84 .07 2.84 .07-3.52 .07 3.52 .07-2.68 .04-1.56 .03 4.24 .07-2.4 .07 2.4 .07-3.01 .07 3.01 .07-1.78 .07 1.78 .07-1.76 .07 1.76 .07-1.63 .07 1.63 .07-2.36 .07 2.36 .07-2.97 .07-6.78 0 9.75 .07-3.45 .07 3.45 .06-9.75 .01 5.18 .07 4.57 .07-1.86 .07 1.86 .07-2.83 .07 2.83 .07-3.43 .07 3.43 .07-2.47 .07 2.47 .07-1.97 .07 1.97 .07-2.86 .07 2.86 .07-2.01 .02-1.68 .05 3.69 .07-1.72 .07 1.72 .07-3.65 .07 3.65 .07-2.12 .07 2.12 .07-2.57 .07 2.57 .07-2.39 .07 2.39 .07-3.08 .07 3.08 .07-2.1 .05-6.54 .02 8.64 .07-4.98 .07 4.98 .04-8.64 .03 6.49 .07 2.15 .07-1.68 .07 1.68 .07-2.35 .07 2.35 .07-2.98 .07 2.98 .07-1.56 .07 1.56 .07-2.21 .07 2.21 .07-1.41 .07 1.41 .06-3.15 .01 1.32 .07 1.83 .07-1.32 .07 1.32 .07-2.58 .07 2.58 .07-2.41 .07 2.41 .07-3.82 .07 3.82 .07-3.11 .07 3.11 .07-3.46 .07 3.46 .07-2.57 .07 2.57 .05-4.96 .02 1.47 .07 3.49 .07-3.47 .07 3.47 .07-3.3 .07 3.3 .07-4.73 .07 4.73 .07-3.7 .07 3.7 .07-3.24 .07 3.24 .07-4.71 .07 4.71 .07-3.87 .07 3.87 .04-7.53 .03 3.89 .07 3.64 .07-5.19 .07 5.19 .07-5.18 .07 5.18 .07-2.92 .07 2.92 .07-3.62 .07 3.62 .07-3.19 .07 3.19 .07-4.53 .07 4.53 .07-16.84 0 8.97 .07 7.87 .07-11.31 .06-5.53 .01 16.84 .07-3.02 .07 3.02 .07-3.68 .07 3.68 .07-3.85 .07 3.85 .07-1.48 .06-3.37 .01 4.85 .07-2.02 .07 2.02 .07-3.22 .07 3.22 .07-3.39 .07 3.39 .02-4.24 .05 2.38 .07 1.86 .07-3.98 .07 3.98 .07-4.03 .07 4.03 .07-3.7 .07 3.7 .07-4.28 .05-2.56 .02 6.84 .07-6.28 .07 6.28 .07-3.62 .07 3.62 .07-3.66 .07 3.66 .07-3.84 .06-17.66 .01 21.5 .07-15.63 .07 15.63 .05-21.5 .02 17.53 .07 3.97 .07-4.42 .07 4.42 .07-6.02 .07 6.02 .07-6.56 .07 6.56 .05-6.95 .02 2.5 .07 4.45 .07-4.93 .07 4.93 .07-4.66 .07 4.66 .07-4.51 .07 4.51 .07-4.58 .07 4.58 .02-4.78 .05 2.07 .07 2.71 .07-5.66 .07 5.66 .07-5.47 .07 5.47 .07-5.81 .07 5.81 .07-10.04 .07 10.04 .07-8.28 .07 8.28 .06-17.51 .01 5.18 .07 12.33 .07-10.8 .07 10.8 .07-12.34 .07 12.34 .07-10.63 .07 10.63 .07-11.26 .07 11.26 .07-8.77 .07 8.77 .01-29.7 .06 15.38 .07 14.32 .07-29.7 0 12.92 .07 16.78 .07-5.48 .07 5.48 .07-13.21 .07 13.21 .07-10.37 .07 10.37 .07-6.1 0-9.22 .07 15.32 .07-6.82 .07 6.82 .07-8.04 .07 8.04 .07-12.63 .07 12.63 .07-9.18 .07 9.18 .04-14.19 .03 3.65 .07 10.54 .07-9.73 .07 9.73 .07-6.68 .07 6.68 .07-6.4 .07 6.4 .07-9.04 .07 9.04 0-14.56 .07 8.98 .07 5.58 .07-5.84 .07 5.84 .07-6.28 .07 6.28 .07-10.31 .07 10.31 .07-10.88 .04-3.75 .03 14.63 .07-8.68 .07 8.68 .07-9.24 .07 9.24 .07-8.52 .06-8.08 .01 16.6 .07-10.17 .07 10.17 .07-13.48 .07 13.48 .06-28.59 .01 4.08 .07 24.51 .07-15.72 .05-12.87 .02 28.59 .07-2.26 .07 2.26 .07-3.7 .07 3.7 .07-5.93 .07 5.93 .07-5.81 .05-1.87 .02 7.68 .07-3.53 .07 3.53 .07-4.45 .07 4.45 .07-2.45 .07 2.45 0-4.78 .07 2.26 .07 2.52 .07-3.86 .07 3.86 .07-3.82 .07 3.82 .07-8 .07 8 .07-4.36 .04-7.34 .03 11.7 .07-5.16 .07 5.16 .07-4.91 .07 4.91 .03-50.76 .04 25.61 .07 25.15 .07-19.33 .02-31.43 .05 50.76 .07-15 .07 15 .07-8.93 .07 8.93 .02-20.47 .05 7.84 .07 12.63 .07-10.67 .07 10.67 .07-9.74 .07 9.74 .04-17.29 .03 11.09 .07 6.2 .07-7.01 .07 7.01 .07-5.06 .07 5.06 .07-6.29 .07 6.29 .07-4.93 .07 4.93 0-8.21 .07 3.12 .07 5.09 .07-4.8 .07 4.8 .07-5.49 .07 5.49 .03-6.59 .04 2.58 .07 4.01 .07-4.9 .07 4.9 .07-4.04 .07 4.04 .07-3.18 .07 3.18 .07-2.71 .06-1.56 .01 4.27 .07-2.61 .07 2.61 .07-3.42 .07 3.42 .07-1.62 .07 1.62 .07-3.26 .07 3.26 .07-2.91 .07 2.91 .07-3.2 .07 3.2 .04-3.65 .03 .25 .07 3.4 .07-3.35 .07 3.35 .07-2.76 .07 2.76 .07-2.19 .07 2.19 .07-1.98 .07 1.98 .07-2.21 .07 2.21 .07-2.69 .07 2.69 .07-1.83 .07 1.83 .07-2.41 .07 2.41 .07-1.98 .04-.5 .03 2.48 .07-1.46 .07 1.46 .07-1.36 .07 1.36 .07-1.72 .07 1.72 .07-2.02 .07 2.02 .07-1.56 .07 1.56 .07-1.65 .07 1.65 .07-1.68 .07 1.68 .07-2.37 .07 2.37 .07-1.02 .07 1.02 .07-.94 .07 .94 .07-1.68 .05-.8 .02 2.48 .07-2.01 .07 2.01 .07-2.38 .07 2.38 .07-2.09 .07 2.09 .07-1.61 .07 1.61 .07-1.91 .07 1.91 .07-1.48 .07 1.48 .07-1.98 .07 1.98 .07-1.9 .07 1.9 .07-1.45 .07 1.45 .07-2 .07 2 .07-1.69 .06-.31 .01 2 .07-1.77 .07 1.77 .07-1.56 .07 1.56 .07-1.8 .07 1.8 .07-1.92 .07 1.92 .07-1.71 .07 1.71 .07-1.66 .07 1.66 .07-1.95 .07 1.95 .07-1.77 .07 1.77 .07-1.27 .07 1.27 .07-1.02 .07 1.02 .07-1.36 .07 1.36 .07-1.61 .07 1.61 .07-2.1 .01-.34 .06 2.44 .07-2.01 .07 2.01 .07-1.95 .07 1.95 .07-2.56 .07 2.56 .07-1.84 .07 1.84 .07-1.52 .07 1.52 .07-2.16 .07 2.16 .07-2.52 .07 2.52 .07-1.02 0-1.77 .07 2.79 .07-1.78 .07 1.78 .07-2.13 .07 2.13 .07-1.48 .07 1.48 .07-2.22 .07 2.22 .07-3.38 .07 3.38 .07-2.33 .07 2.33 .07-2.96 .07 2.96 .06-4.34 .01 .48 .07 3.86 .07-3.99 .07 3.99 .07-3.15 .07 3.15 .07-4.3 .07 4.3 .07-2.76 .07 2.76 .07-3.16 .07 3.16 .07-2.32 .07 2.32 .07-4.17 .07 4.17 .05-5.57 .02 2.47 .07 3.1 .07-2.78 .07 2.78 .07-3.61 .07 3.61 .07-3.78 .07 3.78 .07-3.37 .07 3.37 .07-2.62 .07 2.62 .07-6.95 .07 6.95 .07-5.93 .07 5.93 .04-10.79 .03 4.17 .07 6.62 .07-9.16 .07 9.16 .07-8.74 .07 8.74 .07-5.17 .07 5.17 .07-10.56 .07 10.56 .07-11.05 .07 11.05 .07-7.76 .01-3.68 .06 11.44 .07-8.4 .07 8.4 .07-8.39 .07 8.39 .07-4.2 .07 4.2 .07-5.9 .07 5.9 .07-6.51 .07 6.51 .03-12.41 .04 5.36 .07 7.05 .07-6.5 .02-5.91 .05 12.41 .07-4.91 .07 4.91 .07-3.12 .07 3.12 .07-2.26 .07 2.26 .07-4.03 .07 4.03 .07-2.9 .07 2.9 .04-5.41 .03 3.47 .07 1.94 .07-1.56 .07 1.56 .07-3.73 .07 3.73 .07-2.9 .07 2.9 .07-4.26 .07 4.26 0-5.2 .07 .97 .07 4.23 .07-3.77 .07 3.77 .07-2.62 .07 2.62 .07-3 .07 3 .07-1.69 .07 1.69 .07-2.44 .07 2.44 .07-2.82 .07 2.82 .07-1.61 .06-1.54 .01 3.15 .07-1.9 .07 1.9 .07-3.02 .07 3.02 .07-3.6 .07 3.6 .07-2.1 .07 2.1 .07-3.72 .07 3.72 .07-1.98 .07 1.98 .07-2.12 .07 2.12 .07-2.47 .05-2.49 .02 4.96 .07-3.15 .07 3.15 .07-1.99 .07 1.99 .07-3.88 .07 3.88 .07-4.26 .07 4.26 .07-3.18 .01-4.51 .06 7.69 .07-5.2 .07 5.2 .07-5.6 .07 5.6 .07-8.79 .04-6.5 .03 15.29 .07-11.26 .07 11.26 .07-8.54 .07 8.54 .07-5.36 .07 5.36 .07-8.22 .07 8.22 .07-15.29 0 6.17 .07 9.12 .07-5.78 .07 5.78 .07-12.34 .07 12.34 .07-12.11 .07 12.11 .07-9.6 .07 9.6 .04-15.51 .03 8.81 .07 6.7 .07-9.3 .07 9.3 .07-14 .07 14 .06-24.49 .01 11.86 .07 12.63 .07-16.9 .07 16.9 .07-10.05 .07 10.05 .07-12.69 .01-19.56 .06 32.25 .07-25.58 .07 25.58 .07-27.87 .07 27.87 .07-27.58 .07 27.58 .07-27.31 .07 27.31 .05-40.23 .02 10.9 .07 29.33 .07-26.81 .07 26.81 .07-39.99 .07 39.99 .07-45.99 0 15.99 .07 30 .07-32.47 .07 32.47 .07-31.21 .07 31.21 .07-29.36 .07 29.36 .07-20 .07 20 .04-49.43 .03 21.54 .07 27.89 .07-35.24 .07 35.24 .07-39.82 .07 39.82 .06-51.31 .01 19.78 .07 31.53 .07-24.56 .07 24.56 .07-19.67 .07 19.67 .07-22.46 .07 22.46 .07-34.25 .07 34.25 .02-52.75 .05 25.07 .07 27.68 .07-30.14 .07 30.14 .07-18.81 .02-41.92 .05 60.73 .07-42.94 .07 42.94 .01-60.73 .06 39.42 .07 21.31 .07-15.01 .07 15.01 .07-28.84 0 16.01 .07 12.83 .07-15.19 .07 15.19 .07-11.46 .07 11.46 .07-17.52 .02-6.37 .05 23.89 .07-22.88 .07 22.88 .07-18.38 .07 18.38 .07-15.1 .05-14.47 .02 29.57 .07-16.91 .07 16.91 .07-19.18 .07 19.18 .04-55.85 .03 15.34 .07 40.51 .07-19.84 .03-36.01 .04 55.85 .07-23.59 .07 23.59 .07-17.54 .07 17.54 .02-31.26 .05 17.22 .07 14.04 .07-16.27 .07 16.27 .07-18.69 .07 18.69 .05-28.59 .02 12.19 .07 16.4 .07-10.9 .07 10.9 .07-7.33 .07 7.33 .07-12.74 .07 12.74 .07-6.24 .07 6.24 .01-16.29 .06 8.66 .07 7.63 .07-6.12 .07 6.12 .07-4.42 .07 4.42 .04-5.76 .03 3.57 .07 2.19 .07-4.02 .07 4.02 .07-3.35 .07 3.35 .07-2.67 .07 2.67 .07-3.8 .07 3.8 .07-2.96 .07 2.96 .07-2.61 .01-2.67 .06 5.28 .07-3.45 .07 3.45 .07-3.9 .07 3.9 .07-2.31 .07 2.31 .07-4.04 .07 4.04 .07-1.56 .07 1.56 .07-1.69 .06-3.59 .01 5.28 .07-2.02 .07 2.02 .07-3.19 .07 3.19 .07-2.74 .07 2.74 .07-3.77 .07 3.77 .07-3.98 .02-2.61 .05 6.59 .07-5.2 .07 5.2 .07-4.53 .07 4.53 .07-3.96 .07 3.96 .07-3.5 .03-10.69 .04 14.19 .07-7.83 .07 7.83 .02-14.19 .05 10.31 .07 3.88 .07-1.87 .07 1.87 .07-2.62 .07 2.62 .07-3.16 .07 3.16 .02-3.93 .05 2.55 .07 1.38 .07-3.73 .07 3.73 .07-2.91 .07 2.91 .07-1.73 .07 1.73 .07-1.99 .06-1.5 .01 3.49 .07-3.07 .07 3.07 .07-2.87 .07 2.87 .07-2.06 .07 2.06 .07-2.01 .07 2.01 .07-2.49 .07 2.49 .07-2.07 .07 2.07 .03-2.48 .04 .44 .07 2.04 .07-1.94 .07 1.94 .07-1.25 .07 1.25 .07-1.06 .07 1.06 .07-2.17 .07 2.17 .07-1.02 .07 1.02 .07-1.97 .01-.59 .06 2.56 .07-2.19 .07 2.19 .07-1.86 .07 1.86 .07-3.04 .07 3.04 .07-2.35 .07 2.35 .05-3.44 .02 1.5 .07 1.94 .07-2.2 .07 2.2 .07-3.25 .07 3.25 .07-2.91 .07 2.91 .05-14.19 .02 2.46 .07 11.73 .07-11.05 .04-3.14 .03 14.19 .07-5.85 .07 5.85 .07-5.2 .07 5.2 .07-3.52 .07 3.52 .07-2.49 .05-3.73 .02 6.22 .07-5.33 .07 5.33 .07-1.8 .07 1.8 .07-2.16 .07 2.16 .07-2.01 .07 2.01 .07-2.68 .01-2.1 .06 4.78 .07-6.37 .07 6.37 .07-3.85 .07 3.85 .07-13.86 .03-2.1 .04 15.96 .07-13.51 .07 13.51 .07-13.46 .07 13.46 .07-9.55 .06-11.28 .01 20.83 .07-8.99 .07 8.99 .07-14.08 .07 14.08 .07-6.99 .07 6.99 .07-14.08 .07 14.08 .07-8.31 .02-12.52 .05 20.83 .07-14.97 .07 14.97 .07-16.11 .07 16.11 .07-16.33 .07 16.33 .07-10.5 .07 10.5 .06-21.28 .01 4.99 .07 16.29 .07-17.26 .07 17.26 .07-17.14 .07 17.14 .07-19.38 .01-8.66 .06 28.04 .07-20.51 .07 20.51 .07-17.76 .07 17.76 .07-28.87 .03-3.93 .04 32.8 .07-27.21 .07 27.21 .07-25.45 .07 25.45 .07-25.03 .06-11.22 .01 36.25 .07-25.28 .07 25.28 .07-32.21 .07 32.21 .05-55.85 .02 10.4 .07 45.45 .07-47.08 .04-8.77 .03 55.85 .07-22.46 .07 22.46 .07-29.34 .07 29.34 .03-32.75 .04 8.57 .07 24.18 .07-27.28 .07 27.28 .07-28.84 .07 28.84 .06-28.55 .01 18.09 .07 10.46 .07-20.34 .07 20.34 .07-24.71 .07 24.71 .07-20.55 .01-13.16 .06 33.71 .07-23.61 .07 23.61 .07-19.02 .07 19.02 0-54.08 .07 26.84 .07 27.24 .06-54.08 .01 23.42 .07 30.66 .07-17.43 .07 17.43 .07-17.48 .06-7.45 .01 24.93 .07-13.53 .07 13.53 .07-12.28 .07 12.28 .07-18.65 .07 18.65 .01-21.72 .06 5.61 .07 16.11 .07-12.77 .07 12.77 .07-10.93 .07 10.93 .07-9.95 .07 9.95 .07-14.73 .05-6.37 .02 21.1 .07-14.2 .07 14.2 .07-10.09 .07 10.09 .07-16.08 .07-4.75 0 20.83 .07-12.37 .07 12.37 .07-18.79 .07 18.79 .07-10.15 .07 10.15 .07-16.65 .07 16.65 .07-18.13 .03-3.75 .04 21.88 .07-10.65 .07 10.65 .07-13.72 .07 13.72 .03-22.61 .04 9.6 .07 13.01 .07-14.96 .02-7.65 .05 22.61 .07-8.7 .07 8.7 .07-6.9 .07 6.9 .07-4.33 .07 4.33 .07-5.23 .02-4.23 .05 9.46 .07-7.44 .07 7.44 .07-4.9 .07 4.9 .07-2.89 .05-4.06 .02 6.95 .07-3.29 .07 3.29 .07-7.59 .07 7.59 .07-4.38 .07-8.97 0 13.35 .07-5.09 .07 5.09 .07-9.64 .07 9.64 .06-50.09 .01 22.76 .07 27.33 .07-45.81 .05-4.28 .02 50.09 .07-25.7 .07 25.7 .07-30.57 .07 30.57 .04-33.17 .03 2.92 .07 30.25 .07-19.64 .07 19.64 .07-24.48 .07 24.48 .07-29.32 0 7.05 .07 22.27 .07-24.75 .07 24.75 .07-27.09 .07 27.09 .07-16.57 .02-25.94 .05 42.51 .07-39.63 .07 39.63 .07-40.33 .07 40.33 .07-36.16 .04-6.84 .03 43 .07-33.55 .07 33.55 .07-31.95 .07 31.95 .07-21.05 .07-7.32 0 28.37 .07-12.7 .07 12.7 .07-11.8 .07 11.8 .07-8.37 .07 8.37 .02-9.12 .05 1.47 .07 7.65 .07-6.49 .07 6.49 .07-9.32 .07 9.32 .04-12.52 .03 5.75 .07 6.77 .07-11.34 .07 11.34 .07-8.12 .04-18.26 .03 26.38 .07-17.84 .07 17.84 .03-26.38 .04 20.49 .07 5.89 .07-12.24 .07 12.24 .07-3.99 .07 3.99 .07-6.52 .07 6.52 .03-14.86 .04 6.6 .07 8.26 .07-4.63 .07 4.63 .07-7.73 .07 7.73 .06-13.7 .01 5.73 .07 7.97 .07-4.38 .07 4.38 .07-4.79 .07 4.79 .07-5.56 .07 5.56 .07-5.19 .07 5.19 .02-8.69 .05 4.16 .07 4.53 .07-4.57 .07 4.57 .07-5.91 .07 5.91 .07-7.98 .07 7.98 .07-3.82 .06-8.04 .01 11.86 .07-7.89 .07 7.89 .07-7.41 .07 7.41 .07-8.11 .07 8.11 .07-9.5 .07 9.5 .07-11.15 .07 11.15 .07-8.38 .07 8.38 .03-13.01 .04 3.43 .07 9.58 .07-11.94 .07 11.94 .07-11.91 .07 11.91 .07-12.29 .07 12.29 .04-13.74 .03 1.99 .07 11.75 .07-9.51 .03-4.23 .04 13.74 .07-4.01 .07 4.01 .07-3.47 .07 3.47 .07-3.41 .07 3.41 .07-5.44 .07 5.44 .07-4.3 .07 4.3 .04-6.48 .03 3.74 .07 2.74 .07-2.84 .07 2.84 .07-4.46 .07 4.46 .07-3.2 .07 3.2 .07-3.22 .07 3.22 .01-5.94 .06 2.63 .07 3.31 .07-1.88 .07 1.88 .07-2.53 .07 2.53 .07-2.72 .07 2.72 .07-1.77 .07 1.77 .07-3.56 .07 3.56 .06-5.28 .01 1.91 .07 3.37 .07-4.25 .07 4.25 .07-4.37 .07 4.37 .07-4.1 .07 4.1 .07-2.03 .07 2.03 .07-3.66 .07 3.66 .07-3.08 .03-2.2 .04 5.28 .07-2.09 .07 2.09 .07-2.26 .07 2.26 .07-3.18 .07 3.18 .07-1.63 .07 1.63 .07-3.49 .07 3.49 .07-3.37 .07 3.37 .01-3.57 .06 1.01 .07 2.56 .07-1.94 .07 1.94 .07-3.14 .07 3.14 .07-3.2 .07 3.2 .07-2.11 .07 2.11 .07-3.03 .07 3.03 .06-2.95 .01 1.54 .07 1.41 .07-1.83 .07 1.83 .07-3.17 .07 3.17 .07-3.58 .07 3.58 .07-3.71 .07 3.71 .07-3.04 .07 3.04 .07-2.38 .03-1.96 .04 4.34 .07-2.67 .07 2.67 .07-2.18 .07 2.18 .07-3.11 .07 3.11 .07-3.88 .07 3.88 .07-4.29 .07 4.29 .07-3.04 .07 3.04 .01-5.97 .06 2.96 .07 3.01 .07-4.26 .07 4.26 .07-5.35 .07 5.35 .07-3.81 .07 3.81 .07-3.67 .07 3.67 .07-5 .07 5 .05-6.75 .02 4.15 .07 2.6 .07-3.36 .07 3.36 .07-4.12 .07 4.12 .07-3.93 .07 3.93 .07-4.43 .07 4.43 .07-3.6 .07 3.6 .07-6.4 .03-1.12 .04 7.52 .07-5 .07 5 .07-3.72 .07 3.72 .07-5.66 .07 5.66 .07-3.99 .07 3.99 .07-7.8 0 4.18 .07 3.62 .07-6.17 .07 6.17 .07-5.81 .07 5.81 .07-7.1 .07 7.1 .07-8.67 .07 8.67 .03-12.19 .04 1.49 .07 10.7 .07-6.97 .07 6.97 .07-9.27 .07 9.27 .07-11.78 .07 11.78 .07-6.87 .07-10.41 0 17.28 .07-6.38 .07 6.38 .07-10.85 .07 10.85 .07-10.28 .07 10.28 .07-9.16 .07-40.93 0 50.09 .07-20.15 .07 20.15 .06-50.09 .01 18.86 .07 31.23 .07-19.28 .07 19.28 .07-18.17 .05-13.46 .02 31.63 .07-14.24 .07 14.24 .07-29.47 .07 29.47 .07-13.38 .07 13.38 .01-29.7 .06 11.2 .07 18.5 .07-21.21 .07 21.21 .07-20.79 .07 20.79 .03-30.08 .04 19.88 .07 10.2 .07-18.56 .07 18.56 .07-10.32 .02-20.49 .05 30.81 .07-21.32 .07 21.32 .01-30.81 .06 19.48 .07 11.33 .07-7.76 .07 7.76 .07-12.01 .01-7.19 .06 19.2 .07-12.43 .07 12.43 .07-13.87 .07 13.87 .07-14.19 .03-3.98 .04 18.17 .07-9.61 .07 9.61 .07-13.31 .07 13.31 .07-15.22 .07 15.22 .07-13.76 .07 13.76 .07-16.67 0 5.21 .07 11.46 .07-14.49 .07 14.49 .07-6.38 .07 6.38 .07-8.3 .02-8.1 .05 16.4 .07-10.81 .07 10.81 .07-15.68 .07 15.68 .07-15.24 .07 15.24 .07-8.97 .07 8.97 .05-20 .02 5.17 .07 14.83 .07-16.78 .07 16.78 .07-10.7 .05-32.3 .02 43 .07-33.64 .07 33.64 .04-43 .03 35.52 .07 7.48 .07-10.04 .07 10.04 .07-6.03 .03-7.9 .04 13.93 .07-6.58 .07 6.58 .07-3.89 .07 3.89 .07-6.53 .05-2.59 .02 9.12 .07-6.04 .07 6.04 .07-7.3 .07 7.3 .07-8.2 .07 8.2 .07-10.84 .07 10.84 .07-10.65 .02-5.43 .05 16.08 .07-8.16 .07 8.16 .07-9.25 .07 9.25 .01-54.52 .06 26.5 .07 28.02 .07-38.05 0-16.47 .07 54.52 .07-17.66 .07 17.66 .07-12.13 .07-12.79 0 24.92 .07-19.31 .07 19.31 .07-12.32 .07 12.32 .07-20.15 .07 20.15 .02-21.72 .05 7.32 .07 14.4 .07-19.01 .07 19.01 .07-20.58 .07 20.58 .07-18.78 .07 18.78 .07-14.29 .05-6.81 .02 21.1 .07-18.04 .07 18.04 .07-16.54 .07 16.54 .07-11.26 .07 11.26 .01-20.79 .06 5.64 .07 15.15 .07-12.53 .07 12.53 .07-8.25 .07 8.25 .07-7.64 .07 7.64 .07-13.67 .04-3.51 .03 17.18 .07-9.96 .07 9.96 .07-7.34 .07 7.34 .07-3.48 .07 3.48 .07-4.96 .07 4.96 .07-5.83 .01-1.66 .06 7.49 .07-4.26 .07 4.26 .07-6.14 .07 6.14 .07-6.37 .07 6.37 .07-7.57 .07 7.57 .04-16.29 .03 4.32 .07 11.97 .07-13.22 .07 13.22 .07-10 .07 10 .07-8.56 .07 8.56 .05-17.51 .02 7.6 .07 9.91 .07-14.59 .04-2.92 .03 17.51 .07-8.77 .07 8.77 .07-13.44 .07 13.44 .07-11.32 .07 11.32 .07-7.57 .04-8.83 .03 16.4 .07-6.88 .07 6.88 .07-9.33 .07 9.33 .07-13.15 .07 13.15 .07-7.42 .07 7.42 .07-11.98 .01-4.42 .06 16.4 .07-7.43 .07 7.43 .07-8.95 .07 8.95 .07-16.61 .07 16.61 .07-12.37 .07 12.37 .04-17.41 .03 1.76 .07 15.65 .07-11.41 .07 11.41 .07-9.68 .07 9.68 .07-12.02 .07 12.02 .05-24.82 .02 10.93 .07 13.89 .07-9.29 .04-15.53 .03 24.82 .07-11.45 .07 11.45 .07-10.41 .07 10.41 .07-11.69 .07 11.69 .07-10.14 .04-4.67 .03 14.81 .07-12.8 .07 12.8 .07-9.15 .07 9.15 .07-4.96 .07 4.96 .07-4.05 .07 4.05 .07-6.22 .01-7.52 .06 13.74 .07-9.2 .07 9.2 .07-5.73 .07 5.73 .07-7.5 .07 7.5 .07-5.24 .07 5.24 .04-7.46 .03 2.29 .07 5.17 .07-4.88 .07 4.88 .07-4.88 .07 4.88 .07-5.41 .07 5.41 .07-4.06 .07 4.06 .01-4.78 .06 2.4 .07 2.38 .07-2.19 .07 2.19 .07-3.56 .07 3.56 .07-6.98 .07 6.98 .07-8.58 .04-2.09 .03 10.67 .07-5.15 .07 5.15 .07-4.83 .07 4.83 .07-10.23 .07 10.23 .07-3.58 .05-39.86 .02 43.44 .07-24.58 .07 24.58 .04-43.44 .03 36.03 .07 7.41 .07-2.91 .07 2.91 .07-6.02 .03-4.24 .04 10.26 .07-4.43 .07 4.43 .07-3.46 .07 3.46 .07-3.35 .05-2.51 .02 5.86 .07-2.4 .07 2.4 .07-3.82 .07 3.82 .07-6.96 .07 6.96 .07-4.53 .07 4.53 .07-5.02 .02-9.43 .05 14.45 .07-9.99 .07 9.99 .07-9.36 .07 9.36 .07-8.68 .07 8.68 .07-8.3 .02-8.1 .05 16.4 .07-7.9 .07 7.9 .01-16.4 .06 13.23 .07 3.17 .07-5.64 .07 5.64 .07-3.98 .07 3.98 .07-2.44 .07 2.44 .02-6.59 .05 2.98 .07 3.61 .07-2.8 .07 2.8 .07-5.18 .07 5.18 .07-3.47 .07 3.47 .07-3.07 .05-1.71 .02 4.78 .07-2.52 .07 2.52 .07-4.28 .07 4.28 .07-3.18 .07 3.18 .07-3.02 .07 3.02 .07-8.67 .02-4.12 .05 12.79 .07-5.84 .07 5.84 .07-9.56 .07 9.56 .07-11.06 .07 11.06 .07-6.32 .07 6.32 .05-15.74 .02 8.6 .07 7.14 .07-10.5 .07 10.5 .07-13.37 .07 13.37 .07-12.31 .07 12.31 .07-8.22 .07 8.22 .07-12.53 .07 12.53 .07-12.7 .03-5.32 .04 18.02 .07-6.43 .07 6.43 .07-11.17 .07 11.17 .07-7.38 .07 7.38 .07-9.79 .03-9.94 .04 19.73 .07-10.68 .07 10.68 .02-19.73 .05 17.79 .07 1.94 .07-3.1 .07 3.1 .07-2.73 .07 2.73 .07-4.28 .07 4.28 .03-5.53 .04 3.24 .07 2.29 .07-1.64 .07 1.64 .07-2.75 .07 2.75 .05-4.96 .02 3.53 .07 1.43 .07-2.27 .07 2.27 .07-3.4 .07 3.4 .07-2.6 .07 2.6 .07-1.3 .07 1.3 .02-3.91 .05 .48 .07 3.43 .07-2.07 .07 2.07 .07-1.73 .07 1.73 .07-2.19 .07 2.19 .07-2.33 .05-1.39 .02 3.72 .07-2.84 .07 2.84 .07-1.79 .07 1.79 .07-2.66 .07 2.66 .07-1.37 .07 1.37 .07-2.05 .02-2.29 .05 4.34 .07-1.89 .07 1.89 .07-1.64 .07 1.64 .01-13.08 .06 6.41 .07 6.67 .07-13.08 0 4.75 .07 8.33 .07-1.38 .07 1.38 .07-3.26 .07 3.26 .07-1.83 .07 1.83 .07-2.62 .07 2.62 .07-2.28 .07 2.28 .02-4.49 .05 2.38 .07 2.11 .07-3.13 .07 3.13 .07-3.32 .07 3.32 .07-1.68 .07 1.68 .07-2.13 .05-.59 .02 2.72 .07-2.19 .07 2.19 .07-2.41 .07 2.41 .07-2.06 .07 2.06 .07-1.89 .07 1.89 .07-1.88 .07 1.88 .07-1.91 .07 1.91 .07-1.05 .07 1.05 .07-1.92 .04-.25 .03 2.17 .07-1.5 .07 1.5 .07-1.75 .07 1.75 .07-1.45 .07 1.45 .07-2.09 .07 2.09 .07-1.12 .07 1.12 .07-1.68 .07 1.68 .07-1.52 .07 1.52 .07-1.77 .03-.63 .04 2.4 .07-2.71 .07 2.71 .07-1.54 .07 1.54 .07-2.26 .07 2.26 .07-2.1 .07 2.1 .07-3.26 .07 3.26 .07-3.51 .07 3.51 0-5.54 .07 2.6 .07 2.94 .07-4.33 .07 4.33 .07-2.69 .07 2.69 .07-3.03 .07 3.03 .07-2.03 .07 2.03 .07-6.77 .02-12.96 .05 19.73 .07-8.21 .07 8.21 .01-19.73 .06 15.98 .07 3.75 .07-1.68 .07 1.68 .07-3.58 .07 3.58 .07-4.49 .07 4.49 .02-5.61 .05 3.17 .07 2.44 .07-2.48 .07 2.48 .07-2.77 .07 2.77 .04-4.78 .03 2.15 .07 2.63 .07-4.35 .07 4.35 .07-5.22 .07 5.22 .07-3.21 .07 3.21 .07-3.84 .07 3.84 .07-4.96 .07 4.96 .07-6.16 .02-2.37 .05 8.53 .07-3.95 .07 3.95 .07-7.73 .07 7.73 .07-6.84 .07 6.84 .07-8.87 .02-22.38 .05 31.25 .07-18.09 .07 18.09 .01-31.25 .06 25.25 .07 6 .07-3.77 .07 3.77 .07-6.73 0-2.31 .07 9.04 .07-4.48 .07 4.48 .07-4.3 .07 4.3 .07-5.52 .03-.34 .04 5.86 .07-3.18 .07 3.18 .07-4.21 .07 4.21 .07-5.3 .07 5.3 .07-4.84 .07 4.84 .06-8.17 .01 2.5 .07 5.67 .07-7.32 .07 7.32 .07-5.75 .06-11.76 .01 17.51 .07-8.9 .07 8.9 .05-17.51 .02 14.47 .07 3.04 .07-3.29 .07 3.29 .07-1.89 .07 1.89 .07-3.62 .07 3.62 .05-4.55 .02 1.46 .07 3.09 .07-1.89 .07 1.89 .07-2.23 .07 2.23 .07-2.52 .07 2.52 .07-2.88 .07 2.88 .02-3.69 .05 2.21 .07 1.48 .07-1.32 .07 1.32 .07-2.89 .07 2.89 .07-2.85 .07 2.85 .07-2.5 .07 2.5 .07-3.08 .07 3.08 .06-5.94 .01 1.8 .07 4.14 .07-2.29 .07 2.29 .07-2.61 .07 2.61 .07-2.56 .07 2.56 .07-16.84 0 8.81 .07 8.03 .07-9.27 .06-7.57 .01 16.84 .07-2.4 .07 2.4 .07-3.58 .07 3.58 .05-5.45 .02 2.34 .07 3.11 .07-4.24 .07 4.24 .07-3.34 .07 3.34 .07-3.84 0-1.2 .07 5.04" stroke="#000" stroke-width="1.05" fill="none" stroke-linejoin="round"/>
<rect x="59.9" y="265.4" width="334.65" height="75.9" fill="none" stroke="#333" stroke-width="0.75"/>
<rect x="59.9" y="244.55" width="334.65" height="20.85" fill="#d9d9d9" stroke="#333" stroke-width="0.75"/>
<text x="227.22" y="260.05" text-anchor="middle" font-size="14.45" fill="#1a1a1a">Pampas</text>
<path d="M57 338.25H59.9M57 319.95H59.9M57 301.65H59.9M57 283.35H59.9M100.46 341.3V344.2M151.17 341.3V344.2M201.87 341.3V344.2M252.58 341.3V344.2M303.28 341.3V344.2M353.99 341.3V344.2" stroke="#444" stroke-width="0.95" fill="none"/>
<text x="54.9" y="343.15" text-anchor="end" font-size="14.4" fill="#4d4d4d">0</text>
<text x="54.9" y="324.85" text-anchor="end" font-size="14.4" fill="#4d4d4d">20</text>
<text x="54.9" y="306.55" text-anchor="end" font-size="14.4" fill="#4d4d4d">40</text>
<text x="54.9" y="288.25" text-anchor="end" font-size="14.4" fill="#4d4d4d">60</text>
<text x="100.46" y="356.65" text-anchor="middle" font-size="14.4" fill="#4d4d4d">2012</text>
<text x="151.17" y="356.65" text-anchor="middle" font-size="14.4" fill="#4d4d4d">2014</text>
<text x="201.87" y="356.65" text-anchor="middle" font-size="14.4" fill="#4d4d4d">2016</text>
<text x="252.58" y="356.65" text-anchor="middle" font-size="14.4" fill="#4d4d4d">2018</text>
<text x="303.28" y="356.65" text-anchor="middle" font-size="14.4" fill="#4d4d4d">2020</text>
<text x="353.99" y="356.65" text-anchor="middle" font-size="14.4" fill="#4d4d4d">2022</text>
</g>
<g>
<path d="M428.65 328.75H763.55M428.65 309.75H763.55M428.65 290.75H763.55M428.65 271.75H763.55M443.87 265.4V341.3M494.62 265.4V341.3M545.36 265.4V341.3M596.1 265.4V341.3M646.84 265.4V341.3M697.58 265.4V341.3M748.33 265.4V341.3" stroke="#ebebeb" stroke-width="0.55" fill="none"/>
<path d="M428.65 338.25H763.55M428.65 319.25H763.55M428.65 300.25H763.55M428.65 281.25H763.55M469.24 265.4V341.3M519.99 265.4V341.3M570.73 265.4V341.3M621.47 265.4V341.3M672.21 265.4V341.3M722.96 265.4V341.3" stroke="#ebebeb" stroke-width="1.05" fill="none"/>
<path d="M443.87 337.54l.07-1.15 .07 1.24 .07-.42 .07 .52 .06-3.03 .01 2.45 .07 .37 .07-.38 .07 .63 .07-.54 .07 .79 .05-1.1 .02 .12 .07 .81 .07-.78 .07 .35 .07-.47 .07 .89 .07-.69 .07 .53 .07-.43 .07 .37 .07-.07 .07 .45 .07-.53 .07-.03 .07-.34 .07 .71 .07-.4 .07 .6 .07-.67 .07 .39 .07-.1 .07 .2 .07-.28 .07 .08 .07 .03 .07-.03 .07-.22 .07 .51 .07-.47 .07 .57 .07-.6 .07 .04 .07-.07 .07 .29 .07-.22 .07 .39 .07-.36 .07 .26 .07-.24 .07-.08 .07 .12 .07-.02 .07-.19 .07 .31 .07 .02 .07-.01 .07-.18 .07 .16 .07-.38 .07 .26 .07 .27 .07 .14 .07-.28 .07-.1 .07-.18 .07 .21 .07-.14 .07-.04 .07 .35 .07-.27 .07 .06 .07-.1 .07 .39 .07-.09 .07-.21 .07-.04 .07 .15 .07 .27 .07-.35 .07 .34 .07-.24 .07 0 .07-.17 .07-.03 .07-.06 .07 .42 .07-.45 .07 .31 .07-.28 .06-.04 .01 .24 .07-.14 .07 .32 .07-.23 .07 .27 .07-.17 .07 .08 .07 .02 .07-.31 .07 .31 .07 .2 .07-.52 .07-.03 .07 .06 .07 .12 .07-.08 .07-.04 .07 .03 .07 .13 .07 .13 .07 .1 .07-.42 .07 .1 .07 .15 .07 .21 .07-.34 .07 .34 .07-.53 .07 .12 .07 .2 .07-.06 .07 .2 .07 .09 .07-.46 .07 .54 .07-.18 .07 .21 .07-.43 .07 .25 .07-.39 .07 .55 .07-.42 .07 .04 .07 0 .07-.01 .07-.13 .07-.12 .07 .18 .07 .25 .07-.23 .07-.1 .07 .1 .07-.17 .07 .01 .07 .13 .07 .16 .07 .3 .07-.26 .07 .03 .07-.26 .07-.05 .07 .19 .07 .25 .07-.53 .02 0 .05 .24 .07-.25 .07 .12 .07-.12 .07 .27 .07-.07 .07-.17 .07 .23 .07 .26 .07-.18 .07 .21 .07-.61 .07 .55 .07-.55 .07 .62 .07-.5 .07 .03 .07-.12 .07 .4 .07-.44 .07 .32 .07 .01 .07 .39 .07-.46 .07 .22 .07-.27 .07-.1 .07 .28 .07 .02 .07-.31 .07-.03 .06-.18 .01 .31 .07-.12 .07 0 .07 .49 .07-.78 .07 .85 .07-.63 .07 .24 .07-.68 .07 .86 .07-.84 .07 1.13 .07-1.16 .07 .96 .07-.49 .07 .71 .05-1.72 .02 1.37 .07-.07 .07-.92 .07 .98 .07-.88 .07 .61 .07-.46 .07 .88 .07-.83 .07 .8 .07-1.3 .07 .97 .07-1.17 .07 1.25 .07-1.12 .07 1.5 .04-2.23 .03 1.57 .07 .42 .07-1.39 .07 1.43 .07-.86 .07 1.12 .07-2.39 .07 2.03 .07-.81 .07 1.05 .07-3.24 .07 2.65 .07-.62 .02-2.8 .05 3.7 .07-.92 .07 .48 .07-.9 .07 1.5 .07-2.66 .07 1.58 .07-1.45 .07 2.62 .05-5.97 .02 1.55 .07 4.26 .07-3.17 .07 2.57 .07-2.19 .07 1.55 .07-1.31 .07 1.63 .07-1.62 .07 2.04 .02-4.44 .05 1.05 .07 4.17 .07-1.51 .07 .98 .07-3.9 .07 4.02 .07-3.31 .07 3.11 .07-3.62 .05-.75 .02 4.24 .07-2.13 .07 2.6 .07-2.22 .07 2.23 .07-1.47 .07 .12 .07-2.15 .07 2.31 .07-3.33 .02-1.26 .05 5.94 .07-4.71 .07 3.11 .07-4.39 .07 5.16 .07-2.54 .04-3.66 .03 5.87 .07-.53 .07 .95 .07-3.38 .07 3.8 .07-4.3 .07 4.39 .07-3.12 .07 2.6 .07-2.83 0-3.67 .07 7.37 .07-4.58 .07 3.38 .07-2.9 .07 4.03 .07-4.58 .03-3.01 .04 7.2 .07-4.07 .07 4.35 .07-4.45 .07 4.59 .07-4.53 .07 3.42 .07-1.68 .07 2.34 .06-6.02 .01 3.46 .07 2.41 .07-1.03 .07 1.7 .07-3.24 .07 3.17 .07-3.81 .02-2.26 .05 5.97 .07-4.03 .07 3.74 .07-4.8 .07 4.59 .07-3.75 .07 3.51 .07-3.37 .07 3.41 .05-5.64 .02 2.37 .07 4.17 .07-4.43 .07 3.57 .07-2.86 .07 2.45 .07-2.86 0-2.7 .07 5.33 .07-4.33 .07 4.39 .07-1.02 .07 2.17 .07-1.98 .07 1.97 .07-2.81 .07 2.33 .04-4.9 .03 1.31 .07 3.34 .07-3.2 .07 3.76 .07-1.95 .07 1.11 .06-4.19 .01 1.97 .07 2.93 .07-2.63 .07 2.59 .07-.76 .07 .17 .07-2.45 .07 3.32 .07-1.95 .07 2.11 .03-5.68 .04 2.5 .07 2.96 .07-1.63 .07 1.73 .07-2.97 .07 2.22 .05-5.1 .02 4.11 .07 1.63 .07-3.09 .07 3.1 .07-1.06 .07 1.44 .07-2.43 .07 1.96 .07-.62 .07 .6 .02-1.89 .05 1.16 .07 1.08 .07-1.56 .07 1.39 .07-.16 .07 .14 .04-.9 .03 .58 .07 .38 .07-.88 .07 .94 .07-.68 .07 .43 .07-.15 .07 .53 .07-.48 .07-.03 .07-.37 .07 .81 .07-.8 .07 .73 .07-.45 .07 .29 .07 .08 .07-.28 .07 .21 .07-.13 .07 .06 .07 .44 .05-.83 .02 .59 .07-.08 .07-.47 .07 .25 .07 .12 .07 .17 .07-.15 .07 .18 .07-.46 .07 .09 .07 .03 .07 .17 .07-.24 .07 .03 .07 .02 .07 .1 .07-.25 .07 .57 .07-.63 .07 .64 .07-.49 .07 .18 .07-.25 .07 .64 .07-.45 .07 .19 .07-.22 .07 .59 .07-.62 .07 .32 .07 .04 .07-.12 .03-.47 .04 0 .07 .41 .07-.15 .07 .21 .07-.51 .07 .57 .07-.2 .07 .22 .07 .07 .07 .12 .07-.14 .07-.38 .07-.05 .07 .62 .07-.25 .07 .27 .07-.72 .07 .31 .07-.36 .07 .22 .07 .13 .07 .25 .07-1 .07 1.17 .07-.43 .07-.04 .07-.83 .07 1.24 .07-.85 .07 .38 .07 .02 .07-.09 0-.87 .07 .49 .07 .44 .07-.53 .07 .49 .07-.61 .07 .65 .07 .13 .07 .32 .07-.62 .07 .23 .07-.04 .07 .1 .07-.09 .07 .46 .07-.81 .07 .27 .07-.19 .07 .25 .07 .29 .07 .29 .07-.35 .07-.06 .07-.61 .07 .45 .07-.17 .07 .16 .07-.35 .07 .54 .07-.49 .07 .58 .07-.38 .05-.18 .02 .7 .07-.44 .07 .21 .07-.31 .07 .27 .07-.18 .07 .07 .07-.03 .07 .07 .07-.09 .07 .12 .07 .01 .07 .03 .07-.02 .07 .36 .07-.65 .07 .63 .07-.7 .07 .21 .07 .11 .07 .33 .07-.02 .07-.4 .07-.16 .07 .69 .07-.51 .07-.04 .07 .03 .07 .45 .07-.44 .07 .54 .07-.61 .03-.23 .04 .62 .07-.37 .07 .05 .07-.18 .07 .59 .07-.57 .07 .54 .07-.97 .07 .91 .07-1.09 .07 .86 .07-.24 .07 .69 .07-.84 .07 .74 .07-1.13 .01-.69 .06 1.37 .07-.39 .07 .41 .07-1.01 .07 1.29 .07-1.34 .07 1.26 .07-.88 .07 .79 .07-.16 .07 .01 .07-.16 .07 .2 .07-.92 .07 1.12 .07-2.61 0 2.03 .07 .63 .07-2.06 .07 1.4 .07-.8 .07 1.73 .07-2.3 .07 1.19 .07-1.44 .07 1.33 .04-5.37 .03 1.4 .07 3.52 .07-3.93 .07 5.04 .07-4.76 .07 5.18 .06-9.13 .01 4.69 .07 3.57 .07-3.2 .07 3.33 .07-5.03 .07 5.3 .07-4.07 .07 3.92 .07-2.5 .07 .71 .03-7.45 .04 1.99 .07 5.89 .07-3.17 .07 4.77 .07-2.58 .07 2.56 .05-9.6 .02 4.83 .07 3.87 .07-6.87 .07 5.49 .07-10.28 .07 12.34 .07-15.58 0 7.31 .07 5.45 .07-11.94 .07 11.15 .07-4.6 .07 7.16 .07-15.13 .03-5.72 .04 18.06 .07-9.59 .07 8.7 .07-4.99 .07 8.69 .07-9.61 .05-13.12 .02 24.01 .07-12.77 .07 9.25 .07-9.1 .03-28.48 .04 33.82 .07-20.18 .07 16.02 .07-23.74 .07 34.75 .04-40.67 .03 34.86 .07 6.04 .07-7.08 .07 5.43 .03-8.39 .04 5.25 .07 3.17 .07-2.75 .07 4.51 .07-2.79 .07 1.23 .05-6.01 .02 3.35 .07 4.53 .07-4.73 .07 3.92 .07-4.01 .07 3.85 .07-4.23 .07 4.76 .07-2.6 .07 2.25 .01-6.69 .06 3.3 .07 3.94 .07-6.2 .07 6.17 .07-3.38 .07 3.31 .04-6.66 .03 3.8 .07 1.69 .07-3.7 .07 3.82 .07-2.62 .07 2.62 .07-3.27 .07 4.66 .07-3.23 .07-4.2 0 6.45 .07-2.29 .07 2.63 .07-1.11 .06-9.01 .01 9.12 .07-5.38 .07 6.61 .07-5.39 .07 5.23 .07-3.94 .07-6.25 0 10.45 .07-1.16 .07 1.11 .07-1.06 .07 1.2 .07-1.61 .06-.45 .01 2.39 .07-1.2 .07 1.38 .07-1.42 .07 1.11 .07-.87 .07 .9 .01-1.58 .06 1.21 .07 .45 .07-.67 .07 .48 .07-.42 .07 .22 .07 .1 .07 .05 .07-1.05 .07 1.21 .07-.85 .07 1.02 .06-1.3 .01 .77 .07 .14 .07-.65 .07 .88 .07-.74 .07 .55 .07-.52 .07 .8 .07-.23 .07-.1 .07-.21 .07 .55 .07-.88 .04-.03 .03 .54 .07 .26 .07-.08 .07-.42 .07 .41 .07-.36 .07 .63 .07-.27 .07 .14 .07-.24 .07 .35 .07-.92 .07 .96 .07-.64 .07 .29 .07-.03 .07 .29 .07-.8 .07 .96 .07-1.06 .07 .65 .07-.63 .07 .82 .07-.58 .07 .75 .07-.22 .07-.08 .07-.2 .07 .53 .07-.25 .07-.02 .07-.67 .01-.11 .06 .87 .07-.49 .07 .42 .07-.37 .07 .39 .07-.56 .07 .28 .07-.38 .07 .84 .07-.49 .07 .14 .07-.21 .07 .26 .07-.46 .07 .37 .07-.39 .07 .36 .07 .08 .07 .19 .07-.52 .07 .26 .07-.08 .07 .13 .07-.46 .07 .38 .07 .07 .07 .25 .07-.57 .07 .51 .07-.48 .07 .26 .06-.38 .01 .07 .07 .19 .07 .25 .07 .07 .07-.18 .07 .4 .07-.5 .07 .23 .07-.11 .07-.18 .07-.16 .07 .28 .07-.05 .07 .46 .07-.54 .07 .3 .07-.41 .07 .63 .07-.58 .07 .29 .07-.24 .07 .34 .07-.21 .07 .26 .07-.27 .07 .02 .07 .18 .07 .12 .07-1.54 0 .81 .07 .48 .07-1.03 .07 .91 .07-.68 .07 .96 .07-1.03 .07 1.15 .01-1.57 .06 1.28 .07 .38 .07-.56 .07 .27 .07-.29 .07 .56 .07-.49 .07 .26 .07-.46 .07 .8 .07-.79 .07 .63 .02-.71 .05 .01 .07 .37 .07-.1 .07 .24 .07-.21 .07-.04 .07-.17 .07 .49 .07-.3 .07 .01 .07 .09 .07-.18 .07 .34 .07 .06 .07-.49 .07 .57 .07-.16 .07-.1 .07-.22 .07 .21 .07-.01 .07 .38 .07-.25 .07-.07 .07-.32 .07 .19 .07 .2 .07 .22 .07-.32 .07 .01 .07-.19 .07 .3 .07-.24 .07-.05 .07-.03 .07 .24 .07 0 .07 .02 .07-.22 .07 .26 .07-.17 .07 .46 .07-.36 .07-.04 .07-.23 .07 .03 .07-.02 .07 .45 .07-.21 .07-.19 .07 .35 .07 .26 .07-.33 .07-.05 .07 .09 .07-.33 .07 .01 .07 .02 .07 .04 .07 .02 .07 .16 .07-.15 .07 .31 .05-.44 .02 .03 .07 .07 .07 .08 .07-.15 .07 .03 .07 .28 .07 .22 .07-.44 .07 .05 .07 .14 .07 .22 .07-.45 .07 .19 .07-.16 .07 .36 .07-.31 .07 .16 .07-.2 .07 .23 .07-.13 .07-.08 .07 .14 .07 .19 .07-.3 .07 .18 .07 .1 .07-.23 .07 .08 .07 .33 .07-.71 .07 .59 .07-.41 .07 .46 .07-.7 .07 .63 .07-.13 .07-.17 .07-.22 .07 .07 .07-.14 .07 .48 .07-.41 .07 .31 .07-.67 .07 .93 .07-.65 .07 .41 .07-.29 .01-.45 .06 .66 .07-.61 .07 .5 .07-.49 .07 .83 .07-.71 .07 .63 .07-.17 .07 .32 .07-.41 .07 .1 .07-.71 .07 .83 .07-.85 .07 .89 .07-1.28 0 .26 .07 1.01 .07-.26 .07 .07 .07-.28 .07 .44 .07-.63 .07 .89 .07-.85 .07 .32 .07-1.03 .07 1.04 .07-.94 .07 1.17 .07-1.25 .07 1.25 .06-1.74 .01 .66 .07 1.28 .07-1.38 .07 1.41 .07-1.21 .07 .91 .07-1.16 .07 1.13 .07-.31 .07 .19 .07-1.49 .07 1.59 .07-1.49 .03-1.24 .04 2.72 .07-.57 .07 .41 .07-1.83 .07 1.83 .07-1.37 .07 1.89 .07-2.25 .07 2 .07-1.27 .07 1.44 .07-.79 .07 .79 .01-4.04 .06 1.76 .07 2 .07-1.04 .07 .97 .07-1.8 .07 1.19 .03-4.41 .04 2.19 .07 3.02 .07-3.11 .07 2.96 .07-2.82 .07 1.65 .06-4.29 .01 2.77 .07 1.38 .07-4.3 .07 4.89 .07-2.89 .07 2.71 .07-3.19 .01-2.42 .06 6.36 .07-11.31 0-4.86 .07 16.29 .07-9.37 .07 7.66 .06-14.58 .01 11.49 .07 4.78 .07-1.84 .07 1.96 .05-4.7 .02 2.32 .07 1.5 .07-.56 .07 .88 .07-1.35 .07 1.8 .07-3.86 0 1.34 .07 2.81 .07-2.43 .07 1.95 .07-1.13 .07 .89 .07-2.04 .07 2.76 .07-2.42 .07 2 .03-3.54 .04 1.54 .07 2.55 .07-2.79 .07 2.12 .07-.62 .07 .81 .07-1.76 .07 2.25 .07-2.42 .07-1.43 0 3.72 .07-2.07 .07 1.47 .07-.79 .07 1.52 .07-2.86 .07 2.68 .07-2.82 .07 2.77 .07-1.31 .03-3.09 .04 4.43 .07-2.74 .07 2.69 .07-3.17 .02-2.65 .05 5.22 .07-3.8 .07 4.47 .07-4.06 .07 3.78 .07-4.86 .03-.75 .04 5.21 .07-1.41 .07 1.57 .07-2.23 .07 2.49 .07-1.76 .02-2.72 .05 4.89 .07-2.03 .07 1.64 .07-2.55 .07 2.74 .07-2.93 .05-1.16 .02 3.45 .07-1.5 .07 1.9 .07-2.46 .07 2.51 .07-.87 .07 1.23 .07-1.02 .07 .65 .07-.77 .01-1.01 .06 2.33 .07-1.25 .07 1.08 .07-.74 .07 .4 .07-.94 .03 .03 .04 1.08 .07-.83 .07 .8 .07-.95 .07 .67 .07-.61 .07 .86 .07-.33 .07 .37 .07-.23 .07 .44 .07-.32 .07 .39 .07-.63 .07 .67 .07-.84 .07 .75 .07-.47 .07 .44 .07-.59 .07 .65 .07-.16 .07 0 .07-.57 .07 .55 .07-.25 .07 .42 .07-.56 .07 .57 .07-.76 .07 .51 .07-.21 .01-.31 .06 .71 .07-.06 .07-.39 .07-.08 .07 .16 .07 .06 .07 .08 .07-.36 .07 .2 .07 .02 .07 .19 .07-.1 .07 .03 .07-.17 .07 .47 .07-.42 .07 .33 .07-.39 .07 .41 .07-.38 .07 .11 .07-.27 .07 .29 .07-.18 .07 .56 .07-.49 .07 .47 .07-.5 .07 .11 .07-.04 .07 .43 .07-.55 .07 .39 .07-.48 .07 .37 .07 .02 .07-.15 .07 .06 .07-.09 .07-.05 .07 .24 .07-.04 .07-.09 .07-.18 .07 .47 .07-.31 .07 .39 .07-.38 .07 .17 .07-.23 .07 .28 .07-.26 .07-.12 .07 .37 .07 .06 .07-.43 .07 .57 .07-.46 .07-.15 .07 .01 .07 .25 .07 .13 .07 .14 .03-.53 .04 .01 .07 .14 .07 .34 .07-.19 .07-.29 .07 .13 .07 .05 .07 .16 .07-.17 .07-.03 .07-.13 .07 .34 .07-.12 .07-.24 .07 .2 .07-.12 .07-.02 .07 .58 .07-.34 .07-.03 .07 .19 .07-.4 .07-.02 .07 .11 .07-.07 .07 .33 .07-.34 .07 .11 .07-.26 .07 .21 .07 .2 .07 .16 .07-.39 .07 .34 .07-.29 .07 .46 .07-.53 .07 .34 .07-.53 .07 .54 .07-.4 .07 .57 .07-.64 .07 .26 .07-.22 .07 .5 .07-.39 .07 .23 .07-.09 .07 .39 .07-.32 .07-.31 .07 .15 .07 .04 .07-.11 .07 .29 .07-.17 .07 .43 .07-.54 .07 .37 .07-.32 .07 .28 .07-.59 .06-.06 .01 .5 .07-.22 .07 .5 .07-.69 .07 .12 .07 .1 .07 .35 .07-.19 .07 .04 .07-.27 .07 0 .07 .07 .07-.05 .07 .12 .07 .25 .07-.48 .07 .34 .07-.46 .07 .62 .07-.5 .07 .28 .07-.12 .07 .04 .07-.01 .07 .05 .07 .16 .07-.14 .07-.32 .07 .74 .07-.6 .07 .35 .07-.59 .07 .83 .07-.61 .07 .41 .07-.33 .07 .21 .07-.09 .07 .3 .07-.17 .07 .23 .07-.47 .07 .03 .07-.26 .07 .62 .07-.24 .07 .12 .07-.54 .07 .38 .07 .04 .07 .26 .07-.61 .07 .53 .07-.07 .07 .13 .07-.64 .07 .46 .07-.55 .07 .42 .07-.18 .07 .42 .07-.72 .07 .42 .07-.18 .07 .17 .07-.3 .07 .22 .07 .08 .07 .1 .07 .03 .07 .24 .07-.67 .07 .64 .07-.6 .07 .38 .07-.23 .07 .18 .07-.47 .07 .62 .07-.75 0 .25 .07 .36 .07 .05 .07 .44 .07-1.09 .07 .89 .07-.53 .07 .45 .07-1.19 .07 1.35 .07-.82 .07 .91 .07-1.08 .04-.61 .03 1.44 .07-.62 .07 .49 .07-.23 .07 .35 .07-1.01 .07 .89 .07-1.27 .07 1.17 .07-1.37 .01-.73 .06 2.23 .07-2.01 .07 1.82 .07-.43 .07 .27 .07-.34 .07 .67 .07-2.42 .07 2.39 .04-3.06 .03 .65 .07 2.22 .07-.58 .07 .65 .07-2.53 .07 2.33 .07-.39 .07 .16 .07-2.59 .07 2.67 .01-3.75 .06 2.45 .07 1.54 .07-1.43 .07 .76 .07-2.81 .07 2.99 .07-1.1 .07 1.44 .07-3.29 .07 2.94 .07-.03 .07 .59 .05-3.47 .02 1.5 .07 2.08 .07-1.92 .07 1.97 .07-1.4 .07 1.44 .07-1.23 .07 1.41 .07-.84 .07 .65 .02-3.57 .05 .92 .07 2.47 .07-1.58 .07 2.17 .07-2.61 .07 1.97 .07-1.48 .07 1.65 .07-2.27 .07 2.05 .07-2.62 .07 2.94 .07-4.14 0 .47 .07 4.03 .07-3.12 .07 2.05 .07-.72 .07 .64 .07-1.8 .07 2.65 .07-2.31 .07 2.36 .03-4.83 .04 1.74 .07 2.83 .07-2.67 .07 2.34 .07-3.76 .07 3.21 .07-.7 .07 1.4 .07-.98 .07-3.12 0 4.29 .07-3.66 .07 3.88 .07-2.12 .07 1.57 .07-.51 .07 .72 .02-3.95 .05 1.8 .07 2.23 .07-.72 .07 .89 .07-.81 .07 .76 .04-1.33 .03 .82 .07 .54 .07-.64 .05 .16 .02 .67 .07-.38 .07 .49 .07-.46 .07 .09 .07-.04 .07 .18 .07-.08 .07 .29 .07-.3 .07-.06 .07-.08 .07 .18 .07-.1 .07 .25 .07-.24 .07-.15 .07 .28 .07 .04 .07-.31 .07 .18 .07-.21 .07 .26 .07-.37 .07 .72 .07-.66 .07 .24 .07 .13 .07-.34 .07-.07 .07 .19 .07-.06 .03-.28 .04 .77 .07-.56 .07 .18 .07 .18 .07-.26 .07-.02 .07 .1 .07-.1 .07 .04 .07-.23 .07 .7 .07-.64 .07 .71 .07-.62 .07 .04 .07-.19 .07 .32 .07-.3 .07-1.67 0 2.18 .07-.57 .07 .43 .07-.55 .07 .48 .07-1.08 .07 1.27 .07-1.36 .01-.8 .06 2.18 .07-.32 .07 .07 .07-.24 .07 .27 .07-.09 .01-.32 .06 .27 .07 .13 .07 .09 .07-.41 .07 .64 .07-.14 .07-.3 .07 .03 .07 .05 .07-.3 .07 .19 .07 .25 .07 .32 .07-.56 .07 .11 .07-.25 .07 .63 .07-.47 .07-.02 .07 .16 .07 .21 .07-.34 .07 .57 .07-.62 .07 .33 .07-.36 .07 .42 .07-.23 .07 .11 .07-.13 .07 .3 .07-.46 .07 .42 .07 .01 .07-.05 .07-.33 .07 .04 .07-.06 .07-.01 .07-.02 .07 .3 .07-.04 .07-.14 .07-.05 .07 .04 .07 .46 .07-.5 .04-.07 .03 .02 .07 .57 .07-.3 .07 .24 .07-.26 .07-.09 .07-.04 .07 .49 .07-.45 .07 .36 .07-.23 .07 0 .07-.3 .07 .23 .07-.23 .07 .38 .07-.28 .07 .35 .07-.4 .07 .54 .07-.74 .07 .39 .07-.19 .07 .03 .07 .05 .07 .1 .07-.18 .07 .45 .07-.28 .07 .15 .07-.56 .07 .26 .07-.02 .07 .59 .07-.59 .07 .35 .07-.36 .07 .47 .07-.14 .07-.22 .07-.43 .07 .37 .07-.01 .07-.07 .07-.32 .07 .7 .07-.39 .07 .55 .07-.52 .07-.01 .07-.28 .07 .76 .07-.52 .07 .03 .07 .23 .07 .23 .07-.84 .07 .79 .07-.47 .07 .09 .07-.15 .07 .31 .07-.41 .06-.24 .01 .76 .07-.28 .07 .29 .07-.38 .07 .54 .07-.95 .07 .85 .07-.99 .07 .99 .07-.53 .07 .32 .07-.77 .07 .86 .07-.03 .07 .19 .07-.97 .05-.37 .02 1.41 .07-.93 .07 .81 .07-.95 .07 .64 .07-.57 .07 .64 .07-.13 .07 .3 .07-.91 .07 .75 .07-.41 .07 .9 .07-1.31 .07 .98 .07-.43 .04-1.32 .03 1.51 .07-.02 .07 .24 .07-.76 .07 .68 .07-1.17 .07 1.6 .07-1.1 .07 .61 .07-.22 .07 .24 .07-.74 .07 .9 .07-.88 .07 1.01 .07-1.28 .03-1.73 .04 2.88 .07-2.5 .07 2.23 .07-1.19 .07 1.01 .07-1.64 .07 1.73 .07-1.19 .07 1.59 .07-.97 .07 .83 .07-1.56 .07 1.95 .07-2.58 .07 2.4 .07-3.32 .02-.71 .05 3.8 .07-3.4 .07 3.06 .07-1.19 .07 1.27 .07-2.72 .07 2.21 .07-1.81 .07 2.39 .05-4.94 .02 .23 .07 4.83 .07-2.49 .07 2.12 .07-2.72 .07 3.29 .07-3.61 .01-3.18 .06 6.86 .07-2.49 .07 1.54 .07-1.07 .07 1.45 .07-1.31 .07 1.81 .07-4.23 .07 2.58 .04-5.87 .03 1.81 .07 4.79 .07-2.14 .07 2.75 .07-6.67 .07 4.96 .06-6.01 .01 3.69 .07 3.21 .07-5.22 .07 5.38 .07-5.13 .07 5.88 .07-5.87 .07 4.25 .07-3.49 .07 3.95 .03-6.87 .04 3.51 .07 4.66 .07-3.9 .07 3.23 .07-3.9 .07 3.38 .05-7.27 .02 3.68 .07 4.74 .07-3.51 .07 3.77 .07-5.26 .07 4.35 .07-2.82 .07 3.37 .07-2.85 .07 2.8 .02-6.25 .05 3.44 .07 1.8 .07-3.4 .07 4.44 .07-4.21 .07 3.07 .04-4.5 .03 2.52 .07 2.77 .07-2.84 .07 2.88 .07-3.41 .07 3.62 .07-5.05 .07 4.18 .07-4.07 .07 5.05 .01-6.33 .06 3.56 .07 2.81 .07-4.25 .07 4.03 .07-2.06 .07 1.01 .03-5.97 .04 5.44 .07 1.15 .07-.95 .07 .25 .07-.92 .07 1.64 .07-1.36 .07 2.15 .07-2.69 .06-1.83 .01 4.5 .07-1.69 .07 1.42 .07-.88 .07 1.2 .07-1.86 .07 1.53 .02-3.33 .05 1.77 .07 1.67 .07-1.58 .07 1.85 .07-1.79 .07 1.27 .07-1.8 .07 1.77 .07-1.94 .07 2.12 .07-2.52 .07 2.11 .06-3.31 .01 2.51 .07 1.21 .07-.5 .07 .54 .07-1.97 .07 1.44 .07-1.63 .07 1.79 .07-3.23 .07 3.07 .03-3.52 .04 1.02 .07 2.99 .07-2.75 .07 2.75 .07-1.01 .07 1.35 .07-2.34 .07 1.89 .07-2.33 .06-1.57 .01 4.15 .07-1.36 .07 1.17 .07-3.34 .07 2.64 .07-.46 .07 .52 .07-.92 .07 1.59 .07-2.9 .03-1.09 .04 3.77 .07-2.44 .07 2.37 .07-1.71 .07 2.22 .07-.67 .05-.65 .02 1.32 .07 .02 .07 .02 .07-.29 .07 .13 .07 .02 .07 .3 0-.61 .07 .05 .07 .47 .07-.29 .07 .23 .07-.26 .07 .07 .07 .03 .07 .34 .07-.22 .07 .4 .07-.5 .07 .4 .07-.31 .07 .41 .07-.67 .07 .24 .07 .05 .07 .31 .07-.26 .07 .07 .07-.35 .07 .26 .07-.28 .07 .01 .07 .2 .07-.12 .07-.01 .07 .5 .07-.48 .07 .28 .07-.18 .07 .11 .07-.03 .07-.05 .07-.09 .07 .46 .07-.32 .07 .08 .07-.09 .07 .2 .07-.47 .02 0 .05 .38 .07-.36 .07-.02 .07 0 .07 .23 .07-.21 .07 .21 .07-.1 .07 .46 .07-.54 .07 .56 .07-.44 .07 0 .07 .28 .07 .1 .07-.4 .07 .41 .07-.15 .07-.2 .07-.09 .07 .48 .07-.23 .07 .17 .07-.53 .07 .15 .07-.04 .07 .06 .07 .22 .07-.37 .07 .05 .07-.01 .07-.02 .07 .6 .07-.63 .07-.02 .07 .09 .07 .41 .07-.38 .07-.04 .07-.06 .07 .57 .07-.31 .07-.2 .07 .15 .07 .26 .07-.25 .07 .4 .07-.51 .07 .31 .07-.43 .07 .55 .07-.51 .07 .4 .07-.16 .07-.2 .07 .27 .07 .13 .07-.46 .07 .03 .07 .09 .07 .39 .07-.05 .07 .1 .04-.59 .03 .01 .07-.01 .07 .23 .07 .27 .07-.37 .07 .16 .07-.27 .07 .35 .07-.28 .07-.04 .07 .03 .07 .1 .07-.18 .07 .02 .07-.14 .07 .27 .07 .07 .07 .09 .07-.12 .07-.08 .07-.04 .07 .03 .07-.14 .07 .6 .07-.51 .07 .44 .07-.46 .07 .4 .07-.01 .07 0 .07-.68 .07 .41 .07 .05 .07 .29 .07-.74 .07 .83 .07-.78 .07 .3 .07-.4 .07 .96 .07-.62 .07 .36 .07-.53 .07 .67 .07-.43 .07 .34 .07-.52 .07 .17 0-.54 .07 .53 .07 .46 .07-.54 .07 .59 .07-1.05 .07 .83 .07-.77 .07 .68 .07-.78 .07 .73 .07-.26 .07 .17 .07 .06 .07 .11 .07-.39 .06-.84 .01 1.29 .07-.39 .07 .26 .07-.4 .07 .2 .07-.21 .07 .3 .07-1.01 .07 .93 .07-.85 .07 1.27 .07-.52 .07 .62 .07-1.28 .07 1.04 .07-.8 .05-1.04 .02 1.49 .07-.64 .07 .69 .07-.67 .07 .89 .07-.68 .07 .65 .07-.4 .07 .66 .07-1.97 .07 1.6 .07-1.03 .07 .79 .03-2.34 .04 1.87 .07 1.02 .07-2.51 .07 2.17 .07-.75 .07 .67 .07-.38 .07 .61 .07-1.81 .07 1.38 .07-1.76 .07 2.03 .07-2.57 0-.3 .07 2.47 .07 .05 .07 .49 .07-1.24 .07 1.15 .07-1.31 .07 .94 .07-2.13 .07 1.89 .04-4.15 .03 1.34 .07 2.92 .07-1.87 .07 2.44 .07-1.67 .07 1.94 .06-6.58 .01 4 .07 2.19 .07-3.25 .07 1.85 .07-2.85 .07 4.24 .07-2.92 .07 1.55 .07-2.4 .07 3.94 .03-8.19 .04 1.21 .07 5.09 .07-1.58 .07 3.68 .07-3.04 .07 1.07 .05-7.72 .02 2.84 .07 5.72 .07-4.47 .07 5.57 .07-7.07 .07 5.97 .07-8.32 .07 6.32 .07-5.16 .07 6.73 .01-10.7 .06 6.7 .07 4.79 .07-6.74 .07 5.56 .07-1.79 .07 1.06 .04-11.84 .03 5.6 .07 5.71 .07-4.39 .07 7.22 .07-7.78 .07 6.69 .06-14.16 .01 8.72 .07 1.99 .07-9.54 .07 13.43 .05-16.04 .02 8.25 .07 4.96 .07-3.13 .07 6.18 .07-7.82 .05-8.44 .02 15.64 .07-2.77 .07 2.76 .07-6.61 .04-7.87 .03 12.31 .07-5.67 .07 5.74 .07-4.43 .07 5.12 .07-9.98 .06-2.49 .01 10.74 .07-7.59 .07 11.71 .07-9.64 .07 8.4 .07-9.02 .07 9.3 .01-9.49 .06 5.58 .07 4.77 .07-3.12 .07 2.04 .07-4.67 .07 4.82 .04-7.82 .03 5.31 .07 3.78 .07-5.54 .07 4.44 .07-4.97 .07 5.15 .06-8.56 .01 5.13 .07 4.03 .07-5.86 .07 5.27 .05-12.62 .02 8.13 .07 4.26 .07-3.17 .07 3.85 .07-8.19 .05-4.88 .02 12.72 .07 .17 .07 .82 .07-2.28 .04-.27 .03 2.33 .07-.65 .07 .51 .07-1.26 .07 1.64 .07-1.48 .06-.05 .01 1.17 .07-.24 .07 .41 .07-.45 .07 .43 .07-.82 .07 .96 .07-1.02 .07 1.29 .07-1.18 .07 1.18 .07-.88 .07 .27 .04-.79 .03 .5 .07 .75 .07-.9 .07 .51 .07-.55 .07 .77 .07-.17 .07 .07 .07-.32 .07-.33 0 1.04 .07-.92 .07 .78 .07-.81 .07 .38 .07-.32 .07 .32 .07 .09 .07 .15 .07-.63 .07 1 .07-.8 .07 .44 .04-.72 .03-.02 .07 .96 .07-.69 .07 .56 .07-1 .07 .79 .07-.77 .07 .78 .07-1.61 .07 1.36 0-2.18 .07 1.01 .07 1.54 .07-.38 .06-3.9 .01 3.87 .07-2.28 .07 2.28 .07-3.33 .07 3.87 .06-4.41 .01 2.05 .07 2.42 .07-.57 .07 .43 .05-.95 .02 .13 .07 .52 .07 .24 .07 .08 .07-.76 .07 .86 .07-.3 .07 .05 .07-.6 .07 .95 .01-1 .06 .02 .07 .63 .07-.05 .07 .37 .07-.42 .07 .2 .07-.53 .07 .54 .07-.56 .07 .81 .07-.42 .07 .02 .07-.45 .07 .49 .07-.07 .07 .11 .07-.01 .07 .08 .07-.28 .07 .05 .07 .06 .07 .09 .07-.27 .07 .67 .07-.75 .07 .26 .07 .03 .07 .47 .07-.72 .07 .69 .07-.58 .07 .07 .07 .03 .07 .22 .07-.22 .07 .01 .07-.21 .07 .59 .07-.28 .07-.06 .07-.07 .07 .08 .07 0 .07 .4 .07-.24 .07-.04 .07-.17 .05-.15 .02 .09 .07-.03 .07 .23 .07 .07 .07 .07 .07-.29 .07 .09 .07 .29 .07 .07 .07-.56 .07 0 .07 .07 .07 .45 .07-.55 .07 .45 .07-.45 .07 .38 .07 .02 .07 .13 .07-.17 .07 .1 .07-.1 .07-.21 .07 .33 .07 .02 .07-.44 .07 .01 .07 .04 .07 .19 .07 .21 .07-.02 .07-.12 .07-.04 .07-.31 .07 .11 .07 .1 .07 .41 .07-.48 .07 .43 .07-.51 .07 .24 .07-.32 .07 .3 .07-.26 .07 .51 .07-.29 .07-.15 .07-.07 .07 .47 .07-.48 .07-.03 .07 .02 .07 .46 .07 .01 .07-.34 .07 0 .07-.05 .07-.05 .07 .1 .07-.04 .07 .19 .07-.21 .07 .46 .07-.55 0 .23 .07 .15 .07-.23 .07 .05 .07 .35 .07-.24 .07 .08 .07-.34 .07 .22 .07-.06 .07 .09 .07 0 .07 .13 .07 .05 .07-.45 .07 .02 .07-.03 .07 .05 .07 .2 .07-.2 .07-.13 .07 .07 .07 .34 .07-.02 .07-.28 .07 .51 .07-.47 .07 0 .07-.07 .07-.03 .07 .28 .07 .01 .05-.47 .02 .29 .07 .3 .07-.22 .07 .27 .07-.73 .07 .34 .07 .11 .07 .36 .07-1.15 .07 1.11 .07-1.2 .07 1.05 .07-1.04 .07 1.14 .07-.44 .07 .29 .04-1.35 .03 .47 .07 .9 .07-1.13 .07 1.18 .07-.83 .07 .76 .07-.39 .07 .3 .07-.84 .07 .73 .07-1.15 .07 1.71 .07-1.92 .07 1.3 .07-.65 .07 .6 .02-1.79 .05 1.05 .07 .87 .07-.81 .07 1.21 .07-.92 .07 .61 .07-1.64 .07 1.6 .07-2.15 .07 2.54 .07-2.16 .07 1.7 .07-3.23 0 1.65 .07 1.59 .07-1.91 .07 2.03 .07-1.51 .07 1.34 .07-1.86 .07 1.74 .07-2.03 .07 1.61 .07-.91 .07 1.08 .07-1.83 .05-1.92 .02 3.49 .07-1.15 .07 1.73 .07-4 .07 3.85 .07-2.82 .07 1.88 .07-3.71 .07 4.83 .07-4.35 .07 4.46 .07-2.2 .07 1.2 .02-5.94 .05 2.73 .07 3.95 .07-2.12 .07 2.25 .07-3.66 .07 2.98 .07-2.66 .07 3.39 .07-2.83 .06-6.4 .01 8.49 .07-8.55 .07 6.67 .07-3.23 .07 5.05 .07-2.6 .07 2.9 .07-3.3 .07 1.55 .07-3.33 .02-4.35 .05 10.32 .07-4.27 .07 2.07 .07-4.66 .07 5.44 .07-10.82 .02-3.06 .05 15.02 .07-9.34 .07 7.93 .07-5.53 .07 5.86 .07-11.99 .03-1.95 .04 15.08 .07-4.41 .07 4.23 .07-1.76 .01-4.68 .06 5.87 .07-4.85 .07 5.15 .07-4.13 .07 3.45 .07-.61 .04-4.07 .03 4.55 .07-1.69 .07 2.9 .07-3.46 .07 3.53 .07-3.34 .07 3.5 .07-3.93 .07 3.6 .07-4.42 0 2.37 .07 1.9 .07-1.47 .07 1.99 .07-1.72 .07 1.55 .07-.8 .02-2.36 .05 2.94 .07-1.51 .07 1.76 .07-.56 .07 .28 .07-.82 .07 .49 .07-.14 .07 .67 .07-2.29 .07 2.15 .07-1.83 .07-1 0 3.31 .07-1.6 .07 1.13 .07-1.12 .07 1.34 .07-1.46 .07 1.14 .07-1.18 .07 .99 .07-.59 .07 .76 .07-1.93 .07 2 .05-2.64 .02 1.19 .07 1.66 .07-.81 .07 1.08 .07-1.14 .07 .67 .07-1.38 .07 1.64 .07-.84 .07 1 .01-1.41 .06 .49 .07 .98 .07-.79 .07 .36 .07-.01 .07 .31 .07-.14 .07 .34 .07-.74 .05-.31 .02 .74 .07-.23 .07 .09 .07 .04 .07-.17 .07 .13 .07 .15 .07-.32 .07 .33 .07-.07 .07 .36 .07-.61 .07 .38 .07-.43 .07 .55 .07-.29 .07-.02 .07-.27 .07 .2 .07-.06 .07 .07 .07-.31 .07 .64 .07-.53 .07 .31 .07 .04 .07 .31 .07-.46 .07 .39 .07-.1 .07-.35 .07 .02 .07 .19 .07-.15 .07 .1 .07-.2 .07 .56 .07-.52 .07 .09 .07-.13 .07 .41 .07-.38 .07 .03 .07 .09 .07-.12 .07-.1 .07 .35 .07-.33 .07 .56 .07-.24 .07 .09 .02-.39 .05 .21 .07 .34 .07-.47 .07 .06 .07-.12 .07 .27 .07-.15 .07-.13 .07 .04 .07 .21 .07-.23 .07 .18 .07 .03 .07-.01 .07 .25 .07-.41 .07-.04 .07 .21 .07 .29 .07-.02 .07-.38 .07 .27 .07-.27 .07-.13 .07 .05 .07 .57 .07-.52 .07 .12 .07-.2 .07 .05 .07 .36 .07-.39 .07 .1 .07 .51 .07-.62 .07 .1 .07-.13 .07 .55 .07-.16 .07 .22 .07-.39 .07 .31 .07-.53 .07 .17 .07-.03 .07 .09 .07-.08 .07 .41 .07-.53 .07 .21 .07-.2 .07 .02 .07 .08 .07 .38 .07-.29 .07-.11 .07 .04 .07 .03 .07-.14 .07-.02 .07 .36 .07-.13 .07-.02 .07-.18 .07 .12 .07-.17 .07 .09 .07-.03 .07-.06 .07 .45 .07-.17 .07-.26 .07 .15 .07 .37 .07-.48 .07 .34 .07-.14 .07 .15 .07-.41 .07 .5 .07-.41 .07 .05 .07-.09 .07 .26 .07-.14 .07 .15 .07-.2 .07 .5 .07-.34 .07 .06 .07-.31 .07 .61 .07-.53 .07 .34 .07-.22 .02-.24 .05 .48 .07-.2 .07 .3 .07-.49 .07-.09 .07 .19 .07 .23 .07-.27 .07 .41 .07-.59 .07 .32 .07-.22 .07 .49 .07-.31 .07 .34 .07-.55 .07 0 .07 0 .07 .55 .07-.83 .07 .35 .07-.26 .07 .77 .07-.89 .07 .78 .07-.61 .07 .17 .07 .15 .07-.23 .07 .22 .07 .3 .07-.18 .07-.05 .07-.03 .07 .14 .07-.61 .07 .42 .07-.58 .07 1 .07-.57 .07 .03 .07-.31 .07 .75 .07-.6 .07 .32 .07-.14 .07 .16 .07-.37 .07 .38 .07-.67 .07 .84 .07-1.1 .07 .96 .07-.7 .07 .67 .07-.88 .07 .71 .07-.59 .07 .68 .07-.65 .07 .59 .07-.4 .07 .55 .05-1.16 .02 .18 .07 .78 .07-.22 .07 .23 .07 .21 .07 .23 .07-.88 .07 .91 .07-.56 .07 .62 .07-1.33 .07 .89 .07-.35 .07 .53 .07-.52 .07 .68 .07-1.01 .07 1.05 .07-1.55 .07 1.14 .07-.98 .07 .97 .07-.7 .07 .74 .07-.31 .07-1.06 0 1.38 .07-.59 .07 .56 .07-1.03 .07 1.07 .07-1.11 .07 1.04 .07-.63 .07 .94 .07-1.65 .07 1.49 .07-1.12 .07 1.4 .07-.77 .07 .58 .07-.29 .07-.03 .07-.72 .07 1.07 .07-.82 .07 .46 .07-.54 .07 .65 .01-1.48 .06 .36 .07 1.22 .07-1.3 .07 1.67 .07-1.66 .07 1.21 .07-.65 .07 1.03 .07-1.78 .07 1.3 .07-1.92 .07 2.31 .06-3.65 .01 1.04 .07 2.39 .07-1.47 .07 1.4 .07-2.43 .07 1.77 .07-1.41 .07 1.74 .07-1.35 .06-5.14 .01 6.52 .07-3.82 .07 4.58 .07-2.43 .07 2.24 .07-3.35 .07 2.78 .07-1.53 0-4.99 .07 6.69 .07-.64 .07 .94 .07-.35 .07 .12 .07-1.69 0 .8 .07 .97 .07-.74 .07 .76 .07-.39 .07 .68 .07-1.11 .02-.63 .05 1.6 .07-.8 .07 .62 .07-.15 .07 .53 .07-.84 .07 .39 .07-.16 .07 .47 .07-.56 .07 .23 .07-.02 .07-.69 0 1.04 .07-.34 .07 .09 .07-.04 .07 .31 .07-.93 .07 .62 .07-.57 .07 .71 .07-.4 .03-.31 .04 1.01 .07-.57 .07 .55 .07-.77 .07 .43 .07 .07 .07-.06 .07-.3 .07 .29 .07 .17 .07 .18 .07-.51 .07-.03 .07-.23 .07 .72 .07-.7 .07 .76 .07-.39 .07-.02 .07-.03 .07 .39 .07-.78 .07 .76 .07-.48 .07 .48 .07-.35 .07-.13 .07 .11 .07 0 .07 .14 .07 .36 .07-.76 .07 .43 .07-.29 .07 .14 .07-.22 .07 .63 .07-.78 .07 .58 .07-.09 .07-.07 .07-.3 .07 .69 .07-.17 .07-.08 .07-.2 .07 .21 .07-.57 0 .16 .07 .13 .07-.18 .07 .55 .07-.32 .07-.09 .07-.18 .07 .34 .07 .08 .07 .31 .07-.56 .07 .36 .07-.29 .07 .3 .07-.22 .07 .35 .07-.66 .07 .37 .07-.5 .07 .37 .07-.59 .07 .85 .07-.61 .07 .54 .07-.5 .07 .39 .07-.78 .07 1 .07-.27 .07-.02 .07-.49 .07 .89 .04-1.28 .03 .16 .07 .86 .07-1.09 .07 1.29 .07-.42 .07 .47 .07-.5 .07 .1 .07-1.23 .07 1.28 .01-2.03 .06 .81 .07 1.3 .07-1.45 .07-2.1 0 3.02 .07-1.21 .07 1.41 .07-2.1 .07 2.59 .07-2.76 .07-.95 0 3.41 .07-.46 .07 .93 .07-1.12 .07 .78 .07-.66 .07-.55 0 1.49 .07-.77 .07 .48 .07-.39 .07 .79 .07-1.38 .07 .96 .02-1.07 .05 .54 .07 .77 .07-.88 .07 .84 .07-.8 .07 .76 .07-.28 .07 .18 .07-.32 .07 .66 .07-.45 .07 .04 .07-.19 .07 .14 .07-.08 .07 .27 .07-.1 .07-.16 .07 0 .07 .03 .07-.1 .07 .54 .07-.26 .07-.16 .07 .24 .07-.1 .07-.61 .07 .79 .07-.28 .07 .47 .07-.48 .07 .06 .07-.07 .07 .3 .07-.22 .07 .14 .07-.38 .07 .56 .07-.19 .07 .25 .07-.31 .07 .02 .07-.19 .07-.03 .07-.07 .07 .25 .07 .01 .06-.27 .01 .54 .07-.4 .07-.13 .07 .01 .07-.03 .07 .16 .07 .19 .07-.34 .07 .04 .07 .04 .07-.08 .07 .04 .07 .27 .07-.05 .07 .15 .07-.36 .07-.03 .07 .35 .07-.03 .07-.44 .07 .51 .07-.29 .07 .47 .07-.54 .07 .1 .07-.15 .07 .14 .07 .09 .07 .28 .07-.44 .07 .51 .07-.37 .07 .06 .07-.49 .07 .61 .07-.32 .07 .21 .07-.34 .07 .66 .07-.52 .07 .31 .07-.28 .07 .04 .07-.08 .07 .4 .07-.27 .07 .19 .07-.2 .07 .17 .07-.43 .07 .44 .07-.72 .07 .59 .07-.53 .07 .79 .07-.41 .07-.06 .07-.02 .07 .48 .07-.49 .07 .34 .07-.72 .07 .93 .07-.7 .01-.29 .06 1.1 .07-.94 .07 .51 .07-.8 .07 .94 .07-1 .07 1.01 .07-1 .07 .63 .07-.62 .07 .77 .07-.75 .07 .68 .07-.14 .07 .55 .07-1.56 0 1.38 .07-.19 .07-.24 .07 .6 .07-.51 .07 .12 .07-.47 .07 .77 .07-1.15 .07 .95 .07-.17 .07 .04 .07-.64 .07 .61 .07-.11 .07 .11 .05-1.92 .02 1.49 .07 .58 .07-1.7 .07 1.53 .07-.64 .07 1.03 .07-1.07 .07 .9 .07-2.18 .07 2.32 .07-2.97 .07 2.44 .07-.58 .03-2.26 .04 3.48 .07-1.37 .07 1.26 .07-2.12 .07 1.85 .07-.64 .07 .53 .07-.54 .07 .98 .07-2.11 .07 1.68 .07-2.31 .07 2.2 .01-3.66 .06 2.49 .07 1.1 .07-1.01 .07 .68 .07-3.26 .07 3.35 .07-1.88 .07 2.59 .07-4.16 .04-2.12 .03 4.95 .07-3.55 .07 4.84 .07-4.51 .07 4.04 .07-5.82 .07-2.17 0 8.3 .07-6.43 .07 5.58 .07-6.04 .07 5.95 .07-6.47 .07 7.68 .02-10.78 .05 7.07 .07 3.48 .07-3.43 .07 3.61 .07-6.47 .07 6.26 .04-11.19 .03 7.69 .07 3.55 .07-7.56 .07 6.82 .07-7.18 .07 7.77 .07-7 .07 4.91 .07-7.56 .07 6.95 .01-11.76 .06 6.1 .07 5.52 .07-7.2 .06-28.09 .01 32.57 .07-7.06 .07 3.89 .07-19.85 .07 22.46 .07-32.01 0 16.06 .07 21.81 .07-6.27 .07 5.49 .05-11.71 .02 8.77 .07 2.69 .07-6.08 .07 7.87 .07-9.05 .07 8.81 .07-6.51 .01-3.51 .06 8.5 .07-4.24 .07 4.96 .07-6.75 .07 6.4 .07-5.32 .03-2.48 .04 8.07 .07-1.95 .07 1.36 .07-1.46 .07 2.97 .07-5.16 .05-1.8 .02 5.63 .07-3.48 .07 4.57 .07-5.42 .07 4.49 .07-1.75 .07 2.67 .01-7.48 .06 4.15 .07 2.89 .07-4.3 .07 3.77 .07-1.38 .07 2.55 .03-8.01 .04 5.61 .07 2.47 .07-5.06 .07 2.82 .07-1.72 .07 2.44 .05-10.05 .02 6.27 .07 5.09 .07-2.86 .07 .57 .04-35.95 .03 17.38 .07 20.88 .07-16.97 .07 8.91 .07-20.66 .04-9.54 .03 36.66 .07-3.79 .07 5.35 .07-6.67 .03-3.45 .04 10.67 .07-6.53 .07 5.67 .07-1.91 .07 2.5 .07-2.87 .05-4.6 .02 5.62 .07-1.71 .07 1.79 .07-1.66 .07 3.44 .07-6.41 .07 6.47 .01-7.01 .06 2.53 .07 2.88 .07-.56 .07 2.31 .07-3.93 .07 3.49 .03-5.23 .04 1.89 .07 2.74 .07-2.06 .07 2.5 .07-1.31 .07 .94 .07-2.43 .07 3.03 .07-.61 .07-2.28 0 3.3 .07-.93 .07 .61 .07-.68 .07 .44 .07-.19 .07 .46 .02-1.65 .05 1.16 .07 .79 .07-.5 .07 .23 .07-.72 .07 .61 .07-.73 .07 .58 .07-.13 .05-.61 .02 .97 .07-.82 .07 1.08 .07-.64 .07 .66 .07-.57 .07 .1 .07-.38 .07 .47 .07 .17 .02-.73 .05 .48 .07 .03 .07 .35 .07-.66 .07 .39 .07-.53 .07 .89 .07-.46 .07 .35 .07-.5 .07 .57 .07-.59 .07 .12 .07-.39 .07 .53 .07-.12 .07 .15 .07 .05 .07 .19 .07-.38 .07 .41 .07-.68 .07 .18 .07 .34 .07 .17 .07-.34 .07 .28 .07-.65 .07 .44 .07 .09 .07-.24 .06-.38 .01 .52 .07 .36 .07-.77 .07 .13 .07 .06 .07 .3 .07-.28 .07 .41 .07-.59 .07 .11 .07-.25 .07 .71 .07-.18 .07-.15 .07-.03 .07-.02 .07-.05 .07 .52 .07-.51 .07 .01 .07-.14 .07 .55 .07-.49 .07 .14 .07-.21 .07 .21 .07 .07 .07 .16 .07-.1 .07 .18 .07-.46 .07 .11 .04-.34 .03-.16 .07 .79 .07-.99 .07 1.04 .07-1.4 .07 .84 .06-3.27 .01 2.5 .07 .64 .07-2.98 .07 2.34 .07-.93 .07 1.92 .07-2.37 .02-3.71 .05 5.74 .07-3.57 .07 2.75 .07-.71 .07 1.93 .07-3.79 .07 4.11 .07-3.03 .07 2.63 .07-2.51 .07 1.73 .07-2.31 .06-2.75 .01 4.98 .07-2.87 .07 3.99 .07-3.26 .07 2.85 .07-2.61 .07 2.95 .07-3.71 .07 3.22 .07-3.77 .07 4.32 .07-5.47 .07 3.99 .07-2.9 .07 2.86 .07-.64 .05-4.15 .02 6.19 .07-4.27 .07 4.35 .07-2.39 .07 2.14 .07-2.12 .07 1.81 .07-2.39 .07 2.84 .07-1.55 .02-1.15 .05 2.65 .07-1.16 .07 1.44 .07-1.15 .07 .91 .07-.91 .04 .08 .03 1.17 .07-.81 .07 .77 .07-.16 .07-.31 .07 .02 .07 .03 .07-.03 .07 .37 .07-.74 .01-.18 .06 .57 .07-.03 .07 .33 .07-.66 .07 .38 .07 0 .03-.5 .04 .77 .07-.26 .07 .29 .07-.27 .07-.08 .07-.65 .07 1.09 .07-.8 .07 .72 .07-.72 .07 .51 .07-.47 .07 .3 .07-.07 .07 .17 .07-.48 .02-1.29 .05 1.72 .07-.07 .07 .11 .07-.81 .07 1.07 .07-1.64 .07 1.57 .07-1.18 .07 1.15 .07-.31 .07 .25 .07-.26 .04-3.91 .03 3.99 .07-.95 .07 1.34 .07-3.08 .07 2.59 .07-.81 .07 .91 .05-3.99 .02 3.36 .07 1.01 .07-.3 .07 .53 .07-.97 .07 .79 .04-1.68 .03 1.35 .07 .22 .07-1.03 .07 1.12 .07-.91 .07 .83 .06-1.43 .01 1.11 .07 .01 .07-.16 .07 .46 .07-.76 .07 .54 .07-.31 .07 .37 .07-1.51 .07 1.76 .03-2.51 .04 1.69 .07 .35 .07-4.38 .07 4.48 .07-7.83 .07 5.74 .05-8.47 .02 7.02 .07 3.51 .07-11.53 .06-4.55 .01 14.61 .07-6.48 .07 6.93 .07-7.94 .07 8.63 .07-7.9 .07 8.8 .02-22.19 .05 8.21 .07 9.23 .07-4.49 .07 4.29 .07-4.1 .07 2.91 .04-22.59 .03 15.97 .07 9.1 .07-14.07 .07 10.78 .07-4.09 .07 3.31 .07-16.48 .07 16.34 .07-11.03 .07 13.95 0-25.99 .07 21.16 .07 5.76 .07-19.7 .07 20.93 .07-9.58 .07 9.63 .03-28.87 .04 10.01 .07 14.17 .07-14.95 .07 13.99 .07-29.35 .07 36.77 .05-41.28 .02 16.41 .07 22.11 .07-24.8 .07 20.83 .07-14.36 .07 20.88 .07-36.92 0-13.34 .07 42.89 .07-8.18 .07 13.75 .07-18.26 .07 17.87 .07-28.5 .03-21.55 .04 46.27 .07-9.64 .07 2.57 .07-22.25 .01-32.37 .06 63.08 .07-19.76 .07 20.01 .07-51.58 .07 47.85 .02-59.6 .05 43.89 .07 19.51 .07-8.76 .07 6.18 0-33.93 .07 11.99 .07 20.06 .07-17.84 .07 24.39 .07-15.25 .07 17.39 .03-37.82 .04 16.26 .07 18.14 .07-13.81 .07 10.36 .07-14.32 .07 18.58 .05-31.67 .02 20.33 .07 8.31 .07-11.52 .07 12.8 .07-12.3 .07 16.08 .07-12.78 0-15.37 .07 23.75 .07-8.13 .07 12.76 .07-12.15 .07 11.11 .07-7.76 .03-5.4 .04 14.73 .07-8.82 .07 8.41 .07-3.29 .07 2.04 .07-4.18 .05-1.91 .02 8.6 .07-5.82 .07 5.17 .07-4.35 .07 3.56 .07-2.96 .07 4.16 .07-3.86 .07 2.01 .07-3.76 .02-2.55 .05 8.41 .07-6.51 .07 6.33 .07-3.02 .07 2.61 .07-4.06 .04-3.38 .03 7.15 .07-3.74 .07 3.29 .07-1.77 .07 3.19 .07-2 .07 1.77 .07-2.83 .07 2.11 .07-.59 0-1.82 .07 2.58 .07-1.16 .07 1.74 .07-.73 .07 .88 .07-1.05 .03-.5 .04 1.34 .07-.87 .07 .97 .07-.9 .07 .6 .07-.32 .07 .89 .07-.51 .07 .26 .07-.9 .07 .79 .07-1 .07 1.09 0-2.13 .07 .5 .07 1.33 .07-.1 .07 .39 .07-1.55 .07 1.23 .07-1.83 .07 2.37 .07-1.24 .04-1.97 .03 3.05 .07-1 .07 .84 .07-1.04 .07 1.33 .07-.69 .06-.76 .01 1.03 .07-.91 .07 1.05 .07-.11 .07 .15 .07-.6 .07 .64 .02-.76 .05 .38 .07 .51 .07-.47 .07 .3 .07-.54 .07 .29 .07 .03 .07-.01 .07-.07 .07 .43 .07-.68 .07 .67 .07-.7 .07 .72 .07-.04 .07-.36 .07 0 .07-.02 .07-.25 .07 .34 .07-.18 .07 .53 .07-.45 .07 .41 .07-.13 .07-.12 .07 .07 .07 .4 .07-.61 .07 .12 .07 .12 .07 .29 .07-.5 .07 .41 .07-.01 .07 .22 .07-.63 .07 .23 .07-.28 .07 .13 .07-.1 .07 .42 .07-.17 .07 .08 .04-.34 .03 .37 .07-.29 .07 .08 .07 .46 .07-.58 .07 .13 .07-.15 .07 .26 .07-.08 .07-.13 .07 .23 .07-.27 .07 .27 .07 0 .07-.24 .07 .18 .07-.16 .07 .02 .07 .1 .07 .41 .07-.34 .07 .06 .07-.32 .07 .57 .07-.37 .07 .26 .07-.42 .07 .4 .07-.03 .07-.25 .07 .01 .07 .09 .07 .05 .07 .03 .07-.04 .07 .15 .07-.16 .07-.03 .07-.01 .07-.05 .07-.12 .07 .09 .07-.15 .07 0 .07 .18 .07 .43 .07-.26 .07 .07 .07-.25 .07 .29 .07-.35 .07 .23 .07-.36 .07 .59 .07-.36 .07 .03 .07 .06 .07 .25 .07-.44 .07 .47 .07-.61 .07 .44 .07-.39 .06-.05 .01 .43 .07-.26 .07 .44 .07-.43 .07 .4 .07-.39 .07 .02 .07 .04 .07-.04 .07 .07 .07-.09 .07-.18 .07 .38 .07-.18 .07 .24 .07-.43 .07 .42 .07 0 .07-.04 .07-.03 .07-.34 .07-.08 .07 .11 .07-.18 .07 .67 .07-.7 .07 .74 .07-.43 .07 .43 .07-.62 .07 .45 .07-.53 .07 .65 .07-.24 .07-.07 .07-.03 .07 .1 .07-.29 .07 .27 .07-.24 .07 .57 .07-.59 .07 .26 .07-.48 .07 .54 .07-.48 .07 .7 .07-.78 .07 .55 .07-.34 .07 .22 .07 .05 .07 .29 .07-.37 .07 .22 .07-.18 .07-.08 .07-.5 .07 .88 .07-.67 .07 .29 .07-.37 .07 .31 .07-.25 .01-.27 .06 .63 .07-.55 .07 .38 .07 .1 .07-.06 .07-.56 .07 .83 .07-.79 .07 .55 .05-1.97 .02 .56 .07 1.61 .07-1.65 .07 1.36 .07-1.58 .07 1.61 .07-3.35 0 1.79 .07 1.72 .07-2.36 .07 2.52 .07-1.33 .07 1.31 .07-1.03 .07 .7 .07-1.5 .07 1.63 .04-2.59 .03 .92 .07 1.64 .07-.58 .07 1.12 .07-2.08 .07 1.55 .06-2.32 .01 .31 .07 2.54 .07-2.29 .07 1.75 .07-1.42 .07 1.4 .07-1.65 .07 1.7 .07-2.23 .07 2.2 .03-4.44 .04 3.55 .07 1.02 .07-3.24 .07 3.12 .07-3.46 .07 3.23 .05-5.06 .02 3.92 .07 1.07 .07-1.97 .07 2.29 .07-3.5 .07 3.44 .07-1.91 .07 1.45 .07-4.19 .07 3.71 .01-5.57 .06 1.82 .07 3.82 .07-3.4 .07-11.75 0 13.46 .07-6.8 .07 7.76 .07-5.46 .07 6.49 .07-6.53 .07 6.46 .01-15.38 .06 9.46 .07 6.39 .07-7.55 .07 5.71 .07-4.94 .07-7.92 0 10.91 .07-10.13 .07 10.6 .07-8.42 .07 11.07 .07-6.39 .07 7.35 .03-14.59 .04 6.62 .07 7.83 .07-6.11 .07 6.15 .07-12.24 .07 11.79 .05-17.48 .02 5.86 .07 10.97 .07-6.34 .07 5.27 .07-4.1 .07 6.53 .07-21.31 0 4.56 .07 11.2 .07-.69 .07 5.8 .07-11.91 .07 12.28 .07-14 .03-8.31 .04 22.36 .07-17.79 .07 13.82 .07-14.33 .01-11.28 .06 24.41 .07-7.56 .07 10.68 .07-12.62 .07 12.92 .02-27.83 .05 9.77 .07 16.61 .07-16.61 .07-8.62 0 24.08 .07-13.63 .07 12.76 .07-2.52 .07 1.64 .07-7.09 .07 6.89 .03-21.53 .04 11.59 .07 12.03 .07-13.25 .07 14.47 .07-12.03 .07 11.26 .05-23.7 .02 10.42 .07 11.94 .07-5 .07 4.94 .07-9.33 .07 10.31 .07-23.12 0 16.36 .07 10.45 .07-13.48 .07 9.18 .07-1.44 .07 5.67 .07-4.93 .02-6.32 .05 10.68 .07-1.5 .07 1.86 .07-1.21 .07 1.53 .07-.63 .05-1.24 .02 2.38 .07-.54 .07 .69 .07-1.32 .07 .83 .07-.89 .07 .84 .07-.58 .07 .72 .07-.11 .01-1.29 .06 1.57 .07-.74 .07 .72 .07 0 .07 .33 .07-.57 .04-.49 .03 .89 .07-.46 .07 .38 .07-.35 .07 .5 .07-.76 .07 .48 .07-.21 .07 .49 .07-.61 .07 .74 .07-.63 .07 .46 .07-.68 .07 .2 .07 .08 .07 .56 .07-.75 .07 .46 .07-.45 .07 .3 .07-.27 .07 .57 .07-.32 .07 .27 .07-.12 .07 .29 .07-.57 .07 .33 .07-.33 .07 .15 .07-.15 .07 .54 .07-.44 .07 .14 .07 .05 .07-.25 .07-.02 .07 .24 .07-.26 .07 .01 .07 .27 .07-.13 .07 .26 .07-.39 .07 .4 .07-.41 .07-.06 0 .27 .07 .16 .07-.21 .07 .44 .07-.48 .07 .05 .07-.14 .07-.01 .07-.08 .07 .25 .07-.21 .07 .42 .07-.34 .07 .39 .07-.23 .07-.21 .07 .1 .07 .02 .07 .11 .07-.14 .07 .02 .07 .12 .07-.05 .07-.2 .07 .17 .07-.14 .07-.05 .07 .25 .07-.09 .07-.05 .07 .26 .07 .19 .07-.38 .07 .37 .07-.54 .07 .62 .07-.47 .07 .45 .07-.63 .07 .14 .07 .11 .07 .32 .07-.48 .07 .4 .07-.3 .07 .01 .07 .08 .07-.29 .07 .2 .07-.01 .07-.01 .07 .32 .07-.27 .07-.12 .07-.01 .07-.02 .07-.01 .07 .1 .07 .23 .07-.26 .07-.14 .07 .42 .07 .06 .07-.33 .07 .3 .07 .18 .07-.49 .07-.08 .07 .32 .07 .24 .07-.62 .07 .18 .07-.11 .07 .09 .07 .14 .07-.21 .07-.04 .07 .11 .07-.16 .07 .66 .01-.66 .06 .05 .07 .31 .07 .09 .07-.25 .07-.24 .07 .25 .07-.23 .07 .35 .07-.32 .07 .15 .07-.05 .07 .16 .07-.11 .07 .31 .07-.45 .07 .35 .07-.16 .07 .1 .07 .03 .07 .02 .07-.34 .07 .11 .07 .03 .07-.08 .07 .04 .07 .07 .07-.11 .07 .4 .07-.48 .07 .31 .07 .12 .07-.05 .07-.5 .07 .49 .07-.51 .07 .18 .07 .06 .07 .28 .07-.28 .07 .36 .07-.77 .07 .8 .07-.43 .07 .25 .07-.7 .07 .42 .07 .24 .05-.71 .02 .95 .07-.71 .07 .48 .07-.92 .07 1.06 .07-.36 .07 .28 .07-.35 .07 .04 .07-.43 .01-.95 .06 1.57 .07-1.05 .07 .96 .07-1.35 .07 1.54 .07-1.04 .03-1.49 .04 2.83 .07-1.79 .07 1.52 .07-1.56 .07 1.5 .07-1.35 .07 1.41 .07-1.3 .07 1.38 .07-2.35 0 .48 .07 1.95 .07-.77 .07 .26 .07-.73 .07 .91 .07-.86 .02-1.09 .05 1.82 .07-.1 .07 .14 .07-.53 .07 .59 .07-1.29 .07 1.55 .07-1.14 .07 .9 .06-2.63 .01 1.85 .07 1.2 .07-2.4 .07 2.03 .07-2.65 .07 2.39 .07-1.17 .07 1.25 .07-1.73 .07 1.83 .02-3.46 .05 1.51 .07 1.91 .07-1.24 .07 1.13 .07-1.73 .07 2.32 .07-1.82 .07 1.49 .07-.64 .06-.63 .01 1.12 .07-.66 .07 .85 .07-.59 .07 .67 .07-.83 .07 .49 .01-.47 .06 .44 .07 .11 .07 .06 .07 0 .07-.31 .07 .41 .07-.55 .07 .3 .07-.07 .07 .51 .07-.44 .07 .22 .06-.77 .01 .48 .07 .68 .07-1.17 .07 .73 .07-.41 .07 .64 .07-.93 .07 .77 .07-.63 .07 .49 .07-.7 .07 .77 .07-.7 .07 .72 .07-.44 .07 .25 .05-.79 .02 .67 .07 .23 .07-.66 .07 .89 .07-1.23 .07 1.17 .07-2.25 0 1.69 .07 .45 .07-1.33 .07 1.22 .06-3.18 .01 1.49 .07 1.68 .07-2.38 .07 2.23 .07-2.66 .06-.36 .01 3.19 .07-.21 .07 .76 .07-.64 .05-.6 .02 .93 .07-.61 .07 .55 .07-.33 .07 .06 .07-.06 .07-.38 0 .64 .07-.18 .07 .04 .07-.02 .07 .42 .07-.67 .07 .71 .07-.46 .07 .46 .07-.51 .07 .31 .07-.34 .07 .37 .07-.63 .07 .81 .07-.44 .07 .03 .07-.4 .07 .66 .07-.44 .07 .6 .07-.76 .07 .79 .01-.99 .06 .49 .07 .48 .07-.96 .07 1.08 .07-.59 .07 .31 .07-.11 .07 .29 .07-.59 .07 .69 .07-.91 .07 .62 .07-.67 .07 .94 .07-.88 .07 .57 .07-.51 .07 .42 .07-.68 .07 .83 .07-.75 .07 .45 .07-.83 .07 1.22 .07-1 .07 .89 .07-.24 .07-.05 .07-.34 .07 .61 .07-.83 .06-.42 .01 1.27 .07-.51 .07 .48 .07-.27 .07 .46 .07-.7 .07 .18 .07-.73 .07 1.17 .07-.8 .02-1.28 .05 1.92 .07-.15 .07 .19 .07-.22 .07 .06 .07-1.47 .07 1.33 .07-1.65 .07 1.66 .06-1.8 .01 1.2 .07 .57 .07-1.42 .07 1.6 .07-2.25 .07 1.87 .07-2.5 .07 3.02 .07-3.74 .07 3.62 .02-4.01 .05 .25 .07 2.91 .07-2.2 .07 3.22 .01-5.91 .06 2.19 .07 3.76 .07-2.59 .07 1.62 .07-.7 .01-4.28 .06 5.92 .07-.33 .07 .26 .07-1.28 0 1.16 .07-.19 .07-.69 .07 .83 .07-.14 .07 .39 .07-.8 .02-.1 .05 1.13 .07-.94 .07 .87 .07-.41" stroke="#000" stroke-width="1.05" fill="none" stroke-linejoin="round"/>
<rect x="428.65" y="265.4" width="334.9" height="75.9" fill="none" stroke="#333" stroke-width="0.75"/>
<rect x="428.65" y="244.55" width="334.9" height="20.85" fill="#d9d9d9" stroke="#333" stroke-width="0.75"/>
<text x="596.1" y="260.05" text-anchor="middle" font-size="14.45" fill="#1a1a1a">Pantanal</text>
<path d="M425.75 338.25H428.65M425.75 319.25H428.65M425.75 300.25H428.65M425.75 281.25H428.65M469.24 341.3V344.2M519.99 341.3V344.2M570.73 341.3V344.2M621.47 341.3V344.2M672.21 341.3V344.2M722.96 341.3V344.2" stroke="#444" stroke-width="0.95" fill="none"/>
<text x="423.85" y="343.15" text-anchor="end" font-size="14.4" fill="#4d4d4d">0</text>
<text x="423.85" y="324.15" text-anchor="end" font-size="14.4" fill="#4d4d4d">300</text>
<text x="423.85" y="305.15" text-anchor="end" font-size="14.4" fill="#4d4d4d">600</text>
<text x="423.85" y="286.15" text-anchor="end" font-size="14.4" fill="#4d4d4d">900</text>
<text x="469.24" y="356.65" text-anchor="middle" font-size="14.4" fill="#4d4d4d">2012</text>
<text x="519.99" y="356.65" text-anchor="middle" font-size="14.4" fill="#4d4d4d">2014</text>
<text x="570.73" y="356.65" text-anchor="middle" font-size="14.4" fill="#4d4d4d">2016</text>
<text x="621.47" y="356.65" text-anchor="middle" font-size="14.4" fill="#4d4d4d">2018</text>
<text x="672.21" y="356.65" text-anchor="middle" font-size="14.4" fill="#4d4d4d">2020</text>
<text x="722.96" y="356.65" text-anchor="middle" font-size="14.4" fill="#4d4d4d">2022</text>
</g>
<text x="411.8" y="375.1" text-anchor="middle" font-size="18" fill="#000">Years</text>
<text transform="translate(17.2 183.5) rotate(-90)" text-anchor="middle" font-size="18" fill="#000">Fire Spots</text>
</svg>
</body></html>
